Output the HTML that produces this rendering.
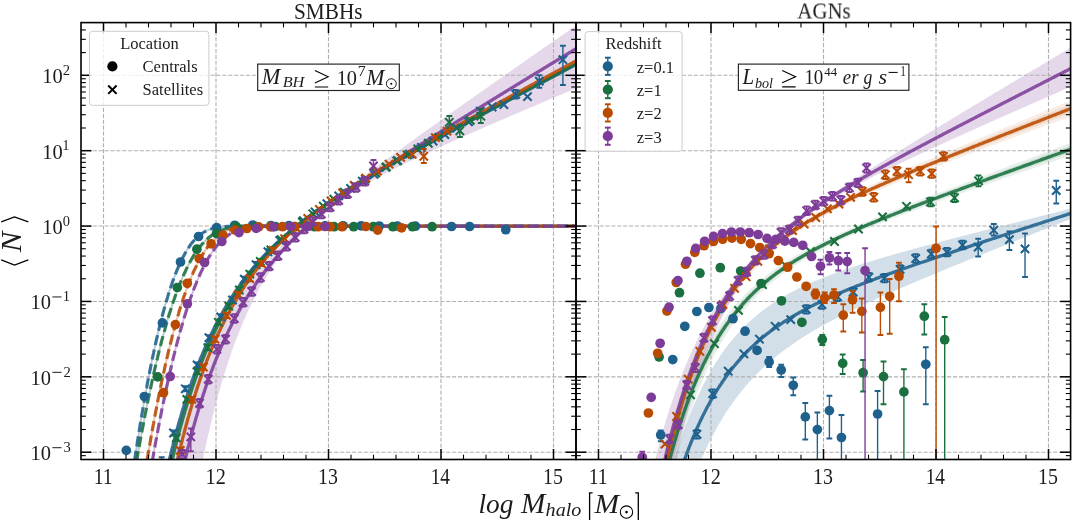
<!DOCTYPE html>
<html><head><meta charset="utf-8"><style>
html,body{margin:0;padding:0;background:#fff;}
body{width:1075px;height:520px;overflow:hidden;font-family:"Liberation Serif", serif;}
svg{display:block;will-change:transform;}
</style></head><body><svg width="1075" height="520" viewBox="0 0 1075 520"><svg x="81.0" y="22.6" width="495.00" height="436.90" viewBox="81.0 22.6 495.00 436.90" overflow="hidden"><path d="M150.0,540.3 L151.4,533.1 L152.8,526.0 L154.3,519.1 L155.7,512.4 L157.1,505.8 L158.5,499.4 L160.0,493.2 L161.4,487.1 L162.8,481.1 L164.2,475.3 L165.7,469.6 L167.1,464.1 L168.5,458.7 L169.9,453.4 L171.4,448.3 L172.8,443.2 L174.2,438.3 L175.6,433.5 L177.1,428.8 L178.5,424.2 L179.9,419.7 L181.3,415.4 L182.8,411.1 L184.2,406.9 L185.6,402.8 L187.0,398.8 L188.5,394.8 L189.9,391.0 L191.3,387.2 L192.7,383.6 L194.2,380.0 L195.6,376.4 L197.0,373.0 L198.4,369.6 L199.9,366.3 L201.3,363.0 L202.7,359.8 L204.1,356.7 L205.6,353.7 L207.0,350.7 L208.4,347.7 L209.8,344.8 L211.3,342.0 L212.7,339.2 L214.1,336.5 L215.5,333.8 L217.0,331.2 L218.4,328.6 L219.8,326.1 L221.2,323.6 L222.7,321.1 L224.1,318.7 L225.5,316.3 L226.9,314.0 L228.4,311.7 L229.8,309.5 L231.2,307.2 L232.6,305.1 L234.1,302.9 L235.5,300.8 L236.9,298.7 L238.3,296.7 L239.8,294.7 L241.2,292.7 L242.6,290.7 L244.0,288.8 L245.5,286.9 L246.9,285.0 L248.3,283.1 L249.7,281.3 L251.2,279.5 L252.6,277.7 L254.0,275.9 L255.4,274.2 L256.9,272.5 L258.3,270.8 L259.7,269.1 L261.1,267.5 L262.6,265.8 L264.0,264.2 L265.4,262.6 L266.8,261.0 L268.3,259.4 L269.7,257.9 L271.1,256.4 L272.5,254.8 L274.0,253.3 L275.4,251.9 L276.8,250.4 L278.2,248.9 L279.7,247.5 L281.1,246.0 L282.5,244.6 L283.9,243.2 L285.4,241.8 L286.8,240.4 L288.2,239.0 L289.6,237.7 L291.1,236.3 L292.5,235.0 L293.9,233.7 L295.3,232.3 L296.7,231.0 L298.2,229.7 L299.6,228.4 L301.0,227.1 L302.4,225.9 L303.9,224.6 L305.3,223.3 L306.7,222.1 L308.1,220.8 L309.6,219.6 L311.0,218.3 L312.4,217.1 L313.8,215.9 L315.3,214.7 L316.7,213.5 L318.1,212.3 L319.5,211.1 L321.0,209.9 L322.4,208.7 L323.8,207.5 L325.2,206.4 L326.7,205.2 L328.1,204.0 L329.5,202.9 L330.9,201.7 L332.4,200.6 L333.8,199.4 L335.2,198.3 L336.6,197.2 L338.1,196.0 L339.5,194.9 L340.9,193.8 L342.3,192.7 L343.8,191.5 L345.2,190.4 L346.6,189.3 L348.0,188.2 L349.5,187.1 L350.9,186.0 L352.3,184.9 L353.7,183.8 L355.2,182.7 L356.6,181.6 L358.0,180.6 L359.4,179.5 L360.9,178.4 L362.3,177.3 L363.7,176.2 L365.1,175.2 L366.6,174.1 L368.0,173.0 L369.4,172.0 L370.8,170.9 L372.3,169.8 L373.7,168.8 L375.1,167.7 L376.5,166.7 L378.0,165.6 L379.4,164.6 L380.8,163.5 L382.2,162.5 L383.7,161.4 L385.1,160.4 L386.5,159.3 L387.9,158.3 L389.4,157.2 L390.8,156.2 L392.2,155.1 L393.6,154.1 L395.1,153.1 L396.5,152.0 L397.9,151.0 L399.3,150.0 L400.8,148.9 L402.2,147.9 L403.6,146.9 L405.0,145.9 L406.5,144.8 L407.9,143.8 L409.3,142.8 L410.7,141.7 L412.2,140.7 L413.6,139.7 L415.0,138.7 L416.4,137.7 L417.9,136.6 L419.3,135.6 L420.7,134.6 L422.1,133.6 L423.6,132.6 L425.0,131.5 L426.4,130.5 L427.8,129.5 L429.3,128.5 L430.7,127.5 L432.1,126.5 L433.5,125.5 L434.9,124.4 L436.4,123.4 L437.8,122.4 L439.2,121.4 L440.6,120.4 L442.1,119.4 L443.5,118.4 L444.9,117.4 L446.3,116.4 L447.8,115.3 L449.2,114.3 L450.6,113.3 L452.0,112.3 L453.5,111.3 L454.9,110.3 L456.3,109.3 L457.7,108.3 L459.2,107.3 L460.6,106.3 L462.0,105.3 L463.4,104.3 L464.9,103.3 L466.3,102.3 L467.7,101.3 L469.1,100.3 L470.6,99.3 L472.0,98.3 L473.4,97.3 L474.8,96.3 L476.3,95.2 L477.7,94.2 L479.1,93.2 L480.5,92.2 L482.0,91.2 L483.4,90.2 L484.8,89.2 L486.2,88.2 L487.7,87.2 L489.1,86.2 L490.5,85.2 L491.9,84.2 L493.4,83.2 L494.8,82.2 L496.2,81.2 L497.6,80.2 L499.1,79.2 L500.5,78.2 L501.9,77.2 L503.3,76.2 L504.8,75.2 L506.2,74.3 L507.6,73.3 L509.0,72.3 L510.5,71.3 L511.9,70.3 L513.3,69.3 L514.7,68.3 L516.2,67.3 L517.6,66.3 L519.0,65.3 L520.4,64.3 L521.9,63.3 L523.3,62.3 L524.7,61.3 L526.1,60.3 L527.6,59.3 L529.0,58.3 L530.4,57.3 L531.8,56.3 L533.3,55.3 L534.7,54.3 L536.1,53.3 L537.5,52.3 L539.0,51.3 L540.4,50.3 L541.8,49.3 L543.2,48.3 L544.7,47.3 L546.1,46.3 L547.5,45.3 L548.9,44.3 L550.4,43.3 L551.8,42.4 L553.2,41.4 L554.6,40.4 L556.1,39.4 L557.5,38.4 L558.9,37.4 L560.3,36.4 L561.8,35.4 L563.2,34.4 L564.6,33.4 L566.0,32.4 L567.5,31.4 L568.9,30.4 L570.3,29.4 L571.7,28.4 L573.2,27.4 L574.6,26.4 L576.0,25.4 L576.0,88.3 L574.6,88.9 L573.2,89.5 L571.7,90.1 L570.3,90.7 L568.9,91.3 L567.5,91.9 L566.0,92.5 L564.6,93.1 L563.2,93.7 L561.8,94.3 L560.3,94.9 L558.9,95.5 L557.5,96.1 L556.1,96.7 L554.6,97.3 L553.2,97.9 L551.8,98.5 L550.4,99.1 L548.9,99.7 L547.5,100.3 L546.1,100.9 L544.7,101.5 L543.2,102.1 L541.8,102.8 L540.4,103.4 L539.0,104.0 L537.5,104.6 L536.1,105.2 L534.7,105.8 L533.3,106.4 L531.8,107.0 L530.4,107.6 L529.0,108.2 L527.6,108.8 L526.1,109.4 L524.7,110.0 L523.3,110.6 L521.9,111.2 L520.4,111.9 L519.0,112.5 L517.6,113.1 L516.2,113.7 L514.7,114.3 L513.3,114.9 L511.9,115.5 L510.5,116.1 L509.0,116.7 L507.6,117.3 L506.2,118.0 L504.8,118.6 L503.3,119.2 L501.9,119.8 L500.5,120.4 L499.1,121.0 L497.6,121.6 L496.2,122.3 L494.8,122.9 L493.4,123.5 L491.9,124.1 L490.5,124.7 L489.1,125.3 L487.7,126.0 L486.2,126.6 L484.8,127.2 L483.4,127.8 L482.0,128.4 L480.5,129.0 L479.1,129.7 L477.7,130.3 L476.3,130.9 L474.8,131.5 L473.4,132.2 L472.0,132.8 L470.6,133.4 L469.1,134.0 L467.7,134.7 L466.3,135.3 L464.9,135.9 L463.4,136.5 L462.0,137.2 L460.6,137.8 L459.2,138.4 L457.7,139.1 L456.3,139.7 L454.9,140.3 L453.5,141.0 L452.0,141.6 L450.6,142.2 L449.2,142.9 L447.8,143.5 L446.3,144.2 L444.9,144.8 L443.5,145.5 L442.1,146.1 L440.6,146.7 L439.2,147.4 L437.8,148.0 L436.4,148.7 L434.9,149.4 L433.5,150.0 L432.1,150.7 L430.7,151.3 L429.3,152.0 L427.8,152.6 L426.4,153.3 L425.0,154.0 L423.6,154.6 L422.1,155.3 L420.7,156.0 L419.3,156.6 L417.9,157.3 L416.4,158.0 L415.0,158.7 L413.6,159.4 L412.2,160.0 L410.7,160.7 L409.3,161.4 L407.9,162.1 L406.5,162.8 L405.0,163.5 L403.6,164.2 L402.2,164.9 L400.8,165.6 L399.3,166.3 L397.9,167.0 L396.5,167.8 L395.1,168.5 L393.6,169.2 L392.2,169.9 L390.8,170.7 L389.4,171.4 L387.9,172.1 L386.5,172.9 L385.1,173.6 L383.7,174.4 L382.2,175.1 L380.8,175.9 L379.4,176.7 L378.0,177.4 L376.5,178.2 L375.1,179.0 L373.7,179.8 L372.3,180.6 L370.8,181.4 L369.4,182.2 L368.0,183.0 L366.6,183.8 L365.1,184.6 L363.7,185.4 L362.3,186.3 L360.9,187.1 L359.4,188.0 L358.0,188.8 L356.6,189.7 L355.2,190.5 L353.7,191.4 L352.3,192.3 L350.9,193.2 L349.5,194.1 L348.0,195.0 L346.6,196.0 L345.2,196.9 L343.8,197.8 L342.3,198.8 L340.9,199.8 L339.5,200.7 L338.1,201.7 L336.6,202.7 L335.2,203.7 L333.8,204.7 L332.4,205.8 L330.9,206.8 L329.5,207.9 L328.1,209.0 L326.7,210.0 L325.2,211.1 L323.8,212.3 L322.4,213.4 L321.0,214.5 L319.5,215.7 L318.1,216.9 L316.7,218.1 L315.3,219.3 L313.8,220.5 L312.4,221.8 L311.0,223.1 L309.6,224.4 L308.1,225.7 L306.7,227.0 L305.3,228.4 L303.9,229.7 L302.4,231.1 L301.0,232.6 L299.6,234.0 L298.2,235.5 L296.7,237.0 L295.3,238.5 L293.9,240.1 L292.5,241.7 L291.1,243.3 L289.6,244.9 L288.2,246.6 L286.8,248.3 L285.4,250.0 L283.9,251.8 L282.5,253.6 L281.1,255.4 L279.7,257.3 L278.2,259.2 L276.8,261.2 L275.4,263.2 L274.0,265.2 L272.5,267.3 L271.1,269.4 L269.7,271.6 L268.3,273.8 L266.8,276.1 L265.4,278.4 L264.0,280.7 L262.6,283.2 L261.1,285.6 L259.7,288.1 L258.3,290.7 L256.9,293.4 L255.4,296.1 L254.0,298.8 L252.6,301.6 L251.2,304.5 L249.7,307.5 L248.3,310.5 L246.9,313.6 L245.5,316.8 L244.0,320.0 L242.6,323.4 L241.2,326.8 L239.8,330.3 L238.3,333.9 L236.9,337.5 L235.5,341.3 L234.1,345.1 L232.6,349.1 L231.2,353.1 L229.8,357.3 L228.4,361.5 L226.9,365.9 L225.5,370.4 L224.1,374.9 L222.7,379.6 L221.2,384.5 L219.8,389.4 L218.4,394.5 L217.0,399.7 L215.5,405.1 L214.1,410.5 L212.7,416.2 L211.3,422.0 L209.8,427.9 L208.4,434.0 L207.0,440.3 L205.6,446.7 L204.1,453.3 L202.7,460.1 L201.3,467.0 L199.9,474.2 L198.4,481.5 L197.0,489.0 L195.6,496.8 L194.2,504.7 L192.7,512.9 L191.3,521.3 L189.9,529.9 L188.5,538.8 L187.0,547.9 L185.6,557.3 L184.2,566.9 L182.8,576.8 L181.3,586.9 L179.9,597.4 L178.5,600.0 L177.1,600.0 L175.6,600.0 L174.2,600.0 L172.8,600.0 L171.4,600.0 L169.9,600.0 L168.5,600.0 L167.1,600.0 L165.7,600.0 L164.2,600.0 L162.8,600.0 L161.4,600.0 L160.0,600.0 L158.5,600.0 L157.1,600.0 L155.7,600.0 L154.3,600.0 L152.8,600.0 L151.4,600.0 L150.0,600.0 Z" fill="#7d3c98" fill-opacity="0.2"/></svg><svg x="576.0" y="22.6" width="494.60" height="436.90" viewBox="576.0 22.6 494.60 436.90" overflow="hidden"><path d="M650.0,565.4 L651.4,557.9 L652.8,550.6 L654.2,543.5 L655.6,536.6 L657.0,529.9 L658.4,523.3 L659.9,517.0 L661.3,510.8 L662.7,504.7 L664.1,498.9 L665.5,493.1 L666.9,487.6 L668.3,482.2 L669.7,476.9 L671.1,471.8 L672.5,466.8 L673.9,461.9 L675.3,457.2 L676.8,452.6 L678.2,448.1 L679.6,443.7 L681.0,439.4 L682.4,435.3 L683.8,431.3 L685.2,427.3 L686.6,423.5 L688.0,419.8 L689.4,416.1 L690.8,412.6 L692.2,409.1 L693.6,405.8 L695.1,402.5 L696.5,399.3 L697.9,396.2 L699.3,393.1 L700.7,390.2 L702.1,387.3 L703.5,384.5 L704.9,381.7 L706.3,379.1 L707.7,376.5 L709.1,373.9 L710.5,371.4 L712.0,369.0 L713.4,366.6 L714.8,364.3 L716.2,362.1 L717.6,359.9 L719.0,357.7 L720.4,355.6 L721.8,353.6 L723.2,351.6 L724.6,349.6 L726.0,347.7 L727.4,345.9 L728.8,344.1 L730.3,342.3 L731.7,340.6 L733.1,338.9 L734.5,337.2 L735.9,335.6 L737.3,334.0 L738.7,332.4 L740.1,330.9 L741.5,329.4 L742.9,328.0 L744.3,326.6 L745.7,325.2 L747.2,323.8 L748.6,322.5 L750.0,321.2 L751.4,319.9 L752.8,318.7 L754.2,317.4 L755.6,316.2 L757.0,315.1 L758.4,313.9 L759.8,312.8 L761.2,311.7 L762.6,310.6 L764.1,309.5 L765.5,308.5 L766.9,307.5 L768.3,306.5 L769.7,305.5 L771.1,304.5 L772.5,303.5 L773.9,302.6 L775.3,301.7 L776.7,300.8 L778.1,299.9 L779.5,299.0 L780.9,298.2 L782.4,297.3 L783.8,296.5 L785.2,295.7 L786.6,294.9 L788.0,294.1 L789.4,293.3 L790.8,292.6 L792.2,291.8 L793.6,291.1 L795.0,290.3 L796.4,289.6 L797.8,288.9 L799.3,288.2 L800.7,287.5 L802.1,286.9 L803.5,286.2 L804.9,285.5 L806.3,284.9 L807.7,284.2 L809.1,283.6 L810.5,283.0 L811.9,282.3 L813.3,281.7 L814.7,281.1 L816.1,280.5 L817.6,279.9 L819.0,279.4 L820.4,278.8 L821.8,278.2 L823.2,277.6 L824.6,277.1 L826.0,276.5 L827.4,276.0 L828.8,275.4 L830.2,274.9 L831.6,274.4 L833.0,273.9 L834.5,273.3 L835.9,272.8 L837.3,272.3 L838.7,271.8 L840.1,271.3 L841.5,270.8 L842.9,270.3 L844.3,269.8 L845.7,269.3 L847.1,268.9 L848.5,268.4 L849.9,267.9 L851.3,267.4 L852.8,267.0 L854.2,266.5 L855.6,266.0 L857.0,265.6 L858.4,265.1 L859.8,264.7 L861.2,264.2 L862.6,263.8 L864.0,263.3 L865.4,262.9 L866.8,262.5 L868.2,262.0 L869.7,261.6 L871.1,261.2 L872.5,260.7 L873.9,260.3 L875.3,259.9 L876.7,259.5 L878.1,259.0 L879.5,258.6 L880.9,258.2 L882.3,257.8 L883.7,257.4 L885.1,257.0 L886.5,256.5 L888.0,256.1 L889.4,255.7 L890.8,255.3 L892.2,254.9 L893.6,254.5 L895.0,254.1 L896.4,253.7 L897.8,253.3 L899.2,252.9 L900.6,252.5 L902.0,252.1 L903.4,251.7 L904.9,251.4 L906.3,251.0 L907.7,250.6 L909.1,250.2 L910.5,249.8 L911.9,249.4 L913.3,249.0 L914.7,248.6 L916.1,248.3 L917.5,247.9 L918.9,247.5 L920.3,247.1 L921.7,246.7 L923.2,246.4 L924.6,246.0 L926.0,245.6 L927.4,245.2 L928.8,244.9 L930.2,244.5 L931.6,244.1 L933.0,243.7 L934.4,243.4 L935.8,243.0 L937.2,242.6 L938.6,242.2 L940.1,241.9 L941.5,241.5 L942.9,241.1 L944.3,240.8 L945.7,240.4 L947.1,240.0 L948.5,239.7 L949.9,239.3 L951.3,238.9 L952.7,238.6 L954.1,238.2 L955.5,237.8 L956.9,237.5 L958.4,237.1 L959.8,236.7 L961.2,236.4 L962.6,236.0 L964.0,235.6 L965.4,235.3 L966.8,234.9 L968.2,234.5 L969.6,234.2 L971.0,233.8 L972.4,233.5 L973.8,233.1 L975.3,232.7 L976.7,232.4 L978.1,232.0 L979.5,231.7 L980.9,231.3 L982.3,230.9 L983.7,230.6 L985.1,230.2 L986.5,229.9 L987.9,229.5 L989.3,229.1 L990.7,228.8 L992.2,228.4 L993.6,228.1 L995.0,227.7 L996.4,227.4 L997.8,227.0 L999.2,226.6 L1000.6,226.3 L1002.0,225.9 L1003.4,225.6 L1004.8,225.2 L1006.2,224.9 L1007.6,224.5 L1009.0,224.1 L1010.5,223.8 L1011.9,223.4 L1013.3,223.1 L1014.7,222.7 L1016.1,222.4 L1017.5,222.0 L1018.9,221.7 L1020.3,221.3 L1021.7,220.9 L1023.1,220.6 L1024.5,220.2 L1025.9,219.9 L1027.4,219.5 L1028.8,219.2 L1030.2,218.8 L1031.6,218.5 L1033.0,218.1 L1034.4,217.8 L1035.8,217.4 L1037.2,217.0 L1038.6,216.7 L1040.0,216.3 L1041.4,216.0 L1042.8,215.6 L1044.2,215.3 L1045.7,214.9 L1047.1,214.6 L1048.5,214.2 L1049.9,213.9 L1051.3,213.5 L1052.7,213.2 L1054.1,212.8 L1055.5,212.4 L1056.9,212.1 L1058.3,211.7 L1059.7,211.4 L1061.1,211.0 L1062.6,210.7 L1064.0,210.3 L1065.4,210.0 L1066.8,209.6 L1068.2,209.3 L1069.6,208.9 L1071.0,208.6 L1071.0,218.7 L1069.6,219.3 L1068.2,219.9 L1066.8,220.4 L1065.4,221.0 L1064.0,221.6 L1062.6,222.1 L1061.1,222.7 L1059.7,223.2 L1058.3,223.8 L1056.9,224.4 L1055.5,224.9 L1054.1,225.5 L1052.7,226.1 L1051.3,226.6 L1049.9,227.2 L1048.5,227.8 L1047.1,228.3 L1045.7,228.9 L1044.2,229.4 L1042.8,230.0 L1041.4,230.6 L1040.0,231.1 L1038.6,231.7 L1037.2,232.3 L1035.8,232.8 L1034.4,233.4 L1033.0,234.0 L1031.6,234.5 L1030.2,235.1 L1028.8,235.7 L1027.4,236.2 L1025.9,236.8 L1024.5,237.3 L1023.1,237.9 L1021.7,238.5 L1020.3,239.0 L1018.9,239.6 L1017.5,240.2 L1016.1,240.7 L1014.7,241.3 L1013.3,241.9 L1011.9,242.4 L1010.5,243.0 L1009.0,243.6 L1007.6,244.1 L1006.2,244.7 L1004.8,245.3 L1003.4,245.8 L1002.0,246.4 L1000.6,247.0 L999.2,247.5 L997.8,248.1 L996.4,248.7 L995.0,249.2 L993.6,249.8 L992.2,250.4 L990.7,251.0 L989.3,251.5 L987.9,252.1 L986.5,252.7 L985.1,253.2 L983.7,253.8 L982.3,254.4 L980.9,254.9 L979.5,255.5 L978.1,256.1 L976.7,256.7 L975.3,257.2 L973.8,257.8 L972.4,258.4 L971.0,258.9 L969.6,259.5 L968.2,260.1 L966.8,260.7 L965.4,261.2 L964.0,261.8 L962.6,262.4 L961.2,263.0 L959.8,263.5 L958.4,264.1 L956.9,264.7 L955.5,265.3 L954.1,265.8 L952.7,266.4 L951.3,267.0 L949.9,267.6 L948.5,268.1 L947.1,268.7 L945.7,269.3 L944.3,269.9 L942.9,270.5 L941.5,271.0 L940.1,271.6 L938.6,272.2 L937.2,272.8 L935.8,273.4 L934.4,274.0 L933.0,274.5 L931.6,275.1 L930.2,275.7 L928.8,276.3 L927.4,276.9 L926.0,277.5 L924.6,278.1 L923.2,278.7 L921.7,279.2 L920.3,279.8 L918.9,280.4 L917.5,281.0 L916.1,281.6 L914.7,282.2 L913.3,282.8 L911.9,283.4 L910.5,284.0 L909.1,284.6 L907.7,285.2 L906.3,285.8 L904.9,286.4 L903.4,287.0 L902.0,287.6 L900.6,288.2 L899.2,288.8 L897.8,289.4 L896.4,290.1 L895.0,290.7 L893.6,291.3 L892.2,291.9 L890.8,292.5 L889.4,293.1 L888.0,293.8 L886.5,294.4 L885.1,295.0 L883.7,295.6 L882.3,296.2 L880.9,296.9 L879.5,297.5 L878.1,298.1 L876.7,298.8 L875.3,299.4 L873.9,300.1 L872.5,300.7 L871.1,301.3 L869.7,302.0 L868.2,302.6 L866.8,303.3 L865.4,303.9 L864.0,304.6 L862.6,305.3 L861.2,305.9 L859.8,306.6 L858.4,307.2 L857.0,307.9 L855.6,308.6 L854.2,309.3 L852.8,310.0 L851.3,310.6 L849.9,311.3 L848.5,312.0 L847.1,312.7 L845.7,313.4 L844.3,314.1 L842.9,314.8 L841.5,315.5 L840.1,316.3 L838.7,317.0 L837.3,317.7 L835.9,318.4 L834.5,319.2 L833.0,319.9 L831.6,320.7 L830.2,321.4 L828.8,322.2 L827.4,322.9 L826.0,323.7 L824.6,324.5 L823.2,325.2 L821.8,326.0 L820.4,326.8 L819.0,327.6 L817.6,328.4 L816.1,329.2 L814.7,330.1 L813.3,330.9 L811.9,331.7 L810.5,332.6 L809.1,333.4 L807.7,334.3 L806.3,335.2 L804.9,336.0 L803.5,336.9 L802.1,337.8 L800.7,338.7 L799.3,339.7 L797.8,340.6 L796.4,341.5 L795.0,342.5 L793.6,343.4 L792.2,344.4 L790.8,345.4 L789.4,346.4 L788.0,347.4 L786.6,348.4 L785.2,349.5 L783.8,350.5 L782.4,351.6 L780.9,352.7 L779.5,353.8 L778.1,354.9 L776.7,356.0 L775.3,357.2 L773.9,358.3 L772.5,359.5 L771.1,360.7 L769.7,361.9 L768.3,363.2 L766.9,364.4 L765.5,365.7 L764.1,367.0 L762.6,368.3 L761.2,369.6 L759.8,371.0 L758.4,372.4 L757.0,373.8 L755.6,375.2 L754.2,376.7 L752.8,378.2 L751.4,379.7 L750.0,381.2 L748.6,382.8 L747.2,384.4 L745.7,386.0 L744.3,387.7 L742.9,389.4 L741.5,391.1 L740.1,392.9 L738.7,394.7 L737.3,396.5 L735.9,398.4 L734.5,400.3 L733.1,402.2 L731.7,404.2 L730.3,406.2 L728.8,408.3 L727.4,410.4 L726.0,412.6 L724.6,414.8 L723.2,417.0 L721.8,419.4 L720.4,421.7 L719.0,424.1 L717.6,426.6 L716.2,429.1 L714.8,431.7 L713.4,434.3 L712.0,437.0 L710.5,439.8 L709.1,442.6 L707.7,445.5 L706.3,448.4 L704.9,451.4 L703.5,454.5 L702.1,457.7 L700.7,461.0 L699.3,464.3 L697.9,467.7 L696.5,471.2 L695.1,474.8 L693.6,478.4 L692.2,482.2 L690.8,486.0 L689.4,490.0 L688.0,494.0 L686.6,498.2 L685.2,502.4 L683.8,506.8 L682.4,511.2 L681.0,515.8 L679.6,520.5 L678.2,525.3 L676.8,530.3 L675.3,535.4 L673.9,540.6 L672.5,545.9 L671.1,551.4 L669.7,557.0 L668.3,562.8 L666.9,568.7 L665.5,574.8 L664.1,581.0 L662.7,587.5 L661.3,594.0 L659.9,600.0 L658.4,600.0 L657.0,600.0 L655.6,600.0 L654.2,600.0 L652.8,600.0 L651.4,600.0 L650.0,600.0 Z" fill="#1f618d" fill-opacity="0.2"/><path d="M666.3,501.2 L667.7,495.0 L669.0,489.1 L670.4,483.3 L671.7,477.6 L673.1,472.1 L674.4,466.8 L675.8,461.6 L677.1,456.5 L678.4,451.5 L679.8,446.7 L681.1,441.9 L682.5,437.3 L683.8,432.9 L685.1,428.5 L686.5,424.2 L687.8,420.1 L689.2,416.0 L690.5,412.1 L691.8,408.2 L693.2,404.4 L694.5,400.8 L695.8,397.2 L697.2,393.7 L698.5,390.3 L699.8,387.0 L701.2,383.7 L702.5,380.5 L703.8,377.4 L705.2,374.4 L706.5,371.5 L707.8,368.6 L709.2,365.8 L710.5,363.0 L711.8,360.3 L713.2,357.7 L714.5,355.2 L715.8,352.7 L717.1,350.2 L718.5,347.8 L719.8,345.5 L721.1,343.2 L722.5,340.9 L723.8,338.8 L725.1,336.6 L726.4,334.5 L727.8,332.5 L729.1,330.5 L730.4,328.5 L731.7,326.6 L733.0,324.7 L734.4,322.8 L735.7,321.0 L737.0,319.2 L738.3,317.5 L739.7,315.8 L741.0,314.1 L742.3,312.5 L743.6,310.9 L744.9,309.3 L746.3,307.8 L747.6,306.2 L748.9,304.8 L750.2,303.3 L751.6,301.9 L752.9,300.4 L754.2,299.1 L755.5,297.7 L756.9,296.4 L758.2,295.0 L759.5,293.8 L760.8,292.5 L762.2,291.2 L763.5,290.0 L764.8,288.8 L766.1,287.6 L767.5,286.4 L768.8,285.3 L770.1,284.1 L771.5,283.0 L772.8,281.9 L774.1,280.8 L775.5,279.8 L776.8,278.7 L778.1,277.7 L779.5,276.6 L780.8,275.6 L782.1,274.6 L783.5,273.6 L784.8,272.7 L786.1,271.7 L787.5,270.8 L788.8,269.8 L790.2,268.9 L791.5,268.0 L792.8,267.1 L794.2,266.2 L795.5,265.3 L796.9,264.4 L798.2,263.6 L799.5,262.7 L800.9,261.9 L802.2,261.0 L803.6,260.2 L804.9,259.4 L806.3,258.6 L807.6,257.8 L809.0,257.0 L810.3,256.2 L811.7,255.4 L813.0,254.7 L814.4,253.9 L815.7,253.1 L817.1,252.4 L818.4,251.6 L819.8,250.9 L821.1,250.2 L822.5,249.4 L823.8,248.7 L825.2,248.0 L826.5,247.3 L827.9,246.6 L829.2,245.9 L830.6,245.2 L831.9,244.5 L833.3,243.8 L834.6,243.2 L836.0,242.5 L837.3,241.8 L838.7,241.1 L840.1,240.5 L841.4,239.8 L842.8,239.2 L844.2,238.6 L845.5,238.0 L846.9,237.4 L848.3,236.8 L849.7,236.1 L851.0,235.6 L852.4,235.0 L853.8,234.4 L855.1,233.8 L856.5,233.2 L857.9,232.6 L859.3,232.0 L860.6,231.4 L862.0,230.9 L863.4,230.3 L864.8,229.7 L866.1,229.2 L867.5,228.6 L868.9,228.0 L870.3,227.5 L871.6,226.9 L873.0,226.4 L874.4,225.8 L875.8,225.2 L877.1,224.7 L878.5,224.1 L879.9,223.6 L881.3,223.1 L882.6,222.5 L884.0,222.0 L885.4,221.4 L886.8,220.9 L888.1,220.4 L889.5,219.8 L890.9,219.3 L892.3,218.8 L893.6,218.2 L895.0,217.7 L896.4,217.2 L897.8,216.6 L899.1,216.1 L900.5,215.6 L901.9,215.1 L903.3,214.5 L904.6,214.0 L906.0,213.5 L907.4,213.0 L908.8,212.5 L910.2,211.9 L911.5,211.4 L912.9,210.9 L914.3,210.4 L915.7,209.9 L917.0,209.4 L918.4,208.9 L919.8,208.4 L921.2,207.8 L922.5,207.3 L923.9,206.8 L925.3,206.3 L926.7,205.8 L928.0,205.3 L929.4,204.8 L930.8,204.3 L932.2,203.8 L933.6,203.3 L934.9,202.8 L936.3,202.3 L937.7,201.8 L939.1,201.3 L940.4,200.8 L941.8,200.3 L943.2,199.8 L944.6,199.3 L946.0,198.8 L947.3,198.3 L948.7,197.8 L950.1,197.3 L951.5,196.8 L952.8,196.3 L954.2,195.8 L955.6,195.3 L957.0,194.8 L958.4,194.3 L959.7,193.8 L961.1,193.3 L962.5,192.8 L963.9,192.4 L965.2,191.9 L966.6,191.4 L968.0,190.9 L969.4,190.4 L970.8,189.9 L972.2,189.5 L973.5,189.0 L974.9,188.5 L976.3,188.0 L977.7,187.5 L979.1,187.1 L980.4,186.6 L981.8,186.1 L983.2,185.6 L984.6,185.1 L986.0,184.7 L987.4,184.2 L988.7,183.7 L990.1,183.2 L991.5,182.7 L992.9,182.3 L994.3,181.8 L995.6,181.3 L997.0,180.8 L998.4,180.4 L999.8,179.9 L1001.2,179.4 L1002.6,178.9 L1003.9,178.4 L1005.3,178.0 L1006.7,177.5 L1008.1,177.0 L1009.5,176.5 L1010.8,176.1 L1012.2,175.6 L1013.6,175.1 L1015.0,174.6 L1016.4,174.2 L1017.8,173.7 L1019.1,173.2 L1020.5,172.7 L1021.9,172.3 L1023.3,171.8 L1024.7,171.3 L1026.0,170.8 L1027.4,170.4 L1028.8,169.9 L1030.2,169.4 L1031.6,168.9 L1033.0,168.5 L1034.3,168.0 L1035.7,167.5 L1037.1,167.0 L1038.5,166.6 L1039.9,166.1 L1041.2,165.6 L1042.6,165.1 L1044.0,164.7 L1045.4,164.2 L1046.8,163.7 L1048.2,163.2 L1049.5,162.8 L1050.9,162.3 L1052.3,161.8 L1053.7,161.3 L1055.1,160.9 L1056.4,160.4 L1057.8,159.9 L1059.2,159.5 L1060.6,159.0 L1062.0,158.5 L1063.4,158.0 L1064.7,157.6 L1066.1,157.1 L1067.5,156.6 L1068.9,156.1 L1070.3,155.7 L1071.6,155.2 L1073.0,154.7 L1069.0,143.4 L1067.6,143.9 L1066.2,144.5 L1064.9,145.0 L1063.5,145.5 L1062.1,146.0 L1060.8,146.5 L1059.4,147.0 L1058.0,147.6 L1056.7,148.1 L1055.3,148.6 L1053.9,149.1 L1052.6,149.6 L1051.2,150.1 L1049.8,150.6 L1048.5,151.2 L1047.1,151.7 L1045.7,152.2 L1044.4,152.7 L1043.0,153.2 L1041.6,153.7 L1040.3,154.3 L1038.9,154.8 L1037.5,155.3 L1036.2,155.8 L1034.8,156.3 L1033.4,156.8 L1032.1,157.4 L1030.7,157.9 L1029.3,158.4 L1028.0,158.9 L1026.6,159.4 L1025.2,159.9 L1023.9,160.5 L1022.5,161.0 L1021.1,161.5 L1019.8,162.0 L1018.4,162.5 L1017.0,163.0 L1015.6,163.6 L1014.3,164.1 L1012.9,164.6 L1011.5,165.1 L1010.2,165.6 L1008.8,166.1 L1007.4,166.7 L1006.1,167.2 L1004.7,167.7 L1003.3,168.2 L1002.0,168.7 L1000.6,169.3 L999.2,169.8 L997.9,170.3 L996.5,170.8 L995.1,171.3 L993.8,171.9 L992.4,172.4 L991.0,172.9 L989.7,173.4 L988.3,173.9 L986.9,174.5 L985.6,175.0 L984.2,175.5 L982.8,176.0 L981.5,176.5 L980.1,177.1 L978.7,177.6 L977.4,178.1 L976.0,178.6 L974.6,179.2 L973.3,179.7 L971.9,180.2 L970.5,180.7 L969.2,181.2 L967.8,181.8 L966.4,182.3 L965.1,182.8 L963.7,183.3 L962.3,183.9 L960.9,184.4 L959.6,184.9 L958.2,185.4 L956.8,186.0 L955.5,186.5 L954.1,187.0 L952.7,187.5 L951.4,188.0 L950.0,188.5 L948.6,189.1 L947.2,189.6 L945.9,190.1 L944.5,190.6 L943.1,191.1 L941.8,191.7 L940.4,192.2 L939.0,192.7 L937.6,193.2 L936.3,193.8 L934.9,194.3 L933.5,194.8 L932.1,195.3 L930.8,195.9 L929.4,196.4 L928.0,196.9 L926.7,197.4 L925.3,198.0 L923.9,198.5 L922.5,199.0 L921.2,199.6 L919.8,200.1 L918.4,200.6 L917.1,201.1 L915.7,201.7 L914.3,202.2 L912.9,202.8 L911.6,203.3 L910.2,203.8 L908.8,204.4 L907.4,204.9 L906.1,205.4 L904.7,206.0 L903.3,206.5 L902.0,207.1 L900.6,207.6 L899.2,208.2 L897.8,208.7 L896.5,209.3 L895.1,209.8 L893.7,210.4 L892.3,210.9 L891.0,211.5 L889.6,212.0 L888.2,212.6 L886.9,213.1 L885.5,213.7 L884.1,214.2 L882.7,214.8 L881.4,215.4 L880.0,215.9 L878.6,216.5 L877.2,217.1 L875.9,217.6 L874.5,218.2 L873.1,218.8 L871.7,219.4 L870.4,219.9 L869.0,220.5 L867.6,221.1 L866.2,221.7 L864.9,222.3 L863.5,222.9 L862.1,223.5 L860.7,224.1 L859.4,224.7 L858.0,225.3 L856.6,225.9 L855.2,226.5 L853.9,227.1 L852.5,227.7 L851.1,228.3 L849.7,228.9 L848.4,229.6 L847.0,230.2 L845.6,230.8 L844.2,231.4 L842.9,232.1 L841.5,232.7 L840.1,233.4 L838.7,234.0 L837.3,234.6 L835.9,235.3 L834.5,235.9 L833.2,236.5 L831.8,237.1 L830.4,237.8 L829.0,238.4 L827.6,239.1 L826.2,239.7 L824.8,240.4 L823.4,241.1 L822.0,241.7 L820.6,242.4 L819.2,243.1 L817.8,243.8 L816.4,244.5 L815.0,245.2 L813.6,245.9 L812.2,246.6 L810.8,247.3 L809.4,248.1 L808.0,248.8 L806.6,249.6 L805.2,250.3 L803.8,251.1 L802.4,251.9 L801.0,252.6 L799.6,253.4 L798.2,254.2 L796.8,255.0 L795.4,255.9 L794.0,256.7 L792.6,257.5 L791.2,258.4 L789.7,259.2 L788.3,260.1 L786.9,261.0 L785.5,261.9 L784.1,262.8 L782.7,263.7 L781.3,264.7 L779.9,265.6 L778.5,266.6 L777.0,267.5 L775.6,268.5 L774.2,269.5 L772.8,270.6 L771.4,271.6 L770.0,272.7 L768.6,273.7 L767.1,274.8 L765.7,275.9 L764.3,277.0 L762.9,278.2 L761.5,279.3 L760.0,280.5 L758.6,281.7 L757.2,282.9 L755.8,284.2 L754.4,285.5 L752.9,286.7 L751.5,288.1 L750.1,289.4 L748.7,290.8 L747.2,292.1 L745.8,293.6 L744.4,295.0 L743.0,296.5 L741.5,298.0 L740.1,299.5 L738.7,301.0 L737.3,302.6 L735.8,304.2 L734.4,305.9 L733.0,307.6 L731.5,309.3 L730.1,311.0 L728.7,312.8 L727.3,314.6 L725.8,316.5 L724.4,318.4 L723.0,320.4 L721.6,322.3 L720.1,324.4 L718.7,326.4 L717.3,328.5 L715.9,330.7 L714.4,332.9 L713.0,335.2 L711.6,337.5 L710.2,339.8 L708.7,342.2 L707.3,344.7 L705.9,347.2 L704.5,349.8 L703.1,352.4 L701.6,355.1 L700.2,357.9 L698.8,360.7 L697.4,363.6 L696.0,366.6 L694.6,369.6 L693.1,372.7 L691.7,375.9 L690.3,379.1 L688.9,382.4 L687.5,385.8 L686.1,389.3 L684.6,392.9 L683.2,396.5 L681.8,400.3 L680.4,404.1 L679.0,408.1 L677.6,412.1 L676.2,416.2 L674.8,420.4 L673.4,424.8 L671.9,429.2 L670.5,433.8 L669.1,438.4 L667.7,443.2 L666.3,448.1 L664.9,453.1 L663.5,458.3 L662.1,463.6 L660.7,469.0 L659.3,474.6 L657.9,480.3 L656.5,486.2 L655.1,492.2 L653.7,498.3 Z" fill="#1a703f" fill-opacity="0.1"/><path d="M663.5,500.5 L664.8,494.4 L666.2,488.4 L667.6,482.6 L668.9,477.0 L670.3,471.4 L671.6,466.1 L673.0,460.8 L674.3,455.7 L675.7,450.7 L677.1,445.9 L678.4,441.1 L679.8,436.5 L681.1,432.0 L682.5,427.6 L683.8,423.4 L685.2,419.2 L686.5,415.1 L687.9,411.2 L689.3,407.3 L690.6,403.5 L692.0,399.8 L693.3,396.2 L694.7,392.7 L696.0,389.3 L697.4,385.9 L698.7,382.7 L700.1,379.5 L701.4,376.4 L702.8,373.3 L704.1,370.4 L705.5,367.5 L706.8,364.6 L708.2,361.9 L709.5,359.2 L710.9,356.5 L712.2,354.0 L713.6,351.4 L714.9,349.0 L716.3,346.6 L717.6,344.2 L719.0,341.9 L720.3,339.6 L721.7,337.4 L723.0,335.3 L724.4,333.2 L725.7,331.1 L727.1,329.1 L728.4,327.1 L729.8,325.2 L731.1,323.3 L732.4,321.4 L733.8,319.6 L735.1,317.8 L736.5,316.0 L737.8,314.3 L739.2,312.7 L740.5,311.0 L741.9,309.4 L743.2,307.8 L744.6,306.2 L745.9,304.7 L747.3,303.2 L748.6,301.8 L749.9,300.3 L751.3,298.9 L752.6,297.5 L754.0,296.1 L755.3,294.8 L756.7,293.5 L758.0,292.2 L759.4,290.9 L760.7,289.6 L762.1,288.4 L763.4,287.2 L764.8,286.0 L766.1,284.8 L767.5,283.7 L768.8,282.5 L770.2,281.4 L771.5,280.3 L772.9,279.2 L774.2,278.2 L775.6,277.1 L776.9,276.1 L778.3,275.0 L779.6,274.0 L781.0,273.0 L782.3,272.0 L783.7,271.1 L785.0,270.1 L786.4,269.2 L787.8,268.2 L789.1,267.3 L790.5,266.4 L791.8,265.5 L793.2,264.6 L794.5,263.7 L795.9,262.9 L797.2,262.0 L798.6,261.2 L800.0,260.3 L801.3,259.5 L802.7,258.7 L804.0,257.9 L805.4,257.1 L806.8,256.3 L808.1,255.5 L809.5,254.7 L810.8,253.9 L812.2,253.2 L813.6,252.4 L814.9,251.7 L816.3,250.9 L817.6,250.2 L819.0,249.5 L820.4,248.7 L821.7,248.0 L823.1,247.3 L824.4,246.6 L825.8,245.9 L827.2,245.2 L828.5,244.5 L829.9,243.8 L831.3,243.1 L832.6,242.5 L834.0,241.8 L835.4,241.1 L836.7,240.5 L838.1,239.8 L839.4,239.2 L840.8,238.5 L842.2,237.9 L843.6,237.3 L844.9,236.6 L846.3,236.0 L847.7,235.4 L849.1,234.8 L850.4,234.2 L851.8,233.6 L853.2,233.0 L854.5,232.4 L855.9,231.8 L857.3,231.2 L858.7,230.6 L860.0,230.1 L861.4,229.5 L862.8,228.9 L864.2,228.3 L865.5,227.7 L866.9,227.2 L868.3,226.6 L869.7,226.0 L871.0,225.5 L872.4,224.9 L873.8,224.4 L875.2,223.8 L876.5,223.2 L877.9,222.7 L879.3,222.1 L880.7,221.6 L882.0,221.0 L883.4,220.5 L884.8,219.9 L886.2,219.4 L887.5,218.9 L888.9,218.3 L890.3,217.8 L891.7,217.2 L893.0,216.7 L894.4,216.2 L895.8,215.6 L897.2,215.1 L898.5,214.6 L899.9,214.0 L901.3,213.5 L902.7,213.0 L904.0,212.5 L905.4,211.9 L906.8,211.4 L908.2,210.9 L909.5,210.4 L910.9,209.8 L912.3,209.3 L913.7,208.8 L915.0,208.3 L916.4,207.8 L917.8,207.2 L919.2,206.7 L920.5,206.2 L921.9,205.7 L923.3,205.2 L924.7,204.7 L926.1,204.2 L927.4,203.7 L928.8,203.1 L930.2,202.6 L931.6,202.1 L932.9,201.6 L934.3,201.1 L935.7,200.6 L937.1,200.1 L938.4,199.6 L939.8,199.1 L941.2,198.6 L942.6,198.1 L943.9,197.6 L945.3,197.1 L946.7,196.6 L948.1,196.1 L949.4,195.6 L950.8,195.1 L952.2,194.6 L953.6,194.1 L955.0,193.6 L956.3,193.1 L957.7,192.6 L959.1,192.1 L960.5,191.6 L961.8,191.1 L963.2,190.6 L964.6,190.1 L966.0,189.6 L967.3,189.1 L968.7,188.6 L970.1,188.1 L971.5,187.6 L972.9,187.1 L974.2,186.6 L975.6,186.1 L977.0,185.7 L978.4,185.2 L979.8,184.7 L981.1,184.2 L982.5,183.7 L983.9,183.2 L985.3,182.7 L986.6,182.2 L988.0,181.7 L989.4,181.3 L990.8,180.8 L992.2,180.3 L993.5,179.8 L994.9,179.3 L996.3,178.8 L997.7,178.3 L999.1,177.8 L1000.4,177.4 L1001.8,176.9 L1003.2,176.4 L1004.6,175.9 L1005.9,175.4 L1007.3,174.9 L1008.7,174.4 L1010.1,173.9 L1011.5,173.5 L1012.8,173.0 L1014.2,172.5 L1015.6,172.0 L1017.0,171.5 L1018.4,171.0 L1019.7,170.6 L1021.1,170.1 L1022.5,169.6 L1023.9,169.1 L1025.2,168.6 L1026.6,168.1 L1028.0,167.6 L1029.4,167.2 L1030.8,166.7 L1032.1,166.2 L1033.5,165.7 L1034.9,165.2 L1036.3,164.7 L1037.7,164.3 L1039.0,163.8 L1040.4,163.3 L1041.8,162.8 L1043.2,162.3 L1044.5,161.8 L1045.9,161.4 L1047.3,160.9 L1048.7,160.4 L1050.1,159.9 L1051.4,159.4 L1052.8,158.9 L1054.2,158.5 L1055.6,158.0 L1057.0,157.5 L1058.3,157.0 L1059.7,156.5 L1061.1,156.0 L1062.5,155.6 L1063.8,155.1 L1065.2,154.6 L1066.6,154.1 L1068.0,153.6 L1069.4,153.1 L1070.7,152.7 L1072.1,152.2 L1069.9,146.0 L1068.5,146.5 L1067.1,147.0 L1065.8,147.5 L1064.4,148.0 L1063.0,148.5 L1061.7,149.0 L1060.3,149.5 L1058.9,150.0 L1057.5,150.5 L1056.2,151.0 L1054.8,151.5 L1053.4,152.0 L1052.1,152.5 L1050.7,153.1 L1049.3,153.6 L1048.0,154.1 L1046.6,154.6 L1045.2,155.1 L1043.8,155.6 L1042.5,156.1 L1041.1,156.6 L1039.7,157.1 L1038.4,157.6 L1037.0,158.1 L1035.6,158.6 L1034.3,159.1 L1032.9,159.6 L1031.5,160.1 L1030.1,160.7 L1028.8,161.2 L1027.4,161.7 L1026.0,162.2 L1024.7,162.7 L1023.3,163.2 L1021.9,163.7 L1020.5,164.2 L1019.2,164.7 L1017.8,165.2 L1016.4,165.7 L1015.1,166.2 L1013.7,166.7 L1012.3,167.3 L1011.0,167.8 L1009.6,168.3 L1008.2,168.8 L1006.8,169.3 L1005.5,169.8 L1004.1,170.3 L1002.7,170.8 L1001.4,171.3 L1000.0,171.8 L998.6,172.3 L997.2,172.9 L995.9,173.4 L994.5,173.9 L993.1,174.4 L991.8,174.9 L990.4,175.4 L989.0,175.9 L987.6,176.4 L986.3,176.9 L984.9,177.5 L983.5,178.0 L982.2,178.5 L980.8,179.0 L979.4,179.5 L978.1,180.0 L976.7,180.5 L975.3,181.0 L973.9,181.6 L972.6,182.1 L971.2,182.6 L969.8,183.1 L968.5,183.6 L967.1,184.1 L965.7,184.6 L964.3,185.2 L963.0,185.7 L961.6,186.2 L960.2,186.7 L958.9,187.2 L957.5,187.7 L956.1,188.2 L954.7,188.8 L953.4,189.3 L952.0,189.8 L950.6,190.3 L949.3,190.8 L947.9,191.3 L946.5,191.8 L945.1,192.3 L943.8,192.9 L942.4,193.4 L941.0,193.9 L939.6,194.4 L938.3,194.9 L936.9,195.5 L935.5,196.0 L934.1,196.5 L932.8,197.0 L931.4,197.5 L930.0,198.0 L928.7,198.6 L927.3,199.1 L925.9,199.6 L924.5,200.1 L923.2,200.7 L921.8,201.2 L920.4,201.7 L919.0,202.2 L917.7,202.8 L916.3,203.3 L914.9,203.8 L913.5,204.4 L912.2,204.9 L910.8,205.4 L909.4,206.0 L908.1,206.5 L906.7,207.0 L905.3,207.6 L903.9,208.1 L902.6,208.6 L901.2,209.2 L899.8,209.7 L898.4,210.3 L897.1,210.8 L895.7,211.3 L894.3,211.9 L892.9,212.4 L891.6,213.0 L890.2,213.5 L888.8,214.1 L887.4,214.6 L886.1,215.2 L884.7,215.7 L883.3,216.3 L882.0,216.9 L880.6,217.4 L879.2,218.0 L877.8,218.5 L876.5,219.1 L875.1,219.7 L873.7,220.2 L872.3,220.8 L871.0,221.4 L869.6,222.0 L868.2,222.5 L866.8,223.1 L865.5,223.7 L864.1,224.3 L862.7,224.9 L861.3,225.5 L860.0,226.1 L858.6,226.7 L857.2,227.3 L855.8,227.9 L854.5,228.5 L853.1,229.1 L851.7,229.7 L850.3,230.3 L849.0,230.9 L847.6,231.5 L846.2,232.1 L844.8,232.8 L843.5,233.4 L842.1,234.0 L840.7,234.7 L839.3,235.3 L837.9,235.9 L836.6,236.6 L835.2,237.2 L833.8,237.9 L832.4,238.5 L831.0,239.1 L829.6,239.8 L828.2,240.5 L826.9,241.1 L825.5,241.8 L824.1,242.5 L822.7,243.1 L821.3,243.8 L819.9,244.5 L818.5,245.2 L817.2,245.9 L815.8,246.6 L814.4,247.4 L813.0,248.1 L811.6,248.8 L810.2,249.6 L808.8,250.3 L807.4,251.1 L806.0,251.8 L804.7,252.6 L803.3,253.4 L801.9,254.2 L800.5,255.0 L799.1,255.8 L797.7,256.6 L796.3,257.4 L794.9,258.2 L793.5,259.1 L792.1,259.9 L790.7,260.8 L789.3,261.7 L788.0,262.6 L786.6,263.5 L785.2,264.4 L783.8,265.3 L782.4,266.2 L781.0,267.2 L779.6,268.2 L778.2,269.1 L776.8,270.1 L775.4,271.1 L774.0,272.2 L772.6,273.2 L771.2,274.3 L769.8,275.3 L768.4,276.4 L767.0,277.5 L765.6,278.6 L764.2,279.8 L762.8,280.9 L761.4,282.1 L760.0,283.3 L758.6,284.5 L757.2,285.8 L755.8,287.0 L754.4,288.3 L753.0,289.6 L751.6,291.0 L750.2,292.3 L748.8,293.7 L747.4,295.1 L746.0,296.5 L744.6,298.0 L743.2,299.5 L741.8,301.0 L740.4,302.5 L739.0,304.1 L737.6,305.7 L736.2,307.4 L734.8,309.0 L733.4,310.7 L732.0,312.5 L730.6,314.3 L729.2,316.1 L727.8,317.9 L726.4,319.8 L725.0,321.7 L723.5,323.7 L722.1,325.7 L720.7,327.8 L719.3,329.9 L717.9,332.0 L716.5,334.2 L715.1,336.5 L713.7,338.8 L712.3,341.1 L710.9,343.5 L709.5,345.9 L708.1,348.5 L706.7,351.0 L705.3,353.6 L703.9,356.3 L702.5,359.1 L701.1,361.9 L699.7,364.7 L698.3,367.7 L696.9,370.7 L695.5,373.8 L694.1,376.9 L692.7,380.1 L691.4,383.5 L690.0,386.8 L688.6,390.3 L687.2,393.9 L685.8,397.5 L684.4,401.2 L683.0,405.0 L681.6,409.0 L680.2,413.0 L678.8,417.1 L677.4,421.3 L676.0,425.6 L674.6,430.0 L673.2,434.6 L671.8,439.2 L670.4,444.0 L669.0,448.9 L667.6,453.9 L666.3,459.0 L664.9,464.3 L663.5,469.7 L662.1,475.3 L660.7,481.0 L659.3,486.8 L657.9,492.8 L656.5,499.0 Z" fill="#1a703f" fill-opacity="0.12"/><path d="M664.4,493.9 L665.8,487.2 L667.1,480.6 L668.5,474.2 L669.8,467.9 L671.2,461.9 L672.6,455.9 L673.9,450.2 L675.3,444.5 L676.6,439.0 L678.0,433.7 L679.3,428.5 L680.7,423.4 L682.1,418.4 L683.4,413.6 L684.8,408.9 L686.1,404.3 L687.5,399.8 L688.8,395.4 L690.2,391.2 L691.5,387.0 L692.9,383.0 L694.3,379.0 L695.6,375.1 L697.0,371.4 L698.3,367.7 L699.7,364.1 L701.0,360.6 L702.4,357.2 L703.7,353.8 L705.1,350.6 L706.4,347.4 L707.8,344.3 L709.1,341.2 L710.5,338.2 L711.8,335.3 L713.2,332.5 L714.5,329.7 L715.9,327.0 L717.2,324.4 L718.6,321.8 L719.9,319.3 L721.2,316.8 L722.6,314.4 L723.9,312.0 L725.3,309.7 L726.6,307.4 L728.0,305.2 L729.3,303.1 L730.7,300.9 L732.0,298.9 L733.4,296.8 L734.7,294.8 L736.1,292.9 L737.4,291.0 L738.8,289.1 L740.1,287.3 L741.5,285.5 L742.8,283.7 L744.2,282.0 L745.5,280.3 L746.9,278.6 L748.2,277.0 L749.6,275.4 L750.9,273.8 L752.2,272.3 L753.6,270.8 L754.9,269.3 L756.3,267.8 L757.6,266.4 L759.0,265.0 L760.3,263.6 L761.7,262.2 L763.0,260.9 L764.4,259.6 L765.7,258.3 L767.1,257.0 L768.4,255.8 L769.8,254.5 L771.1,253.3 L772.5,252.1 L773.8,250.9 L775.2,249.8 L776.5,248.6 L777.9,247.5 L779.2,246.4 L780.6,245.3 L781.9,244.2 L783.3,243.2 L784.6,242.1 L786.0,241.1 L787.3,240.1 L788.7,239.1 L790.0,238.1 L791.4,237.1 L792.7,236.1 L794.1,235.2 L795.4,234.2 L796.8,233.3 L798.1,232.4 L799.5,231.4 L800.8,230.5 L802.2,229.6 L803.6,228.8 L804.9,227.9 L806.3,227.0 L807.6,226.2 L809.0,225.3 L810.3,224.5 L811.7,223.7 L813.1,222.8 L814.4,222.0 L815.8,221.2 L817.1,220.4 L818.5,219.6 L819.9,218.8 L821.2,218.1 L822.6,217.3 L823.9,216.5 L825.3,215.8 L826.7,215.0 L828.0,214.3 L829.4,213.5 L830.7,212.8 L832.1,212.1 L833.5,211.3 L834.8,210.6 L836.2,209.9 L837.6,209.2 L838.9,208.5 L840.3,207.8 L841.6,207.1 L843.0,206.4 L844.4,205.7 L845.8,205.1 L847.1,204.4 L848.5,203.8 L849.9,203.1 L851.3,202.5 L852.6,201.8 L854.0,201.2 L855.4,200.5 L856.8,199.9 L858.1,199.3 L859.5,198.6 L860.9,198.0 L862.3,197.4 L863.6,196.8 L865.0,196.2 L866.4,195.5 L867.8,194.9 L869.2,194.3 L870.5,193.7 L871.9,193.1 L873.3,192.5 L874.7,191.9 L876.0,191.3 L877.4,190.7 L878.8,190.1 L880.2,189.5 L881.5,189.0 L882.9,188.4 L884.3,187.8 L885.7,187.2 L887.1,186.6 L888.4,186.0 L889.8,185.5 L891.2,184.9 L892.6,184.3 L893.9,183.7 L895.3,183.2 L896.7,182.6 L898.1,182.0 L899.5,181.5 L900.8,180.9 L902.2,180.3 L903.6,179.8 L905.0,179.2 L906.3,178.6 L907.7,178.1 L909.1,177.5 L910.5,177.0 L911.9,176.4 L913.2,175.9 L914.6,175.3 L916.0,174.8 L917.4,174.2 L918.8,173.6 L920.1,173.1 L921.5,172.5 L922.9,172.0 L924.3,171.5 L925.6,170.9 L927.0,170.4 L928.4,169.8 L929.8,169.3 L931.2,168.7 L932.5,168.2 L933.9,167.6 L935.3,167.1 L936.7,166.6 L938.1,166.0 L939.4,165.5 L940.8,164.9 L942.2,164.4 L943.6,163.9 L945.0,163.3 L946.3,162.8 L947.7,162.2 L949.1,161.7 L950.5,161.2 L951.9,160.6 L953.2,160.1 L954.6,159.6 L956.0,159.0 L957.4,158.5 L958.8,158.0 L960.1,157.4 L961.5,156.9 L962.9,156.4 L964.3,155.9 L965.7,155.3 L967.0,154.8 L968.4,154.3 L969.8,153.8 L971.2,153.3 L972.6,152.8 L974.0,152.2 L975.4,151.7 L976.7,151.2 L978.1,150.7 L979.5,150.2 L980.9,149.7 L982.3,149.1 L983.7,148.6 L985.1,148.1 L986.4,147.6 L987.8,147.1 L989.2,146.6 L990.6,146.1 L992.0,145.5 L993.4,145.0 L994.8,144.5 L996.1,144.0 L997.5,143.5 L998.9,143.0 L1000.3,142.5 L1001.7,142.0 L1003.1,141.4 L1004.4,140.9 L1005.8,140.4 L1007.2,139.9 L1008.6,139.4 L1010.0,138.9 L1011.4,138.4 L1012.8,137.9 L1014.1,137.3 L1015.5,136.8 L1016.9,136.3 L1018.3,135.8 L1019.7,135.3 L1021.1,134.8 L1022.5,134.3 L1023.8,133.8 L1025.2,133.3 L1026.6,132.8 L1028.0,132.2 L1029.4,131.7 L1030.8,131.2 L1032.2,130.7 L1033.5,130.2 L1034.9,129.7 L1036.3,129.2 L1037.7,128.7 L1039.1,128.2 L1040.5,127.7 L1041.9,127.2 L1043.2,126.6 L1044.6,126.1 L1046.0,125.6 L1047.4,125.1 L1048.8,124.6 L1050.2,124.1 L1051.6,123.6 L1052.9,123.1 L1054.3,122.6 L1055.7,122.1 L1057.1,121.6 L1058.5,121.1 L1059.9,120.5 L1061.3,120.0 L1062.6,119.5 L1064.0,119.0 L1065.4,118.5 L1066.8,118.0 L1068.2,117.5 L1069.6,117.0 L1071.0,116.5 L1072.3,116.0 L1073.7,115.5 L1068.3,101.5 L1066.9,102.1 L1065.5,102.6 L1064.2,103.2 L1062.8,103.8 L1061.5,104.3 L1060.1,104.9 L1058.7,105.5 L1057.4,106.0 L1056.0,106.6 L1054.6,107.2 L1053.3,107.7 L1051.9,108.3 L1050.5,108.8 L1049.2,109.4 L1047.8,110.0 L1046.5,110.5 L1045.1,111.1 L1043.7,111.7 L1042.4,112.2 L1041.0,112.8 L1039.6,113.4 L1038.3,113.9 L1036.9,114.5 L1035.5,115.1 L1034.2,115.6 L1032.8,116.2 L1031.5,116.8 L1030.1,117.3 L1028.7,117.9 L1027.4,118.5 L1026.0,119.0 L1024.6,119.6 L1023.3,120.2 L1021.9,120.8 L1020.5,121.3 L1019.2,121.9 L1017.8,122.5 L1016.5,123.0 L1015.1,123.6 L1013.7,124.2 L1012.4,124.7 L1011.0,125.3 L1009.6,125.9 L1008.3,126.4 L1006.9,127.0 L1005.5,127.6 L1004.2,128.1 L1002.8,128.7 L1001.5,129.3 L1000.1,129.9 L998.7,130.4 L997.4,131.0 L996.0,131.6 L994.6,132.1 L993.3,132.7 L991.9,133.3 L990.5,133.8 L989.2,134.4 L987.8,135.0 L986.5,135.6 L985.1,136.1 L983.7,136.7 L982.4,137.3 L981.0,137.8 L979.6,138.4 L978.3,139.0 L976.9,139.6 L975.5,140.1 L974.2,140.7 L972.8,141.3 L971.4,141.9 L970.1,142.4 L968.7,143.0 L967.4,143.6 L966.0,144.2 L964.6,144.7 L963.3,145.3 L961.9,145.9 L960.5,146.5 L959.2,147.0 L957.8,147.6 L956.4,148.2 L955.1,148.8 L953.7,149.3 L952.3,149.9 L951.0,150.5 L949.6,151.0 L948.2,151.6 L946.9,152.2 L945.5,152.7 L944.1,153.3 L942.7,153.9 L941.4,154.4 L940.0,155.0 L938.6,155.6 L937.3,156.1 L935.9,156.7 L934.5,157.3 L933.2,157.9 L931.8,158.4 L930.4,159.0 L929.0,159.6 L927.7,160.2 L926.3,160.7 L924.9,161.3 L923.6,161.9 L922.2,162.5 L920.8,163.1 L919.5,163.6 L918.1,164.2 L916.7,164.8 L915.3,165.4 L914.0,166.0 L912.6,166.6 L911.2,167.2 L909.9,167.7 L908.5,168.3 L907.1,168.9 L905.7,169.5 L904.4,170.1 L903.0,170.7 L901.6,171.3 L900.3,171.9 L898.9,172.5 L897.5,173.1 L896.2,173.7 L894.8,174.3 L893.4,174.9 L892.0,175.5 L890.7,176.1 L889.3,176.7 L887.9,177.3 L886.6,177.9 L885.2,178.5 L883.8,179.2 L882.4,179.8 L881.1,180.4 L879.7,181.0 L878.3,181.6 L876.9,182.3 L875.6,182.9 L874.2,183.5 L872.8,184.1 L871.5,184.8 L870.1,185.4 L868.7,186.0 L867.3,186.7 L866.0,187.3 L864.6,188.0 L863.2,188.6 L861.9,189.3 L860.5,189.9 L859.1,190.6 L857.7,191.2 L856.4,191.9 L855.0,192.6 L853.6,193.2 L852.2,193.9 L850.9,194.6 L849.5,195.3 L848.1,195.9 L846.7,196.6 L845.4,197.3 L844.0,198.0 L842.6,198.7 L841.2,199.4 L839.9,200.1 L838.5,200.8 L837.1,201.5 L835.7,202.2 L834.3,202.9 L833.0,203.6 L831.6,204.4 L830.2,205.1 L828.8,205.8 L827.4,206.5 L826.0,207.3 L824.6,208.0 L823.2,208.8 L821.9,209.5 L820.5,210.3 L819.1,211.0 L817.7,211.8 L816.3,212.6 L814.9,213.4 L813.5,214.2 L812.1,215.0 L810.7,215.8 L809.3,216.6 L808.0,217.4 L806.6,218.3 L805.2,219.1 L803.8,220.0 L802.4,220.9 L801.0,221.7 L799.6,222.6 L798.2,223.5 L796.8,224.4 L795.4,225.3 L794.0,226.2 L792.6,227.2 L791.2,228.1 L789.8,229.1 L788.4,230.1 L787.1,231.1 L785.7,232.1 L784.3,233.1 L782.9,234.1 L781.5,235.1 L780.1,236.2 L778.7,237.3 L777.3,238.3 L775.9,239.4 L774.5,240.6 L773.1,241.7 L771.7,242.8 L770.3,244.0 L768.9,245.2 L767.5,246.4 L766.1,247.6 L764.7,248.9 L763.3,250.1 L761.9,251.4 L760.5,252.7 L759.1,254.1 L757.7,255.4 L756.3,256.8 L754.9,258.2 L753.5,259.6 L752.1,261.1 L750.7,262.5 L749.3,264.0 L747.8,265.6 L746.4,267.1 L745.0,268.7 L743.6,270.3 L742.2,272.0 L740.8,273.7 L739.4,275.4 L738.0,277.1 L736.6,278.9 L735.2,280.7 L733.8,282.6 L732.4,284.5 L731.0,286.4 L729.6,288.3 L728.2,290.4 L726.8,292.4 L725.4,294.5 L724.0,296.6 L722.6,298.8 L721.2,301.0 L719.8,303.3 L718.4,305.6 L717.0,308.0 L715.6,310.4 L714.2,312.9 L712.8,315.4 L711.4,318.0 L710.0,320.6 L708.6,323.3 L707.2,326.1 L705.8,328.9 L704.4,331.8 L703.0,334.8 L701.6,337.8 L700.2,340.9 L698.8,344.1 L697.4,347.3 L696.0,350.6 L694.6,354.0 L693.2,357.5 L691.8,361.1 L690.4,364.7 L689.0,368.4 L687.6,372.3 L686.2,376.2 L684.8,380.2 L683.4,384.3 L682.0,388.5 L680.6,392.8 L679.3,397.3 L677.9,401.8 L676.5,406.4 L675.1,411.2 L673.7,416.1 L672.3,421.1 L670.9,426.2 L669.5,431.5 L668.1,436.9 L666.7,442.4 L665.3,448.1 L663.9,453.9 L662.5,459.9 L661.2,466.0 L659.8,472.3 L658.4,478.7 L657.0,485.3 L655.6,492.1 Z" fill="#ba4a00" fill-opacity="0.1"/><path d="M662.4,493.5 L663.8,486.7 L665.2,480.2 L666.5,473.7 L667.9,467.5 L669.3,461.4 L670.6,455.5 L672.0,449.7 L673.4,444.0 L674.7,438.5 L676.1,433.2 L677.4,428.0 L678.8,422.9 L680.2,417.9 L681.5,413.1 L682.9,408.3 L684.3,403.7 L685.6,399.2 L687.0,394.8 L688.4,390.6 L689.7,386.4 L691.1,382.3 L692.4,378.4 L693.8,374.5 L695.2,370.7 L696.5,367.0 L697.9,363.4 L699.3,359.9 L700.6,356.5 L702.0,353.1 L703.3,349.8 L704.7,346.6 L706.1,343.5 L707.4,340.4 L708.8,337.5 L710.1,334.6 L711.5,331.7 L712.9,328.9 L714.2,326.2 L715.6,323.5 L716.9,320.9 L718.3,318.4 L719.7,315.9 L721.0,313.5 L722.4,311.1 L723.7,308.8 L725.1,306.5 L726.5,304.3 L727.8,302.1 L729.2,300.0 L730.5,297.9 L731.9,295.8 L733.3,293.8 L734.6,291.9 L736.0,289.9 L737.3,288.1 L738.7,286.2 L740.1,284.4 L741.4,282.6 L742.8,280.9 L744.1,279.2 L745.5,277.5 L746.9,275.9 L748.2,274.3 L749.6,272.7 L750.9,271.1 L752.3,269.6 L753.7,268.1 L755.0,266.6 L756.4,265.2 L757.7,263.8 L759.1,262.4 L760.5,261.0 L761.8,259.7 L763.2,258.3 L764.5,257.0 L765.9,255.8 L767.3,254.5 L768.6,253.3 L770.0,252.0 L771.3,250.8 L772.7,249.7 L774.1,248.5 L775.4,247.3 L776.8,246.2 L778.1,245.1 L779.5,244.0 L780.9,242.9 L782.2,241.8 L783.6,240.8 L784.9,239.8 L786.3,238.7 L787.7,237.7 L789.0,236.7 L790.4,235.7 L791.8,234.8 L793.1,233.8 L794.5,232.8 L795.9,231.9 L797.2,231.0 L798.6,230.1 L799.9,229.2 L801.3,228.3 L802.7,227.4 L804.0,226.5 L805.4,225.6 L806.8,224.8 L808.1,223.9 L809.5,223.1 L810.9,222.3 L812.2,221.4 L813.6,220.6 L815.0,219.8 L816.3,219.0 L817.7,218.2 L819.1,217.4 L820.4,216.7 L821.8,215.9 L823.2,215.1 L824.5,214.4 L825.9,213.6 L827.3,212.9 L828.6,212.1 L830.0,211.4 L831.4,210.6 L832.7,209.9 L834.1,209.2 L835.5,208.5 L836.8,207.8 L838.2,207.1 L839.6,206.4 L840.9,205.7 L842.3,205.0 L843.7,204.3 L845.1,203.6 L846.4,203.0 L847.8,202.3 L849.2,201.7 L850.6,201.0 L851.9,200.3 L853.3,199.7 L854.7,199.0 L856.1,198.4 L857.4,197.8 L858.8,197.1 L860.2,196.5 L861.6,195.9 L862.9,195.2 L864.3,194.6 L865.7,194.0 L867.1,193.4 L868.4,192.8 L869.8,192.1 L871.2,191.5 L872.6,190.9 L873.9,190.3 L875.3,189.7 L876.7,189.1 L878.1,188.5 L879.4,187.9 L880.8,187.3 L882.2,186.7 L883.6,186.1 L884.9,185.5 L886.3,184.9 L887.7,184.4 L889.1,183.8 L890.5,183.2 L891.8,182.6 L893.2,182.0 L894.6,181.4 L896.0,180.9 L897.3,180.3 L898.7,179.7 L900.1,179.1 L901.5,178.6 L902.8,178.0 L904.2,177.4 L905.6,176.9 L907.0,176.3 L908.3,175.7 L909.7,175.2 L911.1,174.6 L912.5,174.0 L913.9,173.5 L915.2,172.9 L916.6,172.4 L918.0,171.8 L919.4,171.2 L920.7,170.7 L922.1,170.1 L923.5,169.6 L924.9,169.0 L926.2,168.5 L927.6,167.9 L929.0,167.4 L930.4,166.8 L931.8,166.2 L933.1,165.7 L934.5,165.1 L935.9,164.6 L937.3,164.1 L938.6,163.5 L940.0,163.0 L941.4,162.4 L942.8,161.9 L944.1,161.3 L945.5,160.8 L946.9,160.2 L948.3,159.7 L949.7,159.1 L951.0,158.6 L952.4,158.1 L953.8,157.5 L955.2,157.0 L956.5,156.4 L957.9,155.9 L959.3,155.4 L960.7,154.8 L962.1,154.3 L963.4,153.7 L964.8,153.2 L966.2,152.7 L967.6,152.2 L969.0,151.6 L970.3,151.1 L971.7,150.6 L973.1,150.0 L974.5,149.5 L975.9,149.0 L977.2,148.4 L978.6,147.9 L980.0,147.4 L981.4,146.9 L982.8,146.3 L984.1,145.8 L985.5,145.3 L986.9,144.7 L988.3,144.2 L989.7,143.7 L991.0,143.2 L992.4,142.6 L993.8,142.1 L995.2,141.6 L996.6,141.1 L997.9,140.5 L999.3,140.0 L1000.7,139.5 L1002.1,139.0 L1003.5,138.4 L1004.8,137.9 L1006.2,137.4 L1007.6,136.9 L1009.0,136.3 L1010.4,135.8 L1011.8,135.3 L1013.1,134.8 L1014.5,134.2 L1015.9,133.7 L1017.3,133.2 L1018.7,132.7 L1020.0,132.1 L1021.4,131.6 L1022.8,131.1 L1024.2,130.6 L1025.6,130.1 L1026.9,129.5 L1028.3,129.0 L1029.7,128.5 L1031.1,128.0 L1032.5,127.4 L1033.8,126.9 L1035.2,126.4 L1036.6,125.9 L1038.0,125.4 L1039.4,124.8 L1040.7,124.3 L1042.1,123.8 L1043.5,123.3 L1044.9,122.7 L1046.3,122.2 L1047.6,121.7 L1049.0,121.2 L1050.4,120.7 L1051.8,120.1 L1053.2,119.6 L1054.6,119.1 L1055.9,118.6 L1057.3,118.1 L1058.7,117.5 L1060.1,117.0 L1061.5,116.5 L1062.8,116.0 L1064.2,115.4 L1065.6,114.9 L1067.0,114.4 L1068.4,113.9 L1069.7,113.4 L1071.1,112.8 L1072.5,112.3 L1069.5,104.6 L1068.1,105.2 L1066.8,105.7 L1065.4,106.3 L1064.0,106.9 L1062.7,107.4 L1061.3,108.0 L1059.9,108.5 L1058.6,109.1 L1057.2,109.6 L1055.8,110.2 L1054.4,110.7 L1053.1,111.3 L1051.7,111.8 L1050.3,112.4 L1049.0,112.9 L1047.6,113.5 L1046.2,114.0 L1044.9,114.6 L1043.5,115.1 L1042.1,115.7 L1040.8,116.3 L1039.4,116.8 L1038.0,117.4 L1036.7,117.9 L1035.3,118.5 L1033.9,119.0 L1032.6,119.6 L1031.2,120.1 L1029.8,120.7 L1028.4,121.2 L1027.1,121.8 L1025.7,122.3 L1024.3,122.9 L1023.0,123.5 L1021.6,124.0 L1020.2,124.6 L1018.9,125.1 L1017.5,125.7 L1016.1,126.2 L1014.8,126.8 L1013.4,127.3 L1012.0,127.9 L1010.7,128.4 L1009.3,129.0 L1007.9,129.6 L1006.5,130.1 L1005.2,130.7 L1003.8,131.2 L1002.4,131.8 L1001.1,132.3 L999.7,132.9 L998.3,133.5 L997.0,134.0 L995.6,134.6 L994.2,135.1 L992.9,135.7 L991.5,136.2 L990.1,136.8 L988.8,137.4 L987.4,137.9 L986.0,138.5 L984.6,139.0 L983.3,139.6 L981.9,140.2 L980.5,140.7 L979.2,141.3 L977.8,141.8 L976.4,142.4 L975.1,143.0 L973.7,143.5 L972.3,144.1 L971.0,144.6 L969.6,145.2 L968.2,145.8 L966.9,146.3 L965.5,146.9 L964.1,147.5 L962.7,148.0 L961.4,148.6 L960.0,149.1 L958.6,149.7 L957.3,150.3 L955.9,150.8 L954.5,151.4 L953.2,151.9 L951.8,152.5 L950.4,153.1 L949.0,153.6 L947.7,154.2 L946.3,154.7 L944.9,155.3 L943.6,155.9 L942.2,156.4 L940.8,157.0 L939.4,157.6 L938.1,158.1 L936.7,158.7 L935.3,159.3 L933.9,159.8 L932.6,160.4 L931.2,161.0 L929.8,161.5 L928.5,162.1 L927.1,162.7 L925.7,163.2 L924.3,163.8 L923.0,164.4 L921.6,165.0 L920.2,165.5 L918.9,166.1 L917.5,166.7 L916.1,167.3 L914.7,167.8 L913.4,168.4 L912.0,169.0 L910.6,169.6 L909.2,170.2 L907.9,170.7 L906.5,171.3 L905.1,171.9 L903.8,172.5 L902.4,173.1 L901.0,173.7 L899.6,174.3 L898.3,174.8 L896.9,175.4 L895.5,176.0 L894.1,176.6 L892.8,177.2 L891.4,177.8 L890.0,178.4 L888.7,179.0 L887.3,179.6 L885.9,180.2 L884.5,180.8 L883.2,181.4 L881.8,182.1 L880.4,182.7 L879.0,183.3 L877.7,183.9 L876.3,184.5 L874.9,185.1 L873.6,185.8 L872.2,186.4 L870.8,187.0 L869.4,187.6 L868.1,188.3 L866.7,188.9 L865.3,189.5 L863.9,190.2 L862.6,190.8 L861.2,191.5 L859.8,192.1 L858.4,192.8 L857.1,193.4 L855.7,194.1 L854.3,194.7 L852.9,195.4 L851.6,196.1 L850.2,196.7 L848.8,197.4 L847.5,198.1 L846.1,198.8 L844.7,199.5 L843.3,200.1 L842.0,200.8 L840.6,201.5 L839.2,202.2 L837.8,202.9 L836.4,203.6 L835.1,204.3 L833.7,205.0 L832.3,205.8 L830.9,206.5 L829.5,207.2 L828.2,207.9 L826.8,208.7 L825.4,209.4 L824.0,210.2 L822.6,210.9 L821.2,211.7 L819.9,212.4 L818.5,213.2 L817.1,214.0 L815.7,214.8 L814.3,215.6 L812.9,216.4 L811.6,217.2 L810.2,218.0 L808.8,218.8 L807.4,219.7 L806.0,220.5 L804.6,221.4 L803.3,222.2 L801.9,223.1 L800.5,224.0 L799.1,224.9 L797.7,225.8 L796.3,226.7 L795.0,227.6 L793.6,228.6 L792.2,229.5 L790.8,230.5 L789.4,231.4 L788.0,232.4 L786.6,233.4 L785.2,234.4 L783.9,235.4 L782.5,236.5 L781.1,237.5 L779.7,238.6 L778.3,239.7 L776.9,240.8 L775.5,241.9 L774.1,243.0 L772.8,244.1 L771.4,245.3 L770.0,246.5 L768.6,247.7 L767.2,248.9 L765.8,250.1 L764.4,251.4 L763.0,252.7 L761.6,254.0 L760.3,255.3 L758.9,256.7 L757.5,258.0 L756.1,259.4 L754.7,260.8 L753.3,262.3 L751.9,263.7 L750.5,265.2 L749.1,266.7 L747.8,268.3 L746.4,269.9 L745.0,271.5 L743.6,273.1 L742.2,274.8 L740.8,276.5 L739.4,278.2 L738.0,280.0 L736.6,281.8 L735.2,283.6 L733.9,285.5 L732.5,287.4 L731.1,289.4 L729.7,291.4 L728.3,293.4 L726.9,295.5 L725.5,297.6 L724.1,299.8 L722.7,302.0 L721.4,304.2 L720.0,306.5 L718.6,308.9 L717.2,311.3 L715.8,313.8 L714.4,316.3 L713.0,318.9 L711.6,321.5 L710.2,324.2 L708.9,326.9 L707.5,329.7 L706.1,332.6 L704.7,335.6 L703.3,338.6 L701.9,341.7 L700.5,344.8 L699.1,348.0 L697.7,351.3 L696.4,354.7 L695.0,358.2 L693.6,361.7 L692.2,365.4 L690.8,369.1 L689.4,372.9 L688.0,376.8 L686.6,380.8 L685.3,384.9 L683.9,389.1 L682.5,393.4 L681.1,397.8 L679.7,402.4 L678.3,407.0 L676.9,411.7 L675.6,416.6 L674.2,421.6 L672.8,426.7 L671.4,432.0 L670.0,437.4 L668.6,442.9 L667.3,448.6 L665.9,454.4 L664.5,460.3 L663.1,466.4 L661.7,472.7 L660.3,479.1 L659.0,485.8 L657.6,492.5 Z" fill="#ba4a00" fill-opacity="0.12"/><path d="M640.0,528.3 L641.4,521.0 L642.9,513.8 L644.3,506.8 L645.8,500.0 L647.2,493.3 L648.6,486.9 L650.1,480.6 L651.5,474.4 L653.0,468.4 L654.4,462.6 L655.9,456.9 L657.3,451.3 L658.7,445.9 L660.2,440.6 L661.6,435.4 L663.1,430.4 L664.5,425.5 L665.9,420.7 L667.4,416.0 L668.8,411.4 L670.3,407.0 L671.7,402.6 L673.2,398.3 L674.6,394.2 L676.0,390.1 L677.5,386.2 L678.9,382.3 L680.4,378.5 L681.8,374.8 L683.2,371.2 L684.7,367.6 L686.1,364.1 L687.6,360.8 L689.0,357.4 L690.5,354.2 L691.9,351.0 L693.3,347.9 L694.8,344.9 L696.2,341.9 L697.7,339.0 L699.1,336.1 L700.5,333.3 L702.0,330.6 L703.4,327.9 L704.9,325.2 L706.3,322.7 L707.7,320.1 L709.2,317.6 L710.6,315.2 L712.1,312.8 L713.5,310.5 L715.0,308.2 L716.4,305.9 L717.8,303.7 L719.3,301.5 L720.7,299.3 L722.2,297.2 L723.6,295.2 L725.0,293.1 L726.5,291.1 L727.9,289.2 L729.4,287.2 L730.8,285.3 L732.3,283.4 L733.7,281.6 L735.1,279.8 L736.6,278.0 L738.0,276.2 L739.5,274.5 L740.9,272.8 L742.3,271.1 L743.8,269.4 L745.2,267.8 L746.7,266.2 L748.1,264.6 L749.6,263.0 L751.0,261.5 L752.4,259.9 L753.9,258.4 L755.3,256.9 L756.8,255.5 L758.2,254.0 L759.6,252.6 L761.1,251.2 L762.5,249.7 L764.0,248.4 L765.4,247.0 L766.8,245.6 L768.3,244.3 L769.7,242.9 L771.2,241.6 L772.6,240.3 L774.1,239.0 L775.5,237.8 L776.9,236.5 L778.4,235.2 L779.8,234.0 L781.3,232.8 L782.7,231.5 L784.1,230.3 L785.6,229.1 L787.0,227.9 L788.5,226.7 L789.9,225.6 L791.4,224.4 L792.8,223.3 L794.2,222.1 L795.7,221.0 L797.1,219.8 L798.6,218.7 L800.0,217.6 L801.4,216.5 L802.9,215.4 L804.3,214.3 L805.8,213.2 L807.2,212.1 L808.7,211.1 L810.1,210.0 L811.5,208.9 L813.0,207.9 L814.4,206.8 L815.9,205.8 L817.3,204.8 L818.7,203.7 L820.2,202.7 L821.6,201.7 L823.1,200.7 L824.5,199.6 L825.9,198.6 L827.4,197.6 L828.8,196.6 L830.3,195.6 L831.7,194.6 L833.2,193.7 L834.6,192.7 L836.0,191.7 L837.5,190.7 L838.9,189.7 L840.4,188.8 L841.8,187.8 L843.2,186.8 L844.7,185.9 L846.1,184.9 L847.6,183.9 L849.0,183.0 L850.5,182.0 L851.9,181.1 L853.3,180.2 L854.8,179.2 L856.2,178.3 L857.7,177.3 L859.1,176.4 L860.5,175.5 L862.0,174.5 L863.4,173.6 L864.9,172.7 L866.3,171.7 L867.8,170.8 L869.2,169.9 L870.6,169.0 L872.1,168.1 L873.5,167.1 L875.0,166.2 L876.4,165.3 L877.8,164.4 L879.3,163.5 L880.7,162.6 L882.2,161.7 L883.6,160.8 L885.1,159.9 L886.5,159.0 L887.9,158.1 L889.4,157.2 L890.8,156.3 L892.3,155.4 L893.7,154.5 L895.1,153.6 L896.6,152.7 L898.0,151.8 L899.5,150.9 L900.9,150.0 L902.3,149.1 L903.8,148.2 L905.2,147.3 L906.7,146.4 L908.1,145.5 L909.6,144.6 L911.0,143.8 L912.4,142.9 L913.9,142.0 L915.3,141.1 L916.8,140.2 L918.2,139.3 L919.6,138.5 L921.1,137.6 L922.5,136.7 L924.0,135.8 L925.4,134.9 L926.9,134.1 L928.3,133.2 L929.7,132.3 L931.2,131.4 L932.6,130.5 L934.1,129.7 L935.5,128.8 L936.9,127.9 L938.4,127.0 L939.8,126.2 L941.3,125.3 L942.7,124.4 L944.2,123.5 L945.6,122.7 L947.0,121.8 L948.5,120.9 L949.9,120.0 L951.4,119.2 L952.8,118.3 L954.2,117.4 L955.7,116.6 L957.1,115.7 L958.6,114.8 L960.0,113.9 L961.4,113.1 L962.9,112.2 L964.3,111.3 L965.8,110.5 L967.2,109.6 L968.7,108.7 L970.1,107.9 L971.5,107.0 L973.0,106.1 L974.4,105.3 L975.9,104.4 L977.3,103.5 L978.7,102.7 L980.2,101.8 L981.6,100.9 L983.1,100.1 L984.5,99.2 L986.0,98.3 L987.4,97.5 L988.8,96.6 L990.3,95.7 L991.7,94.9 L993.2,94.0 L994.6,93.1 L996.0,92.3 L997.5,91.4 L998.9,90.5 L1000.4,89.7 L1001.8,88.8 L1003.3,87.9 L1004.7,87.1 L1006.1,86.2 L1007.6,85.4 L1009.0,84.5 L1010.5,83.6 L1011.9,82.8 L1013.3,81.9 L1014.8,81.0 L1016.2,80.2 L1017.7,79.3 L1019.1,78.4 L1020.5,77.6 L1022.0,76.7 L1023.4,75.9 L1024.9,75.0 L1026.3,74.1 L1027.8,73.3 L1029.2,72.4 L1030.6,71.5 L1032.1,70.7 L1033.5,69.8 L1035.0,68.9 L1036.4,68.1 L1037.8,67.2 L1039.3,66.4 L1040.7,65.5 L1042.2,64.6 L1043.6,63.8 L1045.1,62.9 L1046.5,62.0 L1047.9,61.2 L1049.4,60.3 L1050.8,59.5 L1052.3,58.6 L1053.7,57.7 L1055.1,56.9 L1056.6,56.0 L1058.0,55.2 L1059.5,54.3 L1060.9,53.4 L1062.4,52.6 L1063.8,51.7 L1065.2,50.8 L1066.7,50.0 L1068.1,49.1 L1069.6,48.3 L1071.0,47.4 L1071.0,86.6 L1069.6,87.2 L1068.1,87.8 L1066.7,88.5 L1065.2,89.1 L1063.8,89.7 L1062.4,90.4 L1060.9,91.0 L1059.5,91.6 L1058.0,92.3 L1056.6,92.9 L1055.1,93.5 L1053.7,94.2 L1052.3,94.8 L1050.8,95.4 L1049.4,96.1 L1047.9,96.7 L1046.5,97.3 L1045.1,98.0 L1043.6,98.6 L1042.2,99.2 L1040.7,99.9 L1039.3,100.5 L1037.8,101.2 L1036.4,101.8 L1035.0,102.4 L1033.5,103.1 L1032.1,103.7 L1030.6,104.3 L1029.2,105.0 L1027.8,105.6 L1026.3,106.2 L1024.9,106.9 L1023.4,107.5 L1022.0,108.1 L1020.5,108.8 L1019.1,109.4 L1017.7,110.1 L1016.2,110.7 L1014.8,111.3 L1013.3,112.0 L1011.9,112.6 L1010.5,113.2 L1009.0,113.9 L1007.6,114.5 L1006.1,115.2 L1004.7,115.8 L1003.3,116.4 L1001.8,117.1 L1000.4,117.7 L998.9,118.3 L997.5,119.0 L996.0,119.6 L994.6,120.3 L993.2,120.9 L991.7,121.5 L990.3,122.2 L988.8,122.8 L987.4,123.5 L986.0,124.1 L984.5,124.8 L983.1,125.4 L981.6,126.0 L980.2,126.7 L978.7,127.3 L977.3,128.0 L975.9,128.6 L974.4,129.3 L973.0,129.9 L971.5,130.5 L970.1,131.2 L968.7,131.8 L967.2,132.5 L965.8,133.1 L964.3,133.8 L962.9,134.4 L961.4,135.1 L960.0,135.7 L958.6,136.4 L957.1,137.0 L955.7,137.7 L954.2,138.3 L952.8,139.0 L951.4,139.6 L949.9,140.3 L948.5,140.9 L947.0,141.6 L945.6,142.2 L944.2,142.9 L942.7,143.6 L941.3,144.2 L939.8,144.9 L938.4,145.5 L936.9,146.2 L935.5,146.9 L934.1,147.5 L932.6,148.2 L931.2,148.8 L929.7,149.5 L928.3,150.2 L926.9,150.8 L925.4,151.5 L924.0,152.2 L922.5,152.8 L921.1,153.5 L919.6,154.2 L918.2,154.8 L916.8,155.5 L915.3,156.2 L913.9,156.9 L912.4,157.6 L911.0,158.2 L909.6,158.9 L908.1,159.6 L906.7,160.3 L905.2,161.0 L903.8,161.6 L902.3,162.3 L900.9,163.0 L899.5,163.7 L898.0,164.4 L896.6,165.1 L895.1,165.8 L893.7,166.5 L892.3,167.2 L890.8,167.9 L889.4,168.6 L887.9,169.3 L886.5,170.0 L885.1,170.7 L883.6,171.5 L882.2,172.2 L880.7,172.9 L879.3,173.6 L877.8,174.3 L876.4,175.1 L875.0,175.8 L873.5,176.5 L872.1,177.3 L870.6,178.0 L869.2,178.8 L867.8,179.5 L866.3,180.2 L864.9,181.0 L863.4,181.8 L862.0,182.5 L860.5,183.3 L859.1,184.1 L857.7,184.8 L856.2,185.6 L854.8,186.4 L853.3,187.2 L851.9,188.0 L850.5,188.8 L849.0,189.6 L847.6,190.4 L846.1,191.2 L844.7,192.0 L843.2,192.8 L841.8,193.6 L840.4,194.5 L838.9,195.3 L837.5,196.2 L836.0,197.0 L834.6,197.9 L833.2,198.7 L831.7,199.6 L830.3,200.5 L828.8,201.4 L827.4,202.3 L825.9,203.2 L824.5,204.1 L823.1,205.0 L821.6,205.9 L820.2,206.9 L818.7,207.8 L817.3,208.8 L815.9,209.7 L814.4,210.7 L813.0,211.7 L811.5,212.7 L810.1,213.7 L808.7,214.7 L807.2,215.7 L805.8,216.8 L804.3,217.8 L802.9,218.9 L801.4,220.0 L800.0,221.1 L798.6,222.2 L797.1,223.3 L795.7,224.4 L794.2,225.6 L792.8,226.7 L791.4,227.9 L789.9,229.1 L788.5,230.3 L787.0,231.6 L785.6,232.8 L784.1,234.1 L782.7,235.4 L781.3,236.7 L779.8,238.0 L778.4,239.3 L776.9,240.7 L775.5,242.1 L774.1,243.5 L772.6,245.0 L771.2,246.4 L769.7,247.9 L768.3,249.4 L766.8,251.0 L765.4,252.5 L764.0,254.1 L762.5,255.7 L761.1,257.4 L759.6,259.1 L758.2,260.8 L756.8,262.5 L755.3,264.3 L753.9,266.1 L752.4,268.0 L751.0,269.9 L749.6,271.8 L748.1,273.8 L746.7,275.8 L745.2,277.8 L743.8,279.9 L742.3,282.0 L740.9,284.2 L739.5,286.4 L738.0,288.7 L736.6,291.0 L735.1,293.4 L733.7,295.8 L732.3,298.3 L730.8,300.8 L729.4,303.4 L727.9,306.0 L726.5,308.7 L725.0,311.5 L723.6,314.3 L722.2,317.2 L720.7,320.2 L719.3,323.2 L717.8,326.3 L716.4,329.5 L715.0,332.8 L713.5,336.1 L712.1,339.5 L710.6,343.0 L709.2,346.6 L707.7,350.3 L706.3,354.0 L704.9,357.9 L703.4,361.8 L702.0,365.9 L700.5,370.0 L699.1,374.3 L697.7,378.7 L696.2,383.2 L694.8,387.8 L693.3,392.5 L691.9,397.3 L690.5,402.3 L689.0,407.4 L687.6,412.6 L686.1,418.0 L684.7,423.5 L683.2,429.1 L681.8,434.9 L680.4,440.9 L678.9,447.0 L677.5,453.3 L676.0,459.8 L674.6,466.4 L673.2,473.2 L671.7,480.2 L670.3,487.4 L668.8,494.7 L667.4,502.3 L665.9,510.1 L664.5,518.1 L663.1,526.3 L661.6,534.8 L660.2,543.5 L658.7,552.4 L657.3,561.6 L655.9,571.0 L654.4,580.7 L653.0,590.7 L651.5,600.0 L650.1,600.0 L648.6,600.0 L647.2,600.0 L645.8,600.0 L644.3,600.0 L642.9,600.0 L641.4,600.0 L640.0,600.0 Z" fill="#7d3c98" fill-opacity="0.2"/></svg><g stroke="#b0b0b0" stroke-width="1.11" stroke-dasharray="4.11,1.78" fill="none"><line x1="103.50" y1="459.50" x2="103.50" y2="22.60"/><line x1="216.00" y1="459.50" x2="216.00" y2="22.60"/><line x1="328.50" y1="459.50" x2="328.50" y2="22.60"/><line x1="441.00" y1="459.50" x2="441.00" y2="22.60"/><line x1="553.50" y1="459.50" x2="553.50" y2="22.60"/><line x1="81.00" y1="452.20" x2="576.00" y2="452.20"/><line x1="81.00" y1="376.82" x2="576.00" y2="376.82"/><line x1="81.00" y1="301.44" x2="576.00" y2="301.44"/><line x1="81.00" y1="226.06" x2="576.00" y2="226.06"/><line x1="81.00" y1="150.68" x2="576.00" y2="150.68"/><line x1="81.00" y1="75.30" x2="576.00" y2="75.30"/></g><g stroke="#b0b0b0" stroke-width="1.11" stroke-dasharray="4.11,1.78" fill="none"><line x1="598.50" y1="459.50" x2="598.50" y2="22.60"/><line x1="711.00" y1="459.50" x2="711.00" y2="22.60"/><line x1="823.50" y1="459.50" x2="823.50" y2="22.60"/><line x1="936.00" y1="459.50" x2="936.00" y2="22.60"/><line x1="1048.50" y1="459.50" x2="1048.50" y2="22.60"/><line x1="576.00" y1="452.20" x2="1070.60" y2="452.20"/><line x1="576.00" y1="376.82" x2="1070.60" y2="376.82"/><line x1="576.00" y1="301.44" x2="1070.60" y2="301.44"/><line x1="576.00" y1="226.06" x2="1070.60" y2="226.06"/><line x1="576.00" y1="150.68" x2="1070.60" y2="150.68"/><line x1="576.00" y1="75.30" x2="1070.60" y2="75.30"/></g><svg x="81.0" y="22.6" width="495.00" height="436.90" viewBox="81.0 22.6 495.00 436.90" overflow="hidden"><g stroke-linecap="butt"><path d="M126.3,519.3 L127.1,513.4 L127.9,507.6 L128.7,501.9 L129.4,496.2 L130.2,490.6 L131.0,485.1 L131.8,479.6 L132.6,474.2 L133.3,468.9 L134.1,463.6 L134.9,458.4 L135.7,453.2 L136.5,448.2 L137.2,443.2 L138.0,438.2 L138.8,433.3 L139.6,428.5 L140.3,423.8 L141.1,419.1 L141.9,414.5 L142.7,409.9 L143.5,405.4 L144.2,401.0 L145.0,396.6 L145.8,392.3 L146.6,388.1 L147.3,383.9 L148.1,379.8 L148.9,375.7 L149.7,371.8 L150.5,367.8 L151.2,364.0 L152.0,360.2 L152.8,356.4 L153.6,352.8 L154.3,349.2 L155.1,345.6 L155.9,342.1 L156.7,338.7 L157.5,335.3 L158.2,332.0 L159.0,328.8 L159.8,325.6 L160.6,322.5 L161.3,319.4 L162.1,316.4 L162.9,313.5 L163.7,310.6 L164.5,307.8 L165.2,305.0 L166.0,302.3 L166.8,299.7 L167.6,297.1 L168.3,294.6 L169.1,292.1 L169.9,289.7 L170.7,287.3 L171.5,285.0 L172.2,282.8 L173.0,280.6 L173.8,278.4 L174.6,276.4 L175.3,274.3 L176.1,272.4 L176.9,270.4 L177.7,268.6 L178.5,266.7 L179.2,265.0 L180.0,263.3 L180.8,261.6 L181.6,260.0 L182.4,258.4 L183.1,256.9 L183.9,255.5 L184.7,254.0 L185.5,252.7 L186.2,251.3 L187.0,250.1 L187.8,248.8 L188.6,247.6 L189.4,246.5 L190.1,245.4 L190.9,244.3 L191.7,243.3 L192.5,242.3 L193.2,241.4 L194.0,240.5 L194.8,239.7 L195.6,238.8 L196.4,238.0 L197.1,237.3 L197.9,236.6 L198.7,235.9 L199.5,235.3 L200.2,234.6 L201.0,234.1 L201.8,233.5 L202.6,233.0 L203.4,232.5 L204.1,232.0 L204.9,231.6 L205.7,231.2 L206.5,230.8 L207.2,230.4 L208.0,230.1 L208.8,229.7 L209.6,229.4 L210.4,229.2 L211.1,228.9 L211.9,228.7 L212.7,228.4 L213.5,228.2 L214.2,228.0 L215.0,227.8 L215.8,227.7 L216.6,227.5 L217.4,227.4 L218.1,227.3 L218.9,227.1 L219.7,227.0 L220.5,226.9 L221.2,226.8 L222.0,226.8 L222.8,226.7 L223.6,226.6 L224.4,226.6 L225.1,226.5 L225.9,226.5 L226.7,226.4 L227.5,226.4 L228.3,226.3 L229.0,226.3 L229.8,226.3 L230.6,226.2 L231.4,226.2 L232.1,226.2 L232.9,226.2 L233.7,226.2 L234.5,226.2 L235.3,226.1 L236.0,226.1 L236.8,226.1 L237.6,226.1 L238.4,226.1 L239.1,226.1 L239.9,226.1 L240.7,226.1 L241.5,226.1 L242.3,226.1 L243.0,226.1 L243.8,226.1 L244.6,226.1 L245.4,226.1 L246.1,226.1 L246.9,226.1 L247.7,226.1 L248.5,226.1 L249.3,226.1 L250.0,226.1 L250.8,226.1 L251.6,226.1 L252.4,226.1 L253.1,226.1 L253.9,226.1 L254.7,226.1 L255.5,226.1 L256.3,226.1 L257.0,226.1 L257.8,226.1 L258.6,226.1 L259.4,226.1 L260.1,226.1 L260.9,226.1 L261.7,226.1 L262.5,226.1 L263.3,226.1 L264.0,226.1 L264.8,226.1 L265.6,226.1 L266.4,226.1 L267.1,226.1 L267.9,226.1 L268.7,226.1 L269.5,226.1 L270.3,226.1 L271.0,226.1 L271.8,226.1 L272.6,226.1 L273.4,226.1 L274.2,226.1 L274.9,226.1 L275.7,226.1 L276.5,226.1 L277.3,226.1 L278.0,226.1 L278.8,226.1 L279.6,226.1 L280.4,226.1 L281.2,226.1 L281.9,226.1 L282.7,226.1 L283.5,226.1 L284.3,226.1 L285.0,226.1 L285.8,226.1 L286.6,226.1 L287.4,226.1 L288.2,226.1 L288.9,226.1 L289.7,226.1 L290.5,226.1 L291.3,226.1 L292.0,226.1 L292.8,226.1 L293.6,226.1 L294.4,226.1 L295.2,226.1 L295.9,226.1 L296.7,226.1 L297.5,226.1 L298.3,226.1 L299.0,226.1 L299.8,226.1 L300.6,226.1 L301.4,226.1 L302.2,226.1 L302.9,226.1 L303.7,226.1 L304.5,226.1 L305.3,226.1 L306.0,226.1 L306.8,226.1 L307.6,226.1 L308.4,226.1 L309.2,226.1 L309.9,226.1 L310.7,226.1 L311.5,226.1 L312.3,226.1 L313.0,226.1 L313.8,226.1 L314.6,226.1 L315.4,226.1 L316.2,226.1 L316.9,226.1 L317.7,226.1 L318.5,226.1 L319.3,226.1 L320.1,226.1 L320.8,226.1 L321.6,226.1 L322.4,226.1 L323.2,226.1 L323.9,226.1 L324.7,226.1 L325.5,226.1 L326.3,226.1 L327.1,226.1 L327.8,226.1 L328.6,226.1 L329.4,226.1 L330.2,226.1 L330.9,226.1 L331.7,226.1 L332.5,226.1 L333.3,226.1 L334.1,226.1 L334.8,226.1 L335.6,226.1 L336.4,226.1 L337.2,226.1 L337.9,226.1 L338.7,226.1 L339.5,226.1 L340.3,226.1 L341.1,226.1 L341.8,226.1 L342.6,226.1 L343.4,226.1 L344.2,226.1 L344.9,226.1 L345.7,226.1 L346.5,226.1 L347.3,226.1 L348.1,226.1 L348.8,226.1 L349.6,226.1 L350.4,226.1 L351.2,226.1 L351.9,226.1 L352.7,226.1 L353.5,226.1 L354.3,226.1 L355.1,226.1 L355.8,226.1 L356.6,226.1 L357.4,226.1 L358.2,226.1 L358.9,226.1 L359.7,226.1 L360.5,226.1 L361.3,226.1 L362.1,226.1 L362.8,226.1 L363.6,226.1 L364.4,226.1 L365.2,226.1 L365.9,226.1 L366.7,226.1 L367.5,226.1 L368.3,226.1 L369.1,226.1 L369.8,226.1 L370.6,226.1 L371.4,226.1 L372.2,226.1 L373.0,226.1 L373.7,226.1 L374.5,226.1 L375.3,226.1 L376.1,226.1 L376.8,226.1 L377.6,226.1 L378.4,226.1 L379.2,226.1 L380.0,226.1 L380.7,226.1 L381.5,226.1 L382.3,226.1 L383.1,226.1 L383.8,226.1 L384.6,226.1 L385.4,226.1 L386.2,226.1 L387.0,226.1 L387.7,226.1 L388.5,226.1 L389.3,226.1 L390.1,226.1 L390.8,226.1 L391.6,226.1 L392.4,226.1 L393.2,226.1 L394.0,226.1 L394.7,226.1 L395.5,226.1 L396.3,226.1 L397.1,226.1 L397.8,226.1 L398.6,226.1 L399.4,226.1 L400.2,226.1 L401.0,226.1 L401.7,226.1 L402.5,226.1 L403.3,226.1 L404.1,226.1 L404.8,226.1 L405.6,226.1 L406.4,226.1 L407.2,226.1 L408.0,226.1 L408.7,226.1 L409.5,226.1 L410.3,226.1 L411.1,226.1 L411.8,226.1 L412.6,226.1 L413.4,226.1 L414.2,226.1 L415.0,226.1 L415.7,226.1 L416.5,226.1 L417.3,226.1 L418.1,226.1 L418.9,226.1 L419.6,226.1 L420.4,226.1 L421.2,226.1 L422.0,226.1 L422.7,226.1 L423.5,226.1 L424.3,226.1 L425.1,226.1 L425.9,226.1 L426.6,226.1 L427.4,226.1 L428.2,226.1 L429.0,226.1 L429.7,226.1 L430.5,226.1 L431.3,226.1 L432.1,226.1 L432.9,226.1 L433.6,226.1 L434.4,226.1 L435.2,226.1 L436.0,226.1 L436.7,226.1 L437.5,226.1 L438.3,226.1 L439.1,226.1 L439.9,226.1 L440.6,226.1 L441.4,226.1 L442.2,226.1 L443.0,226.1 L443.7,226.1 L444.5,226.1 L445.3,226.1 L446.1,226.1 L446.9,226.1 L447.6,226.1 L448.4,226.1 L449.2,226.1 L450.0,226.1 L450.7,226.1 L451.5,226.1 L452.3,226.1 L453.1,226.1 L453.9,226.1 L454.6,226.1 L455.4,226.1 L456.2,226.1 L457.0,226.1 L457.7,226.1 L458.5,226.1 L459.3,226.1 L460.1,226.1 L460.9,226.1 L461.6,226.1 L462.4,226.1 L463.2,226.1 L464.0,226.1 L464.8,226.1 L465.5,226.1 L466.3,226.1 L467.1,226.1 L467.9,226.1 L468.6,226.1 L469.4,226.1 L470.2,226.1 L471.0,226.1 L471.8,226.1 L472.5,226.1 L473.3,226.1 L474.1,226.1 L474.9,226.1 L475.6,226.1 L476.4,226.1 L477.2,226.1 L478.0,226.1 L478.8,226.1 L479.5,226.1 L480.3,226.1 L481.1,226.1 L481.9,226.1 L482.6,226.1 L483.4,226.1 L484.2,226.1 L485.0,226.1 L485.8,226.1 L486.5,226.1 L487.3,226.1 L488.1,226.1 L488.9,226.1 L489.6,226.1 L490.4,226.1 L491.2,226.1 L492.0,226.1 L492.8,226.1 L493.5,226.1 L494.3,226.1 L495.1,226.1 L495.9,226.1 L496.6,226.1 L497.4,226.1 L498.2,226.1 L499.0,226.1 L499.8,226.1 L500.5,226.1 L501.3,226.1 L502.1,226.1 L502.9,226.1 L503.6,226.1 L504.4,226.1 L505.2,226.1 L506.0,226.1 L506.8,226.1 L507.5,226.1 L508.3,226.1 L509.1,226.1 L509.9,226.1 L510.7,226.1 L511.4,226.1 L512.2,226.1 L513.0,226.1 L513.8,226.1 L514.5,226.1 L515.3,226.1 L516.1,226.1 L516.9,226.1 L517.7,226.1 L518.4,226.1 L519.2,226.1 L520.0,226.1 L520.8,226.1 L521.5,226.1 L522.3,226.1 L523.1,226.1 L523.9,226.1 L524.7,226.1 L525.4,226.1 L526.2,226.1 L527.0,226.1 L527.8,226.1 L528.5,226.1 L529.3,226.1 L530.1,226.1 L530.9,226.1 L531.7,226.1 L532.4,226.1 L533.2,226.1 L534.0,226.1 L534.8,226.1 L535.5,226.1 L536.3,226.1 L537.1,226.1 L537.9,226.1 L538.7,226.1 L539.4,226.1 L540.2,226.1 L541.0,226.1 L541.8,226.1 L542.5,226.1 L543.3,226.1 L544.1,226.1 L544.9,226.1 L545.7,226.1 L546.4,226.1 L547.2,226.1 L548.0,226.1 L548.8,226.1 L549.5,226.1 L550.3,226.1 L551.1,226.1 L551.9,226.1 L552.7,226.1 L553.4,226.1 L554.2,226.1 L555.0,226.1 L555.8,226.1 L556.6,226.1 L557.3,226.1 L558.1,226.1 L558.9,226.1 L559.7,226.1 L560.4,226.1 L561.2,226.1 L562.0,226.1 L562.8,226.1 L563.6,226.1 L564.3,226.1 L565.1,226.1 L565.9,226.1 L566.7,226.1 L567.4,226.1 L568.2,226.1 L569.0,226.1 L569.8,226.1 L570.6,226.1 L571.3,226.1 L572.1,226.1 L572.9,226.1 L573.7,226.1 L574.4,226.1 L575.2,226.1 L576.0,226.1" stroke="#1f618d" stroke-width="1.8" stroke-opacity="0.35" fill="none"/><path d="M126.3,519.3 L127.1,513.4 L127.9,507.6 L128.7,501.9 L129.4,496.2 L130.2,490.6 L131.0,485.1 L131.8,479.6 L132.6,474.2 L133.3,468.9 L134.1,463.6 L134.9,458.4 L135.7,453.2 L136.5,448.2 L137.2,443.2 L138.0,438.2 L138.8,433.3 L139.6,428.5 L140.3,423.8 L141.1,419.1 L141.9,414.5 L142.7,409.9 L143.5,405.4 L144.2,401.0 L145.0,396.6 L145.8,392.3 L146.6,388.1 L147.3,383.9 L148.1,379.8 L148.9,375.7 L149.7,371.8 L150.5,367.8 L151.2,364.0 L152.0,360.2 L152.8,356.4 L153.6,352.8 L154.3,349.2 L155.1,345.6 L155.9,342.1 L156.7,338.7 L157.5,335.3 L158.2,332.0 L159.0,328.8 L159.8,325.6 L160.6,322.5 L161.3,319.4 L162.1,316.4 L162.9,313.5 L163.7,310.6 L164.5,307.8 L165.2,305.0 L166.0,302.3 L166.8,299.7 L167.6,297.1 L168.3,294.6 L169.1,292.1 L169.9,289.7 L170.7,287.3 L171.5,285.0 L172.2,282.8 L173.0,280.6 L173.8,278.4 L174.6,276.4 L175.3,274.3 L176.1,272.4 L176.9,270.4 L177.7,268.6 L178.5,266.7 L179.2,265.0 L180.0,263.3 L180.8,261.6 L181.6,260.0 L182.4,258.4 L183.1,256.9 L183.9,255.5 L184.7,254.0 L185.5,252.7 L186.2,251.3 L187.0,250.1 L187.8,248.8 L188.6,247.6 L189.4,246.5 L190.1,245.4 L190.9,244.3 L191.7,243.3 L192.5,242.3 L193.2,241.4 L194.0,240.5 L194.8,239.7 L195.6,238.8 L196.4,238.0 L197.1,237.3 L197.9,236.6 L198.7,235.9 L199.5,235.3 L200.2,234.6 L201.0,234.1 L201.8,233.5 L202.6,233.0 L203.4,232.5 L204.1,232.0 L204.9,231.6 L205.7,231.2 L206.5,230.8 L207.2,230.4 L208.0,230.1 L208.8,229.7 L209.6,229.4 L210.4,229.2 L211.1,228.9 L211.9,228.7 L212.7,228.4 L213.5,228.2 L214.2,228.0 L215.0,227.8 L215.8,227.7 L216.6,227.5 L217.4,227.4 L218.1,227.3 L218.9,227.1 L219.7,227.0 L220.5,226.9 L221.2,226.8 L222.0,226.8 L222.8,226.7 L223.6,226.6 L224.4,226.6 L225.1,226.5 L225.9,226.5 L226.7,226.4 L227.5,226.4 L228.3,226.3 L229.0,226.3 L229.8,226.3 L230.6,226.2 L231.4,226.2 L232.1,226.2 L232.9,226.2 L233.7,226.2 L234.5,226.2 L235.3,226.1 L236.0,226.1 L236.8,226.1 L237.6,226.1 L238.4,226.1 L239.1,226.1 L239.9,226.1 L240.7,226.1 L241.5,226.1 L242.3,226.1 L243.0,226.1 L243.8,226.1 L244.6,226.1 L245.4,226.1 L246.1,226.1 L246.9,226.1 L247.7,226.1 L248.5,226.1 L249.3,226.1 L250.0,226.1 L250.8,226.1 L251.6,226.1 L252.4,226.1 L253.1,226.1 L253.9,226.1 L254.7,226.1 L255.5,226.1 L256.3,226.1 L257.0,226.1 L257.8,226.1 L258.6,226.1 L259.4,226.1 L260.1,226.1 L260.9,226.1 L261.7,226.1 L262.5,226.1 L263.3,226.1 L264.0,226.1 L264.8,226.1 L265.6,226.1 L266.4,226.1 L267.1,226.1 L267.9,226.1 L268.7,226.1 L269.5,226.1 L270.3,226.1 L271.0,226.1 L271.8,226.1 L272.6,226.1 L273.4,226.1 L274.2,226.1 L274.9,226.1 L275.7,226.1 L276.5,226.1 L277.3,226.1 L278.0,226.1 L278.8,226.1 L279.6,226.1 L280.4,226.1 L281.2,226.1 L281.9,226.1 L282.7,226.1 L283.5,226.1 L284.3,226.1 L285.0,226.1 L285.8,226.1 L286.6,226.1 L287.4,226.1 L288.2,226.1 L288.9,226.1 L289.7,226.1 L290.5,226.1 L291.3,226.1 L292.0,226.1 L292.8,226.1 L293.6,226.1 L294.4,226.1 L295.2,226.1 L295.9,226.1 L296.7,226.1 L297.5,226.1 L298.3,226.1 L299.0,226.1 L299.8,226.1 L300.6,226.1 L301.4,226.1 L302.2,226.1 L302.9,226.1 L303.7,226.1 L304.5,226.1 L305.3,226.1 L306.0,226.1 L306.8,226.1 L307.6,226.1 L308.4,226.1 L309.2,226.1 L309.9,226.1 L310.7,226.1 L311.5,226.1 L312.3,226.1 L313.0,226.1 L313.8,226.1 L314.6,226.1 L315.4,226.1 L316.2,226.1 L316.9,226.1 L317.7,226.1 L318.5,226.1 L319.3,226.1 L320.1,226.1 L320.8,226.1 L321.6,226.1 L322.4,226.1 L323.2,226.1 L323.9,226.1 L324.7,226.1 L325.5,226.1 L326.3,226.1 L327.1,226.1 L327.8,226.1 L328.6,226.1 L329.4,226.1 L330.2,226.1 L330.9,226.1 L331.7,226.1 L332.5,226.1 L333.3,226.1 L334.1,226.1 L334.8,226.1 L335.6,226.1 L336.4,226.1 L337.2,226.1 L337.9,226.1 L338.7,226.1 L339.5,226.1 L340.3,226.1 L341.1,226.1 L341.8,226.1 L342.6,226.1 L343.4,226.1 L344.2,226.1 L344.9,226.1 L345.7,226.1 L346.5,226.1 L347.3,226.1 L348.1,226.1 L348.8,226.1 L349.6,226.1 L350.4,226.1 L351.2,226.1 L351.9,226.1 L352.7,226.1 L353.5,226.1 L354.3,226.1 L355.1,226.1 L355.8,226.1 L356.6,226.1 L357.4,226.1 L358.2,226.1 L358.9,226.1 L359.7,226.1 L360.5,226.1 L361.3,226.1 L362.1,226.1 L362.8,226.1 L363.6,226.1 L364.4,226.1 L365.2,226.1 L365.9,226.1 L366.7,226.1 L367.5,226.1 L368.3,226.1 L369.1,226.1 L369.8,226.1 L370.6,226.1 L371.4,226.1 L372.2,226.1 L373.0,226.1 L373.7,226.1 L374.5,226.1 L375.3,226.1 L376.1,226.1 L376.8,226.1 L377.6,226.1 L378.4,226.1 L379.2,226.1 L380.0,226.1 L380.7,226.1 L381.5,226.1 L382.3,226.1 L383.1,226.1 L383.8,226.1 L384.6,226.1 L385.4,226.1 L386.2,226.1 L387.0,226.1 L387.7,226.1 L388.5,226.1 L389.3,226.1 L390.1,226.1 L390.8,226.1 L391.6,226.1 L392.4,226.1 L393.2,226.1 L394.0,226.1 L394.7,226.1 L395.5,226.1 L396.3,226.1 L397.1,226.1 L397.8,226.1 L398.6,226.1 L399.4,226.1 L400.2,226.1 L401.0,226.1 L401.7,226.1 L402.5,226.1 L403.3,226.1 L404.1,226.1 L404.8,226.1 L405.6,226.1 L406.4,226.1 L407.2,226.1 L408.0,226.1 L408.7,226.1 L409.5,226.1 L410.3,226.1 L411.1,226.1 L411.8,226.1 L412.6,226.1 L413.4,226.1 L414.2,226.1 L415.0,226.1 L415.7,226.1 L416.5,226.1 L417.3,226.1 L418.1,226.1 L418.9,226.1 L419.6,226.1 L420.4,226.1 L421.2,226.1 L422.0,226.1 L422.7,226.1 L423.5,226.1 L424.3,226.1 L425.1,226.1 L425.9,226.1 L426.6,226.1 L427.4,226.1 L428.2,226.1 L429.0,226.1 L429.7,226.1 L430.5,226.1 L431.3,226.1 L432.1,226.1 L432.9,226.1 L433.6,226.1 L434.4,226.1 L435.2,226.1 L436.0,226.1 L436.7,226.1 L437.5,226.1 L438.3,226.1 L439.1,226.1 L439.9,226.1 L440.6,226.1 L441.4,226.1 L442.2,226.1 L443.0,226.1 L443.7,226.1 L444.5,226.1 L445.3,226.1 L446.1,226.1 L446.9,226.1 L447.6,226.1 L448.4,226.1 L449.2,226.1 L450.0,226.1 L450.7,226.1 L451.5,226.1 L452.3,226.1 L453.1,226.1 L453.9,226.1 L454.6,226.1 L455.4,226.1 L456.2,226.1 L457.0,226.1 L457.7,226.1 L458.5,226.1 L459.3,226.1 L460.1,226.1 L460.9,226.1 L461.6,226.1 L462.4,226.1 L463.2,226.1 L464.0,226.1 L464.8,226.1 L465.5,226.1 L466.3,226.1 L467.1,226.1 L467.9,226.1 L468.6,226.1 L469.4,226.1 L470.2,226.1 L471.0,226.1 L471.8,226.1 L472.5,226.1 L473.3,226.1 L474.1,226.1 L474.9,226.1 L475.6,226.1 L476.4,226.1 L477.2,226.1 L478.0,226.1 L478.8,226.1 L479.5,226.1 L480.3,226.1 L481.1,226.1 L481.9,226.1 L482.6,226.1 L483.4,226.1 L484.2,226.1 L485.0,226.1 L485.8,226.1 L486.5,226.1 L487.3,226.1 L488.1,226.1 L488.9,226.1 L489.6,226.1 L490.4,226.1 L491.2,226.1 L492.0,226.1 L492.8,226.1 L493.5,226.1 L494.3,226.1 L495.1,226.1 L495.9,226.1 L496.6,226.1 L497.4,226.1 L498.2,226.1 L499.0,226.1 L499.8,226.1 L500.5,226.1 L501.3,226.1 L502.1,226.1 L502.9,226.1 L503.6,226.1 L504.4,226.1 L505.2,226.1 L506.0,226.1 L506.8,226.1 L507.5,226.1 L508.3,226.1 L509.1,226.1 L509.9,226.1 L510.7,226.1 L511.4,226.1 L512.2,226.1 L513.0,226.1 L513.8,226.1 L514.5,226.1 L515.3,226.1 L516.1,226.1 L516.9,226.1 L517.7,226.1 L518.4,226.1 L519.2,226.1 L520.0,226.1 L520.8,226.1 L521.5,226.1 L522.3,226.1 L523.1,226.1 L523.9,226.1 L524.7,226.1 L525.4,226.1 L526.2,226.1 L527.0,226.1 L527.8,226.1 L528.5,226.1 L529.3,226.1 L530.1,226.1 L530.9,226.1 L531.7,226.1 L532.4,226.1 L533.2,226.1 L534.0,226.1 L534.8,226.1 L535.5,226.1 L536.3,226.1 L537.1,226.1 L537.9,226.1 L538.7,226.1 L539.4,226.1 L540.2,226.1 L541.0,226.1 L541.8,226.1 L542.5,226.1 L543.3,226.1 L544.1,226.1 L544.9,226.1 L545.7,226.1 L546.4,226.1 L547.2,226.1 L548.0,226.1 L548.8,226.1 L549.5,226.1 L550.3,226.1 L551.1,226.1 L551.9,226.1 L552.7,226.1 L553.4,226.1 L554.2,226.1 L555.0,226.1 L555.8,226.1 L556.6,226.1 L557.3,226.1 L558.1,226.1 L558.9,226.1 L559.7,226.1 L560.4,226.1 L561.2,226.1 L562.0,226.1 L562.8,226.1 L563.6,226.1 L564.3,226.1 L565.1,226.1 L565.9,226.1 L566.7,226.1 L567.4,226.1 L568.2,226.1 L569.0,226.1 L569.8,226.1 L570.6,226.1 L571.3,226.1 L572.1,226.1 L572.9,226.1 L573.7,226.1 L574.4,226.1 L575.2,226.1 L576.0,226.1" stroke="#1f618d" stroke-width="3.2" stroke-opacity="0.85" fill="none" stroke-dasharray="10.28,4.44"/><path d="M127.1,519.5 L127.9,514.4 L128.7,509.4 L129.4,504.4 L130.2,499.5 L131.0,494.6 L131.8,489.8 L132.6,485.0 L133.3,480.3 L134.1,475.6 L134.9,471.0 L135.7,466.4 L136.5,461.9 L137.2,457.4 L138.0,453.0 L138.8,448.6 L139.6,444.3 L140.3,440.0 L141.1,435.8 L141.9,431.6 L142.7,427.4 L143.5,423.4 L144.2,419.3 L145.0,415.3 L145.8,411.4 L146.6,407.5 L147.3,403.6 L148.1,399.8 L148.9,396.0 L149.7,392.3 L150.5,388.7 L151.2,385.1 L152.0,381.5 L152.8,378.0 L153.6,374.5 L154.3,371.1 L155.1,367.7 L155.9,364.4 L156.7,361.1 L157.5,357.8 L158.2,354.6 L159.0,351.5 L159.8,348.4 L160.6,345.3 L161.3,342.3 L162.1,339.4 L162.9,336.5 L163.7,333.6 L164.5,330.8 L165.2,328.0 L166.0,325.3 L166.8,322.6 L167.6,319.9 L168.3,317.3 L169.1,314.8 L169.9,312.2 L170.7,309.8 L171.5,307.4 L172.2,305.0 L173.0,302.6 L173.8,300.3 L174.6,298.1 L175.3,295.9 L176.1,293.7 L176.9,291.6 L177.7,289.5 L178.5,287.5 L179.2,285.5 L180.0,283.5 L180.8,281.6 L181.6,279.8 L182.4,277.9 L183.1,276.1 L183.9,274.4 L184.7,272.7 L185.5,271.0 L186.2,269.4 L187.0,267.8 L187.8,266.2 L188.6,264.7 L189.4,263.2 L190.1,261.8 L190.9,260.4 L191.7,259.0 L192.5,257.7 L193.2,256.4 L194.0,255.2 L194.8,254.0 L195.6,252.8 L196.4,251.6 L197.1,250.5 L197.9,249.4 L198.7,248.4 L199.5,247.4 L200.2,246.4 L201.0,245.4 L201.8,244.5 L202.6,243.6 L203.4,242.8 L204.1,242.0 L204.9,241.2 L205.7,240.4 L206.5,239.7 L207.2,238.9 L208.0,238.3 L208.8,237.6 L209.6,237.0 L210.4,236.4 L211.1,235.8 L211.9,235.2 L212.7,234.7 L213.5,234.2 L214.2,233.7 L215.0,233.2 L215.8,232.8 L216.6,232.4 L217.4,232.0 L218.1,231.6 L218.9,231.2 L219.7,230.9 L220.5,230.6 L221.2,230.3 L222.0,230.0 L222.8,229.7 L223.6,229.5 L224.4,229.2 L225.1,229.0 L225.9,228.8 L226.7,228.6 L227.5,228.4 L228.3,228.2 L229.0,228.0 L229.8,227.9 L230.6,227.7 L231.4,227.6 L232.1,227.5 L232.9,227.3 L233.7,227.2 L234.5,227.1 L235.3,227.0 L236.0,227.0 L236.8,226.9 L237.6,226.8 L238.4,226.7 L239.1,226.7 L239.9,226.6 L240.7,226.6 L241.5,226.5 L242.3,226.5 L243.0,226.4 L243.8,226.4 L244.6,226.4 L245.4,226.3 L246.1,226.3 L246.9,226.3 L247.7,226.2 L248.5,226.2 L249.3,226.2 L250.0,226.2 L250.8,226.2 L251.6,226.2 L252.4,226.2 L253.1,226.1 L253.9,226.1 L254.7,226.1 L255.5,226.1 L256.3,226.1 L257.0,226.1 L257.8,226.1 L258.6,226.1 L259.4,226.1 L260.1,226.1 L260.9,226.1 L261.7,226.1 L262.5,226.1 L263.3,226.1 L264.0,226.1 L264.8,226.1 L265.6,226.1 L266.4,226.1 L267.1,226.1 L267.9,226.1 L268.7,226.1 L269.5,226.1 L270.3,226.1 L271.0,226.1 L271.8,226.1 L272.6,226.1 L273.4,226.1 L274.2,226.1 L274.9,226.1 L275.7,226.1 L276.5,226.1 L277.3,226.1 L278.0,226.1 L278.8,226.1 L279.6,226.1 L280.4,226.1 L281.2,226.1 L281.9,226.1 L282.7,226.1 L283.5,226.1 L284.3,226.1 L285.0,226.1 L285.8,226.1 L286.6,226.1 L287.4,226.1 L288.2,226.1 L288.9,226.1 L289.7,226.1 L290.5,226.1 L291.3,226.1 L292.0,226.1 L292.8,226.1 L293.6,226.1 L294.4,226.1 L295.2,226.1 L295.9,226.1 L296.7,226.1 L297.5,226.1 L298.3,226.1 L299.0,226.1 L299.8,226.1 L300.6,226.1 L301.4,226.1 L302.2,226.1 L302.9,226.1 L303.7,226.1 L304.5,226.1 L305.3,226.1 L306.0,226.1 L306.8,226.1 L307.6,226.1 L308.4,226.1 L309.2,226.1 L309.9,226.1 L310.7,226.1 L311.5,226.1 L312.3,226.1 L313.0,226.1 L313.8,226.1 L314.6,226.1 L315.4,226.1 L316.2,226.1 L316.9,226.1 L317.7,226.1 L318.5,226.1 L319.3,226.1 L320.1,226.1 L320.8,226.1 L321.6,226.1 L322.4,226.1 L323.2,226.1 L323.9,226.1 L324.7,226.1 L325.5,226.1 L326.3,226.1 L327.1,226.1 L327.8,226.1 L328.6,226.1 L329.4,226.1 L330.2,226.1 L330.9,226.1 L331.7,226.1 L332.5,226.1 L333.3,226.1 L334.1,226.1 L334.8,226.1 L335.6,226.1 L336.4,226.1 L337.2,226.1 L337.9,226.1 L338.7,226.1 L339.5,226.1 L340.3,226.1 L341.1,226.1 L341.8,226.1 L342.6,226.1 L343.4,226.1 L344.2,226.1 L344.9,226.1 L345.7,226.1 L346.5,226.1 L347.3,226.1 L348.1,226.1 L348.8,226.1 L349.6,226.1 L350.4,226.1 L351.2,226.1 L351.9,226.1 L352.7,226.1 L353.5,226.1 L354.3,226.1 L355.1,226.1 L355.8,226.1 L356.6,226.1 L357.4,226.1 L358.2,226.1 L358.9,226.1 L359.7,226.1 L360.5,226.1 L361.3,226.1 L362.1,226.1 L362.8,226.1 L363.6,226.1 L364.4,226.1 L365.2,226.1 L365.9,226.1 L366.7,226.1 L367.5,226.1 L368.3,226.1 L369.1,226.1 L369.8,226.1 L370.6,226.1 L371.4,226.1 L372.2,226.1 L373.0,226.1 L373.7,226.1 L374.5,226.1 L375.3,226.1 L376.1,226.1 L376.8,226.1 L377.6,226.1 L378.4,226.1 L379.2,226.1 L380.0,226.1 L380.7,226.1 L381.5,226.1 L382.3,226.1 L383.1,226.1 L383.8,226.1 L384.6,226.1 L385.4,226.1 L386.2,226.1 L387.0,226.1 L387.7,226.1 L388.5,226.1 L389.3,226.1 L390.1,226.1 L390.8,226.1 L391.6,226.1 L392.4,226.1 L393.2,226.1 L394.0,226.1 L394.7,226.1 L395.5,226.1 L396.3,226.1 L397.1,226.1 L397.8,226.1 L398.6,226.1 L399.4,226.1 L400.2,226.1 L401.0,226.1 L401.7,226.1 L402.5,226.1 L403.3,226.1 L404.1,226.1 L404.8,226.1 L405.6,226.1 L406.4,226.1 L407.2,226.1 L408.0,226.1 L408.7,226.1 L409.5,226.1 L410.3,226.1 L411.1,226.1 L411.8,226.1 L412.6,226.1 L413.4,226.1 L414.2,226.1 L415.0,226.1 L415.7,226.1 L416.5,226.1 L417.3,226.1 L418.1,226.1 L418.9,226.1 L419.6,226.1 L420.4,226.1 L421.2,226.1 L422.0,226.1 L422.7,226.1 L423.5,226.1 L424.3,226.1 L425.1,226.1 L425.9,226.1 L426.6,226.1 L427.4,226.1 L428.2,226.1 L429.0,226.1 L429.7,226.1 L430.5,226.1 L431.3,226.1 L432.1,226.1 L432.9,226.1 L433.6,226.1 L434.4,226.1 L435.2,226.1 L436.0,226.1 L436.7,226.1 L437.5,226.1 L438.3,226.1 L439.1,226.1 L439.9,226.1 L440.6,226.1 L441.4,226.1 L442.2,226.1 L443.0,226.1 L443.7,226.1 L444.5,226.1 L445.3,226.1 L446.1,226.1 L446.9,226.1 L447.6,226.1 L448.4,226.1 L449.2,226.1 L450.0,226.1 L450.7,226.1 L451.5,226.1 L452.3,226.1 L453.1,226.1 L453.9,226.1 L454.6,226.1 L455.4,226.1 L456.2,226.1 L457.0,226.1 L457.7,226.1 L458.5,226.1 L459.3,226.1 L460.1,226.1 L460.9,226.1 L461.6,226.1 L462.4,226.1 L463.2,226.1 L464.0,226.1 L464.8,226.1 L465.5,226.1 L466.3,226.1 L467.1,226.1 L467.9,226.1 L468.6,226.1 L469.4,226.1 L470.2,226.1 L471.0,226.1 L471.8,226.1 L472.5,226.1 L473.3,226.1 L474.1,226.1 L474.9,226.1 L475.6,226.1 L476.4,226.1 L477.2,226.1 L478.0,226.1 L478.8,226.1 L479.5,226.1 L480.3,226.1 L481.1,226.1 L481.9,226.1 L482.6,226.1 L483.4,226.1 L484.2,226.1 L485.0,226.1 L485.8,226.1 L486.5,226.1 L487.3,226.1 L488.1,226.1 L488.9,226.1 L489.6,226.1 L490.4,226.1 L491.2,226.1 L492.0,226.1 L492.8,226.1 L493.5,226.1 L494.3,226.1 L495.1,226.1 L495.9,226.1 L496.6,226.1 L497.4,226.1 L498.2,226.1 L499.0,226.1 L499.8,226.1 L500.5,226.1 L501.3,226.1 L502.1,226.1 L502.9,226.1 L503.6,226.1 L504.4,226.1 L505.2,226.1 L506.0,226.1 L506.8,226.1 L507.5,226.1 L508.3,226.1 L509.1,226.1 L509.9,226.1 L510.7,226.1 L511.4,226.1 L512.2,226.1 L513.0,226.1 L513.8,226.1 L514.5,226.1 L515.3,226.1 L516.1,226.1 L516.9,226.1 L517.7,226.1 L518.4,226.1 L519.2,226.1 L520.0,226.1 L520.8,226.1 L521.5,226.1 L522.3,226.1 L523.1,226.1 L523.9,226.1 L524.7,226.1 L525.4,226.1 L526.2,226.1 L527.0,226.1 L527.8,226.1 L528.5,226.1 L529.3,226.1 L530.1,226.1 L530.9,226.1 L531.7,226.1 L532.4,226.1 L533.2,226.1 L534.0,226.1 L534.8,226.1 L535.5,226.1 L536.3,226.1 L537.1,226.1 L537.9,226.1 L538.7,226.1 L539.4,226.1 L540.2,226.1 L541.0,226.1 L541.8,226.1 L542.5,226.1 L543.3,226.1 L544.1,226.1 L544.9,226.1 L545.7,226.1 L546.4,226.1 L547.2,226.1 L548.0,226.1 L548.8,226.1 L549.5,226.1 L550.3,226.1 L551.1,226.1 L551.9,226.1 L552.7,226.1 L553.4,226.1 L554.2,226.1 L555.0,226.1 L555.8,226.1 L556.6,226.1 L557.3,226.1 L558.1,226.1 L558.9,226.1 L559.7,226.1 L560.4,226.1 L561.2,226.1 L562.0,226.1 L562.8,226.1 L563.6,226.1 L564.3,226.1 L565.1,226.1 L565.9,226.1 L566.7,226.1 L567.4,226.1 L568.2,226.1 L569.0,226.1 L569.8,226.1 L570.6,226.1 L571.3,226.1 L572.1,226.1 L572.9,226.1 L573.7,226.1 L574.4,226.1 L575.2,226.1 L576.0,226.1" stroke="#1a703f" stroke-width="1.8" stroke-opacity="0.35" fill="none"/><path d="M127.1,519.5 L127.9,514.4 L128.7,509.4 L129.4,504.4 L130.2,499.5 L131.0,494.6 L131.8,489.8 L132.6,485.0 L133.3,480.3 L134.1,475.6 L134.9,471.0 L135.7,466.4 L136.5,461.9 L137.2,457.4 L138.0,453.0 L138.8,448.6 L139.6,444.3 L140.3,440.0 L141.1,435.8 L141.9,431.6 L142.7,427.4 L143.5,423.4 L144.2,419.3 L145.0,415.3 L145.8,411.4 L146.6,407.5 L147.3,403.6 L148.1,399.8 L148.9,396.0 L149.7,392.3 L150.5,388.7 L151.2,385.1 L152.0,381.5 L152.8,378.0 L153.6,374.5 L154.3,371.1 L155.1,367.7 L155.9,364.4 L156.7,361.1 L157.5,357.8 L158.2,354.6 L159.0,351.5 L159.8,348.4 L160.6,345.3 L161.3,342.3 L162.1,339.4 L162.9,336.5 L163.7,333.6 L164.5,330.8 L165.2,328.0 L166.0,325.3 L166.8,322.6 L167.6,319.9 L168.3,317.3 L169.1,314.8 L169.9,312.2 L170.7,309.8 L171.5,307.4 L172.2,305.0 L173.0,302.6 L173.8,300.3 L174.6,298.1 L175.3,295.9 L176.1,293.7 L176.9,291.6 L177.7,289.5 L178.5,287.5 L179.2,285.5 L180.0,283.5 L180.8,281.6 L181.6,279.8 L182.4,277.9 L183.1,276.1 L183.9,274.4 L184.7,272.7 L185.5,271.0 L186.2,269.4 L187.0,267.8 L187.8,266.2 L188.6,264.7 L189.4,263.2 L190.1,261.8 L190.9,260.4 L191.7,259.0 L192.5,257.7 L193.2,256.4 L194.0,255.2 L194.8,254.0 L195.6,252.8 L196.4,251.6 L197.1,250.5 L197.9,249.4 L198.7,248.4 L199.5,247.4 L200.2,246.4 L201.0,245.4 L201.8,244.5 L202.6,243.6 L203.4,242.8 L204.1,242.0 L204.9,241.2 L205.7,240.4 L206.5,239.7 L207.2,238.9 L208.0,238.3 L208.8,237.6 L209.6,237.0 L210.4,236.4 L211.1,235.8 L211.9,235.2 L212.7,234.7 L213.5,234.2 L214.2,233.7 L215.0,233.2 L215.8,232.8 L216.6,232.4 L217.4,232.0 L218.1,231.6 L218.9,231.2 L219.7,230.9 L220.5,230.6 L221.2,230.3 L222.0,230.0 L222.8,229.7 L223.6,229.5 L224.4,229.2 L225.1,229.0 L225.9,228.8 L226.7,228.6 L227.5,228.4 L228.3,228.2 L229.0,228.0 L229.8,227.9 L230.6,227.7 L231.4,227.6 L232.1,227.5 L232.9,227.3 L233.7,227.2 L234.5,227.1 L235.3,227.0 L236.0,227.0 L236.8,226.9 L237.6,226.8 L238.4,226.7 L239.1,226.7 L239.9,226.6 L240.7,226.6 L241.5,226.5 L242.3,226.5 L243.0,226.4 L243.8,226.4 L244.6,226.4 L245.4,226.3 L246.1,226.3 L246.9,226.3 L247.7,226.2 L248.5,226.2 L249.3,226.2 L250.0,226.2 L250.8,226.2 L251.6,226.2 L252.4,226.2 L253.1,226.1 L253.9,226.1 L254.7,226.1 L255.5,226.1 L256.3,226.1 L257.0,226.1 L257.8,226.1 L258.6,226.1 L259.4,226.1 L260.1,226.1 L260.9,226.1 L261.7,226.1 L262.5,226.1 L263.3,226.1 L264.0,226.1 L264.8,226.1 L265.6,226.1 L266.4,226.1 L267.1,226.1 L267.9,226.1 L268.7,226.1 L269.5,226.1 L270.3,226.1 L271.0,226.1 L271.8,226.1 L272.6,226.1 L273.4,226.1 L274.2,226.1 L274.9,226.1 L275.7,226.1 L276.5,226.1 L277.3,226.1 L278.0,226.1 L278.8,226.1 L279.6,226.1 L280.4,226.1 L281.2,226.1 L281.9,226.1 L282.7,226.1 L283.5,226.1 L284.3,226.1 L285.0,226.1 L285.8,226.1 L286.6,226.1 L287.4,226.1 L288.2,226.1 L288.9,226.1 L289.7,226.1 L290.5,226.1 L291.3,226.1 L292.0,226.1 L292.8,226.1 L293.6,226.1 L294.4,226.1 L295.2,226.1 L295.9,226.1 L296.7,226.1 L297.5,226.1 L298.3,226.1 L299.0,226.1 L299.8,226.1 L300.6,226.1 L301.4,226.1 L302.2,226.1 L302.9,226.1 L303.7,226.1 L304.5,226.1 L305.3,226.1 L306.0,226.1 L306.8,226.1 L307.6,226.1 L308.4,226.1 L309.2,226.1 L309.9,226.1 L310.7,226.1 L311.5,226.1 L312.3,226.1 L313.0,226.1 L313.8,226.1 L314.6,226.1 L315.4,226.1 L316.2,226.1 L316.9,226.1 L317.7,226.1 L318.5,226.1 L319.3,226.1 L320.1,226.1 L320.8,226.1 L321.6,226.1 L322.4,226.1 L323.2,226.1 L323.9,226.1 L324.7,226.1 L325.5,226.1 L326.3,226.1 L327.1,226.1 L327.8,226.1 L328.6,226.1 L329.4,226.1 L330.2,226.1 L330.9,226.1 L331.7,226.1 L332.5,226.1 L333.3,226.1 L334.1,226.1 L334.8,226.1 L335.6,226.1 L336.4,226.1 L337.2,226.1 L337.9,226.1 L338.7,226.1 L339.5,226.1 L340.3,226.1 L341.1,226.1 L341.8,226.1 L342.6,226.1 L343.4,226.1 L344.2,226.1 L344.9,226.1 L345.7,226.1 L346.5,226.1 L347.3,226.1 L348.1,226.1 L348.8,226.1 L349.6,226.1 L350.4,226.1 L351.2,226.1 L351.9,226.1 L352.7,226.1 L353.5,226.1 L354.3,226.1 L355.1,226.1 L355.8,226.1 L356.6,226.1 L357.4,226.1 L358.2,226.1 L358.9,226.1 L359.7,226.1 L360.5,226.1 L361.3,226.1 L362.1,226.1 L362.8,226.1 L363.6,226.1 L364.4,226.1 L365.2,226.1 L365.9,226.1 L366.7,226.1 L367.5,226.1 L368.3,226.1 L369.1,226.1 L369.8,226.1 L370.6,226.1 L371.4,226.1 L372.2,226.1 L373.0,226.1 L373.7,226.1 L374.5,226.1 L375.3,226.1 L376.1,226.1 L376.8,226.1 L377.6,226.1 L378.4,226.1 L379.2,226.1 L380.0,226.1 L380.7,226.1 L381.5,226.1 L382.3,226.1 L383.1,226.1 L383.8,226.1 L384.6,226.1 L385.4,226.1 L386.2,226.1 L387.0,226.1 L387.7,226.1 L388.5,226.1 L389.3,226.1 L390.1,226.1 L390.8,226.1 L391.6,226.1 L392.4,226.1 L393.2,226.1 L394.0,226.1 L394.7,226.1 L395.5,226.1 L396.3,226.1 L397.1,226.1 L397.8,226.1 L398.6,226.1 L399.4,226.1 L400.2,226.1 L401.0,226.1 L401.7,226.1 L402.5,226.1 L403.3,226.1 L404.1,226.1 L404.8,226.1 L405.6,226.1 L406.4,226.1 L407.2,226.1 L408.0,226.1 L408.7,226.1 L409.5,226.1 L410.3,226.1 L411.1,226.1 L411.8,226.1 L412.6,226.1 L413.4,226.1 L414.2,226.1 L415.0,226.1 L415.7,226.1 L416.5,226.1 L417.3,226.1 L418.1,226.1 L418.9,226.1 L419.6,226.1 L420.4,226.1 L421.2,226.1 L422.0,226.1 L422.7,226.1 L423.5,226.1 L424.3,226.1 L425.1,226.1 L425.9,226.1 L426.6,226.1 L427.4,226.1 L428.2,226.1 L429.0,226.1 L429.7,226.1 L430.5,226.1 L431.3,226.1 L432.1,226.1 L432.9,226.1 L433.6,226.1 L434.4,226.1 L435.2,226.1 L436.0,226.1 L436.7,226.1 L437.5,226.1 L438.3,226.1 L439.1,226.1 L439.9,226.1 L440.6,226.1 L441.4,226.1 L442.2,226.1 L443.0,226.1 L443.7,226.1 L444.5,226.1 L445.3,226.1 L446.1,226.1 L446.9,226.1 L447.6,226.1 L448.4,226.1 L449.2,226.1 L450.0,226.1 L450.7,226.1 L451.5,226.1 L452.3,226.1 L453.1,226.1 L453.9,226.1 L454.6,226.1 L455.4,226.1 L456.2,226.1 L457.0,226.1 L457.7,226.1 L458.5,226.1 L459.3,226.1 L460.1,226.1 L460.9,226.1 L461.6,226.1 L462.4,226.1 L463.2,226.1 L464.0,226.1 L464.8,226.1 L465.5,226.1 L466.3,226.1 L467.1,226.1 L467.9,226.1 L468.6,226.1 L469.4,226.1 L470.2,226.1 L471.0,226.1 L471.8,226.1 L472.5,226.1 L473.3,226.1 L474.1,226.1 L474.9,226.1 L475.6,226.1 L476.4,226.1 L477.2,226.1 L478.0,226.1 L478.8,226.1 L479.5,226.1 L480.3,226.1 L481.1,226.1 L481.9,226.1 L482.6,226.1 L483.4,226.1 L484.2,226.1 L485.0,226.1 L485.8,226.1 L486.5,226.1 L487.3,226.1 L488.1,226.1 L488.9,226.1 L489.6,226.1 L490.4,226.1 L491.2,226.1 L492.0,226.1 L492.8,226.1 L493.5,226.1 L494.3,226.1 L495.1,226.1 L495.9,226.1 L496.6,226.1 L497.4,226.1 L498.2,226.1 L499.0,226.1 L499.8,226.1 L500.5,226.1 L501.3,226.1 L502.1,226.1 L502.9,226.1 L503.6,226.1 L504.4,226.1 L505.2,226.1 L506.0,226.1 L506.8,226.1 L507.5,226.1 L508.3,226.1 L509.1,226.1 L509.9,226.1 L510.7,226.1 L511.4,226.1 L512.2,226.1 L513.0,226.1 L513.8,226.1 L514.5,226.1 L515.3,226.1 L516.1,226.1 L516.9,226.1 L517.7,226.1 L518.4,226.1 L519.2,226.1 L520.0,226.1 L520.8,226.1 L521.5,226.1 L522.3,226.1 L523.1,226.1 L523.9,226.1 L524.7,226.1 L525.4,226.1 L526.2,226.1 L527.0,226.1 L527.8,226.1 L528.5,226.1 L529.3,226.1 L530.1,226.1 L530.9,226.1 L531.7,226.1 L532.4,226.1 L533.2,226.1 L534.0,226.1 L534.8,226.1 L535.5,226.1 L536.3,226.1 L537.1,226.1 L537.9,226.1 L538.7,226.1 L539.4,226.1 L540.2,226.1 L541.0,226.1 L541.8,226.1 L542.5,226.1 L543.3,226.1 L544.1,226.1 L544.9,226.1 L545.7,226.1 L546.4,226.1 L547.2,226.1 L548.0,226.1 L548.8,226.1 L549.5,226.1 L550.3,226.1 L551.1,226.1 L551.9,226.1 L552.7,226.1 L553.4,226.1 L554.2,226.1 L555.0,226.1 L555.8,226.1 L556.6,226.1 L557.3,226.1 L558.1,226.1 L558.9,226.1 L559.7,226.1 L560.4,226.1 L561.2,226.1 L562.0,226.1 L562.8,226.1 L563.6,226.1 L564.3,226.1 L565.1,226.1 L565.9,226.1 L566.7,226.1 L567.4,226.1 L568.2,226.1 L569.0,226.1 L569.8,226.1 L570.6,226.1 L571.3,226.1 L572.1,226.1 L572.9,226.1 L573.7,226.1 L574.4,226.1 L575.2,226.1 L576.0,226.1" stroke="#1a703f" stroke-width="3.2" stroke-opacity="0.85" fill="none" stroke-dasharray="10.28,4.44"/><path d="M138.0,518.3 L138.8,513.0 L139.6,507.8 L140.3,502.6 L141.1,497.5 L141.9,492.5 L142.7,487.5 L143.5,482.6 L144.2,477.7 L145.0,472.9 L145.8,468.1 L146.6,463.3 L147.3,458.7 L148.1,454.1 L148.9,449.5 L149.7,445.0 L150.5,440.5 L151.2,436.1 L152.0,431.7 L152.8,427.4 L153.6,423.2 L154.3,419.0 L155.1,414.8 L155.9,410.7 L156.7,406.7 L157.5,402.7 L158.2,398.7 L159.0,394.8 L159.8,391.0 L160.6,387.2 L161.3,383.5 L162.1,379.8 L162.9,376.2 L163.7,372.6 L164.5,369.0 L165.2,365.5 L166.0,362.1 L166.8,358.7 L167.6,355.4 L168.3,352.1 L169.1,348.9 L169.9,345.7 L170.7,342.6 L171.5,339.5 L172.2,336.4 L173.0,333.5 L173.8,330.5 L174.6,327.6 L175.3,324.8 L176.1,322.0 L176.9,319.3 L177.7,316.6 L178.5,313.9 L179.2,311.3 L180.0,308.8 L180.8,306.3 L181.6,303.8 L182.4,301.4 L183.1,299.1 L183.9,296.8 L184.7,294.5 L185.5,292.3 L186.2,290.1 L187.0,288.0 L187.8,285.9 L188.6,283.8 L189.4,281.8 L190.1,279.9 L190.9,278.0 L191.7,276.1 L192.5,274.3 L193.2,272.5 L194.0,270.8 L194.8,269.1 L195.6,267.5 L196.4,265.9 L197.1,264.3 L197.9,262.8 L198.7,261.3 L199.5,259.9 L200.2,258.4 L201.0,257.1 L201.8,255.8 L202.6,254.5 L203.4,253.2 L204.1,252.0 L204.9,250.9 L205.7,249.7 L206.5,248.6 L207.2,247.6 L208.0,246.5 L208.8,245.5 L209.6,244.6 L210.4,243.7 L211.1,242.8 L211.9,241.9 L212.7,241.1 L213.5,240.3 L214.2,239.5 L215.0,238.8 L215.8,238.1 L216.6,237.4 L217.4,236.8 L218.1,236.2 L218.9,235.6 L219.7,235.0 L220.5,234.5 L221.2,233.9 L222.0,233.4 L222.8,233.0 L223.6,232.5 L224.4,232.1 L225.1,231.7 L225.9,231.3 L226.7,231.0 L227.5,230.6 L228.3,230.3 L229.0,230.0 L229.8,229.7 L230.6,229.4 L231.4,229.2 L232.1,229.0 L232.9,228.7 L233.7,228.5 L234.5,228.3 L235.3,228.1 L236.0,228.0 L236.8,227.8 L237.6,227.7 L238.4,227.5 L239.1,227.4 L239.9,227.3 L240.7,227.2 L241.5,227.1 L242.3,227.0 L243.0,226.9 L243.8,226.8 L244.6,226.7 L245.4,226.7 L246.1,226.6 L246.9,226.6 L247.7,226.5 L248.5,226.5 L249.3,226.4 L250.0,226.4 L250.8,226.4 L251.6,226.3 L252.4,226.3 L253.1,226.3 L253.9,226.2 L254.7,226.2 L255.5,226.2 L256.3,226.2 L257.0,226.2 L257.8,226.2 L258.6,226.1 L259.4,226.1 L260.1,226.1 L260.9,226.1 L261.7,226.1 L262.5,226.1 L263.3,226.1 L264.0,226.1 L264.8,226.1 L265.6,226.1 L266.4,226.1 L267.1,226.1 L267.9,226.1 L268.7,226.1 L269.5,226.1 L270.3,226.1 L271.0,226.1 L271.8,226.1 L272.6,226.1 L273.4,226.1 L274.2,226.1 L274.9,226.1 L275.7,226.1 L276.5,226.1 L277.3,226.1 L278.0,226.1 L278.8,226.1 L279.6,226.1 L280.4,226.1 L281.2,226.1 L281.9,226.1 L282.7,226.1 L283.5,226.1 L284.3,226.1 L285.0,226.1 L285.8,226.1 L286.6,226.1 L287.4,226.1 L288.2,226.1 L288.9,226.1 L289.7,226.1 L290.5,226.1 L291.3,226.1 L292.0,226.1 L292.8,226.1 L293.6,226.1 L294.4,226.1 L295.2,226.1 L295.9,226.1 L296.7,226.1 L297.5,226.1 L298.3,226.1 L299.0,226.1 L299.8,226.1 L300.6,226.1 L301.4,226.1 L302.2,226.1 L302.9,226.1 L303.7,226.1 L304.5,226.1 L305.3,226.1 L306.0,226.1 L306.8,226.1 L307.6,226.1 L308.4,226.1 L309.2,226.1 L309.9,226.1 L310.7,226.1 L311.5,226.1 L312.3,226.1 L313.0,226.1 L313.8,226.1 L314.6,226.1 L315.4,226.1 L316.2,226.1 L316.9,226.1 L317.7,226.1 L318.5,226.1 L319.3,226.1 L320.1,226.1 L320.8,226.1 L321.6,226.1 L322.4,226.1 L323.2,226.1 L323.9,226.1 L324.7,226.1 L325.5,226.1 L326.3,226.1 L327.1,226.1 L327.8,226.1 L328.6,226.1 L329.4,226.1 L330.2,226.1 L330.9,226.1 L331.7,226.1 L332.5,226.1 L333.3,226.1 L334.1,226.1 L334.8,226.1 L335.6,226.1 L336.4,226.1 L337.2,226.1 L337.9,226.1 L338.7,226.1 L339.5,226.1 L340.3,226.1 L341.1,226.1 L341.8,226.1 L342.6,226.1 L343.4,226.1 L344.2,226.1 L344.9,226.1 L345.7,226.1 L346.5,226.1 L347.3,226.1 L348.1,226.1 L348.8,226.1 L349.6,226.1 L350.4,226.1 L351.2,226.1 L351.9,226.1 L352.7,226.1 L353.5,226.1 L354.3,226.1 L355.1,226.1 L355.8,226.1 L356.6,226.1 L357.4,226.1 L358.2,226.1 L358.9,226.1 L359.7,226.1 L360.5,226.1 L361.3,226.1 L362.1,226.1 L362.8,226.1 L363.6,226.1 L364.4,226.1 L365.2,226.1 L365.9,226.1 L366.7,226.1 L367.5,226.1 L368.3,226.1 L369.1,226.1 L369.8,226.1 L370.6,226.1 L371.4,226.1 L372.2,226.1 L373.0,226.1 L373.7,226.1 L374.5,226.1 L375.3,226.1 L376.1,226.1 L376.8,226.1 L377.6,226.1 L378.4,226.1 L379.2,226.1 L380.0,226.1 L380.7,226.1 L381.5,226.1 L382.3,226.1 L383.1,226.1 L383.8,226.1 L384.6,226.1 L385.4,226.1 L386.2,226.1 L387.0,226.1 L387.7,226.1 L388.5,226.1 L389.3,226.1 L390.1,226.1 L390.8,226.1 L391.6,226.1 L392.4,226.1 L393.2,226.1 L394.0,226.1 L394.7,226.1 L395.5,226.1 L396.3,226.1 L397.1,226.1 L397.8,226.1 L398.6,226.1 L399.4,226.1 L400.2,226.1 L401.0,226.1 L401.7,226.1 L402.5,226.1 L403.3,226.1 L404.1,226.1 L404.8,226.1 L405.6,226.1 L406.4,226.1 L407.2,226.1 L408.0,226.1 L408.7,226.1 L409.5,226.1 L410.3,226.1 L411.1,226.1 L411.8,226.1 L412.6,226.1 L413.4,226.1 L414.2,226.1 L415.0,226.1 L415.7,226.1 L416.5,226.1 L417.3,226.1 L418.1,226.1 L418.9,226.1 L419.6,226.1 L420.4,226.1 L421.2,226.1 L422.0,226.1 L422.7,226.1 L423.5,226.1 L424.3,226.1 L425.1,226.1 L425.9,226.1 L426.6,226.1 L427.4,226.1 L428.2,226.1 L429.0,226.1 L429.7,226.1 L430.5,226.1 L431.3,226.1 L432.1,226.1 L432.9,226.1 L433.6,226.1 L434.4,226.1 L435.2,226.1 L436.0,226.1 L436.7,226.1 L437.5,226.1 L438.3,226.1 L439.1,226.1 L439.9,226.1 L440.6,226.1 L441.4,226.1 L442.2,226.1 L443.0,226.1 L443.7,226.1 L444.5,226.1 L445.3,226.1 L446.1,226.1 L446.9,226.1 L447.6,226.1 L448.4,226.1 L449.2,226.1 L450.0,226.1 L450.7,226.1 L451.5,226.1 L452.3,226.1 L453.1,226.1 L453.9,226.1 L454.6,226.1 L455.4,226.1 L456.2,226.1 L457.0,226.1 L457.7,226.1 L458.5,226.1 L459.3,226.1 L460.1,226.1 L460.9,226.1 L461.6,226.1 L462.4,226.1 L463.2,226.1 L464.0,226.1 L464.8,226.1 L465.5,226.1 L466.3,226.1 L467.1,226.1 L467.9,226.1 L468.6,226.1 L469.4,226.1 L470.2,226.1 L471.0,226.1 L471.8,226.1 L472.5,226.1 L473.3,226.1 L474.1,226.1 L474.9,226.1 L475.6,226.1 L476.4,226.1 L477.2,226.1 L478.0,226.1 L478.8,226.1 L479.5,226.1 L480.3,226.1 L481.1,226.1 L481.9,226.1 L482.6,226.1 L483.4,226.1 L484.2,226.1 L485.0,226.1 L485.8,226.1 L486.5,226.1 L487.3,226.1 L488.1,226.1 L488.9,226.1 L489.6,226.1 L490.4,226.1 L491.2,226.1 L492.0,226.1 L492.8,226.1 L493.5,226.1 L494.3,226.1 L495.1,226.1 L495.9,226.1 L496.6,226.1 L497.4,226.1 L498.2,226.1 L499.0,226.1 L499.8,226.1 L500.5,226.1 L501.3,226.1 L502.1,226.1 L502.9,226.1 L503.6,226.1 L504.4,226.1 L505.2,226.1 L506.0,226.1 L506.8,226.1 L507.5,226.1 L508.3,226.1 L509.1,226.1 L509.9,226.1 L510.7,226.1 L511.4,226.1 L512.2,226.1 L513.0,226.1 L513.8,226.1 L514.5,226.1 L515.3,226.1 L516.1,226.1 L516.9,226.1 L517.7,226.1 L518.4,226.1 L519.2,226.1 L520.0,226.1 L520.8,226.1 L521.5,226.1 L522.3,226.1 L523.1,226.1 L523.9,226.1 L524.7,226.1 L525.4,226.1 L526.2,226.1 L527.0,226.1 L527.8,226.1 L528.5,226.1 L529.3,226.1 L530.1,226.1 L530.9,226.1 L531.7,226.1 L532.4,226.1 L533.2,226.1 L534.0,226.1 L534.8,226.1 L535.5,226.1 L536.3,226.1 L537.1,226.1 L537.9,226.1 L538.7,226.1 L539.4,226.1 L540.2,226.1 L541.0,226.1 L541.8,226.1 L542.5,226.1 L543.3,226.1 L544.1,226.1 L544.9,226.1 L545.7,226.1 L546.4,226.1 L547.2,226.1 L548.0,226.1 L548.8,226.1 L549.5,226.1 L550.3,226.1 L551.1,226.1 L551.9,226.1 L552.7,226.1 L553.4,226.1 L554.2,226.1 L555.0,226.1 L555.8,226.1 L556.6,226.1 L557.3,226.1 L558.1,226.1 L558.9,226.1 L559.7,226.1 L560.4,226.1 L561.2,226.1 L562.0,226.1 L562.8,226.1 L563.6,226.1 L564.3,226.1 L565.1,226.1 L565.9,226.1 L566.7,226.1 L567.4,226.1 L568.2,226.1 L569.0,226.1 L569.8,226.1 L570.6,226.1 L571.3,226.1 L572.1,226.1 L572.9,226.1 L573.7,226.1 L574.4,226.1 L575.2,226.1 L576.0,226.1" stroke="#ba4a00" stroke-width="1.8" stroke-opacity="0.35" fill="none"/><path d="M138.0,518.3 L138.8,513.0 L139.6,507.8 L140.3,502.6 L141.1,497.5 L141.9,492.5 L142.7,487.5 L143.5,482.6 L144.2,477.7 L145.0,472.9 L145.8,468.1 L146.6,463.3 L147.3,458.7 L148.1,454.1 L148.9,449.5 L149.7,445.0 L150.5,440.5 L151.2,436.1 L152.0,431.7 L152.8,427.4 L153.6,423.2 L154.3,419.0 L155.1,414.8 L155.9,410.7 L156.7,406.7 L157.5,402.7 L158.2,398.7 L159.0,394.8 L159.8,391.0 L160.6,387.2 L161.3,383.5 L162.1,379.8 L162.9,376.2 L163.7,372.6 L164.5,369.0 L165.2,365.5 L166.0,362.1 L166.8,358.7 L167.6,355.4 L168.3,352.1 L169.1,348.9 L169.9,345.7 L170.7,342.6 L171.5,339.5 L172.2,336.4 L173.0,333.5 L173.8,330.5 L174.6,327.6 L175.3,324.8 L176.1,322.0 L176.9,319.3 L177.7,316.6 L178.5,313.9 L179.2,311.3 L180.0,308.8 L180.8,306.3 L181.6,303.8 L182.4,301.4 L183.1,299.1 L183.9,296.8 L184.7,294.5 L185.5,292.3 L186.2,290.1 L187.0,288.0 L187.8,285.9 L188.6,283.8 L189.4,281.8 L190.1,279.9 L190.9,278.0 L191.7,276.1 L192.5,274.3 L193.2,272.5 L194.0,270.8 L194.8,269.1 L195.6,267.5 L196.4,265.9 L197.1,264.3 L197.9,262.8 L198.7,261.3 L199.5,259.9 L200.2,258.4 L201.0,257.1 L201.8,255.8 L202.6,254.5 L203.4,253.2 L204.1,252.0 L204.9,250.9 L205.7,249.7 L206.5,248.6 L207.2,247.6 L208.0,246.5 L208.8,245.5 L209.6,244.6 L210.4,243.7 L211.1,242.8 L211.9,241.9 L212.7,241.1 L213.5,240.3 L214.2,239.5 L215.0,238.8 L215.8,238.1 L216.6,237.4 L217.4,236.8 L218.1,236.2 L218.9,235.6 L219.7,235.0 L220.5,234.5 L221.2,233.9 L222.0,233.4 L222.8,233.0 L223.6,232.5 L224.4,232.1 L225.1,231.7 L225.9,231.3 L226.7,231.0 L227.5,230.6 L228.3,230.3 L229.0,230.0 L229.8,229.7 L230.6,229.4 L231.4,229.2 L232.1,229.0 L232.9,228.7 L233.7,228.5 L234.5,228.3 L235.3,228.1 L236.0,228.0 L236.8,227.8 L237.6,227.7 L238.4,227.5 L239.1,227.4 L239.9,227.3 L240.7,227.2 L241.5,227.1 L242.3,227.0 L243.0,226.9 L243.8,226.8 L244.6,226.7 L245.4,226.7 L246.1,226.6 L246.9,226.6 L247.7,226.5 L248.5,226.5 L249.3,226.4 L250.0,226.4 L250.8,226.4 L251.6,226.3 L252.4,226.3 L253.1,226.3 L253.9,226.2 L254.7,226.2 L255.5,226.2 L256.3,226.2 L257.0,226.2 L257.8,226.2 L258.6,226.1 L259.4,226.1 L260.1,226.1 L260.9,226.1 L261.7,226.1 L262.5,226.1 L263.3,226.1 L264.0,226.1 L264.8,226.1 L265.6,226.1 L266.4,226.1 L267.1,226.1 L267.9,226.1 L268.7,226.1 L269.5,226.1 L270.3,226.1 L271.0,226.1 L271.8,226.1 L272.6,226.1 L273.4,226.1 L274.2,226.1 L274.9,226.1 L275.7,226.1 L276.5,226.1 L277.3,226.1 L278.0,226.1 L278.8,226.1 L279.6,226.1 L280.4,226.1 L281.2,226.1 L281.9,226.1 L282.7,226.1 L283.5,226.1 L284.3,226.1 L285.0,226.1 L285.8,226.1 L286.6,226.1 L287.4,226.1 L288.2,226.1 L288.9,226.1 L289.7,226.1 L290.5,226.1 L291.3,226.1 L292.0,226.1 L292.8,226.1 L293.6,226.1 L294.4,226.1 L295.2,226.1 L295.9,226.1 L296.7,226.1 L297.5,226.1 L298.3,226.1 L299.0,226.1 L299.8,226.1 L300.6,226.1 L301.4,226.1 L302.2,226.1 L302.9,226.1 L303.7,226.1 L304.5,226.1 L305.3,226.1 L306.0,226.1 L306.8,226.1 L307.6,226.1 L308.4,226.1 L309.2,226.1 L309.9,226.1 L310.7,226.1 L311.5,226.1 L312.3,226.1 L313.0,226.1 L313.8,226.1 L314.6,226.1 L315.4,226.1 L316.2,226.1 L316.9,226.1 L317.7,226.1 L318.5,226.1 L319.3,226.1 L320.1,226.1 L320.8,226.1 L321.6,226.1 L322.4,226.1 L323.2,226.1 L323.9,226.1 L324.7,226.1 L325.5,226.1 L326.3,226.1 L327.1,226.1 L327.8,226.1 L328.6,226.1 L329.4,226.1 L330.2,226.1 L330.9,226.1 L331.7,226.1 L332.5,226.1 L333.3,226.1 L334.1,226.1 L334.8,226.1 L335.6,226.1 L336.4,226.1 L337.2,226.1 L337.9,226.1 L338.7,226.1 L339.5,226.1 L340.3,226.1 L341.1,226.1 L341.8,226.1 L342.6,226.1 L343.4,226.1 L344.2,226.1 L344.9,226.1 L345.7,226.1 L346.5,226.1 L347.3,226.1 L348.1,226.1 L348.8,226.1 L349.6,226.1 L350.4,226.1 L351.2,226.1 L351.9,226.1 L352.7,226.1 L353.5,226.1 L354.3,226.1 L355.1,226.1 L355.8,226.1 L356.6,226.1 L357.4,226.1 L358.2,226.1 L358.9,226.1 L359.7,226.1 L360.5,226.1 L361.3,226.1 L362.1,226.1 L362.8,226.1 L363.6,226.1 L364.4,226.1 L365.2,226.1 L365.9,226.1 L366.7,226.1 L367.5,226.1 L368.3,226.1 L369.1,226.1 L369.8,226.1 L370.6,226.1 L371.4,226.1 L372.2,226.1 L373.0,226.1 L373.7,226.1 L374.5,226.1 L375.3,226.1 L376.1,226.1 L376.8,226.1 L377.6,226.1 L378.4,226.1 L379.2,226.1 L380.0,226.1 L380.7,226.1 L381.5,226.1 L382.3,226.1 L383.1,226.1 L383.8,226.1 L384.6,226.1 L385.4,226.1 L386.2,226.1 L387.0,226.1 L387.7,226.1 L388.5,226.1 L389.3,226.1 L390.1,226.1 L390.8,226.1 L391.6,226.1 L392.4,226.1 L393.2,226.1 L394.0,226.1 L394.7,226.1 L395.5,226.1 L396.3,226.1 L397.1,226.1 L397.8,226.1 L398.6,226.1 L399.4,226.1 L400.2,226.1 L401.0,226.1 L401.7,226.1 L402.5,226.1 L403.3,226.1 L404.1,226.1 L404.8,226.1 L405.6,226.1 L406.4,226.1 L407.2,226.1 L408.0,226.1 L408.7,226.1 L409.5,226.1 L410.3,226.1 L411.1,226.1 L411.8,226.1 L412.6,226.1 L413.4,226.1 L414.2,226.1 L415.0,226.1 L415.7,226.1 L416.5,226.1 L417.3,226.1 L418.1,226.1 L418.9,226.1 L419.6,226.1 L420.4,226.1 L421.2,226.1 L422.0,226.1 L422.7,226.1 L423.5,226.1 L424.3,226.1 L425.1,226.1 L425.9,226.1 L426.6,226.1 L427.4,226.1 L428.2,226.1 L429.0,226.1 L429.7,226.1 L430.5,226.1 L431.3,226.1 L432.1,226.1 L432.9,226.1 L433.6,226.1 L434.4,226.1 L435.2,226.1 L436.0,226.1 L436.7,226.1 L437.5,226.1 L438.3,226.1 L439.1,226.1 L439.9,226.1 L440.6,226.1 L441.4,226.1 L442.2,226.1 L443.0,226.1 L443.7,226.1 L444.5,226.1 L445.3,226.1 L446.1,226.1 L446.9,226.1 L447.6,226.1 L448.4,226.1 L449.2,226.1 L450.0,226.1 L450.7,226.1 L451.5,226.1 L452.3,226.1 L453.1,226.1 L453.9,226.1 L454.6,226.1 L455.4,226.1 L456.2,226.1 L457.0,226.1 L457.7,226.1 L458.5,226.1 L459.3,226.1 L460.1,226.1 L460.9,226.1 L461.6,226.1 L462.4,226.1 L463.2,226.1 L464.0,226.1 L464.8,226.1 L465.5,226.1 L466.3,226.1 L467.1,226.1 L467.9,226.1 L468.6,226.1 L469.4,226.1 L470.2,226.1 L471.0,226.1 L471.8,226.1 L472.5,226.1 L473.3,226.1 L474.1,226.1 L474.9,226.1 L475.6,226.1 L476.4,226.1 L477.2,226.1 L478.0,226.1 L478.8,226.1 L479.5,226.1 L480.3,226.1 L481.1,226.1 L481.9,226.1 L482.6,226.1 L483.4,226.1 L484.2,226.1 L485.0,226.1 L485.8,226.1 L486.5,226.1 L487.3,226.1 L488.1,226.1 L488.9,226.1 L489.6,226.1 L490.4,226.1 L491.2,226.1 L492.0,226.1 L492.8,226.1 L493.5,226.1 L494.3,226.1 L495.1,226.1 L495.9,226.1 L496.6,226.1 L497.4,226.1 L498.2,226.1 L499.0,226.1 L499.8,226.1 L500.5,226.1 L501.3,226.1 L502.1,226.1 L502.9,226.1 L503.6,226.1 L504.4,226.1 L505.2,226.1 L506.0,226.1 L506.8,226.1 L507.5,226.1 L508.3,226.1 L509.1,226.1 L509.9,226.1 L510.7,226.1 L511.4,226.1 L512.2,226.1 L513.0,226.1 L513.8,226.1 L514.5,226.1 L515.3,226.1 L516.1,226.1 L516.9,226.1 L517.7,226.1 L518.4,226.1 L519.2,226.1 L520.0,226.1 L520.8,226.1 L521.5,226.1 L522.3,226.1 L523.1,226.1 L523.9,226.1 L524.7,226.1 L525.4,226.1 L526.2,226.1 L527.0,226.1 L527.8,226.1 L528.5,226.1 L529.3,226.1 L530.1,226.1 L530.9,226.1 L531.7,226.1 L532.4,226.1 L533.2,226.1 L534.0,226.1 L534.8,226.1 L535.5,226.1 L536.3,226.1 L537.1,226.1 L537.9,226.1 L538.7,226.1 L539.4,226.1 L540.2,226.1 L541.0,226.1 L541.8,226.1 L542.5,226.1 L543.3,226.1 L544.1,226.1 L544.9,226.1 L545.7,226.1 L546.4,226.1 L547.2,226.1 L548.0,226.1 L548.8,226.1 L549.5,226.1 L550.3,226.1 L551.1,226.1 L551.9,226.1 L552.7,226.1 L553.4,226.1 L554.2,226.1 L555.0,226.1 L555.8,226.1 L556.6,226.1 L557.3,226.1 L558.1,226.1 L558.9,226.1 L559.7,226.1 L560.4,226.1 L561.2,226.1 L562.0,226.1 L562.8,226.1 L563.6,226.1 L564.3,226.1 L565.1,226.1 L565.9,226.1 L566.7,226.1 L567.4,226.1 L568.2,226.1 L569.0,226.1 L569.8,226.1 L570.6,226.1 L571.3,226.1 L572.1,226.1 L572.9,226.1 L573.7,226.1 L574.4,226.1 L575.2,226.1 L576.0,226.1" stroke="#ba4a00" stroke-width="3.2" stroke-opacity="0.85" fill="none" stroke-dasharray="10.28,4.44"/><path d="M142.7,520.0 L143.5,515.0 L144.2,510.0 L145.0,505.0 L145.8,500.1 L146.6,495.3 L147.3,490.5 L148.1,485.8 L148.9,481.1 L149.7,476.4 L150.5,471.8 L151.2,467.3 L152.0,462.8 L152.8,458.3 L153.6,453.9 L154.3,449.6 L155.1,445.3 L155.9,441.0 L156.7,436.8 L157.5,432.6 L158.2,428.5 L159.0,424.4 L159.8,420.4 L160.6,416.4 L161.3,412.5 L162.1,408.6 L162.9,404.8 L163.7,401.0 L164.5,397.2 L165.2,393.5 L166.0,389.9 L166.8,386.3 L167.6,382.7 L168.3,379.2 L169.1,375.8 L169.9,372.3 L170.7,369.0 L171.5,365.6 L172.2,362.4 L173.0,359.1 L173.8,355.9 L174.6,352.8 L175.3,349.7 L176.1,346.7 L176.9,343.7 L177.7,340.7 L178.5,337.8 L179.2,334.9 L180.0,332.1 L180.8,329.3 L181.6,326.6 L182.4,323.9 L183.1,321.2 L183.9,318.6 L184.7,316.1 L185.5,313.6 L186.2,311.1 L187.0,308.7 L187.8,306.3 L188.6,303.9 L189.4,301.6 L190.1,299.4 L190.9,297.2 L191.7,295.0 L192.5,292.9 L193.2,290.8 L194.0,288.7 L194.8,286.7 L195.6,284.8 L196.4,282.8 L197.1,280.9 L197.9,279.1 L198.7,277.3 L199.5,275.5 L200.2,273.8 L201.0,272.1 L201.8,270.5 L202.6,268.9 L203.4,267.3 L204.1,265.8 L204.9,264.3 L205.7,262.8 L206.5,261.4 L207.2,260.1 L208.0,258.7 L208.8,257.4 L209.6,256.1 L210.4,254.9 L211.1,253.7 L211.9,252.5 L212.7,251.4 L213.5,250.3 L214.2,249.2 L215.0,248.2 L215.8,247.2 L216.6,246.2 L217.4,245.3 L218.1,244.4 L218.9,243.5 L219.7,242.7 L220.5,241.8 L221.2,241.1 L222.0,240.3 L222.8,239.6 L223.6,238.9 L224.4,238.2 L225.1,237.5 L225.9,236.9 L226.7,236.3 L227.5,235.8 L228.3,235.2 L229.0,234.7 L229.8,234.2 L230.6,233.7 L231.4,233.2 L232.1,232.8 L232.9,232.4 L233.7,232.0 L234.5,231.6 L235.3,231.3 L236.0,230.9 L236.8,230.6 L237.6,230.3 L238.4,230.0 L239.1,229.7 L239.9,229.5 L240.7,229.2 L241.5,229.0 L242.3,228.8 L243.0,228.6 L243.8,228.4 L244.6,228.2 L245.4,228.0 L246.1,227.9 L246.9,227.7 L247.7,227.6 L248.5,227.5 L249.3,227.4 L250.0,227.3 L250.8,227.1 L251.6,227.1 L252.4,227.0 L253.1,226.9 L253.9,226.8 L254.7,226.7 L255.5,226.7 L256.3,226.6 L257.0,226.6 L257.8,226.5 L258.6,226.5 L259.4,226.4 L260.1,226.4 L260.9,226.4 L261.7,226.3 L262.5,226.3 L263.3,226.3 L264.0,226.3 L264.8,226.2 L265.6,226.2 L266.4,226.2 L267.1,226.2 L267.9,226.2 L268.7,226.2 L269.5,226.1 L270.3,226.1 L271.0,226.1 L271.8,226.1 L272.6,226.1 L273.4,226.1 L274.2,226.1 L274.9,226.1 L275.7,226.1 L276.5,226.1 L277.3,226.1 L278.0,226.1 L278.8,226.1 L279.6,226.1 L280.4,226.1 L281.2,226.1 L281.9,226.1 L282.7,226.1 L283.5,226.1 L284.3,226.1 L285.0,226.1 L285.8,226.1 L286.6,226.1 L287.4,226.1 L288.2,226.1 L288.9,226.1 L289.7,226.1 L290.5,226.1 L291.3,226.1 L292.0,226.1 L292.8,226.1 L293.6,226.1 L294.4,226.1 L295.2,226.1 L295.9,226.1 L296.7,226.1 L297.5,226.1 L298.3,226.1 L299.0,226.1 L299.8,226.1 L300.6,226.1 L301.4,226.1 L302.2,226.1 L302.9,226.1 L303.7,226.1 L304.5,226.1 L305.3,226.1 L306.0,226.1 L306.8,226.1 L307.6,226.1 L308.4,226.1 L309.2,226.1 L309.9,226.1 L310.7,226.1 L311.5,226.1 L312.3,226.1 L313.0,226.1 L313.8,226.1 L314.6,226.1 L315.4,226.1 L316.2,226.1 L316.9,226.1 L317.7,226.1 L318.5,226.1 L319.3,226.1 L320.1,226.1 L320.8,226.1 L321.6,226.1 L322.4,226.1 L323.2,226.1 L323.9,226.1 L324.7,226.1 L325.5,226.1 L326.3,226.1 L327.1,226.1 L327.8,226.1 L328.6,226.1 L329.4,226.1 L330.2,226.1 L330.9,226.1 L331.7,226.1 L332.5,226.1 L333.3,226.1 L334.1,226.1 L334.8,226.1 L335.6,226.1 L336.4,226.1 L337.2,226.1 L337.9,226.1 L338.7,226.1 L339.5,226.1 L340.3,226.1 L341.1,226.1 L341.8,226.1 L342.6,226.1 L343.4,226.1 L344.2,226.1 L344.9,226.1 L345.7,226.1 L346.5,226.1 L347.3,226.1 L348.1,226.1 L348.8,226.1 L349.6,226.1 L350.4,226.1 L351.2,226.1 L351.9,226.1 L352.7,226.1 L353.5,226.1 L354.3,226.1 L355.1,226.1 L355.8,226.1 L356.6,226.1 L357.4,226.1 L358.2,226.1 L358.9,226.1 L359.7,226.1 L360.5,226.1 L361.3,226.1 L362.1,226.1 L362.8,226.1 L363.6,226.1 L364.4,226.1 L365.2,226.1 L365.9,226.1 L366.7,226.1 L367.5,226.1 L368.3,226.1 L369.1,226.1 L369.8,226.1 L370.6,226.1 L371.4,226.1 L372.2,226.1 L373.0,226.1 L373.7,226.1 L374.5,226.1 L375.3,226.1 L376.1,226.1 L376.8,226.1 L377.6,226.1 L378.4,226.1 L379.2,226.1 L380.0,226.1 L380.7,226.1 L381.5,226.1 L382.3,226.1 L383.1,226.1 L383.8,226.1 L384.6,226.1 L385.4,226.1 L386.2,226.1 L387.0,226.1 L387.7,226.1 L388.5,226.1 L389.3,226.1 L390.1,226.1 L390.8,226.1 L391.6,226.1 L392.4,226.1 L393.2,226.1 L394.0,226.1 L394.7,226.1 L395.5,226.1 L396.3,226.1 L397.1,226.1 L397.8,226.1 L398.6,226.1 L399.4,226.1 L400.2,226.1 L401.0,226.1 L401.7,226.1 L402.5,226.1 L403.3,226.1 L404.1,226.1 L404.8,226.1 L405.6,226.1 L406.4,226.1 L407.2,226.1 L408.0,226.1 L408.7,226.1 L409.5,226.1 L410.3,226.1 L411.1,226.1 L411.8,226.1 L412.6,226.1 L413.4,226.1 L414.2,226.1 L415.0,226.1 L415.7,226.1 L416.5,226.1 L417.3,226.1 L418.1,226.1 L418.9,226.1 L419.6,226.1 L420.4,226.1 L421.2,226.1 L422.0,226.1 L422.7,226.1 L423.5,226.1 L424.3,226.1 L425.1,226.1 L425.9,226.1 L426.6,226.1 L427.4,226.1 L428.2,226.1 L429.0,226.1 L429.7,226.1 L430.5,226.1 L431.3,226.1 L432.1,226.1 L432.9,226.1 L433.6,226.1 L434.4,226.1 L435.2,226.1 L436.0,226.1 L436.7,226.1 L437.5,226.1 L438.3,226.1 L439.1,226.1 L439.9,226.1 L440.6,226.1 L441.4,226.1 L442.2,226.1 L443.0,226.1 L443.7,226.1 L444.5,226.1 L445.3,226.1 L446.1,226.1 L446.9,226.1 L447.6,226.1 L448.4,226.1 L449.2,226.1 L450.0,226.1 L450.7,226.1 L451.5,226.1 L452.3,226.1 L453.1,226.1 L453.9,226.1 L454.6,226.1 L455.4,226.1 L456.2,226.1 L457.0,226.1 L457.7,226.1 L458.5,226.1 L459.3,226.1 L460.1,226.1 L460.9,226.1 L461.6,226.1 L462.4,226.1 L463.2,226.1 L464.0,226.1 L464.8,226.1 L465.5,226.1 L466.3,226.1 L467.1,226.1 L467.9,226.1 L468.6,226.1 L469.4,226.1 L470.2,226.1 L471.0,226.1 L471.8,226.1 L472.5,226.1 L473.3,226.1 L474.1,226.1 L474.9,226.1 L475.6,226.1 L476.4,226.1 L477.2,226.1 L478.0,226.1 L478.8,226.1 L479.5,226.1 L480.3,226.1 L481.1,226.1 L481.9,226.1 L482.6,226.1 L483.4,226.1 L484.2,226.1 L485.0,226.1 L485.8,226.1 L486.5,226.1 L487.3,226.1 L488.1,226.1 L488.9,226.1 L489.6,226.1 L490.4,226.1 L491.2,226.1 L492.0,226.1 L492.8,226.1 L493.5,226.1 L494.3,226.1 L495.1,226.1 L495.9,226.1 L496.6,226.1 L497.4,226.1 L498.2,226.1 L499.0,226.1 L499.8,226.1 L500.5,226.1 L501.3,226.1 L502.1,226.1 L502.9,226.1 L503.6,226.1 L504.4,226.1 L505.2,226.1 L506.0,226.1 L506.8,226.1 L507.5,226.1 L508.3,226.1 L509.1,226.1 L509.9,226.1 L510.7,226.1 L511.4,226.1 L512.2,226.1 L513.0,226.1 L513.8,226.1 L514.5,226.1 L515.3,226.1 L516.1,226.1 L516.9,226.1 L517.7,226.1 L518.4,226.1 L519.2,226.1 L520.0,226.1 L520.8,226.1 L521.5,226.1 L522.3,226.1 L523.1,226.1 L523.9,226.1 L524.7,226.1 L525.4,226.1 L526.2,226.1 L527.0,226.1 L527.8,226.1 L528.5,226.1 L529.3,226.1 L530.1,226.1 L530.9,226.1 L531.7,226.1 L532.4,226.1 L533.2,226.1 L534.0,226.1 L534.8,226.1 L535.5,226.1 L536.3,226.1 L537.1,226.1 L537.9,226.1 L538.7,226.1 L539.4,226.1 L540.2,226.1 L541.0,226.1 L541.8,226.1 L542.5,226.1 L543.3,226.1 L544.1,226.1 L544.9,226.1 L545.7,226.1 L546.4,226.1 L547.2,226.1 L548.0,226.1 L548.8,226.1 L549.5,226.1 L550.3,226.1 L551.1,226.1 L551.9,226.1 L552.7,226.1 L553.4,226.1 L554.2,226.1 L555.0,226.1 L555.8,226.1 L556.6,226.1 L557.3,226.1 L558.1,226.1 L558.9,226.1 L559.7,226.1 L560.4,226.1 L561.2,226.1 L562.0,226.1 L562.8,226.1 L563.6,226.1 L564.3,226.1 L565.1,226.1 L565.9,226.1 L566.7,226.1 L567.4,226.1 L568.2,226.1 L569.0,226.1 L569.8,226.1 L570.6,226.1 L571.3,226.1 L572.1,226.1 L572.9,226.1 L573.7,226.1 L574.4,226.1 L575.2,226.1 L576.0,226.1" stroke="#7d3c98" stroke-width="1.8" stroke-opacity="0.35" fill="none"/><path d="M142.7,520.0 L143.5,515.0 L144.2,510.0 L145.0,505.0 L145.8,500.1 L146.6,495.3 L147.3,490.5 L148.1,485.8 L148.9,481.1 L149.7,476.4 L150.5,471.8 L151.2,467.3 L152.0,462.8 L152.8,458.3 L153.6,453.9 L154.3,449.6 L155.1,445.3 L155.9,441.0 L156.7,436.8 L157.5,432.6 L158.2,428.5 L159.0,424.4 L159.8,420.4 L160.6,416.4 L161.3,412.5 L162.1,408.6 L162.9,404.8 L163.7,401.0 L164.5,397.2 L165.2,393.5 L166.0,389.9 L166.8,386.3 L167.6,382.7 L168.3,379.2 L169.1,375.8 L169.9,372.3 L170.7,369.0 L171.5,365.6 L172.2,362.4 L173.0,359.1 L173.8,355.9 L174.6,352.8 L175.3,349.7 L176.1,346.7 L176.9,343.7 L177.7,340.7 L178.5,337.8 L179.2,334.9 L180.0,332.1 L180.8,329.3 L181.6,326.6 L182.4,323.9 L183.1,321.2 L183.9,318.6 L184.7,316.1 L185.5,313.6 L186.2,311.1 L187.0,308.7 L187.8,306.3 L188.6,303.9 L189.4,301.6 L190.1,299.4 L190.9,297.2 L191.7,295.0 L192.5,292.9 L193.2,290.8 L194.0,288.7 L194.8,286.7 L195.6,284.8 L196.4,282.8 L197.1,280.9 L197.9,279.1 L198.7,277.3 L199.5,275.5 L200.2,273.8 L201.0,272.1 L201.8,270.5 L202.6,268.9 L203.4,267.3 L204.1,265.8 L204.9,264.3 L205.7,262.8 L206.5,261.4 L207.2,260.1 L208.0,258.7 L208.8,257.4 L209.6,256.1 L210.4,254.9 L211.1,253.7 L211.9,252.5 L212.7,251.4 L213.5,250.3 L214.2,249.2 L215.0,248.2 L215.8,247.2 L216.6,246.2 L217.4,245.3 L218.1,244.4 L218.9,243.5 L219.7,242.7 L220.5,241.8 L221.2,241.1 L222.0,240.3 L222.8,239.6 L223.6,238.9 L224.4,238.2 L225.1,237.5 L225.9,236.9 L226.7,236.3 L227.5,235.8 L228.3,235.2 L229.0,234.7 L229.8,234.2 L230.6,233.7 L231.4,233.2 L232.1,232.8 L232.9,232.4 L233.7,232.0 L234.5,231.6 L235.3,231.3 L236.0,230.9 L236.8,230.6 L237.6,230.3 L238.4,230.0 L239.1,229.7 L239.9,229.5 L240.7,229.2 L241.5,229.0 L242.3,228.8 L243.0,228.6 L243.8,228.4 L244.6,228.2 L245.4,228.0 L246.1,227.9 L246.9,227.7 L247.7,227.6 L248.5,227.5 L249.3,227.4 L250.0,227.3 L250.8,227.1 L251.6,227.1 L252.4,227.0 L253.1,226.9 L253.9,226.8 L254.7,226.7 L255.5,226.7 L256.3,226.6 L257.0,226.6 L257.8,226.5 L258.6,226.5 L259.4,226.4 L260.1,226.4 L260.9,226.4 L261.7,226.3 L262.5,226.3 L263.3,226.3 L264.0,226.3 L264.8,226.2 L265.6,226.2 L266.4,226.2 L267.1,226.2 L267.9,226.2 L268.7,226.2 L269.5,226.1 L270.3,226.1 L271.0,226.1 L271.8,226.1 L272.6,226.1 L273.4,226.1 L274.2,226.1 L274.9,226.1 L275.7,226.1 L276.5,226.1 L277.3,226.1 L278.0,226.1 L278.8,226.1 L279.6,226.1 L280.4,226.1 L281.2,226.1 L281.9,226.1 L282.7,226.1 L283.5,226.1 L284.3,226.1 L285.0,226.1 L285.8,226.1 L286.6,226.1 L287.4,226.1 L288.2,226.1 L288.9,226.1 L289.7,226.1 L290.5,226.1 L291.3,226.1 L292.0,226.1 L292.8,226.1 L293.6,226.1 L294.4,226.1 L295.2,226.1 L295.9,226.1 L296.7,226.1 L297.5,226.1 L298.3,226.1 L299.0,226.1 L299.8,226.1 L300.6,226.1 L301.4,226.1 L302.2,226.1 L302.9,226.1 L303.7,226.1 L304.5,226.1 L305.3,226.1 L306.0,226.1 L306.8,226.1 L307.6,226.1 L308.4,226.1 L309.2,226.1 L309.9,226.1 L310.7,226.1 L311.5,226.1 L312.3,226.1 L313.0,226.1 L313.8,226.1 L314.6,226.1 L315.4,226.1 L316.2,226.1 L316.9,226.1 L317.7,226.1 L318.5,226.1 L319.3,226.1 L320.1,226.1 L320.8,226.1 L321.6,226.1 L322.4,226.1 L323.2,226.1 L323.9,226.1 L324.7,226.1 L325.5,226.1 L326.3,226.1 L327.1,226.1 L327.8,226.1 L328.6,226.1 L329.4,226.1 L330.2,226.1 L330.9,226.1 L331.7,226.1 L332.5,226.1 L333.3,226.1 L334.1,226.1 L334.8,226.1 L335.6,226.1 L336.4,226.1 L337.2,226.1 L337.9,226.1 L338.7,226.1 L339.5,226.1 L340.3,226.1 L341.1,226.1 L341.8,226.1 L342.6,226.1 L343.4,226.1 L344.2,226.1 L344.9,226.1 L345.7,226.1 L346.5,226.1 L347.3,226.1 L348.1,226.1 L348.8,226.1 L349.6,226.1 L350.4,226.1 L351.2,226.1 L351.9,226.1 L352.7,226.1 L353.5,226.1 L354.3,226.1 L355.1,226.1 L355.8,226.1 L356.6,226.1 L357.4,226.1 L358.2,226.1 L358.9,226.1 L359.7,226.1 L360.5,226.1 L361.3,226.1 L362.1,226.1 L362.8,226.1 L363.6,226.1 L364.4,226.1 L365.2,226.1 L365.9,226.1 L366.7,226.1 L367.5,226.1 L368.3,226.1 L369.1,226.1 L369.8,226.1 L370.6,226.1 L371.4,226.1 L372.2,226.1 L373.0,226.1 L373.7,226.1 L374.5,226.1 L375.3,226.1 L376.1,226.1 L376.8,226.1 L377.6,226.1 L378.4,226.1 L379.2,226.1 L380.0,226.1 L380.7,226.1 L381.5,226.1 L382.3,226.1 L383.1,226.1 L383.8,226.1 L384.6,226.1 L385.4,226.1 L386.2,226.1 L387.0,226.1 L387.7,226.1 L388.5,226.1 L389.3,226.1 L390.1,226.1 L390.8,226.1 L391.6,226.1 L392.4,226.1 L393.2,226.1 L394.0,226.1 L394.7,226.1 L395.5,226.1 L396.3,226.1 L397.1,226.1 L397.8,226.1 L398.6,226.1 L399.4,226.1 L400.2,226.1 L401.0,226.1 L401.7,226.1 L402.5,226.1 L403.3,226.1 L404.1,226.1 L404.8,226.1 L405.6,226.1 L406.4,226.1 L407.2,226.1 L408.0,226.1 L408.7,226.1 L409.5,226.1 L410.3,226.1 L411.1,226.1 L411.8,226.1 L412.6,226.1 L413.4,226.1 L414.2,226.1 L415.0,226.1 L415.7,226.1 L416.5,226.1 L417.3,226.1 L418.1,226.1 L418.9,226.1 L419.6,226.1 L420.4,226.1 L421.2,226.1 L422.0,226.1 L422.7,226.1 L423.5,226.1 L424.3,226.1 L425.1,226.1 L425.9,226.1 L426.6,226.1 L427.4,226.1 L428.2,226.1 L429.0,226.1 L429.7,226.1 L430.5,226.1 L431.3,226.1 L432.1,226.1 L432.9,226.1 L433.6,226.1 L434.4,226.1 L435.2,226.1 L436.0,226.1 L436.7,226.1 L437.5,226.1 L438.3,226.1 L439.1,226.1 L439.9,226.1 L440.6,226.1 L441.4,226.1 L442.2,226.1 L443.0,226.1 L443.7,226.1 L444.5,226.1 L445.3,226.1 L446.1,226.1 L446.9,226.1 L447.6,226.1 L448.4,226.1 L449.2,226.1 L450.0,226.1 L450.7,226.1 L451.5,226.1 L452.3,226.1 L453.1,226.1 L453.9,226.1 L454.6,226.1 L455.4,226.1 L456.2,226.1 L457.0,226.1 L457.7,226.1 L458.5,226.1 L459.3,226.1 L460.1,226.1 L460.9,226.1 L461.6,226.1 L462.4,226.1 L463.2,226.1 L464.0,226.1 L464.8,226.1 L465.5,226.1 L466.3,226.1 L467.1,226.1 L467.9,226.1 L468.6,226.1 L469.4,226.1 L470.2,226.1 L471.0,226.1 L471.8,226.1 L472.5,226.1 L473.3,226.1 L474.1,226.1 L474.9,226.1 L475.6,226.1 L476.4,226.1 L477.2,226.1 L478.0,226.1 L478.8,226.1 L479.5,226.1 L480.3,226.1 L481.1,226.1 L481.9,226.1 L482.6,226.1 L483.4,226.1 L484.2,226.1 L485.0,226.1 L485.8,226.1 L486.5,226.1 L487.3,226.1 L488.1,226.1 L488.9,226.1 L489.6,226.1 L490.4,226.1 L491.2,226.1 L492.0,226.1 L492.8,226.1 L493.5,226.1 L494.3,226.1 L495.1,226.1 L495.9,226.1 L496.6,226.1 L497.4,226.1 L498.2,226.1 L499.0,226.1 L499.8,226.1 L500.5,226.1 L501.3,226.1 L502.1,226.1 L502.9,226.1 L503.6,226.1 L504.4,226.1 L505.2,226.1 L506.0,226.1 L506.8,226.1 L507.5,226.1 L508.3,226.1 L509.1,226.1 L509.9,226.1 L510.7,226.1 L511.4,226.1 L512.2,226.1 L513.0,226.1 L513.8,226.1 L514.5,226.1 L515.3,226.1 L516.1,226.1 L516.9,226.1 L517.7,226.1 L518.4,226.1 L519.2,226.1 L520.0,226.1 L520.8,226.1 L521.5,226.1 L522.3,226.1 L523.1,226.1 L523.9,226.1 L524.7,226.1 L525.4,226.1 L526.2,226.1 L527.0,226.1 L527.8,226.1 L528.5,226.1 L529.3,226.1 L530.1,226.1 L530.9,226.1 L531.7,226.1 L532.4,226.1 L533.2,226.1 L534.0,226.1 L534.8,226.1 L535.5,226.1 L536.3,226.1 L537.1,226.1 L537.9,226.1 L538.7,226.1 L539.4,226.1 L540.2,226.1 L541.0,226.1 L541.8,226.1 L542.5,226.1 L543.3,226.1 L544.1,226.1 L544.9,226.1 L545.7,226.1 L546.4,226.1 L547.2,226.1 L548.0,226.1 L548.8,226.1 L549.5,226.1 L550.3,226.1 L551.1,226.1 L551.9,226.1 L552.7,226.1 L553.4,226.1 L554.2,226.1 L555.0,226.1 L555.8,226.1 L556.6,226.1 L557.3,226.1 L558.1,226.1 L558.9,226.1 L559.7,226.1 L560.4,226.1 L561.2,226.1 L562.0,226.1 L562.8,226.1 L563.6,226.1 L564.3,226.1 L565.1,226.1 L565.9,226.1 L566.7,226.1 L567.4,226.1 L568.2,226.1 L569.0,226.1 L569.8,226.1 L570.6,226.1 L571.3,226.1 L572.1,226.1 L572.9,226.1 L573.7,226.1 L574.4,226.1 L575.2,226.1 L576.0,226.1" stroke="#7d3c98" stroke-width="3.2" stroke-opacity="0.85" fill="none" stroke-dasharray="10.28,4.44"/><path d="M156.7,519.6 L157.5,515.8 L158.2,512.0 L158.9,508.3 L159.7,504.6 L160.4,501.0 L161.1,497.4 L161.8,493.9 L162.6,490.4 L163.3,486.9 L164.0,483.5 L164.7,480.2 L165.5,476.9 L166.2,473.6 L166.9,470.4 L167.7,467.2 L168.4,464.1 L169.1,461.0 L169.8,457.9 L170.6,454.9 L171.3,451.9 L172.0,449.0 L172.8,446.1 L173.5,443.2 L174.2,440.4 L174.9,437.6 L175.7,434.8 L176.4,432.1 L177.1,429.4 L177.8,426.7 L178.6,424.1 L179.3,421.5 L180.0,419.0 L180.8,416.5 L181.5,414.0 L182.2,411.5 L182.9,409.1 L183.7,406.7 L184.4,404.3 L185.1,402.0 L185.9,399.6 L186.6,397.4 L187.3,395.1 L188.0,392.9 L188.8,390.7 L189.5,388.5 L190.2,386.4 L191.0,384.2 L191.7,382.1 L192.4,380.1 L193.1,378.0 L193.9,376.0 L194.6,374.0 L195.3,372.0 L196.0,370.1 L196.8,368.2 L197.5,366.3 L198.2,364.4 L199.0,362.5 L199.7,360.7 L200.4,358.9 L201.1,357.1 L201.9,355.3 L202.6,353.5 L203.3,351.8 L204.1,350.1 L204.8,348.4 L205.5,346.7 L206.2,345.1 L207.0,343.4 L207.7,341.8 L208.4,340.2 L209.1,338.6 L209.9,337.1 L210.6,335.5 L211.3,334.0 L212.1,332.5 L212.8,331.0 L213.5,329.5 L214.2,328.1 L215.0,326.6 L215.7,325.2 L216.4,323.8 L217.2,322.4 L217.9,321.0 L218.6,319.6 L219.3,318.2 L220.1,316.9 L220.8,315.6 L221.5,314.3 L222.3,313.0 L223.0,311.7 L223.7,310.4 L224.4,309.1 L225.2,307.9 L225.9,306.7 L226.6,305.4 L227.3,304.2 L228.1,303.0 L228.8,301.8 L229.5,300.7 L230.3,299.5 L231.0,298.4 L231.7,297.2 L232.4,296.1 L233.2,295.0 L233.9,293.9 L234.6,292.8 L235.4,291.7 L236.1,290.6 L236.8,289.5 L237.5,288.5 L238.3,287.4 L239.0,286.4 L239.7,285.4 L240.4,284.4 L241.2,283.4 L241.9,282.4 L242.6,281.4 L243.4,280.4 L244.1,279.4 L244.8,278.5 L245.5,277.5 L246.3,276.6 L247.0,275.6 L247.7,274.7 L248.5,273.8 L249.2,272.9 L249.9,272.0 L250.6,271.1 L251.4,270.2 L252.1,269.3 L252.8,268.4 L253.5,267.5 L254.3,266.7 L255.0,265.8 L255.7,265.0 L256.5,264.1 L257.2,263.3 L257.9,262.5 L258.6,261.7 L259.4,260.9 L260.1,260.0 L260.8,259.2 L261.6,258.5 L262.3,257.7 L263.0,256.9 L263.7,256.1 L264.5,255.3 L265.2,254.6 L265.9,253.8 L266.7,253.0 L267.4,252.3 L268.1,251.6 L268.8,250.8 L269.6,250.1 L270.3,249.4 L271.0,248.6 L271.7,247.9 L272.5,247.2 L273.2,246.5 L273.9,245.8 L274.7,245.1 L275.4,244.4 L276.1,243.7 L276.8,243.0 L277.6,242.3 L278.3,241.7 L279.0,241.0 L279.8,240.3 L280.5,239.7 L281.2,239.0 L281.9,238.3 L282.7,237.7 L283.4,237.0 L284.1,236.4 L284.8,235.8 L285.6,235.1 L286.3,234.5 L287.0,233.9 L287.8,233.2 L288.5,232.6 L289.2,232.0 L289.9,231.4 L290.7,230.8 L291.4,230.2 L292.1,229.6 L292.9,229.0 L293.6,228.4 L294.3,227.8 L295.0,227.2 L295.8,226.6 L296.5,226.0 L297.2,225.4 L297.9,224.8 L298.7,224.3 L299.4,223.7 L300.1,223.1 L300.9,222.5 L301.6,222.0 L302.3,221.4 L303.0,220.9 L303.8,220.3 L304.5,219.7 L305.2,219.2 L306.0,218.6 L306.7,218.1 L307.4,217.5 L308.1,217.0 L308.9,216.5 L309.6,215.9 L310.3,215.4 L311.1,214.8 L311.8,214.3 L312.5,213.8 L313.2,213.3 L314.0,212.7 L314.7,212.2 L315.4,211.7 L316.1,211.2 L316.9,210.6 L317.6,210.1 L318.3,209.6 L319.1,209.1 L319.8,208.6 L320.5,208.1 L321.2,207.6 L322.0,207.1 L322.7,206.6 L323.4,206.1 L324.2,205.6 L324.9,205.1 L325.6,204.6 L326.3,204.1 L327.1,203.6 L327.8,203.1 L328.5,202.6 L329.2,202.1 L330.0,201.6 L330.7,201.1 L331.4,200.7 L332.2,200.2 L332.9,199.7 L333.6,199.2 L334.3,198.7 L335.1,198.3 L335.8,197.8 L336.5,197.3 L337.3,196.8 L338.0,196.4 L338.7,195.9 L339.4,195.4 L340.2,195.0 L340.9,194.5 L341.6,194.0 L342.4,193.6 L343.1,193.1 L343.8,192.6 L344.5,192.2 L345.3,191.7 L346.0,191.3 L346.7,190.8 L347.4,190.3 L348.2,189.9 L348.9,189.4 L349.6,189.0 L350.4,188.5 L351.1,188.1 L351.8,187.6 L352.5,187.2 L353.3,186.7 L354.0,186.3 L354.7,185.8 L355.5,185.4 L356.2,184.9 L356.9,184.5 L357.6,184.1 L358.4,183.6 L359.1,183.2 L359.8,182.7 L360.5,182.3 L361.3,181.9 L362.0,181.4 L362.7,181.0 L363.5,180.5 L364.2,180.1 L364.9,179.7 L365.6,179.2 L366.4,178.8 L367.1,178.4 L367.8,177.9 L368.6,177.5 L369.3,177.1 L370.0,176.6 L370.7,176.2 L371.5,175.8 L372.2,175.4 L372.9,174.9 L373.6,174.5 L374.4,174.1 L375.1,173.6 L375.8,173.2 L376.6,172.8 L377.3,172.4 L378.0,171.9 L378.7,171.5 L379.5,171.1 L380.2,170.7 L380.9,170.3 L381.7,169.8 L382.4,169.4 L383.1,169.0 L383.8,168.6 L384.6,168.2 L385.3,167.7 L386.0,167.3 L386.8,166.9 L387.5,166.5 L388.2,166.1 L388.9,165.7 L389.7,165.2 L390.4,164.8 L391.1,164.4 L391.8,164.0 L392.6,163.6 L393.3,163.2 L394.0,162.8 L394.8,162.3 L395.5,161.9 L396.2,161.5 L396.9,161.1 L397.7,160.7 L398.4,160.3 L399.1,159.9 L399.9,159.5 L400.6,159.1 L401.3,158.6 L402.0,158.2 L402.8,157.8 L403.5,157.4 L404.2,157.0 L404.9,156.6 L405.7,156.2 L406.4,155.8 L407.1,155.4 L407.9,155.0 L408.6,154.6 L409.3,154.2 L410.0,153.8 L410.8,153.4 L411.5,152.9 L412.2,152.5 L413.0,152.1 L413.7,151.7 L414.4,151.3 L415.1,150.9 L415.9,150.5 L416.6,150.1 L417.3,149.7 L418.1,149.3 L418.8,148.9 L419.5,148.5 L420.2,148.1 L421.0,147.7 L421.7,147.3 L422.4,146.9 L423.1,146.5 L423.9,146.1 L424.6,145.7 L425.3,145.3 L426.1,144.9 L426.8,144.5 L427.5,144.1 L428.2,143.7 L429.0,143.3 L429.7,142.9 L430.4,142.5 L431.2,142.1 L431.9,141.7 L432.6,141.3 L433.3,140.9 L434.1,140.5 L434.8,140.1 L435.5,139.7 L436.2,139.3 L437.0,138.9 L437.7,138.5 L438.4,138.1 L439.2,137.7 L439.9,137.3 L440.6,136.9 L441.3,136.5 L442.1,136.1 L442.8,135.7 L443.5,135.4 L444.3,135.0 L445.0,134.6 L445.7,134.2 L446.4,133.8 L447.2,133.4 L447.9,133.0 L448.6,132.6 L449.3,132.2 L450.1,131.8 L450.8,131.4 L451.5,131.0 L452.3,130.6 L453.0,130.2 L453.7,129.8 L454.4,129.4 L455.2,129.0 L455.9,128.6 L456.6,128.2 L457.4,127.9 L458.1,127.5 L458.8,127.1 L459.5,126.7 L460.3,126.3 L461.0,125.9 L461.7,125.5 L462.5,125.1 L463.2,124.7 L463.9,124.3 L464.6,123.9 L465.4,123.5 L466.1,123.1 L466.8,122.7 L467.5,122.4 L468.3,122.0 L469.0,121.6 L469.7,121.2 L470.5,120.8 L471.2,120.4 L471.9,120.0 L472.6,119.6 L473.4,119.2 L474.1,118.8 L474.8,118.4 L475.6,118.0 L476.3,117.7 L477.0,117.3 L477.7,116.9 L478.5,116.5 L479.2,116.1 L479.9,115.7 L480.6,115.3 L481.4,114.9 L482.1,114.5 L482.8,114.1 L483.6,113.8 L484.3,113.4 L485.0,113.0 L485.7,112.6 L486.5,112.2 L487.2,111.8 L487.9,111.4 L488.7,111.0 L489.4,110.6 L490.1,110.2 L490.8,109.9 L491.6,109.5 L492.3,109.1 L493.0,108.7 L493.7,108.3 L494.5,107.9 L495.2,107.5 L495.9,107.1 L496.7,106.7 L497.4,106.3 L498.1,106.0 L498.8,105.6 L499.6,105.2 L500.3,104.8 L501.0,104.4 L501.8,104.0 L502.5,103.6 L503.2,103.2 L503.9,102.8 L504.7,102.5 L505.4,102.1 L506.1,101.7 L506.9,101.3 L507.6,100.9 L508.3,100.5 L509.0,100.1 L509.8,99.7 L510.5,99.3 L511.2,99.0 L511.9,98.6 L512.7,98.2 L513.4,97.8 L514.1,97.4 L514.9,97.0 L515.6,96.6 L516.3,96.2 L517.0,95.9 L517.8,95.5 L518.5,95.1 L519.2,94.7 L520.0,94.3 L520.7,93.9 L521.4,93.5 L522.1,93.1 L522.9,92.7 L523.6,92.4 L524.3,92.0 L525.0,91.6 L525.8,91.2 L526.5,90.8 L527.2,90.4 L528.0,90.0 L528.7,89.6 L529.4,89.3 L530.1,88.9 L530.9,88.5 L531.6,88.1 L532.3,87.7 L533.1,87.3 L533.8,86.9 L534.5,86.5 L535.2,86.2 L536.0,85.8 L536.7,85.4 L537.4,85.0 L538.2,84.6 L538.9,84.2 L539.6,83.8 L540.3,83.4 L541.1,83.1 L541.8,82.7 L542.5,82.3 L543.2,81.9 L544.0,81.5 L544.7,81.1 L545.4,80.7 L546.2,80.3 L546.9,80.0 L547.6,79.6 L548.3,79.2 L549.1,78.8 L549.8,78.4 L550.5,78.0 L551.3,77.6 L552.0,77.2 L552.7,76.9 L553.4,76.5 L554.2,76.1 L554.9,75.7 L555.6,75.3 L556.3,74.9 L557.1,74.5 L557.8,74.2 L558.5,73.8 L559.3,73.4 L560.0,73.0 L560.7,72.6 L561.4,72.2 L562.2,71.8 L562.9,71.4 L563.6,71.1 L564.4,70.7 L565.1,70.3 L565.8,69.9 L566.5,69.5 L567.3,69.1 L568.0,68.7 L568.7,68.3 L569.4,68.0 L570.2,67.6 L570.9,67.2 L571.6,66.8 L572.4,66.4 L573.1,66.0 L573.8,65.6 L574.5,65.3 L575.3,64.9 L576.0,64.5" stroke="#1f618d" stroke-width="3.3" stroke-opacity="0.88" fill="none"/><path d="M159.7,519.7 L160.4,515.9 L161.1,512.1 L161.8,508.3 L162.6,504.6 L163.3,500.9 L164.0,497.3 L164.7,493.8 L165.5,490.3 L166.2,486.8 L166.9,483.4 L167.7,480.0 L168.4,476.6 L169.1,473.4 L169.8,470.1 L170.6,466.9 L171.3,463.7 L172.0,460.6 L172.8,457.5 L173.5,454.5 L174.2,451.5 L174.9,448.5 L175.7,445.6 L176.4,442.7 L177.1,439.9 L177.8,437.0 L178.6,434.3 L179.3,431.5 L180.0,428.8 L180.8,426.1 L181.5,423.5 L182.2,420.9 L182.9,418.3 L183.7,415.8 L184.4,413.3 L185.1,410.8 L185.9,408.3 L186.6,405.9 L187.3,403.5 L188.0,401.2 L188.8,398.8 L189.5,396.5 L190.2,394.3 L191.0,392.0 L191.7,389.8 L192.4,387.6 L193.1,385.5 L193.9,383.3 L194.6,381.2 L195.3,379.1 L196.0,377.1 L196.8,375.0 L197.5,373.0 L198.2,371.0 L199.0,369.1 L199.7,367.1 L200.4,365.2 L201.1,363.3 L201.9,361.4 L202.6,359.6 L203.3,357.8 L204.1,356.0 L204.8,354.2 L205.5,352.4 L206.2,350.7 L207.0,348.9 L207.7,347.2 L208.4,345.5 L209.1,343.9 L209.9,342.2 L210.6,340.6 L211.3,339.0 L212.1,337.4 L212.8,335.8 L213.5,334.3 L214.2,332.7 L215.0,331.2 L215.7,329.7 L216.4,328.2 L217.2,326.7 L217.9,325.3 L218.6,323.8 L219.3,322.4 L220.1,321.0 L220.8,319.6 L221.5,318.2 L222.3,316.9 L223.0,315.5 L223.7,314.2 L224.4,312.9 L225.2,311.6 L225.9,310.3 L226.6,309.0 L227.3,307.7 L228.1,306.5 L228.8,305.2 L229.5,304.0 L230.3,302.8 L231.0,301.6 L231.7,300.4 L232.4,299.2 L233.2,298.0 L233.9,296.9 L234.6,295.7 L235.4,294.6 L236.1,293.5 L236.8,292.3 L237.5,291.2 L238.3,290.1 L239.0,289.1 L239.7,288.0 L240.4,286.9 L241.2,285.9 L241.9,284.8 L242.6,283.8 L243.4,282.8 L244.1,281.8 L244.8,280.8 L245.5,279.8 L246.3,278.8 L247.0,277.8 L247.7,276.8 L248.5,275.9 L249.2,274.9 L249.9,274.0 L250.6,273.1 L251.4,272.1 L252.1,271.2 L252.8,270.3 L253.5,269.4 L254.3,268.5 L255.0,267.6 L255.7,266.7 L256.5,265.9 L257.2,265.0 L257.9,264.1 L258.6,263.3 L259.4,262.5 L260.1,261.6 L260.8,260.8 L261.6,260.0 L262.3,259.1 L263.0,258.3 L263.7,257.5 L264.5,256.7 L265.2,255.9 L265.9,255.1 L266.7,254.4 L267.4,253.6 L268.1,252.8 L268.8,252.1 L269.6,251.3 L270.3,250.5 L271.0,249.8 L271.7,249.1 L272.5,248.3 L273.2,247.6 L273.9,246.9 L274.7,246.1 L275.4,245.4 L276.1,244.7 L276.8,244.0 L277.6,243.3 L278.3,242.6 L279.0,241.9 L279.8,241.2 L280.5,240.5 L281.2,239.9 L281.9,239.2 L282.7,238.5 L283.4,237.9 L284.1,237.2 L284.8,236.5 L285.6,235.9 L286.3,235.2 L287.0,234.6 L287.8,233.9 L288.5,233.3 L289.2,232.7 L289.9,232.0 L290.7,231.4 L291.4,230.8 L292.1,230.2 L292.9,229.5 L293.6,228.9 L294.3,228.3 L295.0,227.7 L295.8,227.1 L296.5,226.5 L297.2,225.9 L297.9,225.3 L298.7,224.7 L299.4,224.1 L300.1,223.5 L300.9,223.0 L301.6,222.4 L302.3,221.8 L303.0,221.2 L303.8,220.7 L304.5,220.1 L305.2,219.5 L306.0,219.0 L306.7,218.4 L307.4,217.9 L308.1,217.3 L308.9,216.7 L309.6,216.2 L310.3,215.6 L311.1,215.1 L311.8,214.6 L312.5,214.0 L313.2,213.5 L314.0,212.9 L314.7,212.4 L315.4,211.9 L316.1,211.3 L316.9,210.8 L317.6,210.3 L318.3,209.8 L319.1,209.2 L319.8,208.7 L320.5,208.2 L321.2,207.7 L322.0,207.2 L322.7,206.7 L323.4,206.2 L324.2,205.7 L324.9,205.1 L325.6,204.6 L326.3,204.1 L327.1,203.6 L327.8,203.1 L328.5,202.6 L329.2,202.1 L330.0,201.7 L330.7,201.2 L331.4,200.7 L332.2,200.2 L332.9,199.7 L333.6,199.2 L334.3,198.7 L335.1,198.2 L335.8,197.8 L336.5,197.3 L337.3,196.8 L338.0,196.3 L338.7,195.8 L339.4,195.4 L340.2,194.9 L340.9,194.4 L341.6,193.9 L342.4,193.5 L343.1,193.0 L343.8,192.5 L344.5,192.1 L345.3,191.6 L346.0,191.1 L346.7,190.7 L347.4,190.2 L348.2,189.8 L348.9,189.3 L349.6,188.8 L350.4,188.4 L351.1,187.9 L351.8,187.5 L352.5,187.0 L353.3,186.6 L354.0,186.1 L354.7,185.7 L355.5,185.2 L356.2,184.8 L356.9,184.3 L357.6,183.9 L358.4,183.4 L359.1,183.0 L359.8,182.5 L360.5,182.1 L361.3,181.6 L362.0,181.2 L362.7,180.7 L363.5,180.3 L364.2,179.9 L364.9,179.4 L365.6,179.0 L366.4,178.6 L367.1,178.1 L367.8,177.7 L368.6,177.2 L369.3,176.8 L370.0,176.4 L370.7,175.9 L371.5,175.5 L372.2,175.1 L372.9,174.6 L373.6,174.2 L374.4,173.8 L375.1,173.4 L375.8,172.9 L376.6,172.5 L377.3,172.1 L378.0,171.6 L378.7,171.2 L379.5,170.8 L380.2,170.4 L380.9,169.9 L381.7,169.5 L382.4,169.1 L383.1,168.7 L383.8,168.2 L384.6,167.8 L385.3,167.4 L386.0,167.0 L386.8,166.6 L387.5,166.1 L388.2,165.7 L388.9,165.3 L389.7,164.9 L390.4,164.5 L391.1,164.1 L391.8,163.6 L392.6,163.2 L393.3,162.8 L394.0,162.4 L394.8,162.0 L395.5,161.6 L396.2,161.1 L396.9,160.7 L397.7,160.3 L398.4,159.9 L399.1,159.5 L399.9,159.1 L400.6,158.7 L401.3,158.3 L402.0,157.8 L402.8,157.4 L403.5,157.0 L404.2,156.6 L404.9,156.2 L405.7,155.8 L406.4,155.4 L407.1,155.0 L407.9,154.6 L408.6,154.2 L409.3,153.8 L410.0,153.3 L410.8,152.9 L411.5,152.5 L412.2,152.1 L413.0,151.7 L413.7,151.3 L414.4,150.9 L415.1,150.5 L415.9,150.1 L416.6,149.7 L417.3,149.3 L418.1,148.9 L418.8,148.5 L419.5,148.1 L420.2,147.7 L421.0,147.3 L421.7,146.9 L422.4,146.5 L423.1,146.1 L423.9,145.7 L424.6,145.3 L425.3,144.9 L426.1,144.5 L426.8,144.1 L427.5,143.7 L428.2,143.3 L429.0,142.8 L429.7,142.4 L430.4,142.0 L431.2,141.6 L431.9,141.2 L432.6,140.8 L433.3,140.4 L434.1,140.1 L434.8,139.7 L435.5,139.3 L436.2,138.9 L437.0,138.5 L437.7,138.1 L438.4,137.7 L439.2,137.3 L439.9,136.9 L440.6,136.5 L441.3,136.1 L442.1,135.7 L442.8,135.3 L443.5,134.9 L444.3,134.5 L445.0,134.1 L445.7,133.7 L446.4,133.3 L447.2,132.9 L447.9,132.5 L448.6,132.1 L449.3,131.7 L450.1,131.3 L450.8,130.9 L451.5,130.5 L452.3,130.1 L453.0,129.7 L453.7,129.3 L454.4,128.9 L455.2,128.5 L455.9,128.1 L456.6,127.8 L457.4,127.4 L458.1,127.0 L458.8,126.6 L459.5,126.2 L460.3,125.8 L461.0,125.4 L461.7,125.0 L462.5,124.6 L463.2,124.2 L463.9,123.8 L464.6,123.4 L465.4,123.0 L466.1,122.6 L466.8,122.2 L467.5,121.8 L468.3,121.5 L469.0,121.1 L469.7,120.7 L470.5,120.3 L471.2,119.9 L471.9,119.5 L472.6,119.1 L473.4,118.7 L474.1,118.3 L474.8,117.9 L475.6,117.5 L476.3,117.1 L477.0,116.7 L477.7,116.4 L478.5,116.0 L479.2,115.6 L479.9,115.2 L480.6,114.8 L481.4,114.4 L482.1,114.0 L482.8,113.6 L483.6,113.2 L484.3,112.8 L485.0,112.4 L485.7,112.1 L486.5,111.7 L487.2,111.3 L487.9,110.9 L488.7,110.5 L489.4,110.1 L490.1,109.7 L490.8,109.3 L491.6,108.9 L492.3,108.5 L493.0,108.1 L493.7,107.8 L494.5,107.4 L495.2,107.0 L495.9,106.6 L496.7,106.2 L497.4,105.8 L498.1,105.4 L498.8,105.0 L499.6,104.6 L500.3,104.2 L501.0,103.9 L501.8,103.5 L502.5,103.1 L503.2,102.7 L503.9,102.3 L504.7,101.9 L505.4,101.5 L506.1,101.1 L506.9,100.7 L507.6,100.4 L508.3,100.0 L509.0,99.6 L509.8,99.2 L510.5,98.8 L511.2,98.4 L511.9,98.0 L512.7,97.6 L513.4,97.2 L514.1,96.9 L514.9,96.5 L515.6,96.1 L516.3,95.7 L517.0,95.3 L517.8,94.9 L518.5,94.5 L519.2,94.1 L520.0,93.7 L520.7,93.4 L521.4,93.0 L522.1,92.6 L522.9,92.2 L523.6,91.8 L524.3,91.4 L525.0,91.0 L525.8,90.6 L526.5,90.2 L527.2,89.9 L528.0,89.5 L528.7,89.1 L529.4,88.7 L530.1,88.3 L530.9,87.9 L531.6,87.5 L532.3,87.1 L533.1,86.8 L533.8,86.4 L534.5,86.0 L535.2,85.6 L536.0,85.2 L536.7,84.8 L537.4,84.4 L538.2,84.0 L538.9,83.6 L539.6,83.3 L540.3,82.9 L541.1,82.5 L541.8,82.1 L542.5,81.7 L543.2,81.3 L544.0,80.9 L544.7,80.5 L545.4,80.2 L546.2,79.8 L546.9,79.4 L547.6,79.0 L548.3,78.6 L549.1,78.2 L549.8,77.8 L550.5,77.4 L551.3,77.1 L552.0,76.7 L552.7,76.3 L553.4,75.9 L554.2,75.5 L554.9,75.1 L555.6,74.7 L556.3,74.3 L557.1,74.0 L557.8,73.6 L558.5,73.2 L559.3,72.8 L560.0,72.4 L560.7,72.0 L561.4,71.6 L562.2,71.2 L562.9,70.9 L563.6,70.5 L564.4,70.1 L565.1,69.7 L565.8,69.3 L566.5,68.9 L567.3,68.5 L568.0,68.1 L568.7,67.8 L569.4,67.4 L570.2,67.0 L570.9,66.6 L571.6,66.2 L572.4,65.8 L573.1,65.4 L573.8,65.0 L574.5,64.7 L575.3,64.3 L576.0,63.9" stroke="#1a703f" stroke-width="3.3" stroke-opacity="0.88" fill="none"/><path d="M165.5,517.5 L166.2,513.7 L166.9,509.8 L167.7,506.1 L168.4,502.3 L169.1,498.7 L169.8,495.1 L170.6,491.5 L171.3,488.0 L172.0,484.5 L172.8,481.0 L173.5,477.6 L174.2,474.3 L174.9,471.0 L175.7,467.7 L176.4,464.5 L177.1,461.4 L177.8,458.2 L178.6,455.1 L179.3,452.1 L180.0,449.1 L180.8,446.1 L181.5,443.1 L182.2,440.3 L182.9,437.4 L183.7,434.6 L184.4,431.8 L185.1,429.0 L185.9,426.3 L186.6,423.6 L187.3,421.0 L188.0,418.3 L188.8,415.8 L189.5,413.2 L190.2,410.7 L191.0,408.2 L191.7,405.7 L192.4,403.3 L193.1,400.9 L193.9,398.6 L194.6,396.2 L195.3,393.9 L196.0,391.6 L196.8,389.4 L197.5,387.1 L198.2,384.9 L199.0,382.8 L199.7,380.6 L200.4,378.5 L201.1,376.4 L201.9,374.3 L202.6,372.3 L203.3,370.3 L204.1,368.3 L204.8,366.3 L205.5,364.4 L206.2,362.4 L207.0,360.5 L207.7,358.7 L208.4,356.8 L209.1,355.0 L209.9,353.1 L210.6,351.4 L211.3,349.6 L212.1,347.8 L212.8,346.1 L213.5,344.4 L214.2,342.7 L215.0,341.0 L215.7,339.4 L216.4,337.7 L217.2,336.1 L217.9,334.5 L218.6,332.9 L219.3,331.4 L220.1,329.8 L220.8,328.3 L221.5,326.8 L222.3,325.3 L223.0,323.8 L223.7,322.3 L224.4,320.9 L225.2,319.4 L225.9,318.0 L226.6,316.6 L227.3,315.2 L228.1,313.9 L228.8,312.5 L229.5,311.2 L230.3,309.8 L231.0,308.5 L231.7,307.2 L232.4,305.9 L233.2,304.6 L233.9,303.4 L234.6,302.1 L235.4,300.9 L236.1,299.7 L236.8,298.5 L237.5,297.2 L238.3,296.1 L239.0,294.9 L239.7,293.7 L240.4,292.6 L241.2,291.4 L241.9,290.3 L242.6,289.2 L243.4,288.1 L244.1,287.0 L244.8,285.9 L245.5,284.8 L246.3,283.7 L247.0,282.7 L247.7,281.6 L248.5,280.6 L249.2,279.6 L249.9,278.5 L250.6,277.5 L251.4,276.5 L252.1,275.5 L252.8,274.5 L253.5,273.6 L254.3,272.6 L255.0,271.6 L255.7,270.7 L256.5,269.8 L257.2,268.8 L257.9,267.9 L258.6,267.0 L259.4,266.1 L260.1,265.2 L260.8,264.3 L261.6,263.4 L262.3,262.5 L263.0,261.6 L263.7,260.8 L264.5,259.9 L265.2,259.1 L265.9,258.2 L266.7,257.4 L267.4,256.6 L268.1,255.7 L268.8,254.9 L269.6,254.1 L270.3,253.3 L271.0,252.5 L271.7,251.7 L272.5,250.9 L273.2,250.1 L273.9,249.4 L274.7,248.6 L275.4,247.8 L276.1,247.1 L276.8,246.3 L277.6,245.6 L278.3,244.8 L279.0,244.1 L279.8,243.3 L280.5,242.6 L281.2,241.9 L281.9,241.2 L282.7,240.5 L283.4,239.7 L284.1,239.0 L284.8,238.3 L285.6,237.7 L286.3,237.0 L287.0,236.3 L287.8,235.6 L288.5,234.9 L289.2,234.2 L289.9,233.6 L290.7,232.9 L291.4,232.2 L292.1,231.6 L292.9,230.9 L293.6,230.3 L294.3,229.6 L295.0,229.0 L295.8,228.4 L296.5,227.7 L297.2,227.1 L297.9,226.5 L298.7,225.8 L299.4,225.2 L300.1,224.6 L300.9,224.0 L301.6,223.4 L302.3,222.8 L303.0,222.2 L303.8,221.6 L304.5,221.0 L305.2,220.4 L306.0,219.8 L306.7,219.2 L307.4,218.6 L308.1,218.0 L308.9,217.5 L309.6,216.9 L310.3,216.3 L311.1,215.7 L311.8,215.2 L312.5,214.6 L313.2,214.0 L314.0,213.5 L314.7,212.9 L315.4,212.4 L316.1,211.8 L316.9,211.2 L317.6,210.7 L318.3,210.1 L319.1,209.6 L319.8,209.1 L320.5,208.5 L321.2,208.0 L322.0,207.4 L322.7,206.9 L323.4,206.4 L324.2,205.8 L324.9,205.3 L325.6,204.8 L326.3,204.3 L327.1,203.8 L327.8,203.2 L328.5,202.7 L329.2,202.2 L330.0,201.7 L330.7,201.2 L331.4,200.7 L332.2,200.1 L332.9,199.6 L333.6,199.1 L334.3,198.6 L335.1,198.1 L335.8,197.6 L336.5,197.1 L337.3,196.6 L338.0,196.1 L338.7,195.6 L339.4,195.1 L340.2,194.7 L340.9,194.2 L341.6,193.7 L342.4,193.2 L343.1,192.7 L343.8,192.2 L344.5,191.7 L345.3,191.3 L346.0,190.8 L346.7,190.3 L347.4,189.8 L348.2,189.3 L348.9,188.9 L349.6,188.4 L350.4,187.9 L351.1,187.4 L351.8,187.0 L352.5,186.5 L353.3,186.0 L354.0,185.6 L354.7,185.1 L355.5,184.6 L356.2,184.2 L356.9,183.7 L357.6,183.3 L358.4,182.8 L359.1,182.3 L359.8,181.9 L360.5,181.4 L361.3,181.0 L362.0,180.5 L362.7,180.1 L363.5,179.6 L364.2,179.1 L364.9,178.7 L365.6,178.2 L366.4,177.8 L367.1,177.3 L367.8,176.9 L368.6,176.4 L369.3,176.0 L370.0,175.5 L370.7,175.1 L371.5,174.7 L372.2,174.2 L372.9,173.8 L373.6,173.3 L374.4,172.9 L375.1,172.4 L375.8,172.0 L376.6,171.6 L377.3,171.1 L378.0,170.7 L378.7,170.3 L379.5,169.8 L380.2,169.4 L380.9,168.9 L381.7,168.5 L382.4,168.1 L383.1,167.6 L383.8,167.2 L384.6,166.8 L385.3,166.3 L386.0,165.9 L386.8,165.5 L387.5,165.1 L388.2,164.6 L388.9,164.2 L389.7,163.8 L390.4,163.3 L391.1,162.9 L391.8,162.5 L392.6,162.1 L393.3,161.6 L394.0,161.2 L394.8,160.8 L395.5,160.4 L396.2,159.9 L396.9,159.5 L397.7,159.1 L398.4,158.7 L399.1,158.2 L399.9,157.8 L400.6,157.4 L401.3,157.0 L402.0,156.6 L402.8,156.1 L403.5,155.7 L404.2,155.3 L404.9,154.9 L405.7,154.5 L406.4,154.0 L407.1,153.6 L407.9,153.2 L408.6,152.8 L409.3,152.4 L410.0,152.0 L410.8,151.5 L411.5,151.1 L412.2,150.7 L413.0,150.3 L413.7,149.9 L414.4,149.5 L415.1,149.1 L415.9,148.6 L416.6,148.2 L417.3,147.8 L418.1,147.4 L418.8,147.0 L419.5,146.6 L420.2,146.2 L421.0,145.8 L421.7,145.3 L422.4,144.9 L423.1,144.5 L423.9,144.1 L424.6,143.7 L425.3,143.3 L426.1,142.9 L426.8,142.5 L427.5,142.1 L428.2,141.7 L429.0,141.2 L429.7,140.8 L430.4,140.4 L431.2,140.0 L431.9,139.6 L432.6,139.2 L433.3,138.8 L434.1,138.4 L434.8,138.0 L435.5,137.6 L436.2,137.2 L437.0,136.8 L437.7,136.4 L438.4,135.9 L439.2,135.5 L439.9,135.1 L440.6,134.7 L441.3,134.3 L442.1,133.9 L442.8,133.5 L443.5,133.1 L444.3,132.7 L445.0,132.3 L445.7,131.9 L446.4,131.5 L447.2,131.1 L447.9,130.7 L448.6,130.3 L449.3,129.9 L450.1,129.5 L450.8,129.1 L451.5,128.7 L452.3,128.3 L453.0,127.9 L453.7,127.5 L454.4,127.1 L455.2,126.7 L455.9,126.3 L456.6,125.9 L457.4,125.5 L458.1,125.1 L458.8,124.7 L459.5,124.3 L460.3,123.9 L461.0,123.5 L461.7,123.1 L462.5,122.7 L463.2,122.3 L463.9,121.8 L464.6,121.4 L465.4,121.0 L466.1,120.6 L466.8,120.2 L467.5,119.8 L468.3,119.4 L469.0,119.0 L469.7,118.7 L470.5,118.3 L471.2,117.9 L471.9,117.5 L472.6,117.1 L473.4,116.7 L474.1,116.3 L474.8,115.9 L475.6,115.5 L476.3,115.1 L477.0,114.7 L477.7,114.3 L478.5,113.9 L479.2,113.5 L479.9,113.1 L480.6,112.7 L481.4,112.3 L482.1,111.9 L482.8,111.5 L483.6,111.1 L484.3,110.7 L485.0,110.3 L485.7,109.9 L486.5,109.5 L487.2,109.1 L487.9,108.7 L488.7,108.3 L489.4,107.9 L490.1,107.5 L490.8,107.1 L491.6,106.7 L492.3,106.3 L493.0,105.9 L493.7,105.5 L494.5,105.1 L495.2,104.7 L495.9,104.3 L496.7,103.9 L497.4,103.5 L498.1,103.1 L498.8,102.7 L499.6,102.3 L500.3,101.9 L501.0,101.5 L501.8,101.2 L502.5,100.8 L503.2,100.4 L503.9,100.0 L504.7,99.6 L505.4,99.2 L506.1,98.8 L506.9,98.4 L507.6,98.0 L508.3,97.6 L509.0,97.2 L509.8,96.8 L510.5,96.4 L511.2,96.0 L511.9,95.6 L512.7,95.2 L513.4,94.8 L514.1,94.4 L514.9,94.0 L515.6,93.6 L516.3,93.2 L517.0,92.8 L517.8,92.4 L518.5,92.1 L519.2,91.7 L520.0,91.3 L520.7,90.9 L521.4,90.5 L522.1,90.1 L522.9,89.7 L523.6,89.3 L524.3,88.9 L525.0,88.5 L525.8,88.1 L526.5,87.7 L527.2,87.3 L528.0,86.9 L528.7,86.5 L529.4,86.1 L530.1,85.7 L530.9,85.3 L531.6,84.9 L532.3,84.5 L533.1,84.2 L533.8,83.8 L534.5,83.4 L535.2,83.0 L536.0,82.6 L536.7,82.2 L537.4,81.8 L538.2,81.4 L538.9,81.0 L539.6,80.6 L540.3,80.2 L541.1,79.8 L541.8,79.4 L542.5,79.0 L543.2,78.6 L544.0,78.2 L544.7,77.8 L545.4,77.5 L546.2,77.1 L546.9,76.7 L547.6,76.3 L548.3,75.9 L549.1,75.5 L549.8,75.1 L550.5,74.7 L551.3,74.3 L552.0,73.9 L552.7,73.5 L553.4,73.1 L554.2,72.7 L554.9,72.3 L555.6,71.9 L556.3,71.5 L557.1,71.1 L557.8,70.8 L558.5,70.4 L559.3,70.0 L560.0,69.6 L560.7,69.2 L561.4,68.8 L562.2,68.4 L562.9,68.0 L563.6,67.6 L564.4,67.2 L565.1,66.8 L565.8,66.4 L566.5,66.0 L567.3,65.6 L568.0,65.2 L568.7,64.9 L569.4,64.5 L570.2,64.1 L570.9,63.7 L571.6,63.3 L572.4,62.9 L573.1,62.5 L573.8,62.1 L574.5,61.7 L575.3,61.3 L576.0,60.9" stroke="#ba4a00" stroke-width="3.3" stroke-opacity="0.88" fill="none"/><path d="M172.8,516.9 L173.5,513.1 L174.2,509.4 L174.9,505.8 L175.7,502.2 L176.4,498.6 L177.1,495.1 L177.8,491.6 L178.6,488.2 L179.3,484.9 L180.0,481.5 L180.8,478.2 L181.5,475.0 L182.2,471.8 L182.9,468.6 L183.7,465.5 L184.4,462.4 L185.1,459.4 L185.9,456.4 L186.6,453.4 L187.3,450.5 L188.0,447.6 L188.8,444.7 L189.5,441.9 L190.2,439.1 L191.0,436.4 L191.7,433.7 L192.4,431.0 L193.1,428.3 L193.9,425.7 L194.6,423.1 L195.3,420.6 L196.0,418.0 L196.8,415.5 L197.5,413.1 L198.2,410.7 L199.0,408.2 L199.7,405.9 L200.4,403.5 L201.1,401.2 L201.9,398.9 L202.6,396.7 L203.3,394.4 L204.1,392.2 L204.8,390.0 L205.5,387.9 L206.2,385.7 L207.0,383.6 L207.7,381.6 L208.4,379.5 L209.1,377.5 L209.9,375.5 L210.6,373.5 L211.3,371.5 L212.1,369.6 L212.8,367.7 L213.5,365.8 L214.2,363.9 L215.0,362.0 L215.7,360.2 L216.4,358.4 L217.2,356.6 L217.9,354.8 L218.6,353.1 L219.3,351.3 L220.1,349.6 L220.8,347.9 L221.5,346.2 L222.3,344.6 L223.0,342.9 L223.7,341.3 L224.4,339.7 L225.2,338.1 L225.9,336.5 L226.6,335.0 L227.3,333.5 L228.1,331.9 L228.8,330.4 L229.5,328.9 L230.3,327.5 L231.0,326.0 L231.7,324.6 L232.4,323.1 L233.2,321.7 L233.9,320.3 L234.6,318.9 L235.4,317.5 L236.1,316.2 L236.8,314.8 L237.5,313.5 L238.3,312.2 L239.0,310.9 L239.7,309.6 L240.4,308.3 L241.2,307.0 L241.9,305.8 L242.6,304.5 L243.4,303.3 L244.1,302.1 L244.8,300.9 L245.5,299.7 L246.3,298.5 L247.0,297.3 L247.7,296.2 L248.5,295.0 L249.2,293.9 L249.9,292.7 L250.6,291.6 L251.4,290.5 L252.1,289.4 L252.8,288.3 L253.5,287.2 L254.3,286.1 L255.0,285.1 L255.7,284.0 L256.5,283.0 L257.2,281.9 L257.9,280.9 L258.6,279.9 L259.4,278.9 L260.1,277.9 L260.8,276.9 L261.6,275.9 L262.3,274.9 L263.0,273.9 L263.7,273.0 L264.5,272.0 L265.2,271.1 L265.9,270.1 L266.7,269.2 L267.4,268.3 L268.1,267.4 L268.8,266.5 L269.6,265.5 L270.3,264.7 L271.0,263.8 L271.7,262.9 L272.5,262.0 L273.2,261.1 L273.9,260.3 L274.7,259.4 L275.4,258.6 L276.1,257.7 L276.8,256.9 L277.6,256.0 L278.3,255.2 L279.0,254.4 L279.8,253.6 L280.5,252.8 L281.2,251.9 L281.9,251.1 L282.7,250.3 L283.4,249.6 L284.1,248.8 L284.8,248.0 L285.6,247.2 L286.3,246.4 L287.0,245.7 L287.8,244.9 L288.5,244.2 L289.2,243.4 L289.9,242.7 L290.7,241.9 L291.4,241.2 L292.1,240.5 L292.9,239.7 L293.6,239.0 L294.3,238.3 L295.0,237.6 L295.8,236.9 L296.5,236.1 L297.2,235.4 L297.9,234.7 L298.7,234.0 L299.4,233.4 L300.1,232.7 L300.9,232.0 L301.6,231.3 L302.3,230.6 L303.0,229.9 L303.8,229.3 L304.5,228.6 L305.2,227.9 L306.0,227.3 L306.7,226.6 L307.4,226.0 L308.1,225.3 L308.9,224.7 L309.6,224.0 L310.3,223.4 L311.1,222.7 L311.8,222.1 L312.5,221.5 L313.2,220.8 L314.0,220.2 L314.7,219.6 L315.4,219.0 L316.1,218.3 L316.9,217.7 L317.6,217.1 L318.3,216.5 L319.1,215.9 L319.8,215.3 L320.5,214.7 L321.2,214.1 L322.0,213.5 L322.7,212.9 L323.4,212.3 L324.2,211.7 L324.9,211.1 L325.6,210.5 L326.3,209.9 L327.1,209.3 L327.8,208.7 L328.5,208.2 L329.2,207.6 L330.0,207.0 L330.7,206.4 L331.4,205.9 L332.2,205.3 L332.9,204.7 L333.6,204.2 L334.3,203.6 L335.1,203.0 L335.8,202.5 L336.5,201.9 L337.3,201.4 L338.0,200.8 L338.7,200.2 L339.4,199.7 L340.2,199.1 L340.9,198.6 L341.6,198.0 L342.4,197.5 L343.1,197.0 L343.8,196.4 L344.5,195.9 L345.3,195.3 L346.0,194.8 L346.7,194.3 L347.4,193.7 L348.2,193.2 L348.9,192.6 L349.6,192.1 L350.4,191.6 L351.1,191.1 L351.8,190.5 L352.5,190.0 L353.3,189.5 L354.0,189.0 L354.7,188.4 L355.5,187.9 L356.2,187.4 L356.9,186.9 L357.6,186.3 L358.4,185.8 L359.1,185.3 L359.8,184.8 L360.5,184.3 L361.3,183.8 L362.0,183.3 L362.7,182.8 L363.5,182.2 L364.2,181.7 L364.9,181.2 L365.6,180.7 L366.4,180.2 L367.1,179.7 L367.8,179.2 L368.6,178.7 L369.3,178.2 L370.0,177.7 L370.7,177.2 L371.5,176.7 L372.2,176.2 L372.9,175.7 L373.6,175.2 L374.4,174.7 L375.1,174.2 L375.8,173.7 L376.6,173.2 L377.3,172.7 L378.0,172.2 L378.7,171.7 L379.5,171.3 L380.2,170.8 L380.9,170.3 L381.7,169.8 L382.4,169.3 L383.1,168.8 L383.8,168.3 L384.6,167.8 L385.3,167.4 L386.0,166.9 L386.8,166.4 L387.5,165.9 L388.2,165.4 L388.9,164.9 L389.7,164.5 L390.4,164.0 L391.1,163.5 L391.8,163.0 L392.6,162.5 L393.3,162.1 L394.0,161.6 L394.8,161.1 L395.5,160.6 L396.2,160.1 L396.9,159.7 L397.7,159.2 L398.4,158.7 L399.1,158.2 L399.9,157.8 L400.6,157.3 L401.3,156.8 L402.0,156.4 L402.8,155.9 L403.5,155.4 L404.2,154.9 L404.9,154.5 L405.7,154.0 L406.4,153.5 L407.1,153.1 L407.9,152.6 L408.6,152.1 L409.3,151.7 L410.0,151.2 L410.8,150.7 L411.5,150.2 L412.2,149.8 L413.0,149.3 L413.7,148.8 L414.4,148.4 L415.1,147.9 L415.9,147.5 L416.6,147.0 L417.3,146.5 L418.1,146.1 L418.8,145.6 L419.5,145.1 L420.2,144.7 L421.0,144.2 L421.7,143.7 L422.4,143.3 L423.1,142.8 L423.9,142.4 L424.6,141.9 L425.3,141.4 L426.1,141.0 L426.8,140.5 L427.5,140.1 L428.2,139.6 L429.0,139.1 L429.7,138.7 L430.4,138.2 L431.2,137.8 L431.9,137.3 L432.6,136.8 L433.3,136.4 L434.1,135.9 L434.8,135.5 L435.5,135.0 L436.2,134.5 L437.0,134.1 L437.7,133.6 L438.4,133.2 L439.2,132.7 L439.9,132.3 L440.6,131.8 L441.3,131.4 L442.1,130.9 L442.8,130.4 L443.5,130.0 L444.3,129.5 L445.0,129.1 L445.7,128.6 L446.4,128.2 L447.2,127.7 L447.9,127.3 L448.6,126.8 L449.3,126.4 L450.1,125.9 L450.8,125.4 L451.5,125.0 L452.3,124.5 L453.0,124.1 L453.7,123.6 L454.4,123.2 L455.2,122.7 L455.9,122.3 L456.6,121.8 L457.4,121.4 L458.1,120.9 L458.8,120.5 L459.5,120.0 L460.3,119.6 L461.0,119.1 L461.7,118.7 L462.5,118.2 L463.2,117.8 L463.9,117.3 L464.6,116.9 L465.4,116.4 L466.1,116.0 L466.8,115.5 L467.5,115.1 L468.3,114.6 L469.0,114.2 L469.7,113.7 L470.5,113.3 L471.2,112.8 L471.9,112.4 L472.6,111.9 L473.4,111.5 L474.1,111.0 L474.8,110.6 L475.6,110.1 L476.3,109.7 L477.0,109.2 L477.7,108.8 L478.5,108.3 L479.2,107.9 L479.9,107.4 L480.6,107.0 L481.4,106.5 L482.1,106.1 L482.8,105.6 L483.6,105.2 L484.3,104.7 L485.0,104.3 L485.7,103.8 L486.5,103.4 L487.2,102.9 L487.9,102.5 L488.7,102.1 L489.4,101.6 L490.1,101.2 L490.8,100.7 L491.6,100.3 L492.3,99.8 L493.0,99.4 L493.7,98.9 L494.5,98.5 L495.2,98.0 L495.9,97.6 L496.7,97.1 L497.4,96.7 L498.1,96.2 L498.8,95.8 L499.6,95.4 L500.3,94.9 L501.0,94.5 L501.8,94.0 L502.5,93.6 L503.2,93.1 L503.9,92.7 L504.7,92.2 L505.4,91.8 L506.1,91.3 L506.9,90.9 L507.6,90.4 L508.3,90.0 L509.0,89.6 L509.8,89.1 L510.5,88.7 L511.2,88.2 L511.9,87.8 L512.7,87.3 L513.4,86.9 L514.1,86.4 L514.9,86.0 L515.6,85.5 L516.3,85.1 L517.0,84.7 L517.8,84.2 L518.5,83.8 L519.2,83.3 L520.0,82.9 L520.7,82.4 L521.4,82.0 L522.1,81.5 L522.9,81.1 L523.6,80.7 L524.3,80.2 L525.0,79.8 L525.8,79.3 L526.5,78.9 L527.2,78.4 L528.0,78.0 L528.7,77.5 L529.4,77.1 L530.1,76.7 L530.9,76.2 L531.6,75.8 L532.3,75.3 L533.1,74.9 L533.8,74.4 L534.5,74.0 L535.2,73.5 L536.0,73.1 L536.7,72.7 L537.4,72.2 L538.2,71.8 L538.9,71.3 L539.6,70.9 L540.3,70.4 L541.1,70.0 L541.8,69.6 L542.5,69.1 L543.2,68.7 L544.0,68.2 L544.7,67.8 L545.4,67.3 L546.2,66.9 L546.9,66.4 L547.6,66.0 L548.3,65.6 L549.1,65.1 L549.8,64.7 L550.5,64.2 L551.3,63.8 L552.0,63.3 L552.7,62.9 L553.4,62.5 L554.2,62.0 L554.9,61.6 L555.6,61.1 L556.3,60.7 L557.1,60.2 L557.8,59.8 L558.5,59.4 L559.3,58.9 L560.0,58.5 L560.7,58.0 L561.4,57.6 L562.2,57.1 L562.9,56.7 L563.6,56.2 L564.4,55.8 L565.1,55.4 L565.8,54.9 L566.5,54.5 L567.3,54.0 L568.0,53.6 L568.7,53.1 L569.4,52.7 L570.2,52.3 L570.9,51.8 L571.6,51.4 L572.4,50.9 L573.1,50.5 L573.8,50.0 L574.5,49.6 L575.3,49.2 L576.0,48.7" stroke="#7d3c98" stroke-width="3.3" stroke-opacity="0.88" fill="none"/><circle cx="126.30" cy="450.40" r="4.86" fill="#1f618d"/><circle cx="144.37" cy="396.50" r="4.86" fill="#1f618d"/><circle cx="162.44" cy="322.90" r="4.86" fill="#1f618d"/><circle cx="180.51" cy="262.00" r="4.86" fill="#1f618d"/><circle cx="198.58" cy="236.50" r="4.86" fill="#1f618d"/><circle cx="216.65" cy="227.70" r="4.86" fill="#1f618d"/><circle cx="234.72" cy="225.30" r="4.86" fill="#1f618d"/><circle cx="252.79" cy="225.00" r="4.86" fill="#1f618d"/><circle cx="270.86" cy="225.50" r="4.86" fill="#1f618d"/><circle cx="288.93" cy="225.60" r="4.86" fill="#1f618d"/><circle cx="307.00" cy="225.80" r="4.86" fill="#1f618d"/><circle cx="325.07" cy="225.80" r="4.86" fill="#1f618d"/><circle cx="343.14" cy="225.80" r="4.86" fill="#1f618d"/><circle cx="361.21" cy="225.80" r="4.86" fill="#1f618d"/><circle cx="379.28" cy="226.00" r="4.86" fill="#1f618d"/><circle cx="397.35" cy="226.00" r="4.86" fill="#1f618d"/><circle cx="415.42" cy="226.20" r="4.86" fill="#1f618d"/><circle cx="451.56" cy="226.50" r="4.86" fill="#1f618d"/><circle cx="469.63" cy="226.50" r="4.86" fill="#1f618d"/><circle cx="505.77" cy="229.70" r="4.86" fill="#1f618d"/><path d="M173.50,430.50 V435.50" stroke="#1f618d" stroke-width="1.39" fill="none"/><path d="M170.60,430.50 H176.40 M170.60,435.50 H176.40" stroke="#1f618d" stroke-width="2.0" fill="none"/><path d="M169.33,428.83 L177.67,437.17 M177.67,428.83 L169.33,437.17" stroke="#1f618d" stroke-width="2.08" fill="none"/><path d="M185.30,386.30 V391.30" stroke="#1f618d" stroke-width="1.39" fill="none"/><path d="M182.40,386.30 H188.20 M182.40,391.30 H188.20" stroke="#1f618d" stroke-width="2.0" fill="none"/><path d="M181.13,384.63 L189.47,392.97 M189.47,384.63 L181.13,392.97" stroke="#1f618d" stroke-width="2.08" fill="none"/><path d="M197.10,362.50 V367.50" stroke="#1f618d" stroke-width="1.39" fill="none"/><path d="M194.20,362.50 H200.00 M194.20,367.50 H200.00" stroke="#1f618d" stroke-width="2.0" fill="none"/><path d="M192.93,360.83 L201.27,369.17 M201.27,360.83 L192.93,369.17" stroke="#1f618d" stroke-width="2.08" fill="none"/><path d="M208.90,335.20 V340.20" stroke="#1f618d" stroke-width="1.39" fill="none"/><path d="M206.00,335.20 H211.80 M206.00,340.20 H211.80" stroke="#1f618d" stroke-width="2.0" fill="none"/><path d="M204.73,333.53 L213.07,341.87 M213.07,333.53 L204.73,341.87" stroke="#1f618d" stroke-width="2.08" fill="none"/><path d="M220.70,314.40 V319.40" stroke="#1f618d" stroke-width="1.39" fill="none"/><path d="M217.80,314.40 H223.60 M217.80,319.40 H223.60" stroke="#1f618d" stroke-width="2.0" fill="none"/><path d="M216.53,312.73 L224.87,321.07 M224.87,312.73 L216.53,321.07" stroke="#1f618d" stroke-width="2.08" fill="none"/><path d="M232.50,297.50 V302.50" stroke="#1f618d" stroke-width="1.39" fill="none"/><path d="M229.60,297.50 H235.40 M229.60,302.50 H235.40" stroke="#1f618d" stroke-width="2.0" fill="none"/><path d="M228.33,295.83 L236.67,304.17 M236.67,295.83 L228.33,304.17" stroke="#1f618d" stroke-width="2.08" fill="none"/><path d="M244.30,276.64 V281.64" stroke="#1f618d" stroke-width="1.39" fill="none"/><path d="M241.40,276.64 H247.20 M241.40,281.64 H247.20" stroke="#1f618d" stroke-width="2.0" fill="none"/><path d="M240.13,274.97 L248.47,283.31 M248.47,274.97 L240.13,283.31" stroke="#1f618d" stroke-width="2.08" fill="none"/><path d="M256.10,262.06 V267.06" stroke="#1f618d" stroke-width="1.39" fill="none"/><path d="M253.20,262.06 H259.00 M253.20,267.06 H259.00" stroke="#1f618d" stroke-width="2.0" fill="none"/><path d="M251.93,260.39 L260.27,268.73 M260.27,260.39 L251.93,268.73" stroke="#1f618d" stroke-width="2.08" fill="none"/><path d="M267.90,249.27 V254.27" stroke="#1f618d" stroke-width="1.39" fill="none"/><path d="M265.00,249.27 H270.80 M265.00,254.27 H270.80" stroke="#1f618d" stroke-width="2.0" fill="none"/><path d="M263.73,247.60 L272.07,255.94 M272.07,247.60 L263.73,255.94" stroke="#1f618d" stroke-width="2.08" fill="none"/><path d="M275.53,236.20 L283.87,244.54 M283.87,236.20 L275.53,244.54" stroke="#1f618d" stroke-width="2.08" fill="none"/><path d="M287.33,225.91 L295.67,234.25 M295.67,225.91 L287.33,234.25" stroke="#1f618d" stroke-width="2.08" fill="none"/><path d="M299.13,216.49 L307.47,224.83 M307.47,216.49 L299.13,224.83" stroke="#1f618d" stroke-width="2.08" fill="none"/><path d="M310.93,207.74 L319.27,216.08 M319.27,207.74 L310.93,216.08" stroke="#1f618d" stroke-width="2.08" fill="none"/><path d="M322.73,199.53 L331.07,207.87 M331.07,199.53 L322.73,207.87" stroke="#1f618d" stroke-width="2.08" fill="none"/><path d="M334.53,191.74 L342.87,200.08 M342.87,191.74 L334.53,200.08" stroke="#1f618d" stroke-width="2.08" fill="none"/><path d="M346.33,184.27 L354.67,192.61 M354.67,184.27 L346.33,192.61" stroke="#1f618d" stroke-width="2.08" fill="none"/><path d="M358.13,177.07 L366.47,185.41 M366.47,177.07 L358.13,185.41" stroke="#1f618d" stroke-width="2.08" fill="none"/><path d="M369.93,170.07 L378.27,178.41 M378.27,170.07 L369.93,178.41" stroke="#1f618d" stroke-width="2.08" fill="none"/><path d="M381.73,163.22 L390.07,171.56 M390.07,163.22 L381.73,171.56" stroke="#1f618d" stroke-width="2.08" fill="none"/><path d="M393.53,156.51 L401.87,164.85 M401.87,156.51 L393.53,164.85" stroke="#1f618d" stroke-width="2.08" fill="none"/><path d="M405.33,149.89 L413.67,158.23 M413.67,149.89 L405.33,158.23" stroke="#1f618d" stroke-width="2.08" fill="none"/><path d="M417.13,143.35 L425.47,151.69 M425.47,143.35 L417.13,151.69" stroke="#1f618d" stroke-width="2.08" fill="none"/><path d="M428.93,136.87 L437.27,145.21 M437.27,136.87 L428.93,145.21" stroke="#1f618d" stroke-width="2.08" fill="none"/><path d="M440.73,130.43 L449.07,138.77 M449.07,130.43 L440.73,138.77" stroke="#1f618d" stroke-width="2.08" fill="none"/><path d="M452.53,124.04 L460.87,132.38 M460.87,124.04 L452.53,132.38" stroke="#1f618d" stroke-width="2.08" fill="none"/><path d="M464.33,117.67 L472.67,126.01 M472.67,117.67 L464.33,126.01" stroke="#1f618d" stroke-width="2.08" fill="none"/><path d="M476.13,107.03 L484.47,115.37 M484.47,107.03 L476.13,115.37" stroke="#1f618d" stroke-width="2.08" fill="none"/><path d="M487.93,102.83 L496.27,111.17 M496.27,102.83 L487.93,111.17" stroke="#1f618d" stroke-width="2.08" fill="none"/><path d="M499.73,100.43 L508.07,108.77 M508.07,100.43 L499.73,108.77" stroke="#1f618d" stroke-width="2.08" fill="none"/><path d="M515.70,90.10 V98.50" stroke="#1f618d" stroke-width="1.39" fill="none"/><path d="M512.80,90.10 H518.60 M512.80,98.50 H518.60" stroke="#1f618d" stroke-width="2.0" fill="none"/><path d="M511.53,90.13 L519.87,98.47 M519.87,90.13 L511.53,98.47" stroke="#1f618d" stroke-width="2.08" fill="none"/><path d="M523.33,92.43 L531.67,100.77 M531.67,92.43 L523.33,100.77" stroke="#1f618d" stroke-width="2.08" fill="none"/><path d="M539.30,75.30 V87.80" stroke="#1f618d" stroke-width="1.39" fill="none"/><path d="M536.40,75.30 H542.20 M536.40,87.80 H542.20" stroke="#1f618d" stroke-width="2.0" fill="none"/><path d="M535.13,77.03 L543.47,85.37 M543.47,77.03 L535.13,85.37" stroke="#1f618d" stroke-width="2.08" fill="none"/><path d="M562.90,45.80 V85.10" stroke="#1f618d" stroke-width="1.39" fill="none"/><path d="M560.00,45.80 H565.80 M560.00,85.10 H565.80" stroke="#1f618d" stroke-width="2.0" fill="none"/><path d="M558.73,55.53 L567.07,63.87 M567.07,55.53 L558.73,63.87" stroke="#1f618d" stroke-width="2.08" fill="none"/><circle cx="157.70" cy="376.90" r="4.86" fill="#1a703f"/><circle cx="177.30" cy="287.50" r="4.86" fill="#1a703f"/><circle cx="196.90" cy="249.20" r="4.86" fill="#1a703f"/><circle cx="216.50" cy="233.50" r="4.86" fill="#1a703f"/><circle cx="236.10" cy="226.50" r="4.86" fill="#1a703f"/><circle cx="255.70" cy="226.70" r="4.86" fill="#1a703f"/><circle cx="275.30" cy="226.50" r="4.86" fill="#1a703f"/><circle cx="294.90" cy="226.70" r="4.86" fill="#1a703f"/><circle cx="314.50" cy="226.70" r="4.86" fill="#1a703f"/><circle cx="334.10" cy="226.70" r="4.86" fill="#1a703f"/><circle cx="353.70" cy="226.70" r="4.86" fill="#1a703f"/><circle cx="373.30" cy="226.70" r="4.86" fill="#1a703f"/><circle cx="392.90" cy="226.70" r="4.86" fill="#1a703f"/><circle cx="412.50" cy="226.70" r="4.86" fill="#1a703f"/><circle cx="432.10" cy="226.70" r="4.86" fill="#1a703f"/><path d="M176.30,435.40 V440.40" stroke="#1a703f" stroke-width="1.39" fill="none"/><path d="M173.40,435.40 H179.20 M173.40,440.40 H179.20" stroke="#1a703f" stroke-width="2.0" fill="none"/><path d="M172.13,433.73 L180.47,442.07 M180.47,433.73 L172.13,442.07" stroke="#1a703f" stroke-width="2.08" fill="none"/><path d="M186.80,396.90 V401.90" stroke="#1a703f" stroke-width="1.39" fill="none"/><path d="M183.90,396.90 H189.70 M183.90,401.90 H189.70" stroke="#1a703f" stroke-width="2.0" fill="none"/><path d="M182.63,395.23 L190.97,403.57 M190.97,395.23 L182.63,403.57" stroke="#1a703f" stroke-width="2.08" fill="none"/><path d="M197.30,369.00 V374.00" stroke="#1a703f" stroke-width="1.39" fill="none"/><path d="M194.40,369.00 H200.20 M194.40,374.00 H200.20" stroke="#1a703f" stroke-width="2.0" fill="none"/><path d="M193.13,367.33 L201.47,375.67 M201.47,367.33 L193.13,375.67" stroke="#1a703f" stroke-width="2.08" fill="none"/><path d="M207.80,345.20 V350.20" stroke="#1a703f" stroke-width="1.39" fill="none"/><path d="M204.90,345.20 H210.70 M204.90,350.20 H210.70" stroke="#1a703f" stroke-width="2.0" fill="none"/><path d="M203.63,343.53 L211.97,351.87 M211.97,343.53 L203.63,351.87" stroke="#1a703f" stroke-width="2.08" fill="none"/><path d="M218.30,319.80 V324.80" stroke="#1a703f" stroke-width="1.39" fill="none"/><path d="M215.40,319.80 H221.20 M215.40,324.80 H221.20" stroke="#1a703f" stroke-width="2.0" fill="none"/><path d="M214.13,318.13 L222.47,326.47 M222.47,318.13 L214.13,326.47" stroke="#1a703f" stroke-width="2.08" fill="none"/><path d="M228.80,303.70 V308.70" stroke="#1a703f" stroke-width="1.39" fill="none"/><path d="M225.90,303.70 H231.70 M225.90,308.70 H231.70" stroke="#1a703f" stroke-width="2.0" fill="none"/><path d="M224.63,302.03 L232.97,310.37 M232.97,302.03 L224.63,310.37" stroke="#1a703f" stroke-width="2.08" fill="none"/><path d="M239.30,287.50 V292.50" stroke="#1a703f" stroke-width="1.39" fill="none"/><path d="M236.40,287.50 H242.20 M236.40,292.50 H242.20" stroke="#1a703f" stroke-width="2.0" fill="none"/><path d="M235.13,285.83 L243.47,294.17 M243.47,285.83 L235.13,294.17" stroke="#1a703f" stroke-width="2.08" fill="none"/><path d="M249.80,271.64 V276.64" stroke="#1a703f" stroke-width="1.39" fill="none"/><path d="M246.90,271.64 H252.70 M246.90,276.64 H252.70" stroke="#1a703f" stroke-width="2.0" fill="none"/><path d="M245.63,269.97 L253.97,278.31 M253.97,269.97 L245.63,278.31" stroke="#1a703f" stroke-width="2.08" fill="none"/><path d="M260.30,258.89 V263.89" stroke="#1a703f" stroke-width="1.39" fill="none"/><path d="M257.40,258.89 H263.20 M257.40,263.89 H263.20" stroke="#1a703f" stroke-width="2.0" fill="none"/><path d="M256.13,257.22 L264.47,265.56 M264.47,257.22 L256.13,265.56" stroke="#1a703f" stroke-width="2.08" fill="none"/><path d="M270.80,247.52 V252.52" stroke="#1a703f" stroke-width="1.39" fill="none"/><path d="M267.90,247.52 H273.70 M267.90,252.52 H273.70" stroke="#1a703f" stroke-width="2.0" fill="none"/><path d="M266.63,245.85 L274.97,254.19 M274.97,245.85 L266.63,254.19" stroke="#1a703f" stroke-width="2.08" fill="none"/><path d="M277.13,235.61 L285.47,243.95 M285.47,235.61 L277.13,243.95" stroke="#1a703f" stroke-width="2.08" fill="none"/><path d="M287.63,226.27 L295.97,234.61 M295.97,226.27 L287.63,234.61" stroke="#1a703f" stroke-width="2.08" fill="none"/><path d="M298.13,217.66 L306.47,226.00 M306.47,217.66 L298.13,226.00" stroke="#1a703f" stroke-width="2.08" fill="none"/><path d="M308.63,209.63 L316.97,217.97 M316.97,209.63 L308.63,217.97" stroke="#1a703f" stroke-width="2.08" fill="none"/><path d="M319.13,202.08 L327.47,210.42 M327.47,202.08 L319.13,210.42" stroke="#1a703f" stroke-width="2.08" fill="none"/><path d="M329.63,194.91 L337.97,203.25 M337.97,194.91 L329.63,203.25" stroke="#1a703f" stroke-width="2.08" fill="none"/><path d="M340.13,188.05 L348.47,196.39 M348.47,188.05 L340.13,196.39" stroke="#1a703f" stroke-width="2.08" fill="none"/><path d="M350.63,181.44 L358.97,189.78 M358.97,181.44 L350.63,189.78" stroke="#1a703f" stroke-width="2.08" fill="none"/><path d="M361.13,175.03 L369.47,183.37 M369.47,175.03 L361.13,183.37" stroke="#1a703f" stroke-width="2.08" fill="none"/><path d="M371.63,168.78 L379.97,177.12 M379.97,168.78 L371.63,177.12" stroke="#1a703f" stroke-width="2.08" fill="none"/><path d="M382.13,162.66 L390.47,171.00 M390.47,162.66 L382.13,171.00" stroke="#1a703f" stroke-width="2.08" fill="none"/><path d="M392.63,156.64 L400.97,164.98 M400.97,156.64 L392.63,164.98" stroke="#1a703f" stroke-width="2.08" fill="none"/><path d="M403.13,150.71 L411.47,159.05 M411.47,150.71 L403.13,159.05" stroke="#1a703f" stroke-width="2.08" fill="none"/><path d="M413.63,144.85 L421.97,153.19 M421.97,144.85 L413.63,153.19" stroke="#1a703f" stroke-width="2.08" fill="none"/><path d="M424.13,139.05 L432.47,147.39 M432.47,139.05 L424.13,147.39" stroke="#1a703f" stroke-width="2.08" fill="none"/><path d="M434.63,133.29 L442.97,141.63 M442.97,133.29 L434.63,141.63" stroke="#1a703f" stroke-width="2.08" fill="none"/><path d="M449.30,116.00 V128.00" stroke="#1a703f" stroke-width="1.39" fill="none"/><path d="M446.40,116.00 H452.20 M446.40,128.00 H452.20" stroke="#1a703f" stroke-width="2.0" fill="none"/><path d="M445.13,118.13 L453.47,126.47 M453.47,118.13 L445.13,126.47" stroke="#1a703f" stroke-width="2.08" fill="none"/><path d="M459.80,125.00 V137.00" stroke="#1a703f" stroke-width="1.39" fill="none"/><path d="M456.90,125.00 H462.70 M456.90,137.00 H462.70" stroke="#1a703f" stroke-width="2.0" fill="none"/><path d="M455.63,126.63 L463.97,134.97 M463.97,126.63 L455.63,134.97" stroke="#1a703f" stroke-width="2.08" fill="none"/><path d="M466.13,116.19 L474.47,124.53 M474.47,116.19 L466.13,124.53" stroke="#1a703f" stroke-width="2.08" fill="none"/><path d="M480.80,109.00 V123.00" stroke="#1a703f" stroke-width="1.39" fill="none"/><path d="M477.90,109.00 H483.70 M477.90,123.00 H483.70" stroke="#1a703f" stroke-width="2.0" fill="none"/><path d="M476.63,112.03 L484.97,120.37 M484.97,112.03 L476.63,120.37" stroke="#1a703f" stroke-width="2.08" fill="none"/><circle cx="163.50" cy="392.70" r="4.86" fill="#ba4a00"/><circle cx="175.40" cy="324.60" r="4.86" fill="#ba4a00"/><circle cx="187.30" cy="283.30" r="4.86" fill="#ba4a00"/><circle cx="199.20" cy="258.50" r="4.86" fill="#ba4a00"/><circle cx="211.10" cy="243.80" r="4.86" fill="#ba4a00"/><circle cx="223.00" cy="235.10" r="4.86" fill="#ba4a00"/><circle cx="234.90" cy="230.00" r="4.86" fill="#ba4a00"/><circle cx="246.80" cy="228.50" r="4.86" fill="#ba4a00"/><circle cx="258.70" cy="226.90" r="4.86" fill="#ba4a00"/><circle cx="270.60" cy="226.90" r="4.86" fill="#ba4a00"/><circle cx="282.50" cy="226.70" r="4.86" fill="#ba4a00"/><circle cx="294.40" cy="226.70" r="4.86" fill="#ba4a00"/><circle cx="306.30" cy="226.50" r="4.86" fill="#ba4a00"/><circle cx="318.20" cy="226.70" r="4.86" fill="#ba4a00"/><circle cx="330.10" cy="226.70" r="4.86" fill="#ba4a00"/><circle cx="342.00" cy="226.70" r="4.86" fill="#ba4a00"/><circle cx="365.80" cy="226.50" r="4.86" fill="#ba4a00"/><circle cx="377.70" cy="230.10" r="4.86" fill="#ba4a00"/><circle cx="401.50" cy="227.90" r="4.86" fill="#ba4a00"/><path d="M180.20,447.90 V452.90" stroke="#ba4a00" stroke-width="1.39" fill="none"/><path d="M177.30,447.90 H183.10 M177.30,452.90 H183.10" stroke="#ba4a00" stroke-width="2.0" fill="none"/><path d="M176.03,446.23 L184.37,454.57 M184.37,446.23 L176.03,454.57" stroke="#ba4a00" stroke-width="2.08" fill="none"/><path d="M191.80,396.90 V401.90" stroke="#ba4a00" stroke-width="1.39" fill="none"/><path d="M188.90,396.90 H194.70 M188.90,401.90 H194.70" stroke="#ba4a00" stroke-width="2.0" fill="none"/><path d="M187.63,395.23 L195.97,403.57 M195.97,395.23 L187.63,403.57" stroke="#ba4a00" stroke-width="2.08" fill="none"/><path d="M203.40,364.50 V369.50" stroke="#ba4a00" stroke-width="1.39" fill="none"/><path d="M200.50,364.50 H206.30 M200.50,369.50 H206.30" stroke="#ba4a00" stroke-width="2.0" fill="none"/><path d="M199.23,362.83 L207.57,371.17 M207.57,362.83 L199.23,371.17" stroke="#ba4a00" stroke-width="2.08" fill="none"/><path d="M215.00,336.70 V341.70" stroke="#ba4a00" stroke-width="1.39" fill="none"/><path d="M212.10,336.70 H217.90 M212.10,341.70 H217.90" stroke="#ba4a00" stroke-width="2.0" fill="none"/><path d="M210.83,335.03 L219.17,343.37 M219.17,335.03 L210.83,343.37" stroke="#ba4a00" stroke-width="2.08" fill="none"/><path d="M226.60,312.90 V317.90" stroke="#ba4a00" stroke-width="1.39" fill="none"/><path d="M223.70,312.90 H229.50 M223.70,317.90 H229.50" stroke="#ba4a00" stroke-width="2.0" fill="none"/><path d="M222.43,311.23 L230.77,319.57 M230.77,311.23 L222.43,319.57" stroke="#ba4a00" stroke-width="2.08" fill="none"/><path d="M238.20,292.10 V297.10" stroke="#ba4a00" stroke-width="1.39" fill="none"/><path d="M235.30,292.10 H241.10 M235.30,297.10 H241.10" stroke="#ba4a00" stroke-width="2.0" fill="none"/><path d="M234.03,290.43 L242.37,298.77 M242.37,290.43 L234.03,298.77" stroke="#ba4a00" stroke-width="2.08" fill="none"/><path d="M249.80,276.19 V281.19" stroke="#ba4a00" stroke-width="1.39" fill="none"/><path d="M246.90,276.19 H252.70 M246.90,281.19 H252.70" stroke="#ba4a00" stroke-width="2.0" fill="none"/><path d="M245.63,274.52 L253.97,282.86 M253.97,274.52 L245.63,282.86" stroke="#ba4a00" stroke-width="2.08" fill="none"/><path d="M261.40,261.08 V266.08" stroke="#ba4a00" stroke-width="1.39" fill="none"/><path d="M258.50,261.08 H264.30 M258.50,266.08 H264.30" stroke="#ba4a00" stroke-width="2.0" fill="none"/><path d="M257.23,259.41 L265.57,267.75 M265.57,259.41 L257.23,267.75" stroke="#ba4a00" stroke-width="2.08" fill="none"/><path d="M273.00,247.84 V252.84" stroke="#ba4a00" stroke-width="1.39" fill="none"/><path d="M270.10,247.84 H275.90 M270.10,252.84 H275.90" stroke="#ba4a00" stroke-width="2.0" fill="none"/><path d="M268.83,246.17 L277.17,254.51 M277.17,246.17 L268.83,254.51" stroke="#ba4a00" stroke-width="2.08" fill="none"/><path d="M280.43,234.41 L288.77,242.75 M288.77,234.41 L280.43,242.75" stroke="#ba4a00" stroke-width="2.08" fill="none"/><path d="M292.03,223.82 L300.37,232.16 M300.37,223.82 L292.03,232.16" stroke="#ba4a00" stroke-width="2.08" fill="none"/><path d="M303.63,214.14 L311.97,222.48 M311.97,214.14 L303.63,222.48" stroke="#ba4a00" stroke-width="2.08" fill="none"/><path d="M315.23,205.18 L323.57,213.52 M323.57,205.18 L315.23,213.52" stroke="#ba4a00" stroke-width="2.08" fill="none"/><path d="M326.83,196.79 L335.17,205.13 M335.17,196.79 L326.83,205.13" stroke="#ba4a00" stroke-width="2.08" fill="none"/><path d="M338.43,188.86 L346.77,197.20 M346.77,188.86 L338.43,197.20" stroke="#ba4a00" stroke-width="2.08" fill="none"/><path d="M350.03,181.27 L358.37,189.61 M358.37,181.27 L350.03,189.61" stroke="#ba4a00" stroke-width="2.08" fill="none"/><path d="M361.63,173.97 L369.97,182.31 M369.97,173.97 L361.63,182.31" stroke="#ba4a00" stroke-width="2.08" fill="none"/><path d="M373.23,166.89 L381.57,175.23 M381.57,166.89 L373.23,175.23" stroke="#ba4a00" stroke-width="2.08" fill="none"/><path d="M384.83,159.99 L393.17,168.33 M393.17,159.99 L384.83,168.33" stroke="#ba4a00" stroke-width="2.08" fill="none"/><path d="M396.43,153.22 L404.77,161.56 M404.77,153.22 L396.43,161.56" stroke="#ba4a00" stroke-width="2.08" fill="none"/><path d="M408.03,150.23 L416.37,158.57 M416.37,150.23 L408.03,158.57" stroke="#ba4a00" stroke-width="2.08" fill="none"/><path d="M423.80,149.00 V163.00" stroke="#ba4a00" stroke-width="1.39" fill="none"/><path d="M420.90,149.00 H426.70 M420.90,163.00 H426.70" stroke="#ba4a00" stroke-width="2.0" fill="none"/><path d="M419.63,152.13 L427.97,160.47 M427.97,152.13 L419.63,160.47" stroke="#ba4a00" stroke-width="2.08" fill="none"/><path d="M431.23,133.47 L439.57,141.81 M439.57,133.47 L431.23,141.81" stroke="#ba4a00" stroke-width="2.08" fill="none"/><path d="M442.83,127.02 L451.17,135.36 M451.17,127.02 L442.83,135.36" stroke="#ba4a00" stroke-width="2.08" fill="none"/><circle cx="170.20" cy="376.50" r="4.86" fill="#7d3c98"/><circle cx="187.40" cy="303.80" r="4.86" fill="#7d3c98"/><circle cx="204.60" cy="262.50" r="4.86" fill="#7d3c98"/><circle cx="221.80" cy="241.50" r="4.86" fill="#7d3c98"/><circle cx="239.00" cy="232.60" r="4.86" fill="#7d3c98"/><circle cx="256.20" cy="228.40" r="4.86" fill="#7d3c98"/><circle cx="273.40" cy="226.90" r="4.86" fill="#7d3c98"/><circle cx="290.60" cy="226.50" r="4.86" fill="#7d3c98"/><circle cx="307.80" cy="226.50" r="4.86" fill="#7d3c98"/><circle cx="325.00" cy="226.50" r="4.86" fill="#7d3c98"/><path d="M182.10,450.00 V458.40" stroke="#7d3c98" stroke-width="1.39" fill="none"/><path d="M179.20,450.00 H185.00 M179.20,458.40 H185.00" stroke="#7d3c98" stroke-width="2.0" fill="none"/><path d="M177.93,450.03 L186.27,458.37 M186.27,450.03 L177.93,458.37" stroke="#7d3c98" stroke-width="2.08" fill="none"/><path d="M190.80,428.60 V451.20" stroke="#7d3c98" stroke-width="1.39" fill="none"/><path d="M187.90,428.60 H193.70 M187.90,451.20 H193.70" stroke="#7d3c98" stroke-width="2.0" fill="none"/><path d="M186.63,432.73 L194.97,441.07 M194.97,432.73 L186.63,441.07" stroke="#7d3c98" stroke-width="2.08" fill="none"/><path d="M199.50,399.10 V407.50" stroke="#7d3c98" stroke-width="1.39" fill="none"/><path d="M196.60,399.10 H202.40 M196.60,407.50 H202.40" stroke="#7d3c98" stroke-width="2.0" fill="none"/><path d="M195.33,399.13 L203.67,407.47 M203.67,399.13 L195.33,407.47" stroke="#7d3c98" stroke-width="2.08" fill="none"/><path d="M208.20,375.00 V383.40" stroke="#7d3c98" stroke-width="1.39" fill="none"/><path d="M205.30,375.00 H211.10 M205.30,383.40 H211.10" stroke="#7d3c98" stroke-width="2.0" fill="none"/><path d="M204.03,375.03 L212.37,383.37 M212.37,375.03 L204.03,383.37" stroke="#7d3c98" stroke-width="2.08" fill="none"/><path d="M216.90,345.00 V353.40" stroke="#7d3c98" stroke-width="1.39" fill="none"/><path d="M214.00,345.00 H219.80 M214.00,353.40 H219.80" stroke="#7d3c98" stroke-width="2.0" fill="none"/><path d="M212.73,345.03 L221.07,353.37 M221.07,345.03 L212.73,353.37" stroke="#7d3c98" stroke-width="2.08" fill="none"/><path d="M225.60,335.00 V343.40" stroke="#7d3c98" stroke-width="1.39" fill="none"/><path d="M222.70,335.00 H228.50 M222.70,343.40 H228.50" stroke="#7d3c98" stroke-width="2.0" fill="none"/><path d="M221.43,335.03 L229.77,343.37 M229.77,335.03 L221.43,343.37" stroke="#7d3c98" stroke-width="2.08" fill="none"/><path d="M234.30,314.30 V322.70" stroke="#7d3c98" stroke-width="1.39" fill="none"/><path d="M231.40,314.30 H237.20 M231.40,322.70 H237.20" stroke="#7d3c98" stroke-width="2.0" fill="none"/><path d="M230.13,314.33 L238.47,322.67 M238.47,314.33 L230.13,322.67" stroke="#7d3c98" stroke-width="2.08" fill="none"/><path d="M243.00,298.10 V306.50" stroke="#7d3c98" stroke-width="1.39" fill="none"/><path d="M240.10,298.10 H245.90 M240.10,306.50 H245.90" stroke="#7d3c98" stroke-width="2.0" fill="none"/><path d="M238.83,298.13 L247.17,306.47 M247.17,298.13 L238.83,306.47" stroke="#7d3c98" stroke-width="2.08" fill="none"/><path d="M251.70,287.30 V295.70" stroke="#7d3c98" stroke-width="1.39" fill="none"/><path d="M248.80,287.30 H254.60 M248.80,295.70 H254.60" stroke="#7d3c98" stroke-width="2.0" fill="none"/><path d="M247.53,287.33 L255.87,295.67 M255.87,287.33 L247.53,295.67" stroke="#7d3c98" stroke-width="2.08" fill="none"/><path d="M260.40,273.26 V281.66" stroke="#7d3c98" stroke-width="1.39" fill="none"/><path d="M257.50,273.26 H263.30 M257.50,281.66 H263.30" stroke="#7d3c98" stroke-width="2.0" fill="none"/><path d="M256.23,273.29 L264.57,281.63 M264.57,273.29 L256.23,281.63" stroke="#7d3c98" stroke-width="2.08" fill="none"/><path d="M269.10,261.92 V270.32" stroke="#7d3c98" stroke-width="1.39" fill="none"/><path d="M266.20,261.92 H272.00 M266.20,270.32 H272.00" stroke="#7d3c98" stroke-width="2.0" fill="none"/><path d="M264.93,261.95 L273.27,270.29 M273.27,261.95 L264.93,270.29" stroke="#7d3c98" stroke-width="2.08" fill="none"/><path d="M277.80,251.57 V259.97" stroke="#7d3c98" stroke-width="1.39" fill="none"/><path d="M274.90,251.57 H280.70 M274.90,259.97 H280.70" stroke="#7d3c98" stroke-width="2.0" fill="none"/><path d="M273.63,251.60 L281.97,259.94 M281.97,251.60 L273.63,259.94" stroke="#7d3c98" stroke-width="2.08" fill="none"/><path d="M286.50,242.04 V250.44" stroke="#7d3c98" stroke-width="1.39" fill="none"/><path d="M283.60,242.04 H289.40 M283.60,250.44 H289.40" stroke="#7d3c98" stroke-width="2.0" fill="none"/><path d="M282.33,242.07 L290.67,250.41 M290.67,242.07 L282.33,250.41" stroke="#7d3c98" stroke-width="2.08" fill="none"/><path d="M295.20,233.21 V241.61" stroke="#7d3c98" stroke-width="1.39" fill="none"/><path d="M292.30,233.21 H298.10 M292.30,241.61 H298.10" stroke="#7d3c98" stroke-width="2.0" fill="none"/><path d="M291.03,233.24 L299.37,241.58 M299.37,233.24 L291.03,241.58" stroke="#7d3c98" stroke-width="2.08" fill="none"/><path d="M303.90,224.95 V233.35" stroke="#7d3c98" stroke-width="1.39" fill="none"/><path d="M301.00,224.95 H306.80 M301.00,233.35 H306.80" stroke="#7d3c98" stroke-width="2.0" fill="none"/><path d="M299.73,224.98 L308.07,233.32 M308.07,224.98 L299.73,233.32" stroke="#7d3c98" stroke-width="2.08" fill="none"/><path d="M312.60,217.18 V225.58" stroke="#7d3c98" stroke-width="1.39" fill="none"/><path d="M309.70,217.18 H315.50 M309.70,225.58 H315.50" stroke="#7d3c98" stroke-width="2.0" fill="none"/><path d="M308.43,217.21 L316.77,225.55 M316.77,217.21 L308.43,225.55" stroke="#7d3c98" stroke-width="2.08" fill="none"/><path d="M321.30,209.82 V218.22" stroke="#7d3c98" stroke-width="1.39" fill="none"/><path d="M318.40,209.82 H324.20 M318.40,218.22 H324.20" stroke="#7d3c98" stroke-width="2.0" fill="none"/><path d="M317.13,209.85 L325.47,218.19 M325.47,209.85 L317.13,218.19" stroke="#7d3c98" stroke-width="2.08" fill="none"/><path d="M330.00,202.79 V211.19" stroke="#7d3c98" stroke-width="1.39" fill="none"/><path d="M327.10,202.79 H332.90 M327.10,211.19 H332.90" stroke="#7d3c98" stroke-width="2.0" fill="none"/><path d="M325.83,202.82 L334.17,211.16 M334.17,202.82 L325.83,211.16" stroke="#7d3c98" stroke-width="2.08" fill="none"/><path d="M338.70,196.05 V204.45" stroke="#7d3c98" stroke-width="1.39" fill="none"/><path d="M335.80,196.05 H341.60 M335.80,204.45 H341.60" stroke="#7d3c98" stroke-width="2.0" fill="none"/><path d="M334.53,196.08 L342.87,204.42 M342.87,196.08 L334.53,204.42" stroke="#7d3c98" stroke-width="2.08" fill="none"/><path d="M347.40,189.55 V197.95" stroke="#7d3c98" stroke-width="1.39" fill="none"/><path d="M344.50,189.55 H350.30 M344.50,197.95 H350.30" stroke="#7d3c98" stroke-width="2.0" fill="none"/><path d="M343.23,189.58 L351.57,197.92 M351.57,189.58 L343.23,197.92" stroke="#7d3c98" stroke-width="2.08" fill="none"/><path d="M356.10,183.24 V191.64" stroke="#7d3c98" stroke-width="1.39" fill="none"/><path d="M353.20,183.24 H359.00 M353.20,191.64 H359.00" stroke="#7d3c98" stroke-width="2.0" fill="none"/><path d="M351.93,183.27 L360.27,191.61 M360.27,183.27 L351.93,191.61" stroke="#7d3c98" stroke-width="2.08" fill="none"/><path d="M364.80,177.11 V185.51" stroke="#7d3c98" stroke-width="1.39" fill="none"/><path d="M361.90,177.11 H367.70 M361.90,185.51 H367.70" stroke="#7d3c98" stroke-width="2.0" fill="none"/><path d="M360.63,177.14 L368.97,185.48 M368.97,177.14 L360.63,185.48" stroke="#7d3c98" stroke-width="2.08" fill="none"/><path d="M373.50,160.00 V172.00" stroke="#7d3c98" stroke-width="1.39" fill="none"/><path d="M370.60,160.00 H376.40 M370.60,172.00 H376.40" stroke="#7d3c98" stroke-width="2.0" fill="none"/><path d="M369.33,161.83 L377.67,170.17 M377.67,161.83 L369.33,170.17" stroke="#7d3c98" stroke-width="2.08" fill="none"/><path d="M161.70,457.30 V480.00" stroke="#1f618d" stroke-width="1.39" fill="none"/><path d="M158.80,457.30 H164.60 M158.80,480.00 H164.60" stroke="#1f618d" stroke-width="2.0" fill="none"/></g></svg><svg x="576.0" y="22.6" width="494.60" height="436.90" viewBox="576.0 22.6 494.60 436.90" overflow="hidden"><g stroke-linecap="butt"><path d="M666.6,519.5 L667.3,516.7 L668.1,513.9 L668.8,511.2 L669.5,508.5 L670.2,505.8 L670.9,503.2 L671.7,500.6 L672.4,498.1 L673.1,495.6 L673.8,493.1 L674.5,490.7 L675.3,488.2 L676.0,485.9 L676.7,483.5 L677.4,481.2 L678.1,478.9 L678.9,476.6 L679.6,474.4 L680.3,472.2 L681.0,470.0 L681.7,467.9 L682.5,465.8 L683.2,463.7 L683.9,461.6 L684.6,459.6 L685.3,457.6 L686.1,455.6 L686.8,453.6 L687.5,451.7 L688.2,449.8 L688.9,447.9 L689.6,446.0 L690.4,444.2 L691.1,442.4 L691.8,440.6 L692.5,438.8 L693.2,437.1 L694.0,435.4 L694.7,433.7 L695.4,432.0 L696.1,430.4 L696.8,428.7 L697.6,427.1 L698.3,425.5 L699.0,423.9 L699.7,422.4 L700.4,420.8 L701.2,419.3 L701.9,417.8 L702.6,416.3 L703.3,414.9 L704.0,413.4 L704.8,412.0 L705.5,410.6 L706.2,409.2 L706.9,407.8 L707.6,406.5 L708.4,405.1 L709.1,403.8 L709.8,402.5 L710.5,401.2 L711.2,399.9 L712.0,398.7 L712.7,397.4 L713.4,396.2 L714.1,395.0 L714.8,393.8 L715.6,392.6 L716.3,391.4 L717.0,390.2 L717.7,389.1 L718.4,388.0 L719.1,386.8 L719.9,385.7 L720.6,384.6 L721.3,383.6 L722.0,382.5 L722.7,381.4 L723.5,380.4 L724.2,379.3 L724.9,378.3 L725.6,377.3 L726.3,376.3 L727.1,375.3 L727.8,374.3 L728.5,373.4 L729.2,372.4 L729.9,371.5 L730.7,370.5 L731.4,369.6 L732.1,368.7 L732.8,367.8 L733.5,366.9 L734.3,366.0 L735.0,365.1 L735.7,364.3 L736.4,363.4 L737.1,362.6 L737.9,361.7 L738.6,360.9 L739.3,360.1 L740.0,359.3 L740.7,358.5 L741.5,357.7 L742.2,356.9 L742.9,356.1 L743.6,355.3 L744.3,354.6 L745.1,353.8 L745.8,353.1 L746.5,352.3 L747.2,351.6 L747.9,350.9 L748.6,350.1 L749.4,349.4 L750.1,348.7 L750.8,348.0 L751.5,347.3 L752.2,346.7 L753.0,346.0 L753.7,345.3 L754.4,344.6 L755.1,344.0 L755.8,343.3 L756.6,342.7 L757.3,342.0 L758.0,341.4 L758.7,340.8 L759.4,340.2 L760.2,339.5 L760.9,338.9 L761.6,338.3 L762.3,337.7 L763.0,337.1 L763.8,336.5 L764.5,336.0 L765.2,335.4 L765.9,334.8 L766.6,334.2 L767.4,333.7 L768.1,333.1 L768.8,332.6 L769.5,332.0 L770.2,331.5 L771.0,330.9 L771.7,330.4 L772.4,329.9 L773.1,329.3 L773.8,328.8 L774.6,328.3 L775.3,327.8 L776.0,327.3 L776.7,326.8 L777.4,326.3 L778.2,325.8 L778.9,325.3 L779.6,324.8 L780.3,324.3 L781.0,323.8 L781.7,323.3 L782.5,322.9 L783.2,322.4 L783.9,321.9 L784.6,321.4 L785.3,321.0 L786.1,320.5 L786.8,320.1 L787.5,319.6 L788.2,319.2 L788.9,318.7 L789.7,318.3 L790.4,317.8 L791.1,317.4 L791.8,317.0 L792.5,316.5 L793.3,316.1 L794.0,315.7 L794.7,315.3 L795.4,314.9 L796.1,314.4 L796.9,314.0 L797.6,313.6 L798.3,313.2 L799.0,312.8 L799.7,312.4 L800.5,312.0 L801.2,311.6 L801.9,311.2 L802.6,310.8 L803.3,310.4 L804.1,310.0 L804.8,309.6 L805.5,309.3 L806.2,308.9 L806.9,308.5 L807.7,308.1 L808.4,307.7 L809.1,307.4 L809.8,307.0 L810.5,306.6 L811.2,306.3 L812.0,305.9 L812.7,305.5 L813.4,305.2 L814.1,304.8 L814.8,304.4 L815.6,304.1 L816.3,303.7 L817.0,303.4 L817.7,303.0 L818.4,302.7 L819.2,302.3 L819.9,302.0 L820.6,301.6 L821.3,301.3 L822.0,301.0 L822.8,300.6 L823.5,300.3 L824.2,300.0 L824.9,299.6 L825.6,299.3 L826.4,299.0 L827.1,298.6 L827.8,298.3 L828.5,298.0 L829.2,297.6 L830.0,297.3 L830.7,297.0 L831.4,296.7 L832.1,296.3 L832.8,296.0 L833.6,295.7 L834.3,295.4 L835.0,295.1 L835.7,294.8 L836.4,294.5 L837.2,294.1 L837.9,293.8 L838.6,293.5 L839.3,293.2 L840.0,292.9 L840.7,292.6 L841.5,292.3 L842.2,292.0 L842.9,291.7 L843.6,291.4 L844.3,291.1 L845.1,290.8 L845.8,290.5 L846.5,290.2 L847.2,289.9 L847.9,289.6 L848.7,289.3 L849.4,289.0 L850.1,288.7 L850.8,288.4 L851.5,288.1 L852.3,287.8 L853.0,287.5 L853.7,287.3 L854.4,287.0 L855.1,286.7 L855.9,286.4 L856.6,286.1 L857.3,285.8 L858.0,285.5 L858.7,285.3 L859.5,285.0 L860.2,284.7 L860.9,284.4 L861.6,284.1 L862.3,283.8 L863.1,283.6 L863.8,283.3 L864.5,283.0 L865.2,282.7 L865.9,282.5 L866.7,282.2 L867.4,281.9 L868.1,281.6 L868.8,281.4 L869.5,281.1 L870.3,280.8 L871.0,280.5 L871.7,280.3 L872.4,280.0 L873.1,279.7 L873.8,279.5 L874.6,279.2 L875.3,278.9 L876.0,278.6 L876.7,278.4 L877.4,278.1 L878.2,277.8 L878.9,277.6 L879.6,277.3 L880.3,277.0 L881.0,276.8 L881.8,276.5 L882.5,276.3 L883.2,276.0 L883.9,275.7 L884.6,275.5 L885.4,275.2 L886.1,274.9 L886.8,274.7 L887.5,274.4 L888.2,274.2 L889.0,273.9 L889.7,273.6 L890.4,273.4 L891.1,273.1 L891.8,272.9 L892.6,272.6 L893.3,272.3 L894.0,272.1 L894.7,271.8 L895.4,271.6 L896.2,271.3 L896.9,271.1 L897.6,270.8 L898.3,270.6 L899.0,270.3 L899.8,270.0 L900.5,269.8 L901.2,269.5 L901.9,269.3 L902.6,269.0 L903.3,268.8 L904.1,268.5 L904.8,268.3 L905.5,268.0 L906.2,267.8 L906.9,267.5 L907.7,267.3 L908.4,267.0 L909.1,266.8 L909.8,266.5 L910.5,266.3 L911.3,266.0 L912.0,265.8 L912.7,265.5 L913.4,265.3 L914.1,265.0 L914.9,264.8 L915.6,264.5 L916.3,264.3 L917.0,264.0 L917.7,263.8 L918.5,263.5 L919.2,263.3 L919.9,263.0 L920.6,262.8 L921.3,262.5 L922.1,262.3 L922.8,262.0 L923.5,261.8 L924.2,261.6 L924.9,261.3 L925.7,261.1 L926.4,260.8 L927.1,260.6 L927.8,260.3 L928.5,260.1 L929.3,259.8 L930.0,259.6 L930.7,259.3 L931.4,259.1 L932.1,258.9 L932.8,258.6 L933.6,258.4 L934.3,258.1 L935.0,257.9 L935.7,257.6 L936.4,257.4 L937.2,257.2 L937.9,256.9 L938.6,256.7 L939.3,256.4 L940.0,256.2 L940.8,255.9 L941.5,255.7 L942.2,255.5 L942.9,255.2 L943.6,255.0 L944.4,254.7 L945.1,254.5 L945.8,254.3 L946.5,254.0 L947.2,253.8 L948.0,253.5 L948.7,253.3 L949.4,253.1 L950.1,252.8 L950.8,252.6 L951.6,252.3 L952.3,252.1 L953.0,251.8 L953.7,251.6 L954.4,251.4 L955.2,251.1 L955.9,250.9 L956.6,250.7 L957.3,250.4 L958.0,250.2 L958.8,249.9 L959.5,249.7 L960.2,249.5 L960.9,249.2 L961.6,249.0 L962.4,248.7 L963.1,248.5 L963.8,248.3 L964.5,248.0 L965.2,247.8 L965.9,247.5 L966.7,247.3 L967.4,247.1 L968.1,246.8 L968.8,246.6 L969.5,246.4 L970.3,246.1 L971.0,245.9 L971.7,245.6 L972.4,245.4 L973.1,245.2 L973.9,244.9 L974.6,244.7 L975.3,244.5 L976.0,244.2 L976.7,244.0 L977.5,243.7 L978.2,243.5 L978.9,243.3 L979.6,243.0 L980.3,242.8 L981.1,242.6 L981.8,242.3 L982.5,242.1 L983.2,241.9 L983.9,241.6 L984.7,241.4 L985.4,241.1 L986.1,240.9 L986.8,240.7 L987.5,240.4 L988.3,240.2 L989.0,240.0 L989.7,239.7 L990.4,239.5 L991.1,239.3 L991.9,239.0 L992.6,238.8 L993.3,238.5 L994.0,238.3 L994.7,238.1 L995.4,237.8 L996.2,237.6 L996.9,237.4 L997.6,237.1 L998.3,236.9 L999.0,236.7 L999.8,236.4 L1000.5,236.2 L1001.2,236.0 L1001.9,235.7 L1002.6,235.5 L1003.4,235.3 L1004.1,235.0 L1004.8,234.8 L1005.5,234.5 L1006.2,234.3 L1007.0,234.1 L1007.7,233.8 L1008.4,233.6 L1009.1,233.4 L1009.8,233.1 L1010.6,232.9 L1011.3,232.7 L1012.0,232.4 L1012.7,232.2 L1013.4,232.0 L1014.2,231.7 L1014.9,231.5 L1015.6,231.3 L1016.3,231.0 L1017.0,230.8 L1017.8,230.6 L1018.5,230.3 L1019.2,230.1 L1019.9,229.9 L1020.6,229.6 L1021.4,229.4 L1022.1,229.1 L1022.8,228.9 L1023.5,228.7 L1024.2,228.4 L1024.9,228.2 L1025.7,228.0 L1026.4,227.7 L1027.1,227.5 L1027.8,227.3 L1028.5,227.0 L1029.3,226.8 L1030.0,226.6 L1030.7,226.3 L1031.4,226.1 L1032.1,225.9 L1032.9,225.6 L1033.6,225.4 L1034.3,225.2 L1035.0,224.9 L1035.7,224.7 L1036.5,224.5 L1037.2,224.2 L1037.9,224.0 L1038.6,223.8 L1039.3,223.5 L1040.1,223.3 L1040.8,223.1 L1041.5,222.8 L1042.2,222.6 L1042.9,222.4 L1043.7,222.1 L1044.4,221.9 L1045.1,221.7 L1045.8,221.4 L1046.5,221.2 L1047.3,221.0 L1048.0,220.7 L1048.7,220.5 L1049.4,220.3 L1050.1,220.0 L1050.9,219.8 L1051.6,219.6 L1052.3,219.3 L1053.0,219.1 L1053.7,218.9 L1054.5,218.6 L1055.2,218.4 L1055.9,218.2 L1056.6,217.9 L1057.3,217.7 L1058.0,217.5 L1058.8,217.2 L1059.5,217.0 L1060.2,216.8 L1060.9,216.5 L1061.6,216.3 L1062.4,216.1 L1063.1,215.8 L1063.8,215.6 L1064.5,215.4 L1065.2,215.1 L1066.0,214.9 L1066.7,214.7 L1067.4,214.4 L1068.1,214.2 L1068.8,214.0 L1069.6,213.7 L1070.3,213.5 L1071.0,213.3" stroke="#1f618d" stroke-width="3.3" stroke-opacity="0.88" fill="none"/><path d="M655.8,519.3 L656.5,515.9 L657.3,512.4 L658.0,509.0 L658.7,505.6 L659.4,502.3 L660.1,499.1 L660.9,495.8 L661.6,492.7 L662.3,489.5 L663.0,486.4 L663.7,483.4 L664.5,480.4 L665.2,477.4 L665.9,474.5 L666.6,471.6 L667.3,468.7 L668.1,465.9 L668.8,463.1 L669.5,460.4 L670.2,457.7 L670.9,455.0 L671.7,452.4 L672.4,449.8 L673.1,447.2 L673.8,444.7 L674.5,442.2 L675.3,439.7 L676.0,437.3 L676.7,434.9 L677.4,432.5 L678.1,430.2 L678.9,427.9 L679.6,425.6 L680.3,423.3 L681.0,421.1 L681.7,418.9 L682.5,416.8 L683.2,414.6 L683.9,412.5 L684.6,410.4 L685.3,408.4 L686.1,406.3 L686.8,404.3 L687.5,402.4 L688.2,400.4 L688.9,398.5 L689.6,396.6 L690.4,394.7 L691.1,392.9 L691.8,391.0 L692.5,389.2 L693.2,387.4 L694.0,385.7 L694.7,383.9 L695.4,382.2 L696.1,380.5 L696.8,378.8 L697.6,377.2 L698.3,375.5 L699.0,373.9 L699.7,372.3 L700.4,370.7 L701.2,369.2 L701.9,367.7 L702.6,366.1 L703.3,364.6 L704.0,363.1 L704.8,361.7 L705.5,360.2 L706.2,358.8 L706.9,357.4 L707.6,356.0 L708.4,354.6 L709.1,353.3 L709.8,351.9 L710.5,350.6 L711.2,349.3 L712.0,348.0 L712.7,346.7 L713.4,345.4 L714.1,344.2 L714.8,342.9 L715.6,341.7 L716.3,340.5 L717.0,339.3 L717.7,338.1 L718.4,336.9 L719.1,335.8 L719.9,334.6 L720.6,333.5 L721.3,332.4 L722.0,331.3 L722.7,330.2 L723.5,329.1 L724.2,328.0 L724.9,327.0 L725.6,325.9 L726.3,324.9 L727.1,323.9 L727.8,322.9 L728.5,321.9 L729.2,320.9 L729.9,319.9 L730.7,318.9 L731.4,318.0 L732.1,317.0 L732.8,316.1 L733.5,315.1 L734.3,314.2 L735.0,313.3 L735.7,312.4 L736.4,311.5 L737.1,310.7 L737.9,309.8 L738.6,308.9 L739.3,308.1 L740.0,307.2 L740.7,306.4 L741.5,305.6 L742.2,304.7 L742.9,303.9 L743.6,303.1 L744.3,302.3 L745.1,301.5 L745.8,300.8 L746.5,300.0 L747.2,299.2 L747.9,298.5 L748.6,297.7 L749.4,297.0 L750.1,296.2 L750.8,295.5 L751.5,294.8 L752.2,294.1 L753.0,293.4 L753.7,292.7 L754.4,292.0 L755.1,291.3 L755.8,290.6 L756.6,289.9 L757.3,289.3 L758.0,288.6 L758.7,287.9 L759.4,287.3 L760.2,286.6 L760.9,286.0 L761.6,285.4 L762.3,284.7 L763.0,284.1 L763.8,283.5 L764.5,282.9 L765.2,282.3 L765.9,281.7 L766.6,281.1 L767.4,280.5 L768.1,279.9 L768.8,279.3 L769.5,278.7 L770.2,278.1 L771.0,277.6 L771.7,277.0 L772.4,276.5 L773.1,275.9 L773.8,275.3 L774.6,274.8 L775.3,274.3 L776.0,273.7 L776.7,273.2 L777.4,272.7 L778.2,272.1 L778.9,271.6 L779.6,271.1 L780.3,270.6 L781.0,270.1 L781.7,269.5 L782.5,269.0 L783.2,268.5 L783.9,268.0 L784.6,267.6 L785.3,267.1 L786.1,266.6 L786.8,266.1 L787.5,265.6 L788.2,265.1 L788.9,264.7 L789.7,264.2 L790.4,263.7 L791.1,263.3 L791.8,262.8 L792.5,262.3 L793.3,261.9 L794.0,261.4 L794.7,261.0 L795.4,260.5 L796.1,260.1 L796.9,259.7 L797.6,259.2 L798.3,258.8 L799.0,258.3 L799.7,257.9 L800.5,257.5 L801.2,257.1 L801.9,256.6 L802.6,256.2 L803.3,255.8 L804.1,255.4 L804.8,255.0 L805.5,254.6 L806.2,254.2 L806.9,253.7 L807.7,253.3 L808.4,252.9 L809.1,252.5 L809.8,252.1 L810.5,251.7 L811.2,251.3 L812.0,251.0 L812.7,250.6 L813.4,250.2 L814.1,249.8 L814.8,249.4 L815.6,249.0 L816.3,248.6 L817.0,248.3 L817.7,247.9 L818.4,247.5 L819.2,247.1 L819.9,246.8 L820.6,246.4 L821.3,246.0 L822.0,245.7 L822.8,245.3 L823.5,244.9 L824.2,244.6 L824.9,244.2 L825.6,243.8 L826.4,243.5 L827.1,243.1 L827.8,242.8 L828.5,242.4 L829.2,242.1 L830.0,241.7 L830.7,241.4 L831.4,241.0 L832.1,240.7 L832.8,240.3 L833.6,240.0 L834.3,239.6 L835.0,239.3 L835.7,239.0 L836.4,238.6 L837.2,238.3 L837.9,237.9 L838.6,237.6 L839.3,237.3 L840.0,236.9 L840.7,236.6 L841.5,236.3 L842.2,235.9 L842.9,235.6 L843.6,235.3 L844.3,235.0 L845.1,234.6 L845.8,234.3 L846.5,234.0 L847.2,233.7 L847.9,233.3 L848.7,233.0 L849.4,232.7 L850.1,232.4 L850.8,232.1 L851.5,231.7 L852.3,231.4 L853.0,231.1 L853.7,230.8 L854.4,230.5 L855.1,230.2 L855.9,229.8 L856.6,229.5 L857.3,229.2 L858.0,228.9 L858.7,228.6 L859.5,228.3 L860.2,228.0 L860.9,227.7 L861.6,227.4 L862.3,227.1 L863.1,226.8 L863.8,226.5 L864.5,226.2 L865.2,225.8 L865.9,225.5 L866.7,225.2 L867.4,224.9 L868.1,224.6 L868.8,224.3 L869.5,224.0 L870.3,223.7 L871.0,223.4 L871.7,223.1 L872.4,222.9 L873.1,222.6 L873.8,222.3 L874.6,222.0 L875.3,221.7 L876.0,221.4 L876.7,221.1 L877.4,220.8 L878.2,220.5 L878.9,220.2 L879.6,219.9 L880.3,219.6 L881.0,219.3 L881.8,219.0 L882.5,218.8 L883.2,218.5 L883.9,218.2 L884.6,217.9 L885.4,217.6 L886.1,217.3 L886.8,217.0 L887.5,216.7 L888.2,216.4 L889.0,216.2 L889.7,215.9 L890.4,215.6 L891.1,215.3 L891.8,215.0 L892.6,214.7 L893.3,214.5 L894.0,214.2 L894.7,213.9 L895.4,213.6 L896.2,213.3 L896.9,213.0 L897.6,212.8 L898.3,212.5 L899.0,212.2 L899.8,211.9 L900.5,211.6 L901.2,211.4 L901.9,211.1 L902.6,210.8 L903.3,210.5 L904.1,210.2 L904.8,210.0 L905.5,209.7 L906.2,209.4 L906.9,209.1 L907.7,208.9 L908.4,208.6 L909.1,208.3 L909.8,208.0 L910.5,207.8 L911.3,207.5 L912.0,207.2 L912.7,206.9 L913.4,206.7 L914.1,206.4 L914.9,206.1 L915.6,205.8 L916.3,205.6 L917.0,205.3 L917.7,205.0 L918.5,204.7 L919.2,204.5 L919.9,204.2 L920.6,203.9 L921.3,203.6 L922.1,203.4 L922.8,203.1 L923.5,202.8 L924.2,202.6 L924.9,202.3 L925.7,202.0 L926.4,201.7 L927.1,201.5 L927.8,201.2 L928.5,200.9 L929.3,200.7 L930.0,200.4 L930.7,200.1 L931.4,199.9 L932.1,199.6 L932.8,199.3 L933.6,199.0 L934.3,198.8 L935.0,198.5 L935.7,198.2 L936.4,198.0 L937.2,197.7 L937.9,197.4 L938.6,197.2 L939.3,196.9 L940.0,196.6 L940.8,196.4 L941.5,196.1 L942.2,195.8 L942.9,195.6 L943.6,195.3 L944.4,195.0 L945.1,194.8 L945.8,194.5 L946.5,194.2 L947.2,194.0 L948.0,193.7 L948.7,193.4 L949.4,193.2 L950.1,192.9 L950.8,192.6 L951.6,192.4 L952.3,192.1 L953.0,191.8 L953.7,191.6 L954.4,191.3 L955.2,191.0 L955.9,190.8 L956.6,190.5 L957.3,190.2 L958.0,190.0 L958.8,189.7 L959.5,189.5 L960.2,189.2 L960.9,188.9 L961.6,188.7 L962.4,188.4 L963.1,188.1 L963.8,187.9 L964.5,187.6 L965.2,187.3 L965.9,187.1 L966.7,186.8 L967.4,186.5 L968.1,186.3 L968.8,186.0 L969.5,185.8 L970.3,185.5 L971.0,185.2 L971.7,185.0 L972.4,184.7 L973.1,184.4 L973.9,184.2 L974.6,183.9 L975.3,183.7 L976.0,183.4 L976.7,183.1 L977.5,182.9 L978.2,182.6 L978.9,182.3 L979.6,182.1 L980.3,181.8 L981.1,181.6 L981.8,181.3 L982.5,181.0 L983.2,180.8 L983.9,180.5 L984.7,180.2 L985.4,180.0 L986.1,179.7 L986.8,179.5 L987.5,179.2 L988.3,178.9 L989.0,178.7 L989.7,178.4 L990.4,178.2 L991.1,177.9 L991.9,177.6 L992.6,177.4 L993.3,177.1 L994.0,176.8 L994.7,176.6 L995.4,176.3 L996.2,176.1 L996.9,175.8 L997.6,175.5 L998.3,175.3 L999.0,175.0 L999.8,174.8 L1000.5,174.5 L1001.2,174.2 L1001.9,174.0 L1002.6,173.7 L1003.4,173.5 L1004.1,173.2 L1004.8,172.9 L1005.5,172.7 L1006.2,172.4 L1007.0,172.2 L1007.7,171.9 L1008.4,171.6 L1009.1,171.4 L1009.8,171.1 L1010.6,170.9 L1011.3,170.6 L1012.0,170.3 L1012.7,170.1 L1013.4,169.8 L1014.2,169.6 L1014.9,169.3 L1015.6,169.0 L1016.3,168.8 L1017.0,168.5 L1017.8,168.3 L1018.5,168.0 L1019.2,167.7 L1019.9,167.5 L1020.6,167.2 L1021.4,167.0 L1022.1,166.7 L1022.8,166.4 L1023.5,166.2 L1024.2,165.9 L1024.9,165.7 L1025.7,165.4 L1026.4,165.1 L1027.1,164.9 L1027.8,164.6 L1028.5,164.4 L1029.3,164.1 L1030.0,163.8 L1030.7,163.6 L1031.4,163.3 L1032.1,163.1 L1032.9,162.8 L1033.6,162.5 L1034.3,162.3 L1035.0,162.0 L1035.7,161.8 L1036.5,161.5 L1037.2,161.2 L1037.9,161.0 L1038.6,160.7 L1039.3,160.5 L1040.1,160.2 L1040.8,159.9 L1041.5,159.7 L1042.2,159.4 L1042.9,159.2 L1043.7,158.9 L1044.4,158.7 L1045.1,158.4 L1045.8,158.1 L1046.5,157.9 L1047.3,157.6 L1048.0,157.4 L1048.7,157.1 L1049.4,156.8 L1050.1,156.6 L1050.9,156.3 L1051.6,156.1 L1052.3,155.8 L1053.0,155.5 L1053.7,155.3 L1054.5,155.0 L1055.2,154.8 L1055.9,154.5 L1056.6,154.2 L1057.3,154.0 L1058.0,153.7 L1058.8,153.5 L1059.5,153.2 L1060.2,153.0 L1060.9,152.7 L1061.6,152.4 L1062.4,152.2 L1063.1,151.9 L1063.8,151.7 L1064.5,151.4 L1065.2,151.1 L1066.0,150.9 L1066.7,150.6 L1067.4,150.4 L1068.1,150.1 L1068.8,149.9 L1069.6,149.6 L1070.3,149.3 L1071.0,149.1" stroke="#1a703f" stroke-width="3.3" stroke-opacity="0.88" fill="none"/><path d="M655.1,518.6 L655.8,514.7 L656.5,510.8 L657.3,507.0 L658.0,503.2 L658.7,499.5 L659.4,495.9 L660.1,492.3 L660.9,488.7 L661.6,485.2 L662.3,481.8 L663.0,478.4 L663.7,475.0 L664.5,471.7 L665.2,468.4 L665.9,465.2 L666.6,462.0 L667.3,458.8 L668.1,455.7 L668.8,452.6 L669.5,449.6 L670.2,446.6 L670.9,443.7 L671.7,440.8 L672.4,437.9 L673.1,435.1 L673.8,432.3 L674.5,429.6 L675.3,426.8 L676.0,424.1 L676.7,421.5 L677.4,418.9 L678.1,416.3 L678.9,413.8 L679.6,411.3 L680.3,408.8 L681.0,406.3 L681.7,403.9 L682.5,401.5 L683.2,399.2 L683.9,396.8 L684.6,394.6 L685.3,392.3 L686.1,390.1 L686.8,387.8 L687.5,385.7 L688.2,383.5 L688.9,381.4 L689.6,379.3 L690.4,377.2 L691.1,375.2 L691.8,373.2 L692.5,371.2 L693.2,369.2 L694.0,367.3 L694.7,365.3 L695.4,363.5 L696.1,361.6 L696.8,359.7 L697.6,357.9 L698.3,356.1 L699.0,354.3 L699.7,352.6 L700.4,350.8 L701.2,349.1 L701.9,347.4 L702.6,345.7 L703.3,344.1 L704.0,342.5 L704.8,340.8 L705.5,339.3 L706.2,337.7 L706.9,336.1 L707.6,334.6 L708.4,333.1 L709.1,331.6 L709.8,330.1 L710.5,328.6 L711.2,327.2 L712.0,325.7 L712.7,324.3 L713.4,322.9 L714.1,321.6 L714.8,320.2 L715.6,318.8 L716.3,317.5 L717.0,316.2 L717.7,314.9 L718.4,313.6 L719.1,312.3 L719.9,311.1 L720.6,309.8 L721.3,308.6 L722.0,307.4 L722.7,306.2 L723.5,305.0 L724.2,303.8 L724.9,302.6 L725.6,301.5 L726.3,300.4 L727.1,299.2 L727.8,298.1 L728.5,297.0 L729.2,295.9 L729.9,294.9 L730.7,293.8 L731.4,292.7 L732.1,291.7 L732.8,290.7 L733.5,289.6 L734.3,288.6 L735.0,287.6 L735.7,286.6 L736.4,285.7 L737.1,284.7 L737.9,283.7 L738.6,282.8 L739.3,281.9 L740.0,280.9 L740.7,280.0 L741.5,279.1 L742.2,278.2 L742.9,277.3 L743.6,276.4 L744.3,275.6 L745.1,274.7 L745.8,273.8 L746.5,273.0 L747.2,272.2 L747.9,271.3 L748.6,270.5 L749.4,269.7 L750.1,268.9 L750.8,268.1 L751.5,267.3 L752.2,266.5 L753.0,265.7 L753.7,265.0 L754.4,264.2 L755.1,263.4 L755.8,262.7 L756.6,261.9 L757.3,261.2 L758.0,260.5 L758.7,259.8 L759.4,259.0 L760.2,258.3 L760.9,257.6 L761.6,256.9 L762.3,256.2 L763.0,255.6 L763.8,254.9 L764.5,254.2 L765.2,253.5 L765.9,252.9 L766.6,252.2 L767.4,251.6 L768.1,250.9 L768.8,250.3 L769.5,249.7 L770.2,249.0 L771.0,248.4 L771.7,247.8 L772.4,247.2 L773.1,246.6 L773.8,246.0 L774.6,245.4 L775.3,244.8 L776.0,244.2 L776.7,243.6 L777.4,243.0 L778.2,242.4 L778.9,241.9 L779.6,241.3 L780.3,240.7 L781.0,240.2 L781.7,239.6 L782.5,239.1 L783.2,238.5 L783.9,238.0 L784.6,237.4 L785.3,236.9 L786.1,236.4 L786.8,235.8 L787.5,235.3 L788.2,234.8 L788.9,234.3 L789.7,233.7 L790.4,233.2 L791.1,232.7 L791.8,232.2 L792.5,231.7 L793.3,231.2 L794.0,230.7 L794.7,230.2 L795.4,229.8 L796.1,229.3 L796.9,228.8 L797.6,228.3 L798.3,227.8 L799.0,227.4 L799.7,226.9 L800.5,226.4 L801.2,225.9 L801.9,225.5 L802.6,225.0 L803.3,224.6 L804.1,224.1 L804.8,223.7 L805.5,223.2 L806.2,222.8 L806.9,222.3 L807.7,221.9 L808.4,221.4 L809.1,221.0 L809.8,220.6 L810.5,220.1 L811.2,219.7 L812.0,219.3 L812.7,218.8 L813.4,218.4 L814.1,218.0 L814.8,217.6 L815.6,217.2 L816.3,216.7 L817.0,216.3 L817.7,215.9 L818.4,215.5 L819.2,215.1 L819.9,214.7 L820.6,214.3 L821.3,213.9 L822.0,213.5 L822.8,213.1 L823.5,212.7 L824.2,212.3 L824.9,211.9 L825.6,211.5 L826.4,211.1 L827.1,210.7 L827.8,210.3 L828.5,210.0 L829.2,209.6 L830.0,209.2 L830.7,208.8 L831.4,208.4 L832.1,208.0 L832.8,207.7 L833.6,207.3 L834.3,206.9 L835.0,206.5 L835.7,206.2 L836.4,205.8 L837.2,205.4 L837.9,205.1 L838.6,204.7 L839.3,204.3 L840.0,204.0 L840.7,203.6 L841.5,203.3 L842.2,202.9 L842.9,202.5 L843.6,202.2 L844.3,201.8 L845.1,201.5 L845.8,201.1 L846.5,200.8 L847.2,200.4 L847.9,200.0 L848.7,199.7 L849.4,199.4 L850.1,199.0 L850.8,198.7 L851.5,198.3 L852.3,198.0 L853.0,197.6 L853.7,197.3 L854.4,196.9 L855.1,196.6 L855.9,196.3 L856.6,195.9 L857.3,195.6 L858.0,195.2 L858.7,194.9 L859.5,194.6 L860.2,194.2 L860.9,193.9 L861.6,193.6 L862.3,193.2 L863.1,192.9 L863.8,192.6 L864.5,192.2 L865.2,191.9 L865.9,191.6 L866.7,191.2 L867.4,190.9 L868.1,190.6 L868.8,190.3 L869.5,189.9 L870.3,189.6 L871.0,189.3 L871.7,189.0 L872.4,188.6 L873.1,188.3 L873.8,188.0 L874.6,187.7 L875.3,187.4 L876.0,187.0 L876.7,186.7 L877.4,186.4 L878.2,186.1 L878.9,185.8 L879.6,185.4 L880.3,185.1 L881.0,184.8 L881.8,184.5 L882.5,184.2 L883.2,183.9 L883.9,183.5 L884.6,183.2 L885.4,182.9 L886.1,182.6 L886.8,182.3 L887.5,182.0 L888.2,181.7 L889.0,181.4 L889.7,181.1 L890.4,180.7 L891.1,180.4 L891.8,180.1 L892.6,179.8 L893.3,179.5 L894.0,179.2 L894.7,178.9 L895.4,178.6 L896.2,178.3 L896.9,178.0 L897.6,177.7 L898.3,177.4 L899.0,177.1 L899.8,176.8 L900.5,176.4 L901.2,176.1 L901.9,175.8 L902.6,175.5 L903.3,175.2 L904.1,174.9 L904.8,174.6 L905.5,174.3 L906.2,174.0 L906.9,173.7 L907.7,173.4 L908.4,173.1 L909.1,172.8 L909.8,172.5 L910.5,172.2 L911.3,171.9 L912.0,171.6 L912.7,171.3 L913.4,171.0 L914.1,170.7 L914.9,170.4 L915.6,170.1 L916.3,169.8 L917.0,169.5 L917.7,169.2 L918.5,168.9 L919.2,168.6 L919.9,168.3 L920.6,168.1 L921.3,167.8 L922.1,167.5 L922.8,167.2 L923.5,166.9 L924.2,166.6 L924.9,166.3 L925.7,166.0 L926.4,165.7 L927.1,165.4 L927.8,165.1 L928.5,164.8 L929.3,164.5 L930.0,164.2 L930.7,163.9 L931.4,163.6 L932.1,163.3 L932.8,163.1 L933.6,162.8 L934.3,162.5 L935.0,162.2 L935.7,161.9 L936.4,161.6 L937.2,161.3 L937.9,161.0 L938.6,160.7 L939.3,160.4 L940.0,160.1 L940.8,159.8 L941.5,159.6 L942.2,159.3 L942.9,159.0 L943.6,158.7 L944.4,158.4 L945.1,158.1 L945.8,157.8 L946.5,157.5 L947.2,157.2 L948.0,156.9 L948.7,156.7 L949.4,156.4 L950.1,156.1 L950.8,155.8 L951.6,155.5 L952.3,155.2 L953.0,154.9 L953.7,154.6 L954.4,154.3 L955.2,154.1 L955.9,153.8 L956.6,153.5 L957.3,153.2 L958.0,152.9 L958.8,152.6 L959.5,152.3 L960.2,152.0 L960.9,151.8 L961.6,151.5 L962.4,151.2 L963.1,150.9 L963.8,150.6 L964.5,150.3 L965.2,150.0 L965.9,149.8 L966.7,149.5 L967.4,149.2 L968.1,148.9 L968.8,148.6 L969.5,148.3 L970.3,148.0 L971.0,147.7 L971.7,147.5 L972.4,147.2 L973.1,146.9 L973.9,146.6 L974.6,146.3 L975.3,146.0 L976.0,145.8 L976.7,145.5 L977.5,145.2 L978.2,144.9 L978.9,144.6 L979.6,144.3 L980.3,144.0 L981.1,143.8 L981.8,143.5 L982.5,143.2 L983.2,142.9 L983.9,142.6 L984.7,142.3 L985.4,142.0 L986.1,141.8 L986.8,141.5 L987.5,141.2 L988.3,140.9 L989.0,140.6 L989.7,140.3 L990.4,140.1 L991.1,139.8 L991.9,139.5 L992.6,139.2 L993.3,138.9 L994.0,138.6 L994.7,138.4 L995.4,138.1 L996.2,137.8 L996.9,137.5 L997.6,137.2 L998.3,136.9 L999.0,136.7 L999.8,136.4 L1000.5,136.1 L1001.2,135.8 L1001.9,135.5 L1002.6,135.2 L1003.4,135.0 L1004.1,134.7 L1004.8,134.4 L1005.5,134.1 L1006.2,133.8 L1007.0,133.5 L1007.7,133.3 L1008.4,133.0 L1009.1,132.7 L1009.8,132.4 L1010.6,132.1 L1011.3,131.8 L1012.0,131.6 L1012.7,131.3 L1013.4,131.0 L1014.2,130.7 L1014.9,130.4 L1015.6,130.2 L1016.3,129.9 L1017.0,129.6 L1017.8,129.3 L1018.5,129.0 L1019.2,128.7 L1019.9,128.5 L1020.6,128.2 L1021.4,127.9 L1022.1,127.6 L1022.8,127.3 L1023.5,127.0 L1024.2,126.8 L1024.9,126.5 L1025.7,126.2 L1026.4,125.9 L1027.1,125.6 L1027.8,125.4 L1028.5,125.1 L1029.3,124.8 L1030.0,124.5 L1030.7,124.2 L1031.4,123.9 L1032.1,123.7 L1032.9,123.4 L1033.6,123.1 L1034.3,122.8 L1035.0,122.5 L1035.7,122.3 L1036.5,122.0 L1037.2,121.7 L1037.9,121.4 L1038.6,121.1 L1039.3,120.9 L1040.1,120.6 L1040.8,120.3 L1041.5,120.0 L1042.2,119.7 L1042.9,119.4 L1043.7,119.2 L1044.4,118.9 L1045.1,118.6 L1045.8,118.3 L1046.5,118.0 L1047.3,117.8 L1048.0,117.5 L1048.7,117.2 L1049.4,116.9 L1050.1,116.6 L1050.9,116.4 L1051.6,116.1 L1052.3,115.8 L1053.0,115.5 L1053.7,115.2 L1054.5,114.9 L1055.2,114.7 L1055.9,114.4 L1056.6,114.1 L1057.3,113.8 L1058.0,113.5 L1058.8,113.3 L1059.5,113.0 L1060.2,112.7 L1060.9,112.4 L1061.6,112.1 L1062.4,111.9 L1063.1,111.6 L1063.8,111.3 L1064.5,111.0 L1065.2,110.7 L1066.0,110.4 L1066.7,110.2 L1067.4,109.9 L1068.1,109.6 L1068.8,109.3 L1069.6,109.0 L1070.3,108.8 L1071.0,108.5" stroke="#ba4a00" stroke-width="3.3" stroke-opacity="0.88" fill="none"/><path d="M653.0,516.8 L653.7,513.0 L654.4,509.2 L655.1,505.5 L655.8,501.9 L656.5,498.3 L657.3,494.7 L658.0,491.2 L658.7,487.7 L659.4,484.3 L660.1,480.9 L660.9,477.6 L661.6,474.3 L662.3,471.1 L663.0,467.9 L663.7,464.7 L664.5,461.6 L665.2,458.5 L665.9,455.5 L666.6,452.5 L667.3,449.5 L668.1,446.6 L668.8,443.7 L669.5,440.8 L670.2,438.0 L670.9,435.3 L671.7,432.5 L672.4,429.8 L673.1,427.1 L673.8,424.5 L674.5,421.9 L675.3,419.3 L676.0,416.8 L676.7,414.3 L677.4,411.8 L678.1,409.3 L678.9,406.9 L679.6,404.5 L680.3,402.2 L681.0,399.8 L681.7,397.5 L682.5,395.3 L683.2,393.0 L683.9,390.8 L684.6,388.6 L685.3,386.4 L686.1,384.3 L686.8,382.2 L687.5,380.1 L688.2,378.0 L688.9,376.0 L689.6,374.0 L690.4,372.0 L691.1,370.0 L691.8,368.1 L692.5,366.2 L693.2,364.3 L694.0,362.4 L694.7,360.6 L695.4,358.7 L696.1,356.9 L696.8,355.1 L697.6,353.4 L698.3,351.6 L699.0,349.9 L699.7,348.2 L700.4,346.5 L701.2,344.9 L701.9,343.2 L702.6,341.6 L703.3,340.0 L704.0,338.4 L704.8,336.8 L705.5,335.2 L706.2,333.7 L706.9,332.2 L707.6,330.7 L708.4,329.2 L709.1,327.7 L709.8,326.3 L710.5,324.8 L711.2,323.4 L712.0,322.0 L712.7,320.6 L713.4,319.2 L714.1,317.8 L714.8,316.5 L715.6,315.2 L716.3,313.8 L717.0,312.5 L717.7,311.2 L718.4,310.0 L719.1,308.7 L719.9,307.4 L720.6,306.2 L721.3,305.0 L722.0,303.8 L722.7,302.6 L723.5,301.4 L724.2,300.2 L724.9,299.0 L725.6,297.9 L726.3,296.7 L727.1,295.6 L727.8,294.5 L728.5,293.4 L729.2,292.3 L729.9,291.2 L730.7,290.1 L731.4,289.0 L732.1,288.0 L732.8,286.9 L733.5,285.9 L734.3,284.9 L735.0,283.8 L735.7,282.8 L736.4,281.8 L737.1,280.8 L737.9,279.9 L738.6,278.9 L739.3,277.9 L740.0,277.0 L740.7,276.0 L741.5,275.1 L742.2,274.2 L742.9,273.2 L743.6,272.3 L744.3,271.4 L745.1,270.5 L745.8,269.6 L746.5,268.8 L747.2,267.9 L747.9,267.0 L748.6,266.2 L749.4,265.3 L750.1,264.5 L750.8,263.6 L751.5,262.8 L752.2,262.0 L753.0,261.2 L753.7,260.3 L754.4,259.5 L755.1,258.7 L755.8,258.0 L756.6,257.2 L757.3,256.4 L758.0,255.6 L758.7,254.8 L759.4,254.1 L760.2,253.3 L760.9,252.6 L761.6,251.8 L762.3,251.1 L763.0,250.4 L763.8,249.6 L764.5,248.9 L765.2,248.2 L765.9,247.5 L766.6,246.8 L767.4,246.1 L768.1,245.4 L768.8,244.7 L769.5,244.0 L770.2,243.3 L771.0,242.6 L771.7,242.0 L772.4,241.3 L773.1,240.6 L773.8,240.0 L774.6,239.3 L775.3,238.6 L776.0,238.0 L776.7,237.4 L777.4,236.7 L778.2,236.1 L778.9,235.4 L779.6,234.8 L780.3,234.2 L781.0,233.6 L781.7,233.0 L782.5,232.3 L783.2,231.7 L783.9,231.1 L784.6,230.5 L785.3,229.9 L786.1,229.3 L786.8,228.7 L787.5,228.1 L788.2,227.6 L788.9,227.0 L789.7,226.4 L790.4,225.8 L791.1,225.2 L791.8,224.7 L792.5,224.1 L793.3,223.5 L794.0,223.0 L794.7,222.4 L795.4,221.9 L796.1,221.3 L796.9,220.8 L797.6,220.2 L798.3,219.7 L799.0,219.1 L799.7,218.6 L800.5,218.0 L801.2,217.5 L801.9,217.0 L802.6,216.4 L803.3,215.9 L804.1,215.4 L804.8,214.9 L805.5,214.3 L806.2,213.8 L806.9,213.3 L807.7,212.8 L808.4,212.3 L809.1,211.8 L809.8,211.3 L810.5,210.8 L811.2,210.3 L812.0,209.8 L812.7,209.3 L813.4,208.8 L814.1,208.3 L814.8,207.8 L815.6,207.3 L816.3,206.8 L817.0,206.3 L817.7,205.8 L818.4,205.3 L819.2,204.8 L819.9,204.4 L820.6,203.9 L821.3,203.4 L822.0,202.9 L822.8,202.4 L823.5,202.0 L824.2,201.5 L824.9,201.0 L825.6,200.6 L826.4,200.1 L827.1,199.6 L827.8,199.2 L828.5,198.7 L829.2,198.2 L830.0,197.8 L830.7,197.3 L831.4,196.9 L832.1,196.4 L832.8,195.9 L833.6,195.5 L834.3,195.0 L835.0,194.6 L835.7,194.1 L836.4,193.7 L837.2,193.2 L837.9,192.8 L838.6,192.3 L839.3,191.9 L840.0,191.5 L840.7,191.0 L841.5,190.6 L842.2,190.1 L842.9,189.7 L843.6,189.3 L844.3,188.8 L845.1,188.4 L845.8,187.9 L846.5,187.5 L847.2,187.1 L847.9,186.6 L848.7,186.2 L849.4,185.8 L850.1,185.4 L850.8,184.9 L851.5,184.5 L852.3,184.1 L853.0,183.6 L853.7,183.2 L854.4,182.8 L855.1,182.4 L855.9,182.0 L856.6,181.5 L857.3,181.1 L858.0,180.7 L858.7,180.3 L859.5,179.9 L860.2,179.4 L860.9,179.0 L861.6,178.6 L862.3,178.2 L863.1,177.8 L863.8,177.4 L864.5,176.9 L865.2,176.5 L865.9,176.1 L866.7,175.7 L867.4,175.3 L868.1,174.9 L868.8,174.5 L869.5,174.1 L870.3,173.7 L871.0,173.3 L871.7,172.8 L872.4,172.4 L873.1,172.0 L873.8,171.6 L874.6,171.2 L875.3,170.8 L876.0,170.4 L876.7,170.0 L877.4,169.6 L878.2,169.2 L878.9,168.8 L879.6,168.4 L880.3,168.0 L881.0,167.6 L881.8,167.2 L882.5,166.8 L883.2,166.4 L883.9,166.0 L884.6,165.6 L885.4,165.2 L886.1,164.8 L886.8,164.4 L887.5,164.0 L888.2,163.6 L889.0,163.2 L889.7,162.8 L890.4,162.4 L891.1,162.0 L891.8,161.6 L892.6,161.3 L893.3,160.9 L894.0,160.5 L894.7,160.1 L895.4,159.7 L896.2,159.3 L896.9,158.9 L897.6,158.5 L898.3,158.1 L899.0,157.7 L899.8,157.3 L900.5,156.9 L901.2,156.6 L901.9,156.2 L902.6,155.8 L903.3,155.4 L904.1,155.0 L904.8,154.6 L905.5,154.2 L906.2,153.8 L906.9,153.5 L907.7,153.1 L908.4,152.7 L909.1,152.3 L909.8,151.9 L910.5,151.5 L911.3,151.1 L912.0,150.8 L912.7,150.4 L913.4,150.0 L914.1,149.6 L914.9,149.2 L915.6,148.8 L916.3,148.5 L917.0,148.1 L917.7,147.7 L918.5,147.3 L919.2,146.9 L919.9,146.5 L920.6,146.2 L921.3,145.8 L922.1,145.4 L922.8,145.0 L923.5,144.6 L924.2,144.2 L924.9,143.9 L925.7,143.5 L926.4,143.1 L927.1,142.7 L927.8,142.3 L928.5,142.0 L929.3,141.6 L930.0,141.2 L930.7,140.8 L931.4,140.4 L932.1,140.1 L932.8,139.7 L933.6,139.3 L934.3,138.9 L935.0,138.6 L935.7,138.2 L936.4,137.8 L937.2,137.4 L937.9,137.0 L938.6,136.7 L939.3,136.3 L940.0,135.9 L940.8,135.5 L941.5,135.2 L942.2,134.8 L942.9,134.4 L943.6,134.0 L944.4,133.6 L945.1,133.3 L945.8,132.9 L946.5,132.5 L947.2,132.1 L948.0,131.8 L948.7,131.4 L949.4,131.0 L950.1,130.6 L950.8,130.3 L951.6,129.9 L952.3,129.5 L953.0,129.1 L953.7,128.8 L954.4,128.4 L955.2,128.0 L955.9,127.6 L956.6,127.3 L957.3,126.9 L958.0,126.5 L958.8,126.1 L959.5,125.8 L960.2,125.4 L960.9,125.0 L961.6,124.6 L962.4,124.3 L963.1,123.9 L963.8,123.5 L964.5,123.1 L965.2,122.8 L965.9,122.4 L966.7,122.0 L967.4,121.7 L968.1,121.3 L968.8,120.9 L969.5,120.5 L970.3,120.2 L971.0,119.8 L971.7,119.4 L972.4,119.0 L973.1,118.7 L973.9,118.3 L974.6,117.9 L975.3,117.6 L976.0,117.2 L976.7,116.8 L977.5,116.4 L978.2,116.1 L978.9,115.7 L979.6,115.3 L980.3,114.9 L981.1,114.6 L981.8,114.2 L982.5,113.8 L983.2,113.5 L983.9,113.1 L984.7,112.7 L985.4,112.3 L986.1,112.0 L986.8,111.6 L987.5,111.2 L988.3,110.9 L989.0,110.5 L989.7,110.1 L990.4,109.7 L991.1,109.4 L991.9,109.0 L992.6,108.6 L993.3,108.3 L994.0,107.9 L994.7,107.5 L995.4,107.2 L996.2,106.8 L996.9,106.4 L997.6,106.0 L998.3,105.7 L999.0,105.3 L999.8,104.9 L1000.5,104.6 L1001.2,104.2 L1001.9,103.8 L1002.6,103.4 L1003.4,103.1 L1004.1,102.7 L1004.8,102.3 L1005.5,102.0 L1006.2,101.6 L1007.0,101.2 L1007.7,100.9 L1008.4,100.5 L1009.1,100.1 L1009.8,99.7 L1010.6,99.4 L1011.3,99.0 L1012.0,98.6 L1012.7,98.3 L1013.4,97.9 L1014.2,97.5 L1014.9,97.2 L1015.6,96.8 L1016.3,96.4 L1017.0,96.0 L1017.8,95.7 L1018.5,95.3 L1019.2,94.9 L1019.9,94.6 L1020.6,94.2 L1021.4,93.8 L1022.1,93.5 L1022.8,93.1 L1023.5,92.7 L1024.2,92.4 L1024.9,92.0 L1025.7,91.6 L1026.4,91.2 L1027.1,90.9 L1027.8,90.5 L1028.5,90.1 L1029.3,89.8 L1030.0,89.4 L1030.7,89.0 L1031.4,88.7 L1032.1,88.3 L1032.9,87.9 L1033.6,87.6 L1034.3,87.2 L1035.0,86.8 L1035.7,86.4 L1036.5,86.1 L1037.2,85.7 L1037.9,85.3 L1038.6,85.0 L1039.3,84.6 L1040.1,84.2 L1040.8,83.9 L1041.5,83.5 L1042.2,83.1 L1042.9,82.8 L1043.7,82.4 L1044.4,82.0 L1045.1,81.6 L1045.8,81.3 L1046.5,80.9 L1047.3,80.5 L1048.0,80.2 L1048.7,79.8 L1049.4,79.4 L1050.1,79.1 L1050.9,78.7 L1051.6,78.3 L1052.3,78.0 L1053.0,77.6 L1053.7,77.2 L1054.5,76.9 L1055.2,76.5 L1055.9,76.1 L1056.6,75.8 L1057.3,75.4 L1058.0,75.0 L1058.8,74.6 L1059.5,74.3 L1060.2,73.9 L1060.9,73.5 L1061.6,73.2 L1062.4,72.8 L1063.1,72.4 L1063.8,72.1 L1064.5,71.7 L1065.2,71.3 L1066.0,71.0 L1066.7,70.6 L1067.4,70.2 L1068.1,69.9 L1068.8,69.5 L1069.6,69.1 L1070.3,68.8 L1071.0,68.4" stroke="#7d3c98" stroke-width="3.3" stroke-opacity="0.88" fill="none"/><path d="M660.70,430.50 V441.20" stroke="#1f618d" stroke-width="1.39" fill="none"/><path d="M657.80,430.50 H663.60 M657.80,441.20 H663.60" stroke="#1f618d" stroke-width="2.0" fill="none"/><circle cx="660.70" cy="435.00" r="4.86" fill="#1f618d"/><circle cx="672.75" cy="359.60" r="4.86" fill="#1f618d"/><circle cx="684.80" cy="326.30" r="4.86" fill="#1f618d"/><circle cx="696.85" cy="311.50" r="4.86" fill="#1f618d"/><circle cx="708.90" cy="307.50" r="4.86" fill="#1f618d"/><circle cx="720.95" cy="308.50" r="4.86" fill="#1f618d"/><circle cx="733.00" cy="318.70" r="4.86" fill="#1f618d"/><circle cx="745.05" cy="331.20" r="4.86" fill="#1f618d"/><circle cx="757.10" cy="350.40" r="4.86" fill="#1f618d"/><path d="M769.15,357.00 V367.00" stroke="#1f618d" stroke-width="1.39" fill="none"/><path d="M766.25,357.00 H772.05 M766.25,367.00 H772.05" stroke="#1f618d" stroke-width="2.0" fill="none"/><circle cx="769.15" cy="361.90" r="4.86" fill="#1f618d"/><path d="M781.20,364.80 V376.90" stroke="#1f618d" stroke-width="1.39" fill="none"/><path d="M778.30,364.80 H784.10 M778.30,376.90 H784.10" stroke="#1f618d" stroke-width="2.0" fill="none"/><circle cx="781.20" cy="370.00" r="4.86" fill="#1f618d"/><path d="M793.25,377.60 V395.30" stroke="#1f618d" stroke-width="1.39" fill="none"/><path d="M790.35,377.60 H796.15 M790.35,395.30 H796.15" stroke="#1f618d" stroke-width="2.0" fill="none"/><circle cx="793.25" cy="385.30" r="4.86" fill="#1f618d"/><path d="M805.30,403.10 V439.40" stroke="#1f618d" stroke-width="1.39" fill="none"/><path d="M802.40,403.10 H808.20 M802.40,439.40 H808.20" stroke="#1f618d" stroke-width="2.0" fill="none"/><circle cx="805.30" cy="416.90" r="4.86" fill="#1f618d"/><path d="M817.35,412.50 V470.00" stroke="#1f618d" stroke-width="1.39" fill="none"/><path d="M814.45,412.50 H820.25 M814.45,470.00 H820.25" stroke="#1f618d" stroke-width="2.0" fill="none"/><circle cx="817.35" cy="429.60" r="4.86" fill="#1f618d"/><path d="M829.40,395.70 V438.40" stroke="#1f618d" stroke-width="1.39" fill="none"/><path d="M826.50,395.70 H832.30 M826.50,438.40 H832.30" stroke="#1f618d" stroke-width="2.0" fill="none"/><circle cx="829.40" cy="410.60" r="4.86" fill="#1f618d"/><path d="M841.45,414.90 V470.00" stroke="#1f618d" stroke-width="1.39" fill="none"/><path d="M838.55,414.90 H844.35 M838.55,470.00 H844.35" stroke="#1f618d" stroke-width="2.0" fill="none"/><circle cx="841.45" cy="437.50" r="4.86" fill="#1f618d"/><path d="M877.60,391.00 V470.00" stroke="#1f618d" stroke-width="1.39" fill="none"/><path d="M874.70,391.00 H880.50 M874.70,470.00 H880.50" stroke="#1f618d" stroke-width="2.0" fill="none"/><circle cx="877.60" cy="414.00" r="4.86" fill="#1f618d"/><path d="M925.80,347.30 V404.20" stroke="#1f618d" stroke-width="1.39" fill="none"/><path d="M922.90,347.30 H928.70 M922.90,404.20 H928.70" stroke="#1f618d" stroke-width="2.0" fill="none"/><circle cx="925.80" cy="364.30" r="4.86" fill="#1f618d"/><path d="M697.00,430.10 V438.50" stroke="#1f618d" stroke-width="1.39" fill="none"/><path d="M694.10,430.10 H699.90 M694.10,438.50 H699.90" stroke="#1f618d" stroke-width="2.0" fill="none"/><path d="M692.83,430.13 L701.17,438.47 M701.17,430.13 L692.83,438.47" stroke="#1f618d" stroke-width="2.08" fill="none"/><path d="M712.62,389.50 V397.90" stroke="#1f618d" stroke-width="1.39" fill="none"/><path d="M709.72,389.50 H715.52 M709.72,397.90 H715.52" stroke="#1f618d" stroke-width="2.0" fill="none"/><path d="M708.45,389.53 L716.79,397.87 M716.79,389.53 L708.45,397.87" stroke="#1f618d" stroke-width="2.08" fill="none"/><path d="M724.07,367.03 L732.41,375.37 M732.41,367.03 L724.07,375.37" stroke="#1f618d" stroke-width="2.08" fill="none"/><path d="M739.69,349.63 L748.03,357.97 M748.03,349.63 L739.69,357.97" stroke="#1f618d" stroke-width="2.08" fill="none"/><path d="M755.31,335.03 L763.65,343.37 M763.65,335.03 L755.31,343.37" stroke="#1f618d" stroke-width="2.08" fill="none"/><path d="M770.93,322.13 L779.27,330.47 M779.27,322.13 L770.93,330.47" stroke="#1f618d" stroke-width="2.08" fill="none"/><path d="M786.55,315.43 L794.89,323.77 M794.89,315.43 L786.55,323.77" stroke="#1f618d" stroke-width="2.08" fill="none"/><path d="M806.34,305.20 V313.60" stroke="#1f618d" stroke-width="1.39" fill="none"/><path d="M803.44,305.20 H809.24 M803.44,313.60 H809.24" stroke="#1f618d" stroke-width="2.0" fill="none"/><path d="M802.17,305.23 L810.51,313.57 M810.51,305.23 L802.17,313.57" stroke="#1f618d" stroke-width="2.08" fill="none"/><path d="M821.96,300.40 V308.80" stroke="#1f618d" stroke-width="1.39" fill="none"/><path d="M819.06,300.40 H824.86 M819.06,308.80 H824.86" stroke="#1f618d" stroke-width="2.0" fill="none"/><path d="M817.79,300.43 L826.13,308.77 M826.13,300.43 L817.79,308.77" stroke="#1f618d" stroke-width="2.08" fill="none"/><path d="M837.58,292.70 V301.10" stroke="#1f618d" stroke-width="1.39" fill="none"/><path d="M834.68,292.70 H840.48 M834.68,301.10 H840.48" stroke="#1f618d" stroke-width="2.0" fill="none"/><path d="M833.41,292.73 L841.75,301.07 M841.75,292.73 L833.41,301.07" stroke="#1f618d" stroke-width="2.08" fill="none"/><path d="M853.20,287.90 V296.30" stroke="#1f618d" stroke-width="1.39" fill="none"/><path d="M850.30,287.90 H856.10 M850.30,296.30 H856.10" stroke="#1f618d" stroke-width="2.0" fill="none"/><path d="M849.03,287.93 L857.37,296.27 M857.37,287.93 L849.03,296.27" stroke="#1f618d" stroke-width="2.08" fill="none"/><path d="M868.82,273.00 V281.40" stroke="#1f618d" stroke-width="1.39" fill="none"/><path d="M865.92,273.00 H871.72 M865.92,281.40 H871.72" stroke="#1f618d" stroke-width="2.0" fill="none"/><path d="M864.65,273.03 L872.99,281.37 M872.99,273.03 L864.65,281.37" stroke="#1f618d" stroke-width="2.08" fill="none"/><path d="M884.44,273.90 V282.30" stroke="#1f618d" stroke-width="1.39" fill="none"/><path d="M881.54,273.90 H887.34 M881.54,282.30 H887.34" stroke="#1f618d" stroke-width="2.0" fill="none"/><path d="M880.27,273.93 L888.61,282.27 M888.61,273.93 L880.27,282.27" stroke="#1f618d" stroke-width="2.08" fill="none"/><path d="M900.06,265.20 V273.60" stroke="#1f618d" stroke-width="1.39" fill="none"/><path d="M897.16,265.20 H902.96 M897.16,273.60 H902.96" stroke="#1f618d" stroke-width="2.0" fill="none"/><path d="M895.89,265.23 L904.23,273.57 M904.23,265.23 L895.89,273.57" stroke="#1f618d" stroke-width="2.08" fill="none"/><path d="M915.68,254.30 V262.70" stroke="#1f618d" stroke-width="1.39" fill="none"/><path d="M912.78,254.30 H918.58 M912.78,262.70 H918.58" stroke="#1f618d" stroke-width="2.0" fill="none"/><path d="M911.51,254.33 L919.85,262.67 M919.85,254.33 L911.51,262.67" stroke="#1f618d" stroke-width="2.08" fill="none"/><path d="M931.30,249.80 V258.20" stroke="#1f618d" stroke-width="1.39" fill="none"/><path d="M928.40,249.80 H934.20 M928.40,258.20 H934.20" stroke="#1f618d" stroke-width="2.0" fill="none"/><path d="M927.13,249.83 L935.47,258.17 M935.47,249.83 L927.13,258.17" stroke="#1f618d" stroke-width="2.08" fill="none"/><path d="M946.92,247.90 V256.30" stroke="#1f618d" stroke-width="1.39" fill="none"/><path d="M944.02,247.90 H949.82 M944.02,256.30 H949.82" stroke="#1f618d" stroke-width="2.0" fill="none"/><path d="M942.75,247.93 L951.09,256.27 M951.09,247.93 L942.75,256.27" stroke="#1f618d" stroke-width="2.08" fill="none"/><path d="M962.54,240.80 V249.20" stroke="#1f618d" stroke-width="1.39" fill="none"/><path d="M959.64,240.80 H965.44 M959.64,249.20 H965.44" stroke="#1f618d" stroke-width="2.0" fill="none"/><path d="M958.37,240.83 L966.71,249.17 M966.71,240.83 L958.37,249.17" stroke="#1f618d" stroke-width="2.08" fill="none"/><path d="M978.16,238.80 V256.40" stroke="#1f618d" stroke-width="1.39" fill="none"/><path d="M975.26,238.80 H981.06 M975.26,256.40 H981.06" stroke="#1f618d" stroke-width="2.0" fill="none"/><path d="M973.99,242.83 L982.33,251.17 M982.33,242.83 L973.99,251.17" stroke="#1f618d" stroke-width="2.08" fill="none"/><path d="M993.78,224.10 V235.50" stroke="#1f618d" stroke-width="1.39" fill="none"/><path d="M990.88,224.10 H996.68 M990.88,235.50 H996.68" stroke="#1f618d" stroke-width="2.0" fill="none"/><path d="M989.61,226.03 L997.95,234.37 M997.95,226.03 L989.61,234.37" stroke="#1f618d" stroke-width="2.08" fill="none"/><path d="M1009.40,231.60 V249.90" stroke="#1f618d" stroke-width="1.39" fill="none"/><path d="M1006.50,231.60 H1012.30 M1006.50,249.90 H1012.30" stroke="#1f618d" stroke-width="2.0" fill="none"/><path d="M1005.23,235.43 L1013.57,243.77 M1013.57,235.43 L1005.23,243.77" stroke="#1f618d" stroke-width="2.08" fill="none"/><path d="M1025.02,233.50 V276.90" stroke="#1f618d" stroke-width="1.39" fill="none"/><path d="M1022.12,233.50 H1027.92 M1022.12,276.90 H1027.92" stroke="#1f618d" stroke-width="2.0" fill="none"/><path d="M1020.85,244.73 L1029.19,253.07 M1029.19,244.73 L1020.85,253.07" stroke="#1f618d" stroke-width="2.08" fill="none"/><path d="M1056.26,180.80 V203.40" stroke="#1f618d" stroke-width="1.39" fill="none"/><path d="M1053.36,180.80 H1059.16 M1053.36,203.40 H1059.16" stroke="#1f618d" stroke-width="2.0" fill="none"/><path d="M1052.09,186.33 L1060.43,194.67 M1060.43,186.33 L1052.09,194.67" stroke="#1f618d" stroke-width="2.08" fill="none"/><circle cx="659.10" cy="357.00" r="4.86" fill="#1a703f"/><circle cx="679.50" cy="292.70" r="4.86" fill="#1a703f"/><circle cx="699.90" cy="273.20" r="4.86" fill="#1a703f"/><circle cx="720.30" cy="267.70" r="4.86" fill="#1a703f"/><circle cx="740.70" cy="271.00" r="4.86" fill="#1a703f"/><circle cx="761.10" cy="283.50" r="4.86" fill="#1a703f"/><circle cx="781.50" cy="300.80" r="4.86" fill="#1a703f"/><circle cx="801.90" cy="322.30" r="4.86" fill="#1a703f"/><path d="M822.30,335.00 V345.00" stroke="#1a703f" stroke-width="1.39" fill="none"/><path d="M819.40,335.00 H825.20 M819.40,345.00 H825.20" stroke="#1a703f" stroke-width="2.0" fill="none"/><circle cx="822.30" cy="339.60" r="4.86" fill="#1a703f"/><path d="M842.70,354.60 V374.10" stroke="#1a703f" stroke-width="1.39" fill="none"/><path d="M839.80,354.60 H845.60 M839.80,374.10 H845.60" stroke="#1a703f" stroke-width="2.0" fill="none"/><circle cx="842.70" cy="363.40" r="4.86" fill="#1a703f"/><path d="M863.10,360.00 V391.40" stroke="#1a703f" stroke-width="1.39" fill="none"/><path d="M860.20,360.00 H866.00 M860.20,391.40 H866.00" stroke="#1a703f" stroke-width="2.0" fill="none"/><circle cx="863.10" cy="372.70" r="4.86" fill="#1a703f"/><path d="M883.50,361.50 V404.20" stroke="#1a703f" stroke-width="1.39" fill="none"/><path d="M880.60,361.50 H886.40 M880.60,404.20 H886.40" stroke="#1a703f" stroke-width="2.0" fill="none"/><circle cx="883.50" cy="376.60" r="4.86" fill="#1a703f"/><path d="M903.90,369.20 V470.00" stroke="#1a703f" stroke-width="1.39" fill="none"/><path d="M901.00,369.20 H906.80 M901.00,470.00 H906.80" stroke="#1a703f" stroke-width="2.0" fill="none"/><circle cx="903.90" cy="391.90" r="4.86" fill="#1a703f"/><path d="M924.30,304.30 V334.60" stroke="#1a703f" stroke-width="1.39" fill="none"/><path d="M921.40,304.30 H927.20 M921.40,334.60 H927.20" stroke="#1a703f" stroke-width="2.0" fill="none"/><circle cx="924.30" cy="316.20" r="4.86" fill="#1a703f"/><path d="M944.70,316.90 V470.00" stroke="#1a703f" stroke-width="1.39" fill="none"/><path d="M941.80,316.90 H947.60 M941.80,470.00 H947.60" stroke="#1a703f" stroke-width="2.0" fill="none"/><circle cx="944.70" cy="339.70" r="4.86" fill="#1a703f"/><path d="M686.33,390.63 L694.67,398.97 M694.67,390.63 L686.33,398.97" stroke="#1a703f" stroke-width="2.08" fill="none"/><path d="M710.33,339.53 L718.67,347.87 M718.67,339.53 L710.33,347.87" stroke="#1a703f" stroke-width="2.08" fill="none"/><path d="M734.33,306.23 L742.67,314.57 M742.67,306.23 L734.33,314.57" stroke="#1a703f" stroke-width="2.08" fill="none"/><path d="M758.33,280.41 L766.67,288.75 M766.67,280.41 L758.33,288.75" stroke="#1a703f" stroke-width="2.08" fill="none"/><path d="M782.33,262.12 L790.67,270.46 M790.67,262.12 L782.33,270.46" stroke="#1a703f" stroke-width="2.08" fill="none"/><path d="M806.33,247.59 L814.67,255.93 M814.67,247.59 L806.33,255.93" stroke="#1a703f" stroke-width="2.08" fill="none"/><path d="M830.33,237.33 L838.67,245.67 M838.67,237.33 L830.33,245.67" stroke="#1a703f" stroke-width="2.08" fill="none"/><path d="M854.33,224.83 L862.67,233.17 M862.67,224.83 L854.33,233.17" stroke="#1a703f" stroke-width="2.08" fill="none"/><path d="M878.33,212.73 L886.67,221.07 M886.67,212.73 L878.33,221.07" stroke="#1a703f" stroke-width="2.08" fill="none"/><path d="M902.33,202.13 L910.67,210.47 M910.67,202.13 L902.33,210.47" stroke="#1a703f" stroke-width="2.08" fill="none"/><path d="M930.50,197.80 V206.20" stroke="#1a703f" stroke-width="1.39" fill="none"/><path d="M927.60,197.80 H933.40 M927.60,206.20 H933.40" stroke="#1a703f" stroke-width="2.0" fill="none"/><path d="M926.33,197.83 L934.67,206.17 M934.67,197.83 L926.33,206.17" stroke="#1a703f" stroke-width="2.08" fill="none"/><path d="M954.50,193.60 V202.00" stroke="#1a703f" stroke-width="1.39" fill="none"/><path d="M951.60,193.60 H957.40 M951.60,202.00 H957.40" stroke="#1a703f" stroke-width="2.0" fill="none"/><path d="M950.33,193.63 L958.67,201.97 M958.67,193.63 L950.33,201.97" stroke="#1a703f" stroke-width="2.08" fill="none"/><path d="M978.50,175.40 V186.20" stroke="#1a703f" stroke-width="1.39" fill="none"/><path d="M975.60,175.40 H981.40 M975.60,186.20 H981.40" stroke="#1a703f" stroke-width="2.0" fill="none"/><path d="M974.33,176.63 L982.67,184.97 M982.67,176.63 L974.33,184.97" stroke="#1a703f" stroke-width="2.08" fill="none"/><circle cx="648.40" cy="413.00" r="4.86" fill="#ba4a00"/><circle cx="657.68" cy="353.30" r="4.86" fill="#ba4a00"/><circle cx="666.96" cy="311.00" r="4.86" fill="#ba4a00"/><circle cx="676.24" cy="282.50" r="4.86" fill="#ba4a00"/><circle cx="685.52" cy="264.20" r="4.86" fill="#ba4a00"/><circle cx="694.80" cy="252.30" r="4.86" fill="#ba4a00"/><circle cx="704.08" cy="245.70" r="4.86" fill="#ba4a00"/><circle cx="713.36" cy="241.50" r="4.86" fill="#ba4a00"/><circle cx="722.64" cy="239.20" r="4.86" fill="#ba4a00"/><circle cx="731.92" cy="238.10" r="4.86" fill="#ba4a00"/><circle cx="741.20" cy="239.30" r="4.86" fill="#ba4a00"/><circle cx="750.48" cy="243.60" r="4.86" fill="#ba4a00"/><circle cx="759.76" cy="247.50" r="4.86" fill="#ba4a00"/><circle cx="769.04" cy="253.70" r="4.86" fill="#ba4a00"/><circle cx="778.32" cy="260.60" r="4.86" fill="#ba4a00"/><circle cx="787.60" cy="267.20" r="4.86" fill="#ba4a00"/><circle cx="796.88" cy="277.00" r="4.86" fill="#ba4a00"/><circle cx="806.16" cy="286.30" r="4.86" fill="#ba4a00"/><path d="M815.44,289.40 V298.60" stroke="#ba4a00" stroke-width="1.39" fill="none"/><path d="M812.54,289.40 H818.34 M812.54,298.60 H818.34" stroke="#ba4a00" stroke-width="2.0" fill="none"/><circle cx="815.44" cy="294.00" r="4.86" fill="#ba4a00"/><path d="M824.72,292.40 V303.00" stroke="#ba4a00" stroke-width="1.39" fill="none"/><path d="M821.82,292.40 H827.62 M821.82,303.00 H827.62" stroke="#ba4a00" stroke-width="2.0" fill="none"/><circle cx="824.72" cy="297.90" r="4.86" fill="#ba4a00"/><path d="M834.00,289.20 V303.10" stroke="#ba4a00" stroke-width="1.39" fill="none"/><path d="M831.10,289.20 H836.90 M831.10,303.10 H836.90" stroke="#ba4a00" stroke-width="2.0" fill="none"/><circle cx="834.00" cy="295.00" r="4.86" fill="#ba4a00"/><path d="M843.28,304.20 V331.50" stroke="#ba4a00" stroke-width="1.39" fill="none"/><path d="M840.38,304.20 H846.18 M840.38,331.50 H846.18" stroke="#ba4a00" stroke-width="2.0" fill="none"/><circle cx="843.28" cy="315.20" r="4.86" fill="#ba4a00"/><path d="M852.56,291.20 V312.70" stroke="#ba4a00" stroke-width="1.39" fill="none"/><path d="M849.66,291.20 H855.46 M849.66,312.70 H855.46" stroke="#ba4a00" stroke-width="2.0" fill="none"/><circle cx="852.56" cy="299.80" r="4.86" fill="#ba4a00"/><path d="M861.84,298.50 V332.50" stroke="#ba4a00" stroke-width="1.39" fill="none"/><path d="M858.94,298.50 H864.74 M858.94,332.50 H864.74" stroke="#ba4a00" stroke-width="2.0" fill="none"/><circle cx="861.84" cy="311.30" r="4.86" fill="#ba4a00"/><path d="M880.40,292.50 V335.00" stroke="#ba4a00" stroke-width="1.39" fill="none"/><path d="M877.50,292.50 H883.30 M877.50,335.00 H883.30" stroke="#ba4a00" stroke-width="2.0" fill="none"/><circle cx="880.40" cy="307.40" r="4.86" fill="#ba4a00"/><path d="M889.68,279.00 V333.70" stroke="#ba4a00" stroke-width="1.39" fill="none"/><path d="M886.78,279.00 H892.58 M886.78,333.70 H892.58" stroke="#ba4a00" stroke-width="2.0" fill="none"/><circle cx="889.68" cy="296.30" r="4.86" fill="#ba4a00"/><path d="M898.96,262.70 V301.20" stroke="#ba4a00" stroke-width="1.39" fill="none"/><path d="M896.06,262.70 H901.86 M896.06,301.20 H901.86" stroke="#ba4a00" stroke-width="2.0" fill="none"/><circle cx="898.96" cy="276.20" r="4.86" fill="#ba4a00"/><path d="M936.08,226.50 V470.00" stroke="#ba4a00" stroke-width="1.39" fill="none"/><path d="M933.18,226.50 H938.98 M933.18,470.00 H938.98" stroke="#ba4a00" stroke-width="2.0" fill="none"/><circle cx="936.08" cy="248.30" r="4.86" fill="#ba4a00"/><path d="M660.83,439.83 L669.17,448.17 M669.17,439.83 L660.83,448.17" stroke="#ba4a00" stroke-width="2.08" fill="none"/><path d="M672.43,412.33 L680.77,420.67 M680.77,412.33 L672.43,420.67" stroke="#ba4a00" stroke-width="2.08" fill="none"/><path d="M684.03,375.03 L692.37,383.37 M692.37,375.03 L684.03,383.37" stroke="#ba4a00" stroke-width="2.08" fill="none"/><path d="M695.63,347.13 L703.97,355.47 M703.97,347.13 L695.63,355.47" stroke="#ba4a00" stroke-width="2.08" fill="none"/><path d="M707.23,323.13 L715.57,331.47 M715.57,323.13 L707.23,331.47" stroke="#ba4a00" stroke-width="2.08" fill="none"/><path d="M718.83,300.43 L727.17,308.77 M727.17,300.43 L718.83,308.77" stroke="#ba4a00" stroke-width="2.08" fill="none"/><path d="M730.43,284.13 L738.77,292.47 M738.77,284.13 L730.43,292.47" stroke="#ba4a00" stroke-width="2.08" fill="none"/><path d="M742.03,272.53 L750.37,280.87 M750.37,272.53 L742.03,280.87" stroke="#ba4a00" stroke-width="2.08" fill="none"/><path d="M753.63,257.13 L761.97,265.47 M761.97,257.13 L753.63,265.47" stroke="#ba4a00" stroke-width="2.08" fill="none"/><path d="M765.23,244.63 L773.57,252.97 M773.57,244.63 L765.23,252.97" stroke="#ba4a00" stroke-width="2.08" fill="none"/><path d="M776.83,236.03 L785.17,244.37 M785.17,236.03 L776.83,244.37" stroke="#ba4a00" stroke-width="2.08" fill="none"/><path d="M788.43,226.43 L796.77,234.77 M796.77,226.43 L788.43,234.77" stroke="#ba4a00" stroke-width="2.08" fill="none"/><path d="M800.03,220.03 L808.37,228.37 M808.37,220.03 L800.03,228.37" stroke="#ba4a00" stroke-width="2.08" fill="none"/><path d="M811.63,213.33 L819.97,221.67 M819.97,213.33 L811.63,221.67" stroke="#ba4a00" stroke-width="2.08" fill="none"/><path d="M823.23,204.63 L831.57,212.97 M831.57,204.63 L823.23,212.97" stroke="#ba4a00" stroke-width="2.08" fill="none"/><path d="M834.83,199.83 L843.17,208.17 M843.17,199.83 L834.83,208.17" stroke="#ba4a00" stroke-width="2.08" fill="none"/><path d="M846.43,193.13 L854.77,201.47 M854.77,193.13 L846.43,201.47" stroke="#ba4a00" stroke-width="2.08" fill="none"/><path d="M862.20,187.30 V195.70" stroke="#ba4a00" stroke-width="1.39" fill="none"/><path d="M859.30,187.30 H865.10 M859.30,195.70 H865.10" stroke="#ba4a00" stroke-width="2.0" fill="none"/><path d="M858.03,187.33 L866.37,195.67 M866.37,187.33 L858.03,195.67" stroke="#ba4a00" stroke-width="2.08" fill="none"/><path d="M873.80,193.10 V201.50" stroke="#ba4a00" stroke-width="1.39" fill="none"/><path d="M870.90,193.10 H876.70 M870.90,201.50 H876.70" stroke="#ba4a00" stroke-width="2.0" fill="none"/><path d="M869.63,193.13 L877.97,201.47 M877.97,193.13 L869.63,201.47" stroke="#ba4a00" stroke-width="2.08" fill="none"/><path d="M885.40,170.60 V179.00" stroke="#ba4a00" stroke-width="1.39" fill="none"/><path d="M882.50,170.60 H888.30 M882.50,179.00 H888.30" stroke="#ba4a00" stroke-width="2.0" fill="none"/><path d="M881.23,170.63 L889.57,178.97 M889.57,170.63 L881.23,178.97" stroke="#ba4a00" stroke-width="2.08" fill="none"/><path d="M897.00,167.00 V175.40" stroke="#ba4a00" stroke-width="1.39" fill="none"/><path d="M894.10,167.00 H899.90 M894.10,175.40 H899.90" stroke="#ba4a00" stroke-width="2.0" fill="none"/><path d="M892.83,167.03 L901.17,175.37 M901.17,167.03 L892.83,175.37" stroke="#ba4a00" stroke-width="2.08" fill="none"/><path d="M908.60,168.80 V182.30" stroke="#ba4a00" stroke-width="1.39" fill="none"/><path d="M905.70,168.80 H911.50 M905.70,182.30 H911.50" stroke="#ba4a00" stroke-width="2.0" fill="none"/><path d="M904.43,170.53 L912.77,178.87 M912.77,170.53 L904.43,178.87" stroke="#ba4a00" stroke-width="2.08" fill="none"/><path d="M920.20,167.00 V175.40" stroke="#ba4a00" stroke-width="1.39" fill="none"/><path d="M917.30,167.00 H923.10 M917.30,175.40 H923.10" stroke="#ba4a00" stroke-width="2.0" fill="none"/><path d="M916.03,167.03 L924.37,175.37 M924.37,167.03 L916.03,175.37" stroke="#ba4a00" stroke-width="2.08" fill="none"/><path d="M931.80,169.40 V177.80" stroke="#ba4a00" stroke-width="1.39" fill="none"/><path d="M928.90,169.40 H934.70 M928.90,177.80 H934.70" stroke="#ba4a00" stroke-width="2.0" fill="none"/><path d="M927.63,169.43 L935.97,177.77 M935.97,169.43 L927.63,177.77" stroke="#ba4a00" stroke-width="2.08" fill="none"/><path d="M943.40,152.20 V160.60" stroke="#ba4a00" stroke-width="1.39" fill="none"/><path d="M940.50,152.20 H946.30 M940.50,160.60 H946.30" stroke="#ba4a00" stroke-width="2.0" fill="none"/><path d="M939.23,152.23 L947.57,160.57 M947.57,152.23 L939.23,160.57" stroke="#ba4a00" stroke-width="2.08" fill="none"/><path d="M642.30,451.80 V470.00" stroke="#7d3c98" stroke-width="1.39" fill="none"/><path d="M639.40,451.80 H645.20 M639.40,470.00 H645.20" stroke="#7d3c98" stroke-width="2.0" fill="none"/><circle cx="642.30" cy="457.30" r="4.86" fill="#7d3c98"/><circle cx="651.21" cy="397.40" r="4.86" fill="#7d3c98"/><circle cx="660.12" cy="343.30" r="4.86" fill="#7d3c98"/><circle cx="669.03" cy="307.20" r="4.86" fill="#7d3c98"/><circle cx="677.94" cy="280.60" r="4.86" fill="#7d3c98"/><circle cx="686.85" cy="261.30" r="4.86" fill="#7d3c98"/><circle cx="695.76" cy="248.40" r="4.86" fill="#7d3c98"/><circle cx="704.67" cy="241.30" r="4.86" fill="#7d3c98"/><circle cx="713.58" cy="236.40" r="4.86" fill="#7d3c98"/><circle cx="722.49" cy="233.60" r="4.86" fill="#7d3c98"/><circle cx="731.40" cy="232.00" r="4.86" fill="#7d3c98"/><circle cx="740.31" cy="232.00" r="4.86" fill="#7d3c98"/><circle cx="749.22" cy="232.70" r="4.86" fill="#7d3c98"/><circle cx="758.13" cy="234.50" r="4.86" fill="#7d3c98"/><circle cx="767.04" cy="238.40" r="4.86" fill="#7d3c98"/><circle cx="775.95" cy="239.30" r="4.86" fill="#7d3c98"/><circle cx="784.86" cy="241.10" r="4.86" fill="#7d3c98"/><circle cx="793.77" cy="242.40" r="4.86" fill="#7d3c98"/><circle cx="802.68" cy="245.30" r="4.86" fill="#7d3c98"/><circle cx="811.59" cy="256.50" r="4.86" fill="#7d3c98"/><path d="M820.50,259.80 V274.20" stroke="#7d3c98" stroke-width="1.39" fill="none"/><path d="M817.60,259.80 H823.40 M817.60,274.20 H823.40" stroke="#7d3c98" stroke-width="2.0" fill="none"/><circle cx="820.50" cy="266.30" r="4.86" fill="#7d3c98"/><path d="M829.41,252.10 V264.60" stroke="#7d3c98" stroke-width="1.39" fill="none"/><path d="M826.51,252.10 H832.31 M826.51,264.60 H832.31" stroke="#7d3c98" stroke-width="2.0" fill="none"/><circle cx="829.41" cy="257.80" r="4.86" fill="#7d3c98"/><path d="M838.32,253.10 V270.40" stroke="#7d3c98" stroke-width="1.39" fill="none"/><path d="M835.42,253.10 H841.22 M835.42,270.40 H841.22" stroke="#7d3c98" stroke-width="2.0" fill="none"/><circle cx="838.32" cy="260.70" r="4.86" fill="#7d3c98"/><path d="M847.23,253.10 V273.30" stroke="#7d3c98" stroke-width="1.39" fill="none"/><path d="M844.33,253.10 H850.13 M844.33,273.30 H850.13" stroke="#7d3c98" stroke-width="2.0" fill="none"/><circle cx="847.23" cy="261.60" r="4.86" fill="#7d3c98"/><path d="M865.05,248.30 V470.00" stroke="#7d3c98" stroke-width="1.39" fill="none"/><path d="M862.15,248.30 H867.95 M862.15,470.00 H867.95" stroke="#7d3c98" stroke-width="2.0" fill="none"/><circle cx="865.05" cy="270.60" r="4.86" fill="#7d3c98"/><path d="M669.70,434.80 V443.20" stroke="#7d3c98" stroke-width="1.39" fill="none"/><path d="M666.80,434.80 H672.60 M666.80,443.20 H672.60" stroke="#7d3c98" stroke-width="2.0" fill="none"/><path d="M665.53,434.83 L673.87,443.17 M673.87,434.83 L665.53,443.17" stroke="#7d3c98" stroke-width="2.08" fill="none"/><path d="M678.26,420.40 V428.80" stroke="#7d3c98" stroke-width="1.39" fill="none"/><path d="M675.36,420.40 H681.16 M675.36,428.80 H681.16" stroke="#7d3c98" stroke-width="2.0" fill="none"/><path d="M674.09,420.43 L682.43,428.77 M682.43,420.43 L674.09,428.77" stroke="#7d3c98" stroke-width="2.08" fill="none"/><path d="M686.82,380.80 V389.20" stroke="#7d3c98" stroke-width="1.39" fill="none"/><path d="M683.92,380.80 H689.72 M683.92,389.20 H689.72" stroke="#7d3c98" stroke-width="2.0" fill="none"/><path d="M682.65,380.83 L690.99,389.17 M690.99,380.83 L682.65,389.17" stroke="#7d3c98" stroke-width="2.08" fill="none"/><path d="M695.38,363.50 V371.90" stroke="#7d3c98" stroke-width="1.39" fill="none"/><path d="M692.48,363.50 H698.28 M692.48,371.90 H698.28" stroke="#7d3c98" stroke-width="2.0" fill="none"/><path d="M691.21,363.53 L699.55,371.87 M699.55,363.53 L691.21,371.87" stroke="#7d3c98" stroke-width="2.08" fill="none"/><path d="M703.94,333.70 V342.10" stroke="#7d3c98" stroke-width="1.39" fill="none"/><path d="M701.04,333.70 H706.84 M701.04,342.10 H706.84" stroke="#7d3c98" stroke-width="2.0" fill="none"/><path d="M699.77,333.73 L708.11,342.07 M708.11,333.73 L699.77,342.07" stroke="#7d3c98" stroke-width="2.08" fill="none"/><path d="M712.50,316.40 V324.80" stroke="#7d3c98" stroke-width="1.39" fill="none"/><path d="M709.60,316.40 H715.40 M709.60,324.80 H715.40" stroke="#7d3c98" stroke-width="2.0" fill="none"/><path d="M708.33,316.43 L716.67,324.77 M716.67,316.43 L708.33,324.77" stroke="#7d3c98" stroke-width="2.08" fill="none"/><path d="M721.06,302.30 V310.70" stroke="#7d3c98" stroke-width="1.39" fill="none"/><path d="M718.16,302.30 H723.96 M718.16,310.70 H723.96" stroke="#7d3c98" stroke-width="2.0" fill="none"/><path d="M716.89,302.33 L725.23,310.67 M725.23,302.33 L716.89,310.67" stroke="#7d3c98" stroke-width="2.08" fill="none"/><path d="M729.62,291.80 V300.20" stroke="#7d3c98" stroke-width="1.39" fill="none"/><path d="M726.72,291.80 H732.52 M726.72,300.20 H732.52" stroke="#7d3c98" stroke-width="2.0" fill="none"/><path d="M725.45,291.83 L733.79,300.17 M733.79,291.83 L725.45,300.17" stroke="#7d3c98" stroke-width="2.08" fill="none"/><path d="M738.18,276.40 V284.80" stroke="#7d3c98" stroke-width="1.39" fill="none"/><path d="M735.28,276.40 H741.08 M735.28,284.80 H741.08" stroke="#7d3c98" stroke-width="2.0" fill="none"/><path d="M734.01,276.43 L742.35,284.77 M742.35,276.43 L734.01,284.77" stroke="#7d3c98" stroke-width="2.08" fill="none"/><path d="M746.74,267.70 V276.10" stroke="#7d3c98" stroke-width="1.39" fill="none"/><path d="M743.84,267.70 H749.64 M743.84,276.10 H749.64" stroke="#7d3c98" stroke-width="2.0" fill="none"/><path d="M742.57,267.73 L750.91,276.07 M750.91,267.73 L742.57,276.07" stroke="#7d3c98" stroke-width="2.08" fill="none"/><path d="M755.30,256.20 V264.60" stroke="#7d3c98" stroke-width="1.39" fill="none"/><path d="M752.40,256.20 H758.20 M752.40,264.60 H758.20" stroke="#7d3c98" stroke-width="2.0" fill="none"/><path d="M751.13,256.23 L759.47,264.57 M759.47,256.23 L751.13,264.57" stroke="#7d3c98" stroke-width="2.08" fill="none"/><path d="M763.86,250.40 V258.80" stroke="#7d3c98" stroke-width="1.39" fill="none"/><path d="M760.96,250.40 H766.76 M760.96,258.80 H766.76" stroke="#7d3c98" stroke-width="2.0" fill="none"/><path d="M759.69,250.43 L768.03,258.77 M768.03,250.43 L759.69,258.77" stroke="#7d3c98" stroke-width="2.08" fill="none"/><path d="M772.42,239.80 V248.20" stroke="#7d3c98" stroke-width="1.39" fill="none"/><path d="M769.52,239.80 H775.32 M769.52,248.20 H775.32" stroke="#7d3c98" stroke-width="2.0" fill="none"/><path d="M768.25,239.83 L776.59,248.17 M776.59,239.83 L768.25,248.17" stroke="#7d3c98" stroke-width="2.08" fill="none"/><path d="M780.98,228.30 V236.70" stroke="#7d3c98" stroke-width="1.39" fill="none"/><path d="M778.08,228.30 H783.88 M778.08,236.70 H783.88" stroke="#7d3c98" stroke-width="2.0" fill="none"/><path d="M776.81,228.33 L785.15,236.67 M785.15,228.33 L776.81,236.67" stroke="#7d3c98" stroke-width="2.08" fill="none"/><path d="M789.54,225.40 V233.80" stroke="#7d3c98" stroke-width="1.39" fill="none"/><path d="M786.64,225.40 H792.44 M786.64,233.80 H792.44" stroke="#7d3c98" stroke-width="2.0" fill="none"/><path d="M785.37,225.43 L793.71,233.77 M793.71,225.43 L785.37,233.77" stroke="#7d3c98" stroke-width="2.08" fill="none"/><path d="M798.10,216.80 V225.20" stroke="#7d3c98" stroke-width="1.39" fill="none"/><path d="M795.20,216.80 H801.00 M795.20,225.20 H801.00" stroke="#7d3c98" stroke-width="2.0" fill="none"/><path d="M793.93,216.83 L802.27,225.17 M802.27,216.83 L793.93,225.17" stroke="#7d3c98" stroke-width="2.08" fill="none"/><path d="M806.66,206.60 V215.00" stroke="#7d3c98" stroke-width="1.39" fill="none"/><path d="M803.76,206.60 H809.56 M803.76,215.00 H809.56" stroke="#7d3c98" stroke-width="2.0" fill="none"/><path d="M802.49,206.63 L810.83,214.97 M810.83,206.63 L802.49,214.97" stroke="#7d3c98" stroke-width="2.08" fill="none"/><path d="M815.22,200.80 V209.20" stroke="#7d3c98" stroke-width="1.39" fill="none"/><path d="M812.32,200.80 H818.12 M812.32,209.20 H818.12" stroke="#7d3c98" stroke-width="2.0" fill="none"/><path d="M811.05,200.83 L819.39,209.17 M819.39,200.83 L811.05,209.17" stroke="#7d3c98" stroke-width="2.08" fill="none"/><path d="M823.78,197.00 V205.40" stroke="#7d3c98" stroke-width="1.39" fill="none"/><path d="M820.88,197.00 H826.68 M820.88,205.40 H826.68" stroke="#7d3c98" stroke-width="2.0" fill="none"/><path d="M819.61,197.03 L827.95,205.37 M827.95,197.03 L819.61,205.37" stroke="#7d3c98" stroke-width="2.08" fill="none"/><path d="M832.34,192.10 V200.50" stroke="#7d3c98" stroke-width="1.39" fill="none"/><path d="M829.44,192.10 H835.24 M829.44,200.50 H835.24" stroke="#7d3c98" stroke-width="2.0" fill="none"/><path d="M828.17,192.13 L836.51,200.47 M836.51,192.13 L828.17,200.47" stroke="#7d3c98" stroke-width="2.08" fill="none"/><path d="M840.90,196.00 V204.40" stroke="#7d3c98" stroke-width="1.39" fill="none"/><path d="M838.00,196.00 H843.80 M838.00,204.40 H843.80" stroke="#7d3c98" stroke-width="2.0" fill="none"/><path d="M836.73,196.03 L845.07,204.37 M845.07,196.03 L836.73,204.37" stroke="#7d3c98" stroke-width="2.08" fill="none"/><path d="M849.46,183.50 V191.90" stroke="#7d3c98" stroke-width="1.39" fill="none"/><path d="M846.56,183.50 H852.36 M846.56,191.90 H852.36" stroke="#7d3c98" stroke-width="2.0" fill="none"/><path d="M845.29,183.53 L853.63,191.87 M853.63,183.53 L845.29,191.87" stroke="#7d3c98" stroke-width="2.08" fill="none"/><path d="M858.02,178.70 V187.10" stroke="#7d3c98" stroke-width="1.39" fill="none"/><path d="M855.12,178.70 H860.92 M855.12,187.10 H860.92" stroke="#7d3c98" stroke-width="2.0" fill="none"/><path d="M853.85,178.73 L862.19,187.07 M862.19,178.73 L853.85,187.07" stroke="#7d3c98" stroke-width="2.08" fill="none"/><path d="M866.58,163.40 V172.60" stroke="#7d3c98" stroke-width="1.39" fill="none"/><path d="M863.68,163.40 H869.48 M863.68,172.60 H869.48" stroke="#7d3c98" stroke-width="2.0" fill="none"/><path d="M862.41,163.83 L870.75,172.17 M870.75,163.83 L862.41,172.17" stroke="#7d3c98" stroke-width="2.08" fill="none"/></g></svg><g stroke="#000" fill="none"><line x1="103.50" y1="459.50" x2="103.50" y2="449.00" stroke-width="1.5"/><line x1="103.50" y1="22.60" x2="103.50" y2="33.10" stroke-width="1.5"/><line x1="126.00" y1="459.50" x2="126.00" y2="454.70" stroke-width="1.1"/><line x1="126.00" y1="22.60" x2="126.00" y2="27.40" stroke-width="1.1"/><line x1="148.50" y1="459.50" x2="148.50" y2="454.70" stroke-width="1.1"/><line x1="148.50" y1="22.60" x2="148.50" y2="27.40" stroke-width="1.1"/><line x1="171.00" y1="459.50" x2="171.00" y2="454.70" stroke-width="1.1"/><line x1="171.00" y1="22.60" x2="171.00" y2="27.40" stroke-width="1.1"/><line x1="193.50" y1="459.50" x2="193.50" y2="454.70" stroke-width="1.1"/><line x1="193.50" y1="22.60" x2="193.50" y2="27.40" stroke-width="1.1"/><line x1="216.00" y1="459.50" x2="216.00" y2="449.00" stroke-width="1.5"/><line x1="216.00" y1="22.60" x2="216.00" y2="33.10" stroke-width="1.5"/><line x1="238.50" y1="459.50" x2="238.50" y2="454.70" stroke-width="1.1"/><line x1="238.50" y1="22.60" x2="238.50" y2="27.40" stroke-width="1.1"/><line x1="261.00" y1="459.50" x2="261.00" y2="454.70" stroke-width="1.1"/><line x1="261.00" y1="22.60" x2="261.00" y2="27.40" stroke-width="1.1"/><line x1="283.50" y1="459.50" x2="283.50" y2="454.70" stroke-width="1.1"/><line x1="283.50" y1="22.60" x2="283.50" y2="27.40" stroke-width="1.1"/><line x1="306.00" y1="459.50" x2="306.00" y2="454.70" stroke-width="1.1"/><line x1="306.00" y1="22.60" x2="306.00" y2="27.40" stroke-width="1.1"/><line x1="328.50" y1="459.50" x2="328.50" y2="449.00" stroke-width="1.5"/><line x1="328.50" y1="22.60" x2="328.50" y2="33.10" stroke-width="1.5"/><line x1="351.00" y1="459.50" x2="351.00" y2="454.70" stroke-width="1.1"/><line x1="351.00" y1="22.60" x2="351.00" y2="27.40" stroke-width="1.1"/><line x1="373.50" y1="459.50" x2="373.50" y2="454.70" stroke-width="1.1"/><line x1="373.50" y1="22.60" x2="373.50" y2="27.40" stroke-width="1.1"/><line x1="396.00" y1="459.50" x2="396.00" y2="454.70" stroke-width="1.1"/><line x1="396.00" y1="22.60" x2="396.00" y2="27.40" stroke-width="1.1"/><line x1="418.50" y1="459.50" x2="418.50" y2="454.70" stroke-width="1.1"/><line x1="418.50" y1="22.60" x2="418.50" y2="27.40" stroke-width="1.1"/><line x1="441.00" y1="459.50" x2="441.00" y2="449.00" stroke-width="1.5"/><line x1="441.00" y1="22.60" x2="441.00" y2="33.10" stroke-width="1.5"/><line x1="463.50" y1="459.50" x2="463.50" y2="454.70" stroke-width="1.1"/><line x1="463.50" y1="22.60" x2="463.50" y2="27.40" stroke-width="1.1"/><line x1="486.00" y1="459.50" x2="486.00" y2="454.70" stroke-width="1.1"/><line x1="486.00" y1="22.60" x2="486.00" y2="27.40" stroke-width="1.1"/><line x1="508.50" y1="459.50" x2="508.50" y2="454.70" stroke-width="1.1"/><line x1="508.50" y1="22.60" x2="508.50" y2="27.40" stroke-width="1.1"/><line x1="531.00" y1="459.50" x2="531.00" y2="454.70" stroke-width="1.1"/><line x1="531.00" y1="22.60" x2="531.00" y2="27.40" stroke-width="1.1"/><line x1="553.50" y1="459.50" x2="553.50" y2="449.00" stroke-width="1.5"/><line x1="553.50" y1="22.60" x2="553.50" y2="33.10" stroke-width="1.5"/><line x1="81.00" y1="455.65" x2="85.80" y2="455.65" stroke-width="1.1"/><line x1="576.00" y1="455.65" x2="571.20" y2="455.65" stroke-width="1.1"/><line x1="81.00" y1="452.20" x2="91.50" y2="452.20" stroke-width="1.5"/><line x1="576.00" y1="452.20" x2="565.50" y2="452.20" stroke-width="1.5"/><line x1="81.00" y1="429.51" x2="85.80" y2="429.51" stroke-width="1.1"/><line x1="576.00" y1="429.51" x2="571.20" y2="429.51" stroke-width="1.1"/><line x1="81.00" y1="416.23" x2="85.80" y2="416.23" stroke-width="1.1"/><line x1="576.00" y1="416.23" x2="571.20" y2="416.23" stroke-width="1.1"/><line x1="81.00" y1="406.82" x2="85.80" y2="406.82" stroke-width="1.1"/><line x1="576.00" y1="406.82" x2="571.20" y2="406.82" stroke-width="1.1"/><line x1="81.00" y1="399.51" x2="85.80" y2="399.51" stroke-width="1.1"/><line x1="576.00" y1="399.51" x2="571.20" y2="399.51" stroke-width="1.1"/><line x1="81.00" y1="393.54" x2="85.80" y2="393.54" stroke-width="1.1"/><line x1="576.00" y1="393.54" x2="571.20" y2="393.54" stroke-width="1.1"/><line x1="81.00" y1="388.50" x2="85.80" y2="388.50" stroke-width="1.1"/><line x1="576.00" y1="388.50" x2="571.20" y2="388.50" stroke-width="1.1"/><line x1="81.00" y1="384.13" x2="85.80" y2="384.13" stroke-width="1.1"/><line x1="576.00" y1="384.13" x2="571.20" y2="384.13" stroke-width="1.1"/><line x1="81.00" y1="380.27" x2="85.80" y2="380.27" stroke-width="1.1"/><line x1="576.00" y1="380.27" x2="571.20" y2="380.27" stroke-width="1.1"/><line x1="81.00" y1="376.82" x2="91.50" y2="376.82" stroke-width="1.5"/><line x1="576.00" y1="376.82" x2="565.50" y2="376.82" stroke-width="1.5"/><line x1="81.00" y1="354.13" x2="85.80" y2="354.13" stroke-width="1.1"/><line x1="576.00" y1="354.13" x2="571.20" y2="354.13" stroke-width="1.1"/><line x1="81.00" y1="340.85" x2="85.80" y2="340.85" stroke-width="1.1"/><line x1="576.00" y1="340.85" x2="571.20" y2="340.85" stroke-width="1.1"/><line x1="81.00" y1="331.44" x2="85.80" y2="331.44" stroke-width="1.1"/><line x1="576.00" y1="331.44" x2="571.20" y2="331.44" stroke-width="1.1"/><line x1="81.00" y1="324.13" x2="85.80" y2="324.13" stroke-width="1.1"/><line x1="576.00" y1="324.13" x2="571.20" y2="324.13" stroke-width="1.1"/><line x1="81.00" y1="318.16" x2="85.80" y2="318.16" stroke-width="1.1"/><line x1="576.00" y1="318.16" x2="571.20" y2="318.16" stroke-width="1.1"/><line x1="81.00" y1="313.12" x2="85.80" y2="313.12" stroke-width="1.1"/><line x1="576.00" y1="313.12" x2="571.20" y2="313.12" stroke-width="1.1"/><line x1="81.00" y1="308.75" x2="85.80" y2="308.75" stroke-width="1.1"/><line x1="576.00" y1="308.75" x2="571.20" y2="308.75" stroke-width="1.1"/><line x1="81.00" y1="304.89" x2="85.80" y2="304.89" stroke-width="1.1"/><line x1="576.00" y1="304.89" x2="571.20" y2="304.89" stroke-width="1.1"/><line x1="81.00" y1="301.44" x2="91.50" y2="301.44" stroke-width="1.5"/><line x1="576.00" y1="301.44" x2="565.50" y2="301.44" stroke-width="1.5"/><line x1="81.00" y1="278.75" x2="85.80" y2="278.75" stroke-width="1.1"/><line x1="576.00" y1="278.75" x2="571.20" y2="278.75" stroke-width="1.1"/><line x1="81.00" y1="265.47" x2="85.80" y2="265.47" stroke-width="1.1"/><line x1="576.00" y1="265.47" x2="571.20" y2="265.47" stroke-width="1.1"/><line x1="81.00" y1="256.06" x2="85.80" y2="256.06" stroke-width="1.1"/><line x1="576.00" y1="256.06" x2="571.20" y2="256.06" stroke-width="1.1"/><line x1="81.00" y1="248.75" x2="85.80" y2="248.75" stroke-width="1.1"/><line x1="576.00" y1="248.75" x2="571.20" y2="248.75" stroke-width="1.1"/><line x1="81.00" y1="242.78" x2="85.80" y2="242.78" stroke-width="1.1"/><line x1="576.00" y1="242.78" x2="571.20" y2="242.78" stroke-width="1.1"/><line x1="81.00" y1="237.74" x2="85.80" y2="237.74" stroke-width="1.1"/><line x1="576.00" y1="237.74" x2="571.20" y2="237.74" stroke-width="1.1"/><line x1="81.00" y1="233.37" x2="85.80" y2="233.37" stroke-width="1.1"/><line x1="576.00" y1="233.37" x2="571.20" y2="233.37" stroke-width="1.1"/><line x1="81.00" y1="229.51" x2="85.80" y2="229.51" stroke-width="1.1"/><line x1="576.00" y1="229.51" x2="571.20" y2="229.51" stroke-width="1.1"/><line x1="81.00" y1="226.06" x2="91.50" y2="226.06" stroke-width="1.5"/><line x1="576.00" y1="226.06" x2="565.50" y2="226.06" stroke-width="1.5"/><line x1="81.00" y1="203.37" x2="85.80" y2="203.37" stroke-width="1.1"/><line x1="576.00" y1="203.37" x2="571.20" y2="203.37" stroke-width="1.1"/><line x1="81.00" y1="190.09" x2="85.80" y2="190.09" stroke-width="1.1"/><line x1="576.00" y1="190.09" x2="571.20" y2="190.09" stroke-width="1.1"/><line x1="81.00" y1="180.68" x2="85.80" y2="180.68" stroke-width="1.1"/><line x1="576.00" y1="180.68" x2="571.20" y2="180.68" stroke-width="1.1"/><line x1="81.00" y1="173.37" x2="85.80" y2="173.37" stroke-width="1.1"/><line x1="576.00" y1="173.37" x2="571.20" y2="173.37" stroke-width="1.1"/><line x1="81.00" y1="167.40" x2="85.80" y2="167.40" stroke-width="1.1"/><line x1="576.00" y1="167.40" x2="571.20" y2="167.40" stroke-width="1.1"/><line x1="81.00" y1="162.36" x2="85.80" y2="162.36" stroke-width="1.1"/><line x1="576.00" y1="162.36" x2="571.20" y2="162.36" stroke-width="1.1"/><line x1="81.00" y1="157.99" x2="85.80" y2="157.99" stroke-width="1.1"/><line x1="576.00" y1="157.99" x2="571.20" y2="157.99" stroke-width="1.1"/><line x1="81.00" y1="154.13" x2="85.80" y2="154.13" stroke-width="1.1"/><line x1="576.00" y1="154.13" x2="571.20" y2="154.13" stroke-width="1.1"/><line x1="81.00" y1="150.68" x2="91.50" y2="150.68" stroke-width="1.5"/><line x1="576.00" y1="150.68" x2="565.50" y2="150.68" stroke-width="1.5"/><line x1="81.00" y1="127.99" x2="85.80" y2="127.99" stroke-width="1.1"/><line x1="576.00" y1="127.99" x2="571.20" y2="127.99" stroke-width="1.1"/><line x1="81.00" y1="114.71" x2="85.80" y2="114.71" stroke-width="1.1"/><line x1="576.00" y1="114.71" x2="571.20" y2="114.71" stroke-width="1.1"/><line x1="81.00" y1="105.30" x2="85.80" y2="105.30" stroke-width="1.1"/><line x1="576.00" y1="105.30" x2="571.20" y2="105.30" stroke-width="1.1"/><line x1="81.00" y1="97.99" x2="85.80" y2="97.99" stroke-width="1.1"/><line x1="576.00" y1="97.99" x2="571.20" y2="97.99" stroke-width="1.1"/><line x1="81.00" y1="92.02" x2="85.80" y2="92.02" stroke-width="1.1"/><line x1="576.00" y1="92.02" x2="571.20" y2="92.02" stroke-width="1.1"/><line x1="81.00" y1="86.98" x2="85.80" y2="86.98" stroke-width="1.1"/><line x1="576.00" y1="86.98" x2="571.20" y2="86.98" stroke-width="1.1"/><line x1="81.00" y1="82.61" x2="85.80" y2="82.61" stroke-width="1.1"/><line x1="576.00" y1="82.61" x2="571.20" y2="82.61" stroke-width="1.1"/><line x1="81.00" y1="78.75" x2="85.80" y2="78.75" stroke-width="1.1"/><line x1="576.00" y1="78.75" x2="571.20" y2="78.75" stroke-width="1.1"/><line x1="81.00" y1="75.30" x2="91.50" y2="75.30" stroke-width="1.5"/><line x1="576.00" y1="75.30" x2="565.50" y2="75.30" stroke-width="1.5"/><line x1="81.00" y1="52.61" x2="85.80" y2="52.61" stroke-width="1.1"/><line x1="576.00" y1="52.61" x2="571.20" y2="52.61" stroke-width="1.1"/><line x1="81.00" y1="39.33" x2="85.80" y2="39.33" stroke-width="1.1"/><line x1="576.00" y1="39.33" x2="571.20" y2="39.33" stroke-width="1.1"/><line x1="81.00" y1="29.92" x2="85.80" y2="29.92" stroke-width="1.1"/><line x1="576.00" y1="29.92" x2="571.20" y2="29.92" stroke-width="1.1"/></g><g stroke="#000" fill="none"><line x1="598.50" y1="459.50" x2="598.50" y2="449.00" stroke-width="1.5"/><line x1="598.50" y1="22.60" x2="598.50" y2="33.10" stroke-width="1.5"/><line x1="621.00" y1="459.50" x2="621.00" y2="454.70" stroke-width="1.1"/><line x1="621.00" y1="22.60" x2="621.00" y2="27.40" stroke-width="1.1"/><line x1="643.50" y1="459.50" x2="643.50" y2="454.70" stroke-width="1.1"/><line x1="643.50" y1="22.60" x2="643.50" y2="27.40" stroke-width="1.1"/><line x1="666.00" y1="459.50" x2="666.00" y2="454.70" stroke-width="1.1"/><line x1="666.00" y1="22.60" x2="666.00" y2="27.40" stroke-width="1.1"/><line x1="688.50" y1="459.50" x2="688.50" y2="454.70" stroke-width="1.1"/><line x1="688.50" y1="22.60" x2="688.50" y2="27.40" stroke-width="1.1"/><line x1="711.00" y1="459.50" x2="711.00" y2="449.00" stroke-width="1.5"/><line x1="711.00" y1="22.60" x2="711.00" y2="33.10" stroke-width="1.5"/><line x1="733.50" y1="459.50" x2="733.50" y2="454.70" stroke-width="1.1"/><line x1="733.50" y1="22.60" x2="733.50" y2="27.40" stroke-width="1.1"/><line x1="756.00" y1="459.50" x2="756.00" y2="454.70" stroke-width="1.1"/><line x1="756.00" y1="22.60" x2="756.00" y2="27.40" stroke-width="1.1"/><line x1="778.50" y1="459.50" x2="778.50" y2="454.70" stroke-width="1.1"/><line x1="778.50" y1="22.60" x2="778.50" y2="27.40" stroke-width="1.1"/><line x1="801.00" y1="459.50" x2="801.00" y2="454.70" stroke-width="1.1"/><line x1="801.00" y1="22.60" x2="801.00" y2="27.40" stroke-width="1.1"/><line x1="823.50" y1="459.50" x2="823.50" y2="449.00" stroke-width="1.5"/><line x1="823.50" y1="22.60" x2="823.50" y2="33.10" stroke-width="1.5"/><line x1="846.00" y1="459.50" x2="846.00" y2="454.70" stroke-width="1.1"/><line x1="846.00" y1="22.60" x2="846.00" y2="27.40" stroke-width="1.1"/><line x1="868.50" y1="459.50" x2="868.50" y2="454.70" stroke-width="1.1"/><line x1="868.50" y1="22.60" x2="868.50" y2="27.40" stroke-width="1.1"/><line x1="891.00" y1="459.50" x2="891.00" y2="454.70" stroke-width="1.1"/><line x1="891.00" y1="22.60" x2="891.00" y2="27.40" stroke-width="1.1"/><line x1="913.50" y1="459.50" x2="913.50" y2="454.70" stroke-width="1.1"/><line x1="913.50" y1="22.60" x2="913.50" y2="27.40" stroke-width="1.1"/><line x1="936.00" y1="459.50" x2="936.00" y2="449.00" stroke-width="1.5"/><line x1="936.00" y1="22.60" x2="936.00" y2="33.10" stroke-width="1.5"/><line x1="958.50" y1="459.50" x2="958.50" y2="454.70" stroke-width="1.1"/><line x1="958.50" y1="22.60" x2="958.50" y2="27.40" stroke-width="1.1"/><line x1="981.00" y1="459.50" x2="981.00" y2="454.70" stroke-width="1.1"/><line x1="981.00" y1="22.60" x2="981.00" y2="27.40" stroke-width="1.1"/><line x1="1003.50" y1="459.50" x2="1003.50" y2="454.70" stroke-width="1.1"/><line x1="1003.50" y1="22.60" x2="1003.50" y2="27.40" stroke-width="1.1"/><line x1="1026.00" y1="459.50" x2="1026.00" y2="454.70" stroke-width="1.1"/><line x1="1026.00" y1="22.60" x2="1026.00" y2="27.40" stroke-width="1.1"/><line x1="1048.50" y1="459.50" x2="1048.50" y2="449.00" stroke-width="1.5"/><line x1="1048.50" y1="22.60" x2="1048.50" y2="33.10" stroke-width="1.5"/><line x1="576.00" y1="455.65" x2="580.80" y2="455.65" stroke-width="1.1"/><line x1="1070.60" y1="455.65" x2="1065.80" y2="455.65" stroke-width="1.1"/><line x1="576.00" y1="452.20" x2="586.50" y2="452.20" stroke-width="1.5"/><line x1="1070.60" y1="452.20" x2="1060.10" y2="452.20" stroke-width="1.5"/><line x1="576.00" y1="429.51" x2="580.80" y2="429.51" stroke-width="1.1"/><line x1="1070.60" y1="429.51" x2="1065.80" y2="429.51" stroke-width="1.1"/><line x1="576.00" y1="416.23" x2="580.80" y2="416.23" stroke-width="1.1"/><line x1="1070.60" y1="416.23" x2="1065.80" y2="416.23" stroke-width="1.1"/><line x1="576.00" y1="406.82" x2="580.80" y2="406.82" stroke-width="1.1"/><line x1="1070.60" y1="406.82" x2="1065.80" y2="406.82" stroke-width="1.1"/><line x1="576.00" y1="399.51" x2="580.80" y2="399.51" stroke-width="1.1"/><line x1="1070.60" y1="399.51" x2="1065.80" y2="399.51" stroke-width="1.1"/><line x1="576.00" y1="393.54" x2="580.80" y2="393.54" stroke-width="1.1"/><line x1="1070.60" y1="393.54" x2="1065.80" y2="393.54" stroke-width="1.1"/><line x1="576.00" y1="388.50" x2="580.80" y2="388.50" stroke-width="1.1"/><line x1="1070.60" y1="388.50" x2="1065.80" y2="388.50" stroke-width="1.1"/><line x1="576.00" y1="384.13" x2="580.80" y2="384.13" stroke-width="1.1"/><line x1="1070.60" y1="384.13" x2="1065.80" y2="384.13" stroke-width="1.1"/><line x1="576.00" y1="380.27" x2="580.80" y2="380.27" stroke-width="1.1"/><line x1="1070.60" y1="380.27" x2="1065.80" y2="380.27" stroke-width="1.1"/><line x1="576.00" y1="376.82" x2="586.50" y2="376.82" stroke-width="1.5"/><line x1="1070.60" y1="376.82" x2="1060.10" y2="376.82" stroke-width="1.5"/><line x1="576.00" y1="354.13" x2="580.80" y2="354.13" stroke-width="1.1"/><line x1="1070.60" y1="354.13" x2="1065.80" y2="354.13" stroke-width="1.1"/><line x1="576.00" y1="340.85" x2="580.80" y2="340.85" stroke-width="1.1"/><line x1="1070.60" y1="340.85" x2="1065.80" y2="340.85" stroke-width="1.1"/><line x1="576.00" y1="331.44" x2="580.80" y2="331.44" stroke-width="1.1"/><line x1="1070.60" y1="331.44" x2="1065.80" y2="331.44" stroke-width="1.1"/><line x1="576.00" y1="324.13" x2="580.80" y2="324.13" stroke-width="1.1"/><line x1="1070.60" y1="324.13" x2="1065.80" y2="324.13" stroke-width="1.1"/><line x1="576.00" y1="318.16" x2="580.80" y2="318.16" stroke-width="1.1"/><line x1="1070.60" y1="318.16" x2="1065.80" y2="318.16" stroke-width="1.1"/><line x1="576.00" y1="313.12" x2="580.80" y2="313.12" stroke-width="1.1"/><line x1="1070.60" y1="313.12" x2="1065.80" y2="313.12" stroke-width="1.1"/><line x1="576.00" y1="308.75" x2="580.80" y2="308.75" stroke-width="1.1"/><line x1="1070.60" y1="308.75" x2="1065.80" y2="308.75" stroke-width="1.1"/><line x1="576.00" y1="304.89" x2="580.80" y2="304.89" stroke-width="1.1"/><line x1="1070.60" y1="304.89" x2="1065.80" y2="304.89" stroke-width="1.1"/><line x1="576.00" y1="301.44" x2="586.50" y2="301.44" stroke-width="1.5"/><line x1="1070.60" y1="301.44" x2="1060.10" y2="301.44" stroke-width="1.5"/><line x1="576.00" y1="278.75" x2="580.80" y2="278.75" stroke-width="1.1"/><line x1="1070.60" y1="278.75" x2="1065.80" y2="278.75" stroke-width="1.1"/><line x1="576.00" y1="265.47" x2="580.80" y2="265.47" stroke-width="1.1"/><line x1="1070.60" y1="265.47" x2="1065.80" y2="265.47" stroke-width="1.1"/><line x1="576.00" y1="256.06" x2="580.80" y2="256.06" stroke-width="1.1"/><line x1="1070.60" y1="256.06" x2="1065.80" y2="256.06" stroke-width="1.1"/><line x1="576.00" y1="248.75" x2="580.80" y2="248.75" stroke-width="1.1"/><line x1="1070.60" y1="248.75" x2="1065.80" y2="248.75" stroke-width="1.1"/><line x1="576.00" y1="242.78" x2="580.80" y2="242.78" stroke-width="1.1"/><line x1="1070.60" y1="242.78" x2="1065.80" y2="242.78" stroke-width="1.1"/><line x1="576.00" y1="237.74" x2="580.80" y2="237.74" stroke-width="1.1"/><line x1="1070.60" y1="237.74" x2="1065.80" y2="237.74" stroke-width="1.1"/><line x1="576.00" y1="233.37" x2="580.80" y2="233.37" stroke-width="1.1"/><line x1="1070.60" y1="233.37" x2="1065.80" y2="233.37" stroke-width="1.1"/><line x1="576.00" y1="229.51" x2="580.80" y2="229.51" stroke-width="1.1"/><line x1="1070.60" y1="229.51" x2="1065.80" y2="229.51" stroke-width="1.1"/><line x1="576.00" y1="226.06" x2="586.50" y2="226.06" stroke-width="1.5"/><line x1="1070.60" y1="226.06" x2="1060.10" y2="226.06" stroke-width="1.5"/><line x1="576.00" y1="203.37" x2="580.80" y2="203.37" stroke-width="1.1"/><line x1="1070.60" y1="203.37" x2="1065.80" y2="203.37" stroke-width="1.1"/><line x1="576.00" y1="190.09" x2="580.80" y2="190.09" stroke-width="1.1"/><line x1="1070.60" y1="190.09" x2="1065.80" y2="190.09" stroke-width="1.1"/><line x1="576.00" y1="180.68" x2="580.80" y2="180.68" stroke-width="1.1"/><line x1="1070.60" y1="180.68" x2="1065.80" y2="180.68" stroke-width="1.1"/><line x1="576.00" y1="173.37" x2="580.80" y2="173.37" stroke-width="1.1"/><line x1="1070.60" y1="173.37" x2="1065.80" y2="173.37" stroke-width="1.1"/><line x1="576.00" y1="167.40" x2="580.80" y2="167.40" stroke-width="1.1"/><line x1="1070.60" y1="167.40" x2="1065.80" y2="167.40" stroke-width="1.1"/><line x1="576.00" y1="162.36" x2="580.80" y2="162.36" stroke-width="1.1"/><line x1="1070.60" y1="162.36" x2="1065.80" y2="162.36" stroke-width="1.1"/><line x1="576.00" y1="157.99" x2="580.80" y2="157.99" stroke-width="1.1"/><line x1="1070.60" y1="157.99" x2="1065.80" y2="157.99" stroke-width="1.1"/><line x1="576.00" y1="154.13" x2="580.80" y2="154.13" stroke-width="1.1"/><line x1="1070.60" y1="154.13" x2="1065.80" y2="154.13" stroke-width="1.1"/><line x1="576.00" y1="150.68" x2="586.50" y2="150.68" stroke-width="1.5"/><line x1="1070.60" y1="150.68" x2="1060.10" y2="150.68" stroke-width="1.5"/><line x1="576.00" y1="127.99" x2="580.80" y2="127.99" stroke-width="1.1"/><line x1="1070.60" y1="127.99" x2="1065.80" y2="127.99" stroke-width="1.1"/><line x1="576.00" y1="114.71" x2="580.80" y2="114.71" stroke-width="1.1"/><line x1="1070.60" y1="114.71" x2="1065.80" y2="114.71" stroke-width="1.1"/><line x1="576.00" y1="105.30" x2="580.80" y2="105.30" stroke-width="1.1"/><line x1="1070.60" y1="105.30" x2="1065.80" y2="105.30" stroke-width="1.1"/><line x1="576.00" y1="97.99" x2="580.80" y2="97.99" stroke-width="1.1"/><line x1="1070.60" y1="97.99" x2="1065.80" y2="97.99" stroke-width="1.1"/><line x1="576.00" y1="92.02" x2="580.80" y2="92.02" stroke-width="1.1"/><line x1="1070.60" y1="92.02" x2="1065.80" y2="92.02" stroke-width="1.1"/><line x1="576.00" y1="86.98" x2="580.80" y2="86.98" stroke-width="1.1"/><line x1="1070.60" y1="86.98" x2="1065.80" y2="86.98" stroke-width="1.1"/><line x1="576.00" y1="82.61" x2="580.80" y2="82.61" stroke-width="1.1"/><line x1="1070.60" y1="82.61" x2="1065.80" y2="82.61" stroke-width="1.1"/><line x1="576.00" y1="78.75" x2="580.80" y2="78.75" stroke-width="1.1"/><line x1="1070.60" y1="78.75" x2="1065.80" y2="78.75" stroke-width="1.1"/><line x1="576.00" y1="75.30" x2="586.50" y2="75.30" stroke-width="1.5"/><line x1="1070.60" y1="75.30" x2="1060.10" y2="75.30" stroke-width="1.5"/><line x1="576.00" y1="52.61" x2="580.80" y2="52.61" stroke-width="1.1"/><line x1="1070.60" y1="52.61" x2="1065.80" y2="52.61" stroke-width="1.1"/><line x1="576.00" y1="39.33" x2="580.80" y2="39.33" stroke-width="1.1"/><line x1="1070.60" y1="39.33" x2="1065.80" y2="39.33" stroke-width="1.1"/><line x1="576.00" y1="29.92" x2="580.80" y2="29.92" stroke-width="1.1"/><line x1="1070.60" y1="29.92" x2="1065.80" y2="29.92" stroke-width="1.1"/></g><rect x="81.00" y="22.60" width="495.00" height="436.90" fill="none" stroke="#000" stroke-width="1.6"/><rect x="576.00" y="22.60" width="494.60" height="436.90" fill="none" stroke="#000" stroke-width="1.6"/><g font-family='"Liberation Serif", serif' fill="#1c1c1c"><text transform="translate(93.72,483.50) scale(0.852,1)" font-size="23.18">11</text><text transform="translate(205.58,483.50) scale(0.873,1)" font-size="23.18">12</text><text transform="translate(318.11,483.50) scale(0.858,1)" font-size="23.18">13</text><text transform="translate(430.66,483.50) scale(0.834,1)" font-size="23.18">14</text><text transform="translate(543.11,483.50) scale(0.858,1)" font-size="23.18">15</text><text transform="translate(588.72,483.50) scale(0.852,1)" font-size="23.18">11</text><text transform="translate(700.58,483.50) scale(0.873,1)" font-size="23.18">12</text><text transform="translate(813.11,483.50) scale(0.858,1)" font-size="23.18">13</text><text transform="translate(925.66,483.50) scale(0.834,1)" font-size="23.18">14</text><text transform="translate(1038.11,483.50) scale(0.858,1)" font-size="23.18">15</text><text transform="translate(30.46,460.10) scale(0.945,1)" font-size="21.65">10</text><rect x="52.4" y="447.20" width="9.1" height="1.0"/><text transform="translate(63.45,451.90) scale(1.000,1)" font-size="14.55">3</text><text transform="translate(30.46,384.72) scale(0.945,1)" font-size="21.65">10</text><rect x="52.4" y="371.82" width="9.1" height="1.0"/><text transform="translate(63.45,376.52) scale(1.000,1)" font-size="14.55">2</text><text transform="translate(30.46,309.34) scale(0.945,1)" font-size="21.65">10</text><rect x="52.4" y="296.44" width="9.1" height="1.0"/><text transform="translate(62.86,301.14) scale(1.000,1)" font-size="14.55">1</text><text transform="translate(42.36,233.96) scale(0.945,1)" font-size="21.65">10</text><text transform="translate(62.82,225.76) scale(1.000,1)" font-size="14.44">0</text><text transform="translate(42.36,158.58) scale(0.945,1)" font-size="21.65">10</text><text transform="translate(62.16,150.38) scale(1.000,1)" font-size="14.55">1</text><text transform="translate(42.36,83.20) scale(0.945,1)" font-size="21.65">10</text><text transform="translate(62.75,75.00) scale(1.000,1)" font-size="14.55">2</text><text transform="translate(294.02,18.50) scale(0.949,1)" font-size="22.42">SMBHs</text><text transform="translate(797.29,18.50) scale(0.931,1)" font-size="22.42">AGNs</text></g><g fill="#1c1c1c"><polyline points="1.2,221.9 14.5,216.9 28.3,221.9" fill="none" stroke="#000" stroke-width="1.25"/><polyline points="1.2,259.8 14.5,265.0 28.3,259.8" fill="none" stroke="#000" stroke-width="1.25"/><text transform="translate(21.2,241.9) rotate(-90) scale(1.09,1)" text-anchor="middle" font-size="28.5" font-style="italic" font-family='"Liberation Serif", serif'>N</text><text transform="translate(478.39,512.90) scale(1.012,1)" font-size="27.05" font-style="italic" font-family='"Liberation Serif", serif'>log</text><text transform="translate(520.89,512.60) scale(1.007,1)" font-size="29.01" font-style="italic" font-family='"Liberation Serif", serif'>M</text><text transform="translate(545.60,516.40) scale(1.092,1)" font-size="18.42" font-style="italic" font-family='"Liberation Serif", serif'>halo</text><path d="M592.6,492.8 H589.6 V521 M635.2,492.8 H638.3 V521" fill="none" stroke="#000" stroke-width="1.3"/><text transform="translate(594.50,512.60) scale(1.046,1)" font-size="28.24" font-style="italic" font-family='"Liberation Serif", serif'>M</text><circle cx="626.5" cy="512.1" r="6.2" fill="none" stroke="#000" stroke-width="1.05"/><circle cx="626.5" cy="512.1" r="1.35" fill="#000"/><rect x="257.7" y="64.1" width="141.6" height="26.4" fill="#fff" stroke="#222" stroke-width="1.15"/><text transform="translate(261.72,84.30) scale(0.985,1)" font-size="22.60" font-style="italic" font-family='"Liberation Serif", serif'>M</text><text transform="translate(282.64,87.30) scale(1.055,1)" font-size="15.42" font-style="italic" font-family='"Liberation Serif", serif'>BH</text><path d="M314.9,70.5 L328.2,76.7 L314.9,82.9 M314.9,87.0 H328.2" fill="none" stroke="#000" stroke-width="1.1"/><text transform="translate(336.67,84.70) scale(0.939,1)" font-size="21.65" font-family='"Liberation Serif", serif'>10</text><text transform="translate(357.66,76.40) scale(1.051,1)" font-size="15.27" font-family='"Liberation Serif", serif'>7</text><text transform="translate(366.22,84.70) scale(0.958,1)" font-size="22.75" font-style="italic" font-family='"Liberation Serif", serif'>M</text><circle cx="391.3" cy="83.7" r="4.95" fill="none" stroke="#000" stroke-width="0.9"/><circle cx="391.3" cy="83.7" r="1.05" fill="#000"/><rect x="738.4" y="64.1" width="170.5" height="26.2" fill="#fff" stroke="#222" stroke-width="1.15"/><text transform="translate(742.61,84.30) scale(0.928,1)" font-size="22.60" font-style="italic" font-family='"Liberation Serif", serif'>L</text><text transform="translate(754.90,87.60) scale(0.957,1)" font-size="14.82" font-style="italic" font-family='"Liberation Serif", serif'>bol</text><path d="M782.2,70.6 L795.6,76.7 L782.2,82.8 M782.2,86.9 H795.6" fill="none" stroke="#000" stroke-width="1.1"/><text transform="translate(804.39,84.40) scale(0.876,1)" font-size="21.65" font-family='"Liberation Serif", serif'>10</text><text transform="translate(824.34,76.00) scale(0.953,1)" font-size="13.48" font-family='"Liberation Serif", serif'>44</text><text transform="translate(842.64,83.90) scale(0.854,1)" font-size="21.91" font-style="italic" font-family='"Liberation Serif", serif'>e</text><text transform="translate(851.25,83.90) scale(0.860,1)" font-size="21.91" font-style="italic" font-family='"Liberation Serif", serif'>r</text><text transform="translate(863.60,83.90) scale(0.806,1)" font-size="21.91" font-style="italic" font-family='"Liberation Serif", serif'>g</text><text transform="translate(878.38,83.90) scale(1.004,1)" font-size="21.91" font-style="italic" font-family='"Liberation Serif", serif'>s</text><rect x="888.6" y="71.9" width="9.1" height="1.0" fill="#000"/><text transform="translate(900.14,76.00) scale(0.800,1)" font-size="14.09" font-family='"Liberation Serif", serif'>1</text><rect x="89.5" y="31.3" width="119.4" height="74.0" rx="3" ry="3" fill="#fff" fill-opacity="0.8" stroke="#cccccc" stroke-width="1"/><text x="120.2" y="49.4" font-size="16.5" font-family='"Liberation Serif", serif'>Location</text><text x="142.6" y="72.4" font-size="16.5" font-family='"Liberation Serif", serif'>Centrals</text><text x="142.6" y="95.3" font-size="16.5" font-family='"Liberation Serif", serif'>Satellites</text><circle cx="112.4" cy="66.4" r="5.1" fill="#000"/><path d="M108.2,85.5 L116.6,93.9 M116.6,85.5 L108.2,93.9" stroke="#000" stroke-width="2" fill="none"/><rect x="585.1" y="31.6" width="97.0" height="119.7" rx="3" ry="3" fill="#fff" fill-opacity="0.8" stroke="#cccccc" stroke-width="1"/><text x="605.6" y="48.8" font-size="16.5" font-family='"Liberation Serif", serif'>Redshift</text><line x1="607.8" y1="57.7" x2="607.8" y2="74.9" stroke="#1f618d" stroke-width="1.39"/><line x1="604.9" y1="57.7" x2="610.7" y2="57.7" stroke="#1f618d" stroke-width="2"/><line x1="604.9" y1="74.9" x2="610.7" y2="74.9" stroke="#1f618d" stroke-width="2"/><circle cx="607.8" cy="66.3" r="5.1" fill="#1f618d"/><text x="636.8" y="72.8" font-size="16.5" font-family='"Liberation Serif", serif'>z=0.1</text><line x1="607.8" y1="81.0" x2="607.8" y2="98.2" stroke="#1a703f" stroke-width="1.39"/><line x1="604.9" y1="81.0" x2="610.7" y2="81.0" stroke="#1a703f" stroke-width="2"/><line x1="604.9" y1="98.2" x2="610.7" y2="98.2" stroke="#1a703f" stroke-width="2"/><circle cx="607.8" cy="89.6" r="5.1" fill="#1a703f"/><text x="636.8" y="96.1" font-size="16.5" font-family='"Liberation Serif", serif'>z=1</text><line x1="607.8" y1="104.3" x2="607.8" y2="121.5" stroke="#ba4a00" stroke-width="1.39"/><line x1="604.9" y1="104.3" x2="610.7" y2="104.3" stroke="#ba4a00" stroke-width="2"/><line x1="604.9" y1="121.5" x2="610.7" y2="121.5" stroke="#ba4a00" stroke-width="2"/><circle cx="607.8" cy="112.9" r="5.1" fill="#ba4a00"/><text x="636.8" y="119.4" font-size="16.5" font-family='"Liberation Serif", serif'>z=2</text><line x1="607.8" y1="127.6" x2="607.8" y2="144.8" stroke="#7d3c98" stroke-width="1.39"/><line x1="604.9" y1="127.6" x2="610.7" y2="127.6" stroke="#7d3c98" stroke-width="2"/><line x1="604.9" y1="144.8" x2="610.7" y2="144.8" stroke="#7d3c98" stroke-width="2"/><circle cx="607.8" cy="136.2" r="5.1" fill="#7d3c98"/><text x="636.8" y="142.7" font-size="16.5" font-family='"Liberation Serif", serif'>z=3</text></g></svg></body></html>
